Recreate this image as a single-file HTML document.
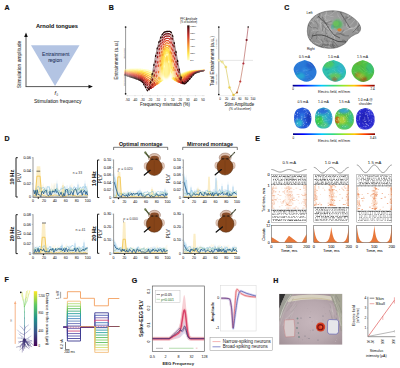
<!DOCTYPE html>
<html><head><meta charset="utf-8"><style>
html,body{margin:0;padding:0;background:#fff;width:400px;height:368px;overflow:hidden}
svg text{font-family:"Liberation Sans",sans-serif}
</style></head><body><svg width="400" height="368" viewBox="0 0 400 368" style="display:block"><defs><linearGradient id="bfade" x1="125" y1="0" x2="205" y2="0" gradientUnits="userSpaceOnUse"><stop offset="0" stop-color="#fff" stop-opacity="0.5"/><stop offset="0.22" stop-color="#fff" stop-opacity="1"/><stop offset="0.8" stop-color="#fff" stop-opacity="1"/><stop offset="1" stop-color="#fff" stop-opacity="0.6"/></linearGradient><mask id="bmask" maskUnits="userSpaceOnUse" x="120" y="20" width="90" height="80"><rect x="120" y="20" width="90" height="80" fill="url(#bfade)"/></mask><linearGradient id="hotg" x1="0" y1="1" x2="0" y2="0"><stop offset="0" stop-color="#ffffc8"/><stop offset="0.2" stop-color="#ffe449"/><stop offset="0.45" stop-color="#f58c2d"/><stop offset="0.7" stop-color="#c93329"/><stop offset="0.88" stop-color="#7d1419"/><stop offset="1" stop-color="#230606"/></linearGradient><filter id="bl1" x="-50%" y="-50%" width="200%" height="200%"><feGaussianBlur stdDeviation="1.2"/></filter><filter id="bl05" x="-50%" y="-50%" width="200%" height="200%"><feGaussianBlur stdDeviation="0.5"/></filter><filter id="bl2" x="-50%" y="-50%" width="200%" height="200%"><feGaussianBlur stdDeviation="2"/></filter><clipPath id="brclip"><path d="M307.3,31 C307.5,29.83 307.63,26.17 308.5,24 C309.37,21.83 310.92,19.67 312.5,18 C314.08,16.33 315.92,15.08 318,14 C320.08,12.92 322.5,12.03 325,11.5 C327.5,10.97 330.33,10.75 333,10.8 C335.67,10.85 338.5,11.18 341,11.8 C343.5,12.42 345.83,13.38 348,14.5 C350.17,15.62 352.25,17.08 354,18.5 C355.75,19.92 357.4,21.42 358.5,23 C359.6,24.58 360.52,26.42 360.6,28 C360.68,29.58 360.1,31.33 359,32.5 C357.9,33.67 355.67,34 354,35 C352.33,36 350.5,37.08 349,38.5 C347.5,39.92 347,42 345,43.5 C343,45 339.83,46.7 337,47.5 C334.17,48.3 331,48.47 328,48.3 C325,48.13 321.67,47.47 319,46.5 C316.33,45.53 313.78,44.08 312,42.5 C310.22,40.92 309.08,38.92 308.3,37 C307.52,35.08 307.47,32 307.3,31 Z"/></clipPath><radialGradient id="brg" cx="0.45" cy="0.4" r="0.7"><stop offset="0" stop-color="#a8a8a8"/><stop offset="0.7" stop-color="#929292"/><stop offset="1" stop-color="#767676"/></radialGradient><clipPath id="cb1"><path d="M304.7,59.9 C305.92,60.45 310.03,61.35 312,63.2 C313.97,65.05 316.17,68.47 316.5,71 C316.83,73.53 315.7,76.62 314,78.4 C312.3,80.18 308.97,81.77 306.3,81.7 C303.63,81.63 300.12,80.03 298,78 C295.88,75.97 293.72,72 293.6,69.5 C293.48,67 295.45,64.6 297.3,63 C299.15,61.4 303.47,60.42 304.7,59.9 Z"/></clipPath><clipPath id="cb2"><path d="M333.5,59.9 C334.83,60.5 339.42,61.65 341.5,63.5 C343.58,65.35 345.67,68.5 346,71 C346.33,73.5 345.33,76.72 343.5,78.5 C341.67,80.28 337.75,81.78 335,81.7 C332.25,81.62 329.12,79.95 327,78 C324.88,76.05 322.47,72.5 322.3,70 C322.13,67.5 324.13,64.68 326,63 C327.87,61.32 332.25,60.42 333.5,59.9 Z"/></clipPath><clipPath id="cb3"><path d="M362.7,59.9 C364,60.5 368.58,61.73 370.5,63.5 C372.42,65.27 374.03,68.08 374.2,70.5 C374.37,72.92 373.28,76.08 371.5,78 C369.72,79.92 366.17,81.92 363.5,82 C360.83,82.08 357.5,80.28 355.5,78.5 C353.5,76.72 351.67,73.72 351.5,71.3 C351.33,68.88 352.63,65.9 354.5,64 C356.37,62.1 361.33,60.58 362.7,59.9 Z"/></clipPath><linearGradient id="jetg" x1="0" y1="0" x2="1" y2="0"><stop offset="0" stop-color="#000082"/><stop offset="0.12" stop-color="#0000ff"/><stop offset="0.35" stop-color="#00c8ff"/><stop offset="0.5" stop-color="#3cdc78"/><stop offset="0.62" stop-color="#96e628"/><stop offset="0.75" stop-color="#ffc800"/><stop offset="0.88" stop-color="#ff3c00"/><stop offset="1" stop-color="#820000"/></linearGradient><clipPath id="cc1"><path d="M302.5,107.5 C303.42,107.83 306.58,108.25 308,109.5 C309.42,110.75 310.5,112.92 311,115 C311.5,117.08 311.5,120 311,122 C310.5,124 309.42,125.92 308,127 C306.58,128.08 304.33,128.5 302.5,128.5 C300.67,128.5 298.37,128.25 297,127 C295.63,125.75 294.72,123.17 294.3,121 C293.88,118.83 294.05,115.92 294.5,114 C294.95,112.08 295.67,110.58 297,109.5 C298.33,108.42 301.58,107.83 302.5,107.5 Z"/></clipPath><clipPath id="cc2"><path d="M323.5,107.5 C324.42,107.83 327.58,108.25 329,109.5 C330.42,110.75 331.5,112.92 332,115 C332.5,117.08 332.5,120 332,122 C331.5,124 330.42,125.92 329,127 C327.58,128.08 325.33,128.5 323.5,128.5 C321.67,128.5 319.37,128.25 318,127 C316.63,125.75 315.72,123.17 315.3,121 C314.88,118.83 315.05,115.92 315.5,114 C315.95,112.08 316.67,110.58 318,109.5 C319.33,108.42 322.58,107.83 323.5,107.5 Z"/></clipPath><clipPath id="cc3"><path d="M344.3,108 C345.25,108.33 348.47,108.67 350,110 C351.53,111.33 352.92,113.83 353.5,116 C354.08,118.17 354.08,121 353.5,123 C352.92,125 351.53,126.92 350,128 C348.47,129.08 346.22,129.5 344.3,129.5 C342.38,129.5 340.02,129.25 338.5,128 C336.98,126.75 335.73,124.17 335.2,122 C334.67,119.83 334.75,117 335.3,115 C335.85,113 337,111.17 338.5,110 C340,108.83 343.33,108.33 344.3,108 Z"/></clipPath><clipPath id="cc4"><path d="M365.3,108 C366.25,108.33 369.5,108.67 371,110 C372.5,111.33 373.75,113.83 374.3,116 C374.85,118.17 374.85,121 374.3,123 C373.75,125 372.5,126.92 371,128 C369.5,129.08 367.22,129.5 365.3,129.5 C363.38,129.5 361,129.25 359.5,128 C358,126.75 356.8,124.17 356.3,122 C355.8,119.83 355.97,117 356.5,115 C357.03,113 358.03,111.17 359.5,110 C360.97,108.83 364.33,108.33 365.3,108 Z"/></clipPath><clipPath id="eclip0"><rect x="271.3" y="185" width="35.3" height="24.5"/></clipPath><clipPath id="eclip1"><rect x="313.8" y="185" width="34.9" height="22"/></clipPath><clipPath id="eclip2"><rect x="356.8" y="186.5" width="35" height="24"/></clipPath><linearGradient id="virg" x1="0" y1="1" x2="0" y2="0"><stop offset="0" stop-color="#440154"/><stop offset="0.25" stop-color="#3b528b"/><stop offset="0.5" stop-color="#21918c"/><stop offset="0.75" stop-color="#5ec962"/><stop offset="1" stop-color="#fde725"/></linearGradient><clipPath id="gclip"><rect x="152.3" y="286" width="52" height="65.5"/></clipPath><clipPath id="hclip"><rect x="279.2" y="293.9" width="63" height="50.7"/></clipPath><radialGradient id="skin" cx="0.5" cy="0.55" r="0.65"><stop offset="0" stop-color="#c6b6bc"/><stop offset="0.6" stop-color="#b8a8ae"/><stop offset="1" stop-color="#a29298"/></radialGradient></defs><rect width="400" height="368" fill="#fff"/><text x="4.6" y="9.6" font-size="7" text-anchor="start" font-weight="bold" fill="#111" stroke="#111" stroke-width="0.2" style="">A</text><text x="57" y="28.4" font-size="5.69" text-anchor="middle" font-weight="bold" fill="#111" textLength="42" lengthAdjust="spacingAndGlyphs" stroke="#111" stroke-width="0.05" style="">Arnold tongues</text><polygon points="31,45.2 79.5,45.2 55,86" fill="#b3c4e3" stroke="none" stroke-width="0.5" /><text x="55.7" y="55.9" font-size="5.08" text-anchor="middle" font-weight="normal" fill="#26345c" textLength="27.4" lengthAdjust="spacingAndGlyphs" stroke="#26345c" stroke-width="0.06" style="">Entrainment</text><text x="55.1" y="61.5" font-size="4.96" text-anchor="middle" font-weight="normal" fill="#26345c" textLength="13.8" lengthAdjust="spacingAndGlyphs" stroke="#26345c" stroke-width="0.06" style="">region</text><line x1="26" y1="86.6" x2="26" y2="36" stroke="#222" stroke-width="0.75" /><polygon points="24.2,37 27.8,37 26,32.6" fill="#111" stroke="none" stroke-width="0.5" /><line x1="25.6" y1="86.6" x2="89" y2="86.6" stroke="#222" stroke-width="0.75" /><polygon points="88.5,84.8 88.5,88.4 92.9,86.6" fill="#111" stroke="none" stroke-width="0.5" /><text x="21" y="64.5" font-size="4.97" text-anchor="middle" font-weight="normal" fill="#2a2a2a" transform="rotate(-90 21 64.5)" textLength="47.5" lengthAdjust="spacingAndGlyphs" stroke="#2a2a2a" stroke-width="0.05" style="">Stimulation amplitude</text><text x="55.3" y="95.4" font-size="5.2" text-anchor="middle" font-weight="normal" fill="#222" stroke="#222" stroke-width="0.05" style="font-style:italic">f</text><text x="56.5" y="96.2" font-size="2.8" text-anchor="start" font-weight="normal" fill="#333" style="">0</text><text x="57.7" y="102.9" font-size="4.94" text-anchor="middle" font-weight="normal" fill="#2a2a2a" textLength="47.5" lengthAdjust="spacingAndGlyphs" stroke="#2a2a2a" stroke-width="0.05" style="">Stimulation frequency</text><text x="108.8" y="9.6" font-size="7" text-anchor="start" font-weight="bold" fill="#111" stroke="#111" stroke-width="0.2" style="">B</text><line x1="125.6" y1="27" x2="125.6" y2="93.8" stroke="#333" stroke-width="0.5" /><circle cx="125.6" cy="27" r="0.85" fill="#111" stroke="none" stroke-width="0.5" /><circle cx="125.6" cy="93.8" r="0.85" fill="#111" stroke="none" stroke-width="0.5" /><text x="117.6" y="60.2" font-size="4.9" text-anchor="middle" font-weight="normal" fill="#2a2a2a" transform="rotate(-90 117.6 60.2)" textLength="39.2" lengthAdjust="spacingAndGlyphs" stroke="#2a2a2a" stroke-width="0.05" style="">Entrainment (a.u.)</text><text x="125.2" y="53.5" font-size="2.5" text-anchor="middle" font-weight="normal" fill="#666" transform="rotate(-90 125.2 53.5)" textLength="11" lengthAdjust="spacingAndGlyphs" style="">Increased</text><text x="125.2" y="80" font-size="2.48" text-anchor="middle" font-weight="normal" fill="#666" transform="rotate(-90 125.2 80)" textLength="12" lengthAdjust="spacingAndGlyphs" style="">Decreased</text><text x="127.45" y="100.5" font-size="3.1" text-anchor="middle" font-weight="normal" fill="#333" stroke="#333" stroke-width="0.03" style="">-50</text><line x1="127.45" y1="95" x2="127.45" y2="96.2" stroke="#999" stroke-width="0.3" /><text x="135" y="100.5" font-size="3.1" text-anchor="middle" font-weight="normal" fill="#333" stroke="#333" stroke-width="0.03" style="">-40</text><line x1="135" y1="95" x2="135" y2="96.2" stroke="#999" stroke-width="0.3" /><text x="142.55" y="100.5" font-size="3.1" text-anchor="middle" font-weight="normal" fill="#333" stroke="#333" stroke-width="0.03" style="">-30</text><line x1="142.55" y1="95" x2="142.55" y2="96.2" stroke="#999" stroke-width="0.3" /><text x="150.1" y="100.5" font-size="3.1" text-anchor="middle" font-weight="normal" fill="#333" stroke="#333" stroke-width="0.03" style="">-20</text><line x1="150.1" y1="95" x2="150.1" y2="96.2" stroke="#999" stroke-width="0.3" /><text x="157.65" y="100.5" font-size="3.1" text-anchor="middle" font-weight="normal" fill="#333" stroke="#333" stroke-width="0.03" style="">-10</text><line x1="157.65" y1="95" x2="157.65" y2="96.2" stroke="#999" stroke-width="0.3" /><text x="165.2" y="100.5" font-size="3.1" text-anchor="middle" font-weight="normal" fill="#333" stroke="#333" stroke-width="0.03" style="">0</text><line x1="165.2" y1="95" x2="165.2" y2="96.2" stroke="#999" stroke-width="0.3" /><text x="172.75" y="100.5" font-size="3.1" text-anchor="middle" font-weight="normal" fill="#333" stroke="#333" stroke-width="0.03" style="">10</text><line x1="172.75" y1="95" x2="172.75" y2="96.2" stroke="#999" stroke-width="0.3" /><text x="180.3" y="100.5" font-size="3.1" text-anchor="middle" font-weight="normal" fill="#333" stroke="#333" stroke-width="0.03" style="">20</text><line x1="180.3" y1="95" x2="180.3" y2="96.2" stroke="#999" stroke-width="0.3" /><text x="187.85" y="100.5" font-size="3.1" text-anchor="middle" font-weight="normal" fill="#333" stroke="#333" stroke-width="0.03" style="">30</text><line x1="187.85" y1="95" x2="187.85" y2="96.2" stroke="#999" stroke-width="0.3" /><text x="195.4" y="100.5" font-size="3.1" text-anchor="middle" font-weight="normal" fill="#333" stroke="#333" stroke-width="0.03" style="">40</text><line x1="195.4" y1="95" x2="195.4" y2="96.2" stroke="#999" stroke-width="0.3" /><text x="202.95" y="100.5" font-size="3.1" text-anchor="middle" font-weight="normal" fill="#333" stroke="#333" stroke-width="0.03" style="">50</text><line x1="202.95" y1="95" x2="202.95" y2="96.2" stroke="#999" stroke-width="0.3" /><line x1="125.6" y1="95.6" x2="205" y2="95.6" stroke="#ccc" stroke-width="0.3" /><text x="165" y="105.8" font-size="4.5" text-anchor="middle" font-weight="normal" fill="#2a2a2a" textLength="50" lengthAdjust="spacingAndGlyphs" stroke="#2a2a2a" stroke-width="0.05" style="">Frequency mismatch (%)</text><ellipse cx="166.2" cy="62" rx="6" ry="15" fill="#ffd83a" stroke="none" stroke-width="0.5" filter="url(#bl1)" opacity="0.9"/><ellipse cx="166.2" cy="70" rx="3.2" ry="9" fill="#fff6a0" stroke="none" stroke-width="0.5" filter="url(#bl1)" opacity="0.9"/><g mask="url(#bmask)"><path d="M125,69.5 C127.5,69.45 135.33,68.78 140,69.2 C144.67,69.62 149.25,70.2 153,72 C156.75,73.8 160.75,80 162.5,80 C164.25,80 163.17,74.83 163.5,72 C163.83,69.17 164.2,65.42 164.5,63 C164.8,60.58 165.05,58.83 165.3,57.5 C165.55,56.17 165.75,55.5 166,55 C166.25,54.5 166.53,54.5 166.8,54.5 C167.07,54.5 167.27,53.92 167.6,55 C167.93,56.08 168.4,58.83 168.8,61 C169.2,63.17 169.47,65.08 170,68 C170.53,70.92 170.67,77.33 172,78.5 C173.33,79.67 175,76.25 178,75 C181,73.75 185.67,71.78 190,71 C194.33,70.22 201.67,70.42 204,70.3" stroke="#ffffc8" fill="none" stroke-width="0.45" stroke-linecap="round" stroke-linejoin="round"/><path d="M125 69.5h0M126.52 69.44L127.62 69.38M128.67 69.32L129.77 69.26M130.29 69.24L131.39 69.19M132 69.16L133.1 69.12M133.75 69.1L134.85 69.07M135.49 69.07L136.59 69.06M137.17 69.07L138.26 69.09M139.45 69.16L140.55 69.24M141.54 69.35L142.64 69.46M143.61 69.58L144.7 69.72M145.64 69.87L146.72 70.05M147.61 70.24L148.69 70.48M149.51 70.71L150.57 71.02M151.34 71.3L152.36 71.69M153.08 72.04L154.05 72.56M154.83 73.18L155.69 73.87M156.53 74.67L157.32 75.44M158.62 76.8L159.38 77.6M160.4 78.63L161.21 79.38M161.96 79.91L163.04 80.09M164.06 66.94L164.17 65.85M165.56 56.24L165.88 55.19M166.92 54.05L167.74 54.78M168.88 61.42L169.07 62.5M170.56 72.72L170.68 73.81M171.9 78.53L172.93 78.91M173.67 78.26L174.51 77.55M175.56 76.59L176.41 75.89M177.5 75.23L178.5 74.77M179.48 74.39L180.49 73.97M181.16 73.71L182.19 73.31M182.98 73.01L184.02 72.64M184.89 72.35L185.94 72.01M186.85 71.74L187.91 71.45M188.81 71.24L189.89 71.01M190.84 70.87L191.93 70.72M193.14 70.62L194.24 70.53M194.76 70.51L195.86 70.45M196.39 70.44L197.49 70.4M198.76 70.38L199.86 70.36M200.89 70.35L201.99 70.34M202.61 70.34L203.71 70.32" stroke="#ffffc8" fill="none" stroke-width="1.3" stroke-linecap="round"/><path d="M125,70.06 C127.5,70.11 135.5,69.79 140,70.36 C144.5,70.93 148.47,71.73 152,73.5 C155.53,75.27 159.45,81.25 161.2,81 C162.95,80.75 162.07,75.23 162.5,72 C162.93,68.77 163.41,64.33 163.8,61.6 C164.19,58.87 164.5,57.07 164.84,55.6 C165.18,54.13 165.53,53.37 165.86,52.8 C166.19,52.23 166.49,52.17 166.84,52.2 C167.19,52.23 167.55,51.73 167.98,53 C168.41,54.27 168.95,57.33 169.44,59.8 C169.93,62.27 170.29,64.58 170.9,67.8 C171.51,71.02 171.72,77.8 173.1,79.1 C174.48,80.4 176.28,76.9 179.2,75.6 C182.12,74.3 186.47,72.18 190.6,71.3 C194.73,70.42 201.77,70.48 204,70.32" stroke="#fff188" fill="none" stroke-width="0.45" stroke-linecap="round" stroke-linejoin="round"/><path d="M125 70.06h0M126.54 70.06L127.64 70.05M128.71 70.04L129.81 70.02M130.35 70.02L131.45 70.01M132.07 70.01L133.17 70.02M133.82 70.03L134.92 70.04M135.56 70.06L136.66 70.1M137.22 70.13L138.32 70.19M139.45 70.3L140.55 70.42M141.45 70.56L142.53 70.72M143.37 70.86L144.45 71.05M145.22 71.22L146.3 71.46M147.02 71.65L148.08 71.94M148.75 72.16L149.79 72.52M150.42 72.78L151.43 73.21M152.05 73.53L153.01 74.06M153.72 74.64L154.57 75.33M155.87 76.59L156.65 77.37M157.84 78.59L158.61 79.37M159.48 80.15L160.34 80.82M161.2 81.1L162.1 80.45M163.23 66.06L163.36 64.96M164.81 55.71L165.08 54.65M166.04 52.29L167.13 52.11M168.12 53.42L168.39 54.49M169.76 61.47L169.95 62.55M171.4 71.55L171.52 72.65M172.74 78.68L173.46 79.52M174.27 79.29L175.2 78.71M176.11 77.84L176.93 77.11M177.9 76.35L178.82 75.75M179.62 75.41L180.62 74.96M181.67 74.49L182.67 74.04M183.35 73.75L184.36 73.32M185.13 73.02L186.15 72.62M186.96 72.34L188.01 71.98M188.83 71.75L189.89 71.45M190.7 71.28L191.78 71.07M192.82 70.94L193.91 70.81M195.13 70.71L196.22 70.63M197.46 70.57L198.56 70.51M199.67 70.48L200.77 70.44M201.6 70.42L202.7 70.38M203.45 70.35L204.55 70.29" stroke="#fff188" fill="none" stroke-width="1.3" stroke-linecap="round"/><path d="M125,70.62 C127.5,70.77 135.67,70.79 140,71.52 C144.33,72.25 147.68,73.25 151,75 C154.32,76.75 158.15,82.5 159.9,82 C161.65,81.5 160.97,75.63 161.5,72 C162.03,68.37 162.62,63.25 163.1,60.2 C163.58,57.15 163.94,55.3 164.38,53.7 C164.82,52.1 165.3,51.23 165.72,50.6 C166.14,49.97 166.44,49.83 166.88,49.9 C167.32,49.97 167.83,49.55 168.36,51 C168.89,52.45 169.51,55.83 170.08,58.6 C170.65,61.37 171.11,64.08 171.8,67.6 C172.49,71.12 172.77,78.27 174.2,79.7 C175.63,81.13 177.57,77.55 180.4,76.2 C183.23,74.85 187.27,72.58 191.2,71.6 C195.13,70.62 201.87,70.55 204,70.34" stroke="#ffe449" fill="none" stroke-width="0.45" stroke-linecap="round" stroke-linejoin="round"/><path d="M125 70.62h0M126.55 70.68L127.65 70.72M128.75 70.75L129.85 70.78M130.4 70.8L131.5 70.84M132.14 70.87L133.24 70.91M133.9 70.95L135 71.01M135.63 71.05L136.73 71.13M137.28 71.18L138.37 71.29M139.46 71.44L140.54 71.6M141.35 71.76L142.43 71.97M143.12 72.14L144.2 72.39M144.81 72.56L145.87 72.87M146.42 73.05L147.46 73.41M148.49 73.82L149.5 74.25M150.51 74.75L151.49 75.25M152.61 76.1L153.45 76.8M154.67 77.98L155.45 78.75M156.57 79.87L157.36 80.64M158.17 81.32L159.07 81.95M159.95 82.06L160.77 81.33M161.92 68.97L162.06 67.88M163.53 57.6L163.73 56.51M165.01 51.86L165.51 50.88M166.33 49.83L167.43 49.97M168.36 50.97L168.69 52.01M170.05 58.48L170.28 59.55M171.7 67.06L171.9 68.14M173.32 77.7L173.61 78.76M174.57 80.05L175.67 79.98M176.36 79.35L177.19 78.64M178.02 77.88L178.86 77.16M179.91 76.45L180.89 75.95M181.74 75.54L182.73 75.05M183.8 74.52L184.79 74.04M185.45 73.73L186.45 73.28M187.16 72.98L188.18 72.56M188.91 72.3L189.95 71.94M190.67 71.74L191.73 71.46M192.59 71.31L193.68 71.13M194.75 71L195.84 70.87M196.99 70.78L198.08 70.69M199.16 70.63L200.25 70.56M201.1 70.52L202.2 70.46M203.1 70.41L204.2 70.33" stroke="#ffe449" fill="none" stroke-width="1.3" stroke-linecap="round"/><path d="M125,71.18 C127.5,71.43 135.83,71.79 140,72.68 C144.17,73.57 146.9,74.78 150,76.5 C153.1,78.22 156.85,83.75 158.6,83 C160.35,82.25 159.87,76.03 160.5,72 C161.13,67.97 161.83,62.17 162.4,58.8 C162.97,55.43 163.39,53.53 163.92,51.8 C164.45,50.07 165.08,49.1 165.58,48.4 C166.08,47.7 166.39,47.5 166.92,47.6 C167.45,47.7 168.11,47.37 168.74,49 C169.37,50.63 170.06,54.33 170.72,57.4 C171.38,60.47 171.94,63.58 172.7,67.4 C173.46,71.22 173.82,78.73 175.3,80.3 C176.78,81.87 178.85,78.2 181.6,76.8 C184.35,75.4 188.07,72.97 191.8,71.9 C195.53,70.83 201.97,70.62 204,70.36" stroke="#fcc337" fill="none" stroke-width="0.45" stroke-linecap="round" stroke-linejoin="round"/><path d="M125 71.18h0M126.57 71.31L127.67 71.39M128.79 71.46L129.89 71.54M130.46 71.58L131.56 71.66M132.21 71.72L133.3 71.81M133.97 71.87L135.07 71.98M135.7 72.05L136.8 72.17M137.33 72.24L138.42 72.39M139.46 72.57L140.54 72.79M141.25 72.97L142.32 73.24M142.89 73.41L143.94 73.73M144.89 74.08L145.91 74.48M146.76 74.85L147.76 75.31M148.59 75.74L149.57 76.25M150.5 76.8L151.4 77.44M152.49 78.43L153.3 79.18M154.41 80.29L155.2 81.06M156.13 81.9L156.98 82.6M157.77 83.03L158.87 83.1M159.92 79.28L160.02 78.18M161.5 64.99L161.65 63.9M163.06 55.23L163.29 54.15M164.59 50.04L165.11 49.07M165.96 47.74L167.02 47.45M167.77 47.62L168.56 48.38M169.7 52.58L169.94 53.66M171.38 60.61L171.59 61.69M173.05 69.51L173.2 70.6M174.67 79.15L175.1 80.17M175.99 80.74L177.06 80.49M177.88 79.75L178.71 79.02M179.61 78.2L180.45 77.5M181.53 76.84L182.51 76.33M183.35 75.86L184.31 75.33M185.33 74.77L186.3 74.24M187.43 73.66L188.42 73.18M189.06 72.9L190.08 72.47M190.72 72.25L191.76 71.89M192.46 71.73L193.53 71.48M194.45 71.33L195.54 71.16M196.58 71.03L197.67 70.9M198.68 70.81L199.78 70.71M200.63 70.65L201.72 70.56M202.26 70.52L203.36 70.43" stroke="#fcc337" fill="none" stroke-width="1.3" stroke-linecap="round"/><path d="M125,71.74 C127.5,72.09 136,72.8 140,73.84 C144,74.88 146.12,76.31 149,78 C151.88,79.69 155.55,85 157.3,84 C159.05,83 158.77,76.43 159.5,72 C160.23,67.57 161.04,61.08 161.7,57.4 C162.36,53.72 162.84,51.77 163.46,49.9 C164.08,48.03 164.86,46.97 165.44,46.2 C166.02,45.43 166.35,45.17 166.96,45.3 C167.57,45.43 168.39,45.18 169.12,47 C169.85,48.82 170.61,52.83 171.36,56.2 C172.11,59.57 172.76,63.08 173.6,67.2 C174.44,71.32 174.87,79.2 176.4,80.9 C177.93,82.6 180.13,78.85 182.8,77.4 C185.47,75.95 188.87,73.37 192.4,72.2 C195.93,71.03 202.07,70.68 204,70.38" stroke="#f79e30" fill="none" stroke-width="0.45" stroke-linecap="round" stroke-linejoin="round"/><path d="M125 71.74h0M126.59 71.93L127.68 72.05M128.83 72.18L129.93 72.3M130.52 72.37L131.61 72.49M132.28 72.57L133.37 72.7M134.05 72.8L135.14 72.94M135.78 73.04L136.86 73.2M137.39 73.3L138.47 73.49M139.47 73.71L140.53 73.97M141.16 74.17L142.21 74.5M143.11 74.86L144.13 75.28M144.84 75.64L145.82 76.14M146.46 76.51L147.42 77.06M148.1 77.47L149.05 78.03M149.91 78.63L150.77 79.32M151.8 80.3L152.6 81.06M153.62 82.05L154.42 82.8M155.21 83.42L156.13 84.03M156.79 84.19L157.81 83.81M158.87 78.4L158.96 77.3M160.44 65.76L160.59 64.67M162.06 55.48L162.27 54.4M163.64 49.38L164.06 48.36M165.19 46.52L165.86 45.65M166.61 45.25L167.69 45.41M168.49 45.85L169.08 46.78M170.34 51.49L170.58 52.57M172.01 59.27L172.23 60.35M173.62 67.3L173.83 68.38M175.31 78.09L175.56 79.16M176.6 81.18L177.67 81.47M178.42 80.92L179.3 80.26M180.12 79.49L180.94 78.75M181.95 77.94L182.86 77.33M183.57 76.96L184.52 76.4M185.38 75.86L186.31 75.28M187.29 74.68L188.24 74.12M189.3 73.55L190.27 73.05M191.36 72.59L192.38 72.19M193 72.02L194.06 71.73M194.89 71.57L195.97 71.36M196.91 71.22L198 71.06M198.91 70.95L200 70.82M200.76 70.74L201.86 70.63M202.75 70.54L203.85 70.41" stroke="#f79e30" fill="none" stroke-width="1.3" stroke-linecap="round"/><path d="M125,72.3 C127.5,72.75 136.17,73.8 140,75 C143.83,76.2 145.33,77.83 148,79.5 C150.67,81.17 154.25,86.25 156,85 C157.75,83.75 157.67,76.83 158.5,72 C159.33,67.17 160.25,60 161,56 C161.75,52 162.28,50 163,48 C163.72,46 164.63,44.83 165.3,44 C165.97,43.17 166.3,42.83 167,43 C167.7,43.17 168.67,43 169.5,45 C170.33,47 171.17,51.33 172,55 C172.83,58.67 173.58,62.58 174.5,67 C175.42,71.42 175.92,79.67 177.5,81.5 C179.08,83.33 181.42,79.5 184,78 C186.58,76.5 189.67,73.77 193,72.5 C196.33,71.23 202.17,70.75 204,70.4" stroke="#ef782d" fill="none" stroke-width="0.45" stroke-linecap="round" stroke-linejoin="round"/><path d="M125 72.3h0M126.61 72.56L127.7 72.72M128.88 72.89L129.96 73.05M130.58 73.15L131.66 73.31M132.35 73.42L133.43 73.6M134.13 73.72L135.21 73.91M135.85 74.03L136.93 74.24M138.18 74.52L139.25 74.77M140.04 75.01L141.08 75.35M141.99 75.74L142.99 76.21M143.97 76.78L144.9 77.37M145.71 77.95L146.61 78.58M147.54 79.2L148.46 79.8M149.28 80.47L150.1 81.2M151.07 82.13L151.86 82.9M152.78 83.73L153.62 84.44M154.57 85.02L155.63 85.32M156.65 84.14L157.06 83.12M158.41 72.54L158.59 71.46M160.08 61.67L160.24 60.58M161.7 52.57L161.95 51.5M163.23 47.4L163.68 46.39M164.75 44.69L165.43 43.83M166.16 42.97L167.26 42.95M167.86 43.11L168.81 43.67M169.84 45.93L170.16 46.98M171.51 52.78L171.74 53.85M173.23 60.78L173.45 61.86M174.93 69.48L175.09 70.57M176.52 79.18L176.82 80.24M177.99 81.95L179.09 82.01M179.95 81.34L180.8 80.66M181.71 79.81L182.53 79.07M183.53 78.29L184.47 77.71M185.15 77.28L186.06 76.67M186.87 76.1L187.77 75.47M188.68 74.85L189.6 74.25M190.55 73.68L191.51 73.15M192.49 72.71L193.51 72.29M194.12 72.13L195.18 71.83M195.96 71.67L197.04 71.44M197.88 71.3L198.97 71.12M199.75 71L200.84 70.85M201.43 70.77L202.52 70.62M203.15 70.54L204.24 70.37" stroke="#ef782d" fill="none" stroke-width="1.3" stroke-linecap="round"/><path d="M125,72.88 C127.5,73.41 136.28,74.78 140,76.08 C143.72,77.38 144.89,79.04 147.3,80.7 C149.71,82.36 152.81,87.39 154.46,86.04 C156.11,84.69 156.28,77.64 157.2,72.6 C158.12,67.56 159.13,60.1 159.96,55.8 C160.79,51.5 161.39,49.12 162.2,46.8 C163.01,44.48 164.02,42.92 164.84,41.9 C165.66,40.88 166.26,40.55 167.12,40.7 C167.98,40.85 169.05,40.52 170,42.8 C170.95,45.08 171.9,50.33 172.8,54.4 C173.7,58.47 174.43,62.63 175.4,67.2 C176.37,71.77 177.03,79.9 178.6,81.8 C180.17,83.7 182.33,80.12 184.8,78.6 C187.27,77.08 190.2,74.06 193.4,72.7 C196.6,71.34 202.23,70.8 204,70.42" stroke="#e2502d" fill="none" stroke-width="0.45" stroke-linecap="round" stroke-linejoin="round"/><path d="M125 72.88h0M126.62 73.19L127.7 73.39M128.91 73.61L129.99 73.81M130.62 73.92L131.7 74.12M132.4 74.26L133.48 74.47M134.18 74.62L135.26 74.84M135.9 74.98L136.98 75.23M138.21 75.54L139.28 75.83M140.02 76.09L141.06 76.47M141.88 76.86L142.86 77.37M143.69 77.93L144.59 78.58M145.54 79.36L146.4 80.05M147.23 80.64L148.11 81.3M149.22 82.44L149.98 83.24M151.16 84.49L151.94 85.26M152.81 85.93L153.81 86.4M154.87 85.57L155.35 84.58M156.65 76.35L156.79 75.26M158.24 66.29L158.41 65.2M159.86 56.34L160.06 55.26M161.47 49.11L161.78 48.05M163 44.86L163.49 43.88M164.61 42.18L165.31 41.33M166.08 40.72L167.18 40.61M167.7 40.72L168.77 40.97M169.61 41.99L170.1 42.97M171.44 48.03L171.68 49.11M173.08 55.7L173.31 56.78M174.74 63.97L174.95 65.04M176.41 73.22L176.58 74.31M177.95 80.54L178.37 81.56M179.34 82.37L180.43 82.26M181.26 81.57L182.1 80.86M182.95 80.06L183.77 79.33M184.71 78.66L185.64 78.07M186.71 77.25L187.57 76.58M188.39 75.93L189.26 75.25M190.15 74.6L191.05 73.97M191.97 73.42L192.93 72.89M193.91 72.5L194.95 72.13M195.63 71.96L196.69 71.68M197.47 71.53L198.54 71.31M199.3 71.18L200.38 71M200.99 70.91L202.08 70.74M202.82 70.63L203.9 70.45" stroke="#e2502d" fill="none" stroke-width="1.3" stroke-linecap="round"/><path d="M125,73.46 C127.5,74.08 136.4,75.75 140,77.16 C143.6,78.57 144.45,80.25 146.6,81.9 C148.75,83.55 151.37,88.53 152.92,87.08 C154.47,85.63 154.9,78.45 155.9,73.2 C156.9,67.95 158,60.2 158.92,55.6 C159.84,51 160.49,48.23 161.4,45.6 C162.31,42.97 163.41,41 164.38,39.8 C165.35,38.6 166.22,38.27 167.24,38.4 C168.26,38.53 169.44,38.03 170.5,40.6 C171.56,43.17 172.63,49.33 173.6,53.8 C174.57,58.27 175.28,62.68 176.3,67.4 C177.32,72.12 178.15,80.13 179.7,82.1 C181.25,84.07 183.25,80.73 185.6,79.2 C187.95,77.67 190.73,74.36 193.8,72.9 C196.87,71.44 202.3,70.85 204,70.44" stroke="#c93329" fill="none" stroke-width="0.45" stroke-linecap="round" stroke-linejoin="round"/><path d="M125 73.46h0M126.64 73.83L127.71 74.06M128.94 74.32L130.01 74.56M130.66 74.7L131.73 74.93M132.45 75.1L133.52 75.34M134.24 75.51L135.31 75.77M135.96 75.94L137.02 76.21M138.25 76.57L139.3 76.89M140.01 77.16L141.03 77.58M141.77 77.98L142.72 78.54M143.7 79.32L144.53 80.04M145.58 81.04L146.4 81.77M147.21 82.44L147.98 83.23M148.96 84.43L149.66 85.28M150.56 86.28L151.37 87.03M152.16 87.42L153.2 87.08M154.24 83.62L154.46 82.54M155.95 72.94L156.15 71.85M157.66 62.81L157.84 61.73M159.33 53.58L159.56 52.51M160.97 46.92L161.3 45.87M162.61 42.65L163.12 41.67M164.17 40.05L164.88 39.2M165.69 38.6L166.74 38.3M167.32 38.42L168.42 38.45M169.11 38.66L169.94 39.38M170.98 42L171.29 43.06M172.75 49.68L172.97 50.75M174.44 57.95L174.65 59.03M176.04 66.16L176.26 67.23M177.7 75.24L177.9 76.32M179.22 81.27L179.72 82.25M180.68 82.75L181.75 82.51M182.54 81.81L183.37 81.09M184.15 80.35L184.98 79.63M185.88 79.02L186.76 78.36M187.81 77.46L188.63 76.73M189.43 76.02L190.26 75.3M191.12 74.62L191.99 73.95M192.86 73.4L193.82 72.86M194.8 72.48L195.84 72.12M196.5 71.94L197.57 71.66M198.28 71.51L199.36 71.28M200.02 71.16L201.1 70.96M202.04 70.81L203.12 70.62" stroke="#c93329" fill="none" stroke-width="1.3" stroke-linecap="round"/><path d="M125,74.04 C127.5,74.74 136.52,76.73 140,78.24 C143.48,79.75 144,81.45 145.9,83.1 C147.8,84.75 149.93,89.67 151.38,88.12 C152.83,86.57 153.52,79.25 154.6,73.8 C155.68,68.35 156.88,60.3 157.88,55.4 C158.88,50.5 159.59,47.35 160.6,44.4 C161.61,41.45 162.79,39.08 163.92,37.7 C165.05,36.32 166.18,35.98 167.36,36.1 C168.54,36.22 169.83,35.55 171,38.4 C172.17,41.25 173.37,48.33 174.4,53.2 C175.43,58.07 176.13,62.73 177.2,67.6 C178.27,72.47 179.27,80.37 180.8,82.4 C182.33,84.43 184.17,81.35 186.4,79.8 C188.63,78.25 191.27,74.66 194.2,73.1 C197.13,71.54 202.37,70.9 204,70.46" stroke="#a32121" fill="none" stroke-width="0.45" stroke-linecap="round" stroke-linejoin="round"/><path d="M125 74.04h0M126.65 74.47L127.72 74.73M128.97 75.04L130.04 75.31M130.7 75.47L131.77 75.74M132.5 75.93L133.57 76.21M134.3 76.41L135.36 76.7M136.01 76.89L137.07 77.2M138.28 77.6L139.32 77.95M140 78.24L141 78.7M141.67 79.1L142.58 79.71M143.4 80.47L144.16 81.26M145.23 82.47L146.02 83.23M147.02 84.36L147.68 85.24M148.75 86.74L149.43 87.6M150.38 88.43L151.47 88.37M152.54 85.24L152.8 84.17M154.19 76.03L154.38 74.94M155.84 66.92L156.03 65.84M157.47 57.5L157.68 56.42M159.11 49.7L159.37 48.63M160.72 44.05L161.09 43.02M162.3 40.29L162.81 39.32M163.89 37.72L164.63 36.91M165.44 36.38L166.49 36.04M167.17 36.1L168.27 36.13M168.85 36.1L169.88 36.5M170.78 37.9L171.22 38.9M172.64 44.51L172.87 45.58M174.29 52.66L174.51 53.74M175.95 61.29L176.15 62.37M177.57 69.42L177.78 70.5M179.23 77.96L179.49 79.03M180.67 82.25L181.39 83.08M182.3 83.05L183.28 82.57M184.09 81.8L184.9 81.06M185.96 80.12L186.84 79.48M187.75 78.69L188.55 77.94M189.65 76.84L190.43 76.07M191.23 75.31L192.05 74.57M192.88 73.94L193.78 73.31M194.64 72.88L195.65 72.44M196.77 72.08L197.83 71.77M198.48 71.62L199.55 71.36M200.15 71.24L201.23 71.02M202.1 70.86L203.18 70.65" stroke="#a32121" fill="none" stroke-width="1.3" stroke-linecap="round"/><path d="M125,74.62 C127.5,75.4 136.63,77.71 140,79.32 C143.37,80.93 143.56,82.66 145.2,84.3 C146.84,85.94 148.49,90.81 149.84,89.16 C151.19,87.51 152.13,80.06 153.3,74.4 C154.47,68.74 155.76,60.4 156.84,55.2 C157.92,50 158.7,46.47 159.8,43.2 C160.9,39.93 162.18,37.17 163.46,35.6 C164.74,34.03 166.14,33.7 167.48,33.8 C168.82,33.9 170.21,33.07 171.5,36.2 C172.79,39.33 174.1,47.33 175.2,52.6 C176.3,57.87 176.98,62.78 178.1,67.8 C179.22,72.82 180.38,80.6 181.9,82.7 C183.42,84.8 185.08,81.97 187.2,80.4 C189.32,78.83 191.8,74.95 194.6,73.3 C197.4,71.65 202.43,70.95 204,70.48" stroke="#6e1116" fill="none" stroke-width="0.45" stroke-linecap="round" stroke-linejoin="round"/><path d="M125 74.62h0M126.67 75.11L127.73 75.4M129 75.76L130.06 76.05M130.75 76.25L131.8 76.55M132.55 76.77L133.61 77.08M134.35 77.31L135.4 77.63M136.06 77.84L137.11 78.19M138.32 78.62L139.34 79.01M139.99 79.32L140.97 79.81M141.88 80.44L142.72 81.15M143.67 82.36L144.31 83.25M145.35 84.45L146.03 85.31M147.11 87.12L147.68 88.06M148.51 89.19L149.48 89.71M150.42 88.05L150.79 87.02M152.2 80.31L152.39 79.23M153.91 71.27L154.11 70.19M155.54 62.11L155.74 61.02M157.19 53.51L157.42 52.43M158.88 46.25L159.17 45.19M160.46 41.37L160.86 40.34M162.05 37.8L162.58 36.83M163.65 35.36L164.44 34.59M165.13 34.19L166.17 33.81M166.73 33.78L167.83 33.8M168.35 33.77L169.45 33.78M170.13 34.13L170.91 34.9M172.12 38.07L172.42 39.13M173.87 45.85L174.08 46.93M175.56 54.41L175.77 55.49M177.23 63.51L177.43 64.59M178.84 71.41L179.06 72.49M180.48 78.97L180.76 80.03M181.95 82.82L182.77 83.56M183.59 83.38L184.54 82.83M185.29 82.09L186.09 81.34M187.09 80.49L187.95 79.81M188.83 78.89L189.58 78.08M190.65 76.88L191.39 76.06M192.55 74.89L193.36 74.15M194.14 73.59L195.06 73.01M195.99 72.62L197.01 72.22M197.59 72.04L198.64 71.72M199.23 71.58L200.3 71.31M201.27 71.1L202.35 70.87M202.9 70.75L203.97 70.51" stroke="#6e1116" fill="none" stroke-width="1.3" stroke-linecap="round"/><path d="M125,75.2 C127.5,76.07 136.75,78.68 140,80.4 C143.25,82.12 143.12,83.87 144.5,85.5 C145.88,87.13 147.05,91.95 148.3,90.2 C149.55,88.45 150.75,80.87 152,75 C153.25,69.13 154.63,60.5 155.8,55 C156.97,49.5 157.8,45.58 159,42 C160.2,38.42 161.57,35.25 163,33.5 C164.43,31.75 166.1,31.42 167.6,31.5 C169.1,31.58 170.6,30.58 172,34 C173.4,37.42 174.83,46.33 176,52 C177.17,57.67 177.83,62.83 179,68 C180.17,73.17 181.5,80.83 183,83 C184.5,85.17 186,82.58 188,81 C190,79.42 192.33,75.25 195,73.5 C197.67,71.75 202.5,71 204,70.5" stroke="#230606" fill="none" stroke-width="0.45" stroke-linecap="round" stroke-linejoin="round"/><path d="M125 75.2h0M126.68 75.74L127.73 76.07M129.03 76.48L130.08 76.8M130.79 77.03L131.84 77.36M132.61 77.61L133.65 77.95M134.41 78.2L135.45 78.56M136.12 78.8L137.15 79.17M138.35 79.65L139.37 80.07M139.98 80.39L140.94 80.93M141.75 81.57L142.54 82.33M143.54 84.03L144.08 84.99M145.25 86.68L145.75 87.66M146.84 89.84L147.54 90.69M148.65 89.55L149.06 88.53M150.41 82.92L150.63 81.84M152.08 74.64L152.3 73.56M153.83 65.4L154.03 64.32M155.51 56.39L155.73 55.31M157.11 48.96L157.36 47.89M158.83 42.52L159.17 41.48M160.49 38.01L160.93 37M162.06 34.84L162.65 33.92M163.68 32.77L164.55 32.1M165.22 31.82L166.27 31.51M166.82 31.49L167.92 31.5M168.62 31.44L169.72 31.41M170.54 31.8L171.33 32.56M172.47 35.35L172.79 36.41M174.18 42.63L174.4 43.71M175.89 51.46L176.11 52.54M177.54 60.44L177.73 61.52M179.24 69.08L179.47 70.15M180.95 76.93L181.2 78M182.53 82.14L183.02 83.13M184.06 83.88L185.14 83.67M185.92 82.92L186.72 82.16M187.58 81.35L188.42 80.65M189.54 79.44L190.24 78.59M191.26 77.3L191.95 76.45M193.06 75.19L193.82 74.41M194.95 73.53L195.88 72.96M196.81 72.57L197.83 72.16M198.89 71.83L199.94 71.52M200.9 71.28L201.97 71.02M202.58 70.88L203.65 70.61" stroke="#230606" fill="none" stroke-width="1.3" stroke-linecap="round"/></g><rect x="187.2" y="25.4" width="2.3" height="34.8" fill="url(#hotg)" stroke="none" stroke-width="0.5" /><text x="188.7" y="19.6" font-size="2.55" text-anchor="middle" font-weight="normal" fill="#333" textLength="17" lengthAdjust="spacingAndGlyphs" stroke="#333" stroke-width="0.03" style="">PFC Amplitude</text><text x="188.7" y="22.6" font-size="2.55" text-anchor="middle" font-weight="normal" fill="#333" textLength="17" lengthAdjust="spacingAndGlyphs" stroke="#333" stroke-width="0.03" style="">(% of baseline)</text><text x="190.3" y="26.8" font-size="2.4" text-anchor="start" font-weight="normal" fill="#444" stroke="#444" stroke-width="0.02" style="">100%</text><text x="190.3" y="33.55" font-size="2.4" text-anchor="start" font-weight="normal" fill="#444" stroke="#444" stroke-width="0.02" style="">80%</text><text x="190.3" y="40.3" font-size="2.4" text-anchor="start" font-weight="normal" fill="#444" stroke="#444" stroke-width="0.02" style="">60%</text><text x="190.3" y="47.05" font-size="2.4" text-anchor="start" font-weight="normal" fill="#444" stroke="#444" stroke-width="0.02" style="">40%</text><text x="190.3" y="53.8" font-size="2.4" text-anchor="start" font-weight="normal" fill="#444" stroke="#444" stroke-width="0.02" style="">20%</text><text x="190.3" y="60.55" font-size="2.4" text-anchor="start" font-weight="normal" fill="#444" stroke="#444" stroke-width="0.02" style="">0%</text><line x1="218.8" y1="27" x2="218.8" y2="94.5" stroke="#333" stroke-width="0.5" /><circle cx="218.8" cy="27" r="0.85" fill="#111" stroke="none" stroke-width="0.5" /><circle cx="218.8" cy="94.5" r="0.85" fill="#111" stroke="none" stroke-width="0.5" /><text x="213.5" y="61" font-size="4.81" text-anchor="middle" font-weight="normal" fill="#2a2a2a" transform="rotate(-90 213.5 61)" textLength="50" lengthAdjust="spacingAndGlyphs" stroke="#2a2a2a" stroke-width="0.05" style="">Total Entrainment (a.u.)</text><text x="217" y="43.5" font-size="2.3" text-anchor="middle" font-weight="normal" fill="#666" transform="rotate(-90 217 43.5)" style="">Increased</text><text x="217" y="79" font-size="2.3" text-anchor="middle" font-weight="normal" fill="#666" transform="rotate(-90 217 79)" style="">Decreased</text><line x1="218.8" y1="60.4" x2="253" y2="60.4" stroke="#c8c8c8" stroke-width="0.45" /><line x1="218.8" y1="95.7" x2="253" y2="95.7" stroke="#ccc" stroke-width="0.35" /><text x="220" y="100.4" font-size="3" text-anchor="middle" font-weight="normal" fill="#333" stroke="#333" stroke-width="0.03" style="">0</text><text x="226.6" y="100.4" font-size="3" text-anchor="middle" font-weight="normal" fill="#333" stroke="#333" stroke-width="0.03" style="">20</text><text x="233.2" y="100.4" font-size="3" text-anchor="middle" font-weight="normal" fill="#333" stroke="#333" stroke-width="0.03" style="">40</text><text x="239.8" y="100.4" font-size="3" text-anchor="middle" font-weight="normal" fill="#333" stroke="#333" stroke-width="0.03" style="">60</text><text x="246.4" y="100.4" font-size="3" text-anchor="middle" font-weight="normal" fill="#333" stroke="#333" stroke-width="0.03" style="">80</text><text x="253" y="100.4" font-size="3" text-anchor="middle" font-weight="normal" fill="#333" stroke="#333" stroke-width="0.03" style="">100</text><text x="239.4" y="106.3" font-size="4.45" text-anchor="middle" font-weight="normal" fill="#2a2a2a" textLength="29.7" lengthAdjust="spacingAndGlyphs" stroke="#2a2a2a" stroke-width="0.05" style="">Stim Amplitude</text><text x="240" y="110" font-size="3.3" text-anchor="middle" font-weight="normal" fill="#333" textLength="22" lengthAdjust="spacingAndGlyphs" stroke="#333" stroke-width="0.03" style="font-style:italic">(% of baseline)</text><line x1="219" y1="60.4" x2="222.3" y2="62" stroke="#c8c85a" stroke-width="0.6" stroke-linecap="round"/><line x1="222.3" y1="62" x2="225.8" y2="67" stroke="#cec552" stroke-width="0.6" stroke-linecap="round"/><line x1="225.8" y1="67" x2="229.5" y2="87.5" stroke="#d3c249" stroke-width="0.6" stroke-linecap="round"/><line x1="229.5" y1="87.5" x2="233.5" y2="95" stroke="#d9c041" stroke-width="0.6" stroke-linecap="round"/><line x1="233.5" y1="95" x2="237" y2="92.5" stroke="#d5a743" stroke-width="0.6" stroke-linecap="round"/><line x1="237" y1="92.5" x2="240.3" y2="81.5" stroke="#c6744f" stroke-width="0.6" stroke-linecap="round"/><line x1="240.3" y1="81.5" x2="243.4" y2="63.5" stroke="#b9624c" stroke-width="0.6" stroke-linecap="round"/><line x1="243.4" y1="63.5" x2="246.6" y2="40" stroke="#ac4f49" stroke-width="0.6" stroke-linecap="round"/><line x1="246.6" y1="40" x2="248.2" y2="27" stroke="#a03c46" stroke-width="0.6" stroke-linecap="round"/><circle cx="219" cy="60.4" r="1.1" fill="#fffbe0" stroke="#d8c860" stroke-width="0.35" /><circle cx="222.3" cy="62" r="1.1" fill="#f8f0a0" stroke="#d8c860" stroke-width="0.35" /><circle cx="225.8" cy="67" r="1.1" fill="#f2e060" stroke="#d8c860" stroke-width="0.35" /><circle cx="229.5" cy="87.5" r="1.1" fill="#f0d040" stroke="#d8c860" stroke-width="0.35" /><circle cx="233.5" cy="95" r="1.1" fill="#e8c030" stroke="#d8c860" stroke-width="0.35" /><circle cx="237" cy="92.5" r="1.1" fill="#a86030" stroke="none" stroke-width="0.35" /><circle cx="240.3" cy="81.5" r="1.1" fill="#c03a3a" stroke="none" stroke-width="0.35" /><circle cx="243.4" cy="63.5" r="1.1" fill="#b02a3a" stroke="none" stroke-width="0.35" /><circle cx="246.6" cy="40" r="1.1" fill="#7a1a28" stroke="none" stroke-width="0.35" /><circle cx="248.2" cy="27" r="0.8" fill="#222" stroke="none" stroke-width="0.35" /><text x="284.2" y="9.8" font-size="7" text-anchor="start" font-weight="bold" fill="#111" stroke="#111" stroke-width="0.2" style="">C</text><path d="M307.3,31 C307.5,29.83 307.63,26.17 308.5,24 C309.37,21.83 310.92,19.67 312.5,18 C314.08,16.33 315.92,15.08 318,14 C320.08,12.92 322.5,12.03 325,11.5 C327.5,10.97 330.33,10.75 333,10.8 C335.67,10.85 338.5,11.18 341,11.8 C343.5,12.42 345.83,13.38 348,14.5 C350.17,15.62 352.25,17.08 354,18.5 C355.75,19.92 357.4,21.42 358.5,23 C359.6,24.58 360.52,26.42 360.6,28 C360.68,29.58 360.1,31.33 359,32.5 C357.9,33.67 355.67,34 354,35 C352.33,36 350.5,37.08 349,38.5 C347.5,39.92 347,42 345,43.5 C343,45 339.83,46.7 337,47.5 C334.17,48.3 331,48.47 328,48.3 C325,48.13 321.67,47.47 319,46.5 C316.33,45.53 313.78,44.08 312,42.5 C310.22,40.92 309.08,38.92 308.3,37 C307.52,35.08 307.47,32 307.3,31 Z" stroke="#4a4a4a" fill="url(#brg)" stroke-width="0.5" /><g clip-path="url(#brclip)"><path d="M318.56,31.22 C318.2,31.39 316.81,31.72 316.37,32.21 C315.94,32.71 315.84,33.49 315.93,34.21 C316.02,34.94 316.85,35.72 316.91,36.55 C316.97,37.39 316.39,38.8 316.29,39.24" stroke="#505050" fill="none" stroke-width="0.37" opacity="0.8"/><path d="M313.64,46.11 C313.59,46.41 313.58,47.27 313.33,47.92 C313.08,48.56 312.68,49.53 312.15,49.97 C311.62,50.41 310.83,50.68 310.16,50.55 C309.49,50.42 308.46,49.42 308.12,49.2" stroke="#d8d8d8" fill="none" stroke-width="0.42" opacity="0.8"/><path d="M350.65,27.34 C350.93,27.4 351.48,27.73 352.31,27.69 C353.14,27.66 354.73,27.22 355.64,27.1 C356.54,26.99 357.03,27.1 357.74,26.98 C358.44,26.86 359.52,26.47 359.88,26.37" stroke="#c8c8c8" fill="none" stroke-width="0.37" opacity="0.8"/><path d="M324.2,45.71 C324.64,45.63 326.07,45.24 326.87,45.22 C327.67,45.2 328.37,45.41 329,45.59 C329.63,45.77 329.86,46.04 330.65,46.32 C331.44,46.59 333.23,47.09 333.74,47.24" stroke="#3e3e3e" fill="none" stroke-width="0.32" opacity="0.8"/><path d="M353.67,48.6 C353.87,48.86 354.27,49.54 354.86,50.15 C355.44,50.76 356.32,51.92 357.16,52.26 C358,52.61 359.1,52.06 359.89,52.23 C360.69,52.4 361.6,53.1 361.94,53.28" stroke="#5a5a5a" fill="none" stroke-width="0.45" opacity="0.8"/><path d="M361.92,22.08 C362.12,22.27 362.56,22.88 363.17,23.21 C363.77,23.55 364.64,24.02 365.56,24.08 C366.48,24.14 367.7,23.48 368.7,23.58 C369.71,23.67 371.12,24.48 371.6,24.66" stroke="#d8d8d8" fill="none" stroke-width="0.56" opacity="0.8"/><path d="M327.01,43.81 C326.51,43.56 324.95,42.62 323.99,42.31 C323.03,41.99 321.97,42.23 321.25,41.91 C320.52,41.6 320.23,40.92 319.65,40.42 C319.07,39.91 318.07,39.15 317.76,38.89" stroke="#c8c8c8" fill="none" stroke-width="0.39" opacity="0.8"/><path d="M326.46,32.98 C326.64,33.3 327.42,34.24 327.54,34.89 C327.65,35.55 327.26,36.03 327.14,36.93 C327.01,37.83 326.62,39.38 326.79,40.31 C326.95,41.24 327.89,42.16 328.11,42.53" stroke="#5a5a5a" fill="none" stroke-width="0.48" opacity="0.8"/><path d="M323.24,24.19 C323.16,24.54 322.82,25.66 322.75,26.26 C322.67,26.86 322.83,27.2 322.78,27.81 C322.74,28.42 322.37,29.26 322.49,29.92 C322.62,30.58 323.37,31.47 323.54,31.78" stroke="#505050" fill="none" stroke-width="0.5" opacity="0.8"/><path d="M342.02,13.78 C341.92,13.47 341.35,12.46 341.4,11.88 C341.46,11.3 341.98,10.9 342.34,10.28 C342.69,9.67 343.18,8.8 343.53,8.21 C343.88,7.61 344.28,6.96 344.43,6.71" stroke="#505050" fill="none" stroke-width="0.39" opacity="0.8"/><path d="M352.66,32.42 C352.9,32.17 353.56,31.48 354.06,30.92 C354.56,30.36 355.08,29.68 355.68,29.05 C356.29,28.43 357.09,27.75 357.69,27.16 C358.3,26.57 359.04,25.79 359.31,25.51" stroke="#3e3e3e" fill="none" stroke-width="0.58" opacity="0.8"/><path d="M313.89,10.18 C314.45,10.28 316.38,10.41 317.26,10.77 C318.13,11.14 318.72,11.65 319.15,12.38 C319.57,13.11 319.63,14.32 319.8,15.14 C319.97,15.96 320.1,16.93 320.16,17.29" stroke="#505050" fill="none" stroke-width="0.56" opacity="0.8"/><path d="M353.9,47.87 C354.15,48.04 354.84,48.55 355.38,48.92 C355.92,49.29 356.6,49.79 357.15,50.08 C357.71,50.38 358.05,50.71 358.7,50.7 C359.35,50.69 360.66,50.13 361.05,50.01" stroke="#3e3e3e" fill="none" stroke-width="0.46" opacity="0.8"/><path d="M328.58,46.62 C328.28,46.39 327.55,45.6 326.78,45.22 C326.01,44.84 324.87,44.44 323.97,44.33 C323.08,44.22 322.26,44.2 321.41,44.55 C320.56,44.9 319.28,46.11 318.86,46.43" stroke="#505050" fill="none" stroke-width="0.55" opacity="0.8"/><path d="M305.43,34.52 C305.42,34.18 305.39,33.23 305.4,32.48 C305.41,31.73 305.35,30.68 305.47,30.03 C305.6,29.39 306.08,29.11 306.16,28.6 C306.24,28.09 305.98,27.25 305.94,26.98" stroke="#3e3e3e" fill="none" stroke-width="0.56" opacity="0.8"/><path d="M309.91,29.58 C309.87,30.05 309.79,31.59 309.65,32.36 C309.51,33.12 309.18,33.44 309.09,34.18 C309,34.92 309.24,36.09 309.12,36.79 C309,37.49 308.51,38.1 308.39,38.36" stroke="#505050" fill="none" stroke-width="0.31" opacity="0.8"/><path d="M331.27,35.36 C331.03,35.11 330.54,33.99 329.86,33.85 C329.18,33.72 328.11,34.25 327.18,34.56 C326.25,34.88 324.82,35.22 324.25,35.75 C323.68,36.28 323.83,37.39 323.74,37.72" stroke="#c8c8c8" fill="none" stroke-width="0.32" opacity="0.8"/><path d="M329.22,26.61 C329.59,26.58 330.78,26.29 331.46,26.42 C332.15,26.55 332.5,27.31 333.32,27.38 C334.14,27.45 335.41,26.73 336.39,26.83 C337.37,26.94 338.73,27.81 339.2,28" stroke="#e0e0e0" fill="none" stroke-width="0.4" opacity="0.8"/><path d="M335.32,41.65 C335.24,41.29 335,40.28 334.83,39.45 C334.66,38.62 334.58,37.48 334.29,36.69 C333.99,35.9 333.21,35.31 333.04,34.69 C332.87,34.07 333.24,33.26 333.28,32.98" stroke="#d8d8d8" fill="none" stroke-width="0.55" opacity="0.8"/><path d="M359.29,32.58 C359.07,32.2 358.25,31.18 358.01,30.3 C357.77,29.42 357.72,28.1 357.85,27.31 C357.98,26.52 358.28,26.09 358.77,25.54 C359.27,25 360.48,24.29 360.82,24.03" stroke="#505050" fill="none" stroke-width="0.49" opacity="0.8"/><path d="M330.89,37.3 C331.21,36.92 332.07,35.61 332.85,34.99 C333.63,34.37 334.84,34.3 335.55,33.6 C336.26,32.9 336.48,31.39 337.11,30.77 C337.73,30.16 338.94,30.04 339.3,29.89" stroke="#c8c8c8" fill="none" stroke-width="0.5" opacity="0.8"/><path d="M334.47,28.87 C334.46,28.58 334.22,27.85 334.41,27.17 C334.59,26.5 335.26,25.5 335.58,24.8 C335.91,24.11 336.27,23.74 336.36,23 C336.46,22.25 336.2,20.78 336.17,20.34" stroke="#5a5a5a" fill="none" stroke-width="0.58" opacity="0.8"/><path d="M353.53,30.98 C353.77,30.58 354.4,29.43 354.96,28.57 C355.52,27.72 356.48,26.81 356.9,25.86 C357.32,24.91 357.47,23.7 357.48,22.88 C357.49,22.06 357.06,21.26 356.97,20.93" stroke="#d8d8d8" fill="none" stroke-width="0.53" opacity="0.8"/><path d="M313.19,48.66 C312.78,48.64 311.53,48.79 310.75,48.56 C309.97,48.33 309.22,47.8 308.51,47.29 C307.81,46.77 307.01,46.17 306.51,45.49 C306.01,44.8 305.67,43.55 305.5,43.16" stroke="#505050" fill="none" stroke-width="0.57" opacity="0.8"/><path d="M341.95,40.32 C342.28,40.31 343.35,40.08 343.96,40.26 C344.56,40.44 345.11,40.84 345.58,41.39 C346.05,41.94 346.31,43.15 346.77,43.57 C347.24,43.99 348.08,43.84 348.34,43.9" stroke="#3e3e3e" fill="none" stroke-width="0.52" opacity="0.8"/><path d="M309.9,13.61 C309.97,13.18 310.14,11.76 310.32,11 C310.51,10.25 310.75,9.69 311.02,9.07 C311.28,8.45 311.49,7.91 311.92,7.28 C312.34,6.65 313.3,5.62 313.58,5.29" stroke="#c8c8c8" fill="none" stroke-width="0.4" opacity="0.8"/><path d="M355.35,12.97 C354.98,13.14 353.94,13.59 353.14,13.97 C352.34,14.36 351.3,14.77 350.56,15.29 C349.82,15.8 349.53,16.57 348.71,17.08 C347.88,17.59 346.12,18.14 345.61,18.35" stroke="#3e3e3e" fill="none" stroke-width="0.53" opacity="0.8"/><path d="M359.8,36.24 C359.41,36.38 358.36,36.92 357.5,37.08 C356.64,37.24 355.51,36.93 354.64,37.19 C353.77,37.45 352.93,37.99 352.26,38.64 C351.6,39.29 350.94,40.69 350.67,41.1" stroke="#3e3e3e" fill="none" stroke-width="0.33" opacity="0.8"/><path d="M336.91,45.91 C336.75,45.59 336.44,44.62 335.95,43.99 C335.47,43.37 334.48,42.71 333.99,42.14 C333.5,41.57 333.41,41.19 333.03,40.6 C332.66,40.01 331.96,38.93 331.74,38.6" stroke="#3e3e3e" fill="none" stroke-width="0.38" opacity="0.8"/><path d="M326.85,44.03 C327.17,44.17 328.09,44.69 328.77,44.85 C329.45,45 330.07,44.88 330.94,44.93 C331.8,44.99 333.23,44.92 333.96,45.17 C334.7,45.41 335.1,46.21 335.33,46.42" stroke="#3e3e3e" fill="none" stroke-width="0.5" opacity="0.8"/><path d="M337.17,45.49 C337.4,45.89 337.93,47.29 338.54,47.91 C339.16,48.53 340.18,48.57 340.84,49.23 C341.5,49.89 342.1,51.15 342.52,51.87 C342.95,52.58 343.23,53.24 343.37,53.51" stroke="#5a5a5a" fill="none" stroke-width="0.41" opacity="0.8"/><path d="M321.7,42.85 C321.24,43.02 319.76,43.76 318.95,43.86 C318.14,43.97 317.68,43.65 316.85,43.48 C316.03,43.3 314.71,43.07 314,42.82 C313.29,42.57 312.84,42.11 312.61,41.97" stroke="#e0e0e0" fill="none" stroke-width="0.3" opacity="0.8"/><path d="M348.92,35.82 C348.51,35.82 347.16,35.85 346.5,35.84 C345.83,35.83 345.57,35.89 344.92,35.76 C344.28,35.63 343.3,35.42 342.62,35.06 C341.94,34.69 341.14,33.82 340.85,33.57" stroke="#3e3e3e" fill="none" stroke-width="0.49" opacity="0.8"/><path d="M307.88,24.04 C308.19,24.43 308.92,25.79 309.7,26.43 C310.47,27.06 311.52,27.63 312.53,27.83 C313.53,28.03 314.8,27.38 315.74,27.62 C316.67,27.87 317.74,29.04 318.14,29.32" stroke="#5a5a5a" fill="none" stroke-width="0.6" opacity="0.8"/><path d="M316.69,12.47 C316.69,12.83 316.86,13.77 316.68,14.6 C316.51,15.43 316.09,16.69 315.65,17.46 C315.2,18.22 314.35,18.57 314.02,19.17 C313.7,19.78 313.75,20.76 313.7,21.08" stroke="#d8d8d8" fill="none" stroke-width="0.39" opacity="0.8"/><path d="M331.47,39.53 C331.24,39.97 330.38,41.33 330.06,42.19 C329.75,43.04 329.76,44.03 329.56,44.68 C329.35,45.33 328.91,45.55 328.83,46.08 C328.75,46.6 329.05,47.56 329.09,47.86" stroke="#d8d8d8" fill="none" stroke-width="0.46" opacity="0.8"/><path d="M314.07,10.87 C313.67,10.72 312.38,10.31 311.69,9.96 C310.99,9.6 310.3,9.28 309.88,8.74 C309.46,8.2 309.71,7.21 309.17,6.71 C308.62,6.21 307.04,5.9 306.61,5.74" stroke="#3e3e3e" fill="none" stroke-width="0.42" opacity="0.8"/><path d="M306.52,47.66 C306.82,47.86 307.82,48.44 308.35,48.87 C308.88,49.31 308.97,49.96 309.68,50.26 C310.38,50.57 311.77,50.27 312.57,50.68 C313.37,51.1 314.16,52.41 314.48,52.76" stroke="#5a5a5a" fill="none" stroke-width="0.45" opacity="0.8"/><path d="M336.98,11.17 C336.64,11.24 335.52,11.34 334.91,11.55 C334.3,11.77 333.86,12.1 333.33,12.46 C332.79,12.83 332.21,13.26 331.71,13.73 C331.21,14.2 330.55,15.02 330.31,15.28" stroke="#c8c8c8" fill="none" stroke-width="0.57" opacity="0.8"/><path d="M316.44,47.98 C315.92,47.79 314.14,46.86 313.3,46.85 C312.45,46.84 311.95,47.85 311.36,47.92 C310.77,47.99 310.21,47.68 309.76,47.28 C309.31,46.89 308.83,45.83 308.65,45.54" stroke="#5a5a5a" fill="none" stroke-width="0.46" opacity="0.8"/><path d="M349.37,25.71 C349.71,25.47 350.83,24.83 351.42,24.28 C352.01,23.72 352.36,23.02 352.89,22.37 C353.43,21.71 354.06,21.05 354.62,20.36 C355.19,19.67 356.02,18.59 356.3,18.23" stroke="#c8c8c8" fill="none" stroke-width="0.57" opacity="0.8"/><path d="M344.73,47.03 C345.21,46.9 346.85,46.73 347.63,46.23 C348.41,45.73 348.94,44.86 349.4,44 C349.86,43.15 350.37,41.85 350.39,41.11 C350.4,40.38 349.64,39.86 349.49,39.61" stroke="#d8d8d8" fill="none" stroke-width="0.57" opacity="0.8"/><path d="M346.77,23.01 C346.75,23.58 346.4,25.61 346.61,26.42 C346.82,27.23 347.34,27.52 348.02,27.87 C348.69,28.23 349.94,28.6 350.66,28.53 C351.38,28.47 352.05,27.66 352.33,27.49" stroke="#c8c8c8" fill="none" stroke-width="0.6" opacity="0.8"/><path d="M311.39,21.21 C311.26,21.61 311.05,22.89 310.64,23.61 C310.22,24.32 309.58,25.11 308.89,25.5 C308.2,25.89 307.22,25.52 306.49,25.95 C305.77,26.38 304.88,27.71 304.56,28.06" stroke="#3e3e3e" fill="none" stroke-width="0.36" opacity="0.8"/><path d="M355.92,13.35 C355.5,13.62 354.3,14.52 353.43,15.02 C352.55,15.53 351.49,15.91 350.68,16.39 C349.88,16.87 349.07,17.21 348.58,17.9 C348.09,18.58 347.89,20.06 347.75,20.49" stroke="#d8d8d8" fill="none" stroke-width="0.36" opacity="0.8"/><path d="M335.73,28.1 C335.47,27.82 334.84,26.73 334.14,26.41 C333.44,26.09 332.44,26.21 331.54,26.2 C330.64,26.19 329.53,26.03 328.75,26.34 C327.96,26.65 327.15,27.76 326.83,28.05" stroke="#5a5a5a" fill="none" stroke-width="0.37" opacity="0.8"/><path d="M330.02,19.79 C329.78,20 329.31,20.8 328.57,21.05 C327.84,21.31 326.63,21.36 325.62,21.32 C324.61,21.28 323.46,20.8 322.5,20.82 C321.54,20.83 320.29,21.33 319.85,21.43" stroke="#d8d8d8" fill="none" stroke-width="0.44" opacity="0.8"/><path d="M338.49,11.36 C338.77,11.14 339.89,10.52 340.16,10.02 C340.43,9.53 340.13,8.99 340.09,8.4 C340.06,7.81 340,7.21 339.96,6.49 C339.92,5.77 339.85,4.47 339.83,4.06" stroke="#505050" fill="none" stroke-width="0.52" opacity="0.8"/><path d="M321.38,14.03 C321.33,14.33 321.41,15.04 321.1,15.81 C320.79,16.59 320.29,18.13 319.49,18.68 C318.69,19.24 317.1,18.81 316.31,19.16 C315.53,19.52 315.03,20.55 314.77,20.83" stroke="#c8c8c8" fill="none" stroke-width="0.6" opacity="0.8"/><path d="M317.69,47.3 C317.87,47.63 318.61,48.36 318.79,49.24 C318.96,50.12 318.76,51.58 318.74,52.6 C318.71,53.62 318.55,54.4 318.66,55.35 C318.77,56.31 319.29,57.82 319.42,58.32" stroke="#3e3e3e" fill="none" stroke-width="0.36" opacity="0.8"/><path d="M348.89,28.16 C349.44,28.25 351.37,28.65 352.17,28.67 C352.96,28.68 353.18,28.5 353.67,28.25 C354.16,28 354.71,27.63 355.12,27.16 C355.53,26.68 355.95,25.69 356.11,25.39" stroke="#d8d8d8" fill="none" stroke-width="0.43" opacity="0.8"/><path d="M319.84,11.72 C319.38,11.85 317.85,12.45 317.07,12.5 C316.29,12.56 315.86,12.39 315.14,12.06 C314.42,11.72 313.28,11.07 312.72,10.49 C312.16,9.92 311.93,8.9 311.78,8.58" stroke="#505050" fill="none" stroke-width="0.31" opacity="0.8"/><path d="M332.69,12.36 C332.84,11.89 332.96,10.26 333.57,9.53 C334.18,8.81 335.57,8.53 336.34,8.02 C337.1,7.5 337.85,7.24 338.17,6.45 C338.48,5.66 338.23,3.82 338.24,3.29" stroke="#3e3e3e" fill="none" stroke-width="0.42" opacity="0.8"/><path d="M325.06,27.74 C325.2,27.45 325.8,26.67 325.93,25.99 C326.05,25.31 325.58,24.54 325.83,23.67 C326.07,22.79 326.97,21.58 327.4,20.75 C327.83,19.93 328.24,19.07 328.41,18.73" stroke="#c8c8c8" fill="none" stroke-width="0.33" opacity="0.8"/><path d="M312.14,40.64 C312,40.38 311.83,39.57 311.33,39.08 C310.83,38.59 309.71,38.23 309.13,37.7 C308.55,37.18 308.39,36.6 307.83,35.92 C307.28,35.24 306.13,33.99 305.78,33.61" stroke="#d8d8d8" fill="none" stroke-width="0.39" opacity="0.8"/><path d="M320.44,47.05 C320.74,46.84 321.85,46.56 322.27,45.81 C322.68,45.05 322.92,43.38 322.93,42.54 C322.93,41.7 322.75,41.31 322.28,40.75 C321.81,40.18 320.48,39.42 320.12,39.16" stroke="#3e3e3e" fill="none" stroke-width="0.49" opacity="0.8"/><path d="M351.62,10.21 C351.39,10.41 350.78,10.95 350.29,11.41 C349.8,11.87 349.01,12.17 348.68,12.99 C348.35,13.82 348.17,15.5 348.31,16.35 C348.46,17.2 349.34,17.79 349.54,18.07" stroke="#d8d8d8" fill="none" stroke-width="0.5" opacity="0.8"/><path d="M341.88,15.55 C342.1,15.76 342.84,16.37 343.22,16.84 C343.6,17.31 344.19,17.77 344.17,18.37 C344.14,18.96 343.18,19.5 343.07,20.41 C342.96,21.32 343.43,23.26 343.5,23.83" stroke="#5a5a5a" fill="none" stroke-width="0.33" opacity="0.8"/><path d="M311.56,21.51 C311.11,21.52 309.56,21.38 308.85,21.61 C308.15,21.84 307.76,22.37 307.32,22.91 C306.89,23.46 306.71,24.42 306.25,24.87 C305.8,25.31 304.86,25.45 304.59,25.57" stroke="#d8d8d8" fill="none" stroke-width="0.31" opacity="0.8"/><path d="M324.69,39.18 C324.81,38.77 325.21,37.65 325.43,36.73 C325.65,35.8 326.01,34.69 325.99,33.64 C325.96,32.58 325.32,31.47 325.29,30.38 C325.27,29.3 325.75,27.65 325.84,27.11" stroke="#505050" fill="none" stroke-width="0.4" opacity="0.8"/><path d="M352.88,15.09 C352.42,15.1 350.91,15.19 350.15,15.19 C349.4,15.19 349.08,15.07 348.34,15.09 C347.6,15.11 346.49,15.36 345.71,15.3 C344.94,15.25 344.05,14.86 343.71,14.77" stroke="#c8c8c8" fill="none" stroke-width="0.43" opacity="0.8"/><path d="M313.34,33.42 C313.17,33.73 312.6,34.44 312.32,35.32 C312.05,36.2 312.22,37.81 311.67,38.68 C311.13,39.55 309.83,39.95 309.07,40.55 C308.31,41.14 307.44,41.95 307.12,42.23" stroke="#3e3e3e" fill="none" stroke-width="0.48" opacity="0.8"/><path d="M317.61,48.82 C317.41,48.53 316.93,47.58 316.41,47.07 C315.88,46.56 315.23,45.94 314.45,45.75 C313.66,45.56 312.37,46.17 311.71,45.94 C311.06,45.72 310.71,44.67 310.5,44.41" stroke="#c8c8c8" fill="none" stroke-width="0.55" opacity="0.8"/><path d="M349.31,12.31 C349.57,11.98 350.62,11.2 350.88,10.32 C351.15,9.45 350.97,8.09 350.92,7.06 C350.88,6.03 350.77,5.03 350.61,4.15 C350.45,3.27 350.06,2.16 349.95,1.76" stroke="#d8d8d8" fill="none" stroke-width="0.43" opacity="0.8"/><path d="M356.75,36.73 C357.03,36.88 357.93,37.51 358.46,37.63 C359,37.76 359.37,37.65 359.96,37.47 C360.55,37.29 361.53,37.03 362.02,36.54 C362.51,36.04 362.75,34.84 362.9,34.5" stroke="#d8d8d8" fill="none" stroke-width="0.52" opacity="0.8"/><path d="M352.22,42.67 C352.6,42.5 353.76,41.82 354.52,41.63 C355.28,41.44 356.11,41.39 356.77,41.55 C357.44,41.71 358.01,42.18 358.49,42.6 C358.98,43.02 359.49,43.85 359.69,44.1" stroke="#3e3e3e" fill="none" stroke-width="0.54" opacity="0.8"/><path d="M326.82,29.12 C327.11,29.08 327.85,28.86 328.58,28.86 C329.32,28.87 330.47,29.21 331.25,29.15 C332.03,29.08 332.39,28.55 333.26,28.49 C334.13,28.42 335.94,28.69 336.48,28.73" stroke="#e0e0e0" fill="none" stroke-width="0.6" opacity="0.8"/><path d="M308.76,10.37 C308.23,10.5 306.45,10.8 305.58,11.15 C304.71,11.5 304.2,12.29 303.55,12.48 C302.89,12.66 302.36,12.16 301.65,12.26 C300.94,12.36 299.69,12.95 299.3,13.09" stroke="#c8c8c8" fill="none" stroke-width="0.46" opacity="0.8"/><path d="M337.71,13.33 C337.8,13.75 337.86,15.03 338.23,15.87 C338.6,16.71 339.49,17.61 339.91,18.34 C340.33,19.06 340.67,19.48 340.76,20.22 C340.84,20.95 340.49,22.32 340.44,22.74" stroke="#c8c8c8" fill="none" stroke-width="0.46" opacity="0.8"/><path d="M322.95,43.54 C322.68,43.23 321.78,42.43 321.34,41.69 C320.9,40.94 320.65,39.8 320.3,39.07 C319.95,38.35 319.74,37.92 319.23,37.31 C318.72,36.71 317.57,35.74 317.24,35.43" stroke="#c8c8c8" fill="none" stroke-width="0.42" opacity="0.8"/><path d="M317.08,17.27 C317.45,17.4 318.73,17.63 319.29,18.02 C319.85,18.41 320,19.16 320.45,19.62 C320.9,20.07 321.26,20.47 321.99,20.73 C322.72,20.99 324.34,21.11 324.81,21.19" stroke="#3e3e3e" fill="none" stroke-width="0.36" opacity="0.8"/><path d="M322.32,16.74 C322.48,17.19 322.91,18.63 323.3,19.42 C323.69,20.21 324.14,20.86 324.65,21.51 C325.17,22.15 325.78,22.87 326.41,23.29 C327.03,23.71 328.05,23.93 328.38,24.05" stroke="#3e3e3e" fill="none" stroke-width="0.54" opacity="0.8"/><path d="M354,29.12 C353.45,29.06 351.77,28.63 350.73,28.76 C349.69,28.88 348.74,29.44 347.75,29.85 C346.76,30.25 345.53,30.63 344.8,31.17 C344.08,31.71 343.65,32.77 343.42,33.09" stroke="#e0e0e0" fill="none" stroke-width="0.34" opacity="0.8"/><path d="M323.32,23.61 C323.7,23.78 325.11,24.21 325.6,24.63 C326.09,25.05 325.91,25.5 326.26,26.14 C326.61,26.79 327.32,27.66 327.69,28.49 C328.05,29.32 328.31,30.68 328.44,31.11" stroke="#c8c8c8" fill="none" stroke-width="0.57" opacity="0.8"/><path d="M355.42,31.12 C355.87,31.27 357.2,32.05 358.1,32.05 C359,32.05 360.01,31.51 360.81,31.12 C361.61,30.74 362.28,30.32 362.9,29.73 C363.53,29.14 364.29,27.94 364.57,27.58" stroke="#d8d8d8" fill="none" stroke-width="0.51" opacity="0.8"/><path d="M323.47,16.32 C323.84,16.11 324.87,15.22 325.66,15.04 C326.46,14.86 327.42,15.01 328.26,15.26 C329.1,15.51 329.82,16.34 330.69,16.53 C331.57,16.72 333.05,16.42 333.52,16.4" stroke="#c8c8c8" fill="none" stroke-width="0.46" opacity="0.8"/><path d="M357.62,43.87 C357.35,43.9 356.79,43.88 355.99,44.01 C355.19,44.14 353.74,44.66 352.83,44.63 C351.92,44.59 351.48,43.94 350.53,43.81 C349.57,43.68 347.68,43.85 347.11,43.86" stroke="#c8c8c8" fill="none" stroke-width="0.53" opacity="0.8"/><path d="M359,36.01 C359.14,36.35 359.25,37.53 359.86,38.02 C360.47,38.51 361.61,38.82 362.65,38.92 C363.68,39.03 365.12,38.89 366.08,38.64 C367.04,38.39 368.02,37.63 368.4,37.43" stroke="#3e3e3e" fill="none" stroke-width="0.5" opacity="0.8"/><path d="M320.36,29.84 C319.87,29.93 318.31,30.32 317.43,30.36 C316.56,30.4 315.89,30 315.09,30.08 C314.28,30.17 313.26,30.6 312.61,30.87 C311.97,31.14 311.43,31.57 311.2,31.71" stroke="#e0e0e0" fill="none" stroke-width="0.3" opacity="0.8"/><path d="M350.08,15.11 C349.81,14.73 349.1,13.44 348.44,12.81 C347.79,12.19 346.61,11.89 346.14,11.37 C345.67,10.85 346.06,10.18 345.6,9.69 C345.15,9.2 343.78,8.63 343.41,8.42" stroke="#d8d8d8" fill="none" stroke-width="0.52" opacity="0.8"/><path d="M313.52,31.22 C313.41,30.94 313.08,30.12 312.9,29.55 C312.72,28.98 312.73,28.39 312.43,27.79 C312.13,27.19 311.67,26.53 311.09,25.97 C310.5,25.4 309.29,24.67 308.93,24.41" stroke="#c8c8c8" fill="none" stroke-width="0.43" opacity="0.8"/><path d="M315.04,42.24 C315.33,42.41 316.04,42.85 316.77,43.26 C317.5,43.66 318.71,44.37 319.4,44.69 C320.1,45.01 320.32,45.37 320.94,45.16 C321.57,44.96 322.79,43.74 323.16,43.45" stroke="#e0e0e0" fill="none" stroke-width="0.4" opacity="0.8"/><path d="M317.8,27.64 C317.82,27.26 318.11,26.08 317.93,25.32 C317.76,24.56 317.18,23.78 316.77,23.1 C316.36,22.43 315.93,21.7 315.46,21.28 C315,20.87 314.23,20.74 313.98,20.63" stroke="#505050" fill="none" stroke-width="0.44" opacity="0.8"/><path d="M334.1,34.96 C334.63,34.88 336.29,34.6 337.27,34.44 C338.26,34.28 339.24,34.34 340.02,34.01 C340.79,33.67 341.3,33.18 341.93,32.44 C342.55,31.71 343.44,30.07 343.75,29.6" stroke="#505050" fill="none" stroke-width="0.43" opacity="0.8"/><path d="M312.19,48.98 C312.58,49.2 313.86,49.82 314.52,50.28 C315.18,50.75 315.86,51.27 316.16,51.77 C316.45,52.27 316.23,52.56 316.27,53.29 C316.31,54.03 316.39,55.71 316.41,56.2" stroke="#d8d8d8" fill="none" stroke-width="0.57" opacity="0.8"/><path d="M307.73,36.33 C307.63,36.67 307.08,37.75 307.11,38.35 C307.14,38.95 307.88,39.18 307.89,39.96 C307.91,40.74 307.3,42.03 307.19,43.04 C307.09,44.05 307.25,45.53 307.26,46.02" stroke="#c8c8c8" fill="none" stroke-width="0.52" opacity="0.8"/><path d="M346.19,15.42 C346.12,15.94 345.93,17.67 345.77,18.56 C345.61,19.45 345.37,19.91 345.22,20.73 C345.07,21.55 344.9,22.64 344.86,23.5 C344.82,24.35 344.98,25.47 345.01,25.86" stroke="#5a5a5a" fill="none" stroke-width="0.48" opacity="0.8"/><path d="M306.65,21.92 C306.46,21.62 306.03,20.8 305.56,20.12 C305.08,19.43 304.05,18.51 303.77,17.81 C303.49,17.11 303.92,16.55 303.87,15.91 C303.83,15.27 303.58,14.3 303.52,13.98" stroke="#c8c8c8" fill="none" stroke-width="0.31" opacity="0.8"/><path d="M327.92,25.03 C327.57,25.34 326.38,26.22 325.82,26.9 C325.26,27.58 324.96,28.41 324.56,29.13 C324.15,29.85 323.89,30.51 323.41,31.21 C322.92,31.9 321.93,32.96 321.64,33.31" stroke="#d8d8d8" fill="none" stroke-width="0.38" opacity="0.8"/><path d="M317.51,18.9 C317.59,19.39 317.53,21.04 317.97,21.82 C318.41,22.59 319.43,23.03 320.15,23.53 C320.86,24.03 321.52,24.56 322.25,24.82 C322.98,25.08 324.15,25.04 324.53,25.09" stroke="#e0e0e0" fill="none" stroke-width="0.35" opacity="0.8"/><path d="M306.25,32.09 C306.34,31.59 306.63,29.9 306.79,29.12 C306.94,28.34 307.26,28.19 307.18,27.41 C307.1,26.63 306.56,25.3 306.3,24.44 C306.04,23.59 305.73,22.64 305.62,22.28" stroke="#505050" fill="none" stroke-width="0.35" opacity="0.8"/><path d="M344.36,34.44 C343.94,34.39 342.72,34.29 341.87,34.15 C341.03,34 340.02,33.77 339.29,33.57 C338.55,33.37 338.1,33.02 337.48,32.97 C336.86,32.92 335.9,33.22 335.58,33.27" stroke="#505050" fill="none" stroke-width="0.56" opacity="0.8"/><path d="M324.03,38.82 C324.43,39.15 325.54,40.42 326.42,40.79 C327.3,41.17 328.36,40.91 329.32,41.1 C330.27,41.29 331.35,41.85 332.16,41.93 C332.97,42.01 333.86,41.63 334.2,41.58" stroke="#5a5a5a" fill="none" stroke-width="0.4" opacity="0.8"/><path d="M321.57,23.44 C321.86,23.83 322.8,25.09 323.33,25.79 C323.85,26.5 324.13,27.02 324.71,27.65 C325.3,28.27 326.18,29.01 326.85,29.52 C327.52,30.04 328.41,30.52 328.72,30.72" stroke="#5a5a5a" fill="none" stroke-width="0.5" opacity="0.8"/><path d="M311.08,45.04 C310.79,45.38 309.68,46.35 309.3,47.12 C308.92,47.89 308.64,48.91 308.81,49.66 C308.97,50.41 309.74,51.13 310.28,51.61 C310.83,52.08 311.8,52.38 312.1,52.54" stroke="#5a5a5a" fill="none" stroke-width="0.48" opacity="0.8"/><path d="M308.88,44.78 C308.52,44.98 307.35,45.86 306.7,45.96 C306.05,46.06 305.53,45.89 305,45.4 C304.46,44.91 304.21,43.57 303.49,43.03 C302.77,42.49 301.13,42.3 300.65,42.15" stroke="#d8d8d8" fill="none" stroke-width="0.41" opacity="0.8"/><path d="M325.61,24.27 C326.02,24.33 327.23,24.53 328.05,24.62 C328.86,24.71 329.56,24.89 330.49,24.8 C331.41,24.71 332.79,24.11 333.62,24.07 C334.45,24.02 335.14,24.44 335.45,24.52" stroke="#5a5a5a" fill="none" stroke-width="0.39" opacity="0.8"/><path d="M325.67,10.17 C325.78,10.58 326.32,11.78 326.34,12.63 C326.35,13.47 325.97,14.43 325.75,15.26 C325.53,16.09 324.98,16.85 325.04,17.6 C325.1,18.34 325.93,19.37 326.11,19.72" stroke="#e0e0e0" fill="none" stroke-width="0.46" opacity="0.8"/><path d="M309.6,44.75 C310.12,44.72 311.97,44.54 312.75,44.57 C313.53,44.59 313.8,44.63 314.28,44.89 C314.77,45.15 315.31,45.47 315.65,46.13 C315.99,46.79 316.21,48.4 316.33,48.86" stroke="#e0e0e0" fill="none" stroke-width="0.59" opacity="0.8"/><path d="M322.31,22.55 C322.78,22.68 324.19,23.4 325.09,23.35 C326,23.3 326.95,22.5 327.76,22.25 C328.56,21.99 329.18,22.04 329.93,21.84 C330.68,21.63 331.87,21.15 332.26,21.01" stroke="#5a5a5a" fill="none" stroke-width="0.56" opacity="0.8"/><path d="M321.04,19.14 C321,19.52 320.9,20.68 320.79,21.41 C320.69,22.14 320.4,22.66 320.4,23.52 C320.39,24.38 320.59,25.54 320.77,26.55 C320.96,27.56 321.37,29.07 321.49,29.57" stroke="#e0e0e0" fill="none" stroke-width="0.39" opacity="0.8"/><path d="M330.97,47.66 C330.5,47.41 329.12,46.32 328.17,46.16 C327.22,45.99 326.03,46.23 325.26,46.65 C324.5,47.08 324.17,48.14 323.58,48.69 C323,49.25 322.05,49.76 321.74,49.98" stroke="#c8c8c8" fill="none" stroke-width="0.46" opacity="0.8"/><path d="M333,42.42 C332.97,42.95 332.61,44.75 332.81,45.61 C333.01,46.47 333.88,46.93 334.19,47.59 C334.5,48.24 334.26,48.93 334.67,49.55 C335.07,50.17 336.29,51.02 336.62,51.32" stroke="#3e3e3e" fill="none" stroke-width="0.6" opacity="0.8"/><path d="M358.39,34.38 C358.34,34.74 357.98,35.93 358.04,36.57 C358.1,37.21 358.46,37.55 358.77,38.2 C359.08,38.85 359.75,39.58 359.9,40.47 C360.05,41.36 359.69,43.02 359.65,43.53" stroke="#505050" fill="none" stroke-width="0.49" opacity="0.8"/><path d="M338.33,29.36 C338.57,29.16 339.26,28.64 339.77,28.13 C340.28,27.63 340.97,26.86 341.37,26.34 C341.77,25.82 342.03,25.76 342.17,25.01 C342.31,24.25 342.18,22.34 342.19,21.8" stroke="#c8c8c8" fill="none" stroke-width="0.55" opacity="0.8"/><path d="M332.16,29.84 C331.79,30.09 330.61,30.75 329.94,31.32 C329.28,31.89 328.71,32.62 328.17,33.26 C327.63,33.91 327.07,34.42 326.7,35.19 C326.34,35.97 326.11,37.45 325.99,37.91" stroke="#d8d8d8" fill="none" stroke-width="0.32" opacity="0.8"/><path d="M357.49,42.81 C357.95,42.75 359.45,42.63 360.21,42.43 C360.98,42.23 361.49,41.99 362.08,41.62 C362.67,41.24 363.17,40.74 363.76,40.2 C364.36,39.65 365.34,38.65 365.65,38.35" stroke="#505050" fill="none" stroke-width="0.51" opacity="0.8"/><path d="M353.17,11.66 C353.21,12.13 353.62,13.52 353.43,14.48 C353.24,15.44 352.52,16.66 352.02,17.44 C351.52,18.22 351.18,18.75 350.42,19.18 C349.67,19.6 347.99,19.85 347.5,19.98" stroke="#5a5a5a" fill="none" stroke-width="0.39" opacity="0.8"/><path d="M314.07,24.17 C313.92,23.88 313.83,22.96 313.21,22.39 C312.59,21.82 311.09,21.43 310.35,20.74 C309.62,20.05 309.42,19.03 308.79,18.25 C308.15,17.47 306.93,16.42 306.55,16.06" stroke="#d8d8d8" fill="none" stroke-width="0.55" opacity="0.8"/><path d="M361.48,39.63 C361.29,39.92 360.85,40.73 360.33,41.38 C359.81,42.02 358.89,42.69 358.36,43.49 C357.84,44.3 357.65,45.48 357.17,46.22 C356.68,46.95 355.74,47.63 355.45,47.92" stroke="#d8d8d8" fill="none" stroke-width="0.35" opacity="0.8"/><path d="M312,36 Q322,33 330,38 Q338,43 346,42" stroke="#3a3a3a" fill="none" stroke-width="0.8" /><path d="M318,16 Q326,22 330,30 Q333,36 340,38" stroke="#3e3e3e" fill="none" stroke-width="0.7" /><path d="M340,12 Q345,20 350,28" stroke="#444" fill="none" stroke-width="0.6" /><ellipse cx="337.5" cy="25" rx="6.2" ry="5.8" fill="#b8a0c8" stroke="none" stroke-width="0.5" filter="url(#bl1)" opacity="0.5"/><ellipse cx="337.5" cy="24.5" rx="5.2" ry="5" fill="#48b850" stroke="none" stroke-width="0.5" filter="url(#bl1)" opacity="0.8"/><ellipse cx="336" cy="23.5" rx="2.8" ry="2.6" fill="#70c858" stroke="none" stroke-width="0.5" filter="url(#bl05)" opacity="0.6"/><ellipse cx="339.5" cy="29.8" rx="2.2" ry="1.6" fill="#e07a28" stroke="none" stroke-width="0.5" filter="url(#bl05)" opacity="0.9"/><ellipse cx="332.5" cy="27" rx="1.6" ry="2.6" fill="#3aa890" stroke="none" stroke-width="0.5" filter="url(#bl05)" opacity="0.5"/></g><text x="309.6" y="13.6" font-size="3.6" text-anchor="middle" font-weight="normal" fill="#222" textLength="6" lengthAdjust="spacingAndGlyphs" stroke="#222" stroke-width="0.03" style="">Left</text><text x="310.8" y="49.6" font-size="3.34" text-anchor="middle" font-weight="normal" fill="#222" textLength="7.8" lengthAdjust="spacingAndGlyphs" stroke="#222" stroke-width="0.03" style="">Right</text><path d="M304.7,59.9 C305.92,60.45 310.03,61.35 312,63.2 C313.97,65.05 316.17,68.47 316.5,71 C316.83,73.53 315.7,76.62 314,78.4 C312.3,80.18 308.97,81.77 306.3,81.7 C303.63,81.63 300.12,80.03 298,78 C295.88,75.97 293.72,72 293.6,69.5 C293.48,67 295.45,64.6 297.3,63 C299.15,61.4 303.47,60.42 304.7,59.9 Z" stroke="none" fill="#2a7ad8" stroke-width="0.5" /><g clip-path="url(#cb1)"><ellipse cx="300" cy="76" rx="5" ry="3.5" fill="#28b8d0" stroke="none" stroke-width="0.5" filter="url(#bl1)" opacity="0.7"/><ellipse cx="311" cy="65" rx="5" ry="4" fill="#2258c8" stroke="none" stroke-width="0.5" filter="url(#bl1)" opacity="0.7"/><ellipse cx="305" cy="70" rx="3" ry="2" fill="#3a98e8" stroke="none" stroke-width="0.5" filter="url(#bl1)" opacity="0.6"/><line x1="314.43" y1="66.31" x2="317.12" y2="69" stroke="#10206a" stroke-width="0.45" opacity="0.3"/><line x1="297.14" y1="74.59" x2="300.22" y2="73.67" stroke="#10206a" stroke-width="0.3" opacity="0.3"/><line x1="308.46" y1="70.9" x2="312.02" y2="69.83" stroke="#10206a" stroke-width="0.42" opacity="0.3"/><line x1="295.74" y1="70.6" x2="297.94" y2="72.79" stroke="#ffffff" stroke-width="0.3" opacity="0.3"/><line x1="310.83" y1="78.09" x2="313.62" y2="80.89" stroke="#ffffff" stroke-width="0.32" opacity="0.3"/><line x1="305.88" y1="72.97" x2="307.51" y2="74.6" stroke="#ffffff" stroke-width="0.33" opacity="0.3"/><line x1="294.54" y1="76.06" x2="298.02" y2="79.54" stroke="#ffffff" stroke-width="0.43" opacity="0.3"/><line x1="315.09" y1="64.19" x2="316.92" y2="66.02" stroke="#ffffff" stroke-width="0.31" opacity="0.3"/><line x1="296.03" y1="70.78" x2="298.64" y2="70" stroke="#ffffff" stroke-width="0.37" opacity="0.3"/><line x1="305.37" y1="75.75" x2="309" y2="74.66" stroke="#ffffff" stroke-width="0.4" opacity="0.3"/><line x1="307.15" y1="61.63" x2="309.85" y2="64.32" stroke="#ffffff" stroke-width="0.38" opacity="0.3"/><line x1="298.58" y1="78.51" x2="300.7" y2="80.63" stroke="#ffffff" stroke-width="0.42" opacity="0.3"/><line x1="309.73" y1="61.3" x2="313.9" y2="60.05" stroke="#ffffff" stroke-width="0.26" opacity="0.3"/><line x1="302.83" y1="71.12" x2="304.63" y2="70.58" stroke="#ffffff" stroke-width="0.38" opacity="0.3"/><line x1="316.05" y1="60.68" x2="318.5" y2="63.12" stroke="#ffffff" stroke-width="0.36" opacity="0.3"/><line x1="293.99" y1="65.08" x2="296.58" y2="67.66" stroke="#10206a" stroke-width="0.26" opacity="0.3"/><line x1="295.39" y1="74.47" x2="299.23" y2="73.32" stroke="#10206a" stroke-width="0.3" opacity="0.3"/><line x1="306.65" y1="77.12" x2="310.77" y2="81.24" stroke="#ffffff" stroke-width="0.29" opacity="0.3"/><line x1="294.98" y1="78.97" x2="298.36" y2="82.35" stroke="#ffffff" stroke-width="0.28" opacity="0.3"/><line x1="305.05" y1="68.78" x2="307.09" y2="68.17" stroke="#10206a" stroke-width="0.28" opacity="0.3"/><line x1="307.2" y1="79.02" x2="310.12" y2="78.14" stroke="#10206a" stroke-width="0.45" opacity="0.3"/><line x1="310.35" y1="74.82" x2="312.98" y2="77.46" stroke="#10206a" stroke-width="0.34" opacity="0.3"/><line x1="305.61" y1="70.86" x2="309.51" y2="69.69" stroke="#ffffff" stroke-width="0.34" opacity="0.3"/><line x1="309.18" y1="62.89" x2="312.68" y2="66.38" stroke="#ffffff" stroke-width="0.38" opacity="0.3"/><line x1="315.52" y1="68.4" x2="317.19" y2="67.9" stroke="#ffffff" stroke-width="0.42" opacity="0.3"/><line x1="313.52" y1="78.25" x2="316.7" y2="81.43" stroke="#ffffff" stroke-width="0.43" opacity="0.3"/><line x1="294.97" y1="60.18" x2="298.65" y2="63.85" stroke="#ffffff" stroke-width="0.38" opacity="0.3"/><line x1="305.25" y1="71.63" x2="308.71" y2="70.6" stroke="#10206a" stroke-width="0.31" opacity="0.3"/></g><path d="M333.5,59.9 C334.83,60.5 339.42,61.65 341.5,63.5 C343.58,65.35 345.67,68.5 346,71 C346.33,73.5 345.33,76.72 343.5,78.5 C341.67,80.28 337.75,81.78 335,81.7 C332.25,81.62 329.12,79.95 327,78 C324.88,76.05 322.47,72.5 322.3,70 C322.13,67.5 324.13,64.68 326,63 C327.87,61.32 332.25,60.42 333.5,59.9 Z" stroke="none" fill="#30c0b0" stroke-width="0.5" /><g clip-path="url(#cb2)"><ellipse cx="328" cy="64" rx="6" ry="4" fill="#50c860" stroke="none" stroke-width="0.5" filter="url(#bl1)" opacity="0.9"/><ellipse cx="341" cy="69" rx="4" ry="5" fill="#30b0d0" stroke="none" stroke-width="0.5" filter="url(#bl1)" opacity="0.8"/><ellipse cx="335" cy="76" rx="6" ry="3" fill="#70c850" stroke="none" stroke-width="0.5" filter="url(#bl1)" opacity="0.8"/><ellipse cx="334.5" cy="79.5" rx="3" ry="2" fill="#a0602a" stroke="none" stroke-width="0.5" filter="url(#bl1)" opacity="0.8"/><line x1="329.97" y1="73.42" x2="331.4" y2="74.84" stroke="#ffffff" stroke-width="0.3" opacity="0.3"/><line x1="327.03" y1="61.09" x2="328.97" y2="63.04" stroke="#ffffff" stroke-width="0.36" opacity="0.3"/><line x1="344.37" y1="69.87" x2="346.13" y2="71.63" stroke="#ffffff" stroke-width="0.32" opacity="0.3"/><line x1="323.02" y1="74.03" x2="324.95" y2="75.96" stroke="#10206a" stroke-width="0.43" opacity="0.3"/><line x1="332.66" y1="80.52" x2="336.8" y2="84.67" stroke="#ffffff" stroke-width="0.37" opacity="0.3"/><line x1="326" y1="77.51" x2="329.84" y2="76.36" stroke="#10206a" stroke-width="0.37" opacity="0.3"/><line x1="328.25" y1="64.44" x2="329.74" y2="65.92" stroke="#ffffff" stroke-width="0.27" opacity="0.3"/><line x1="325.6" y1="70.31" x2="329.16" y2="69.24" stroke="#10206a" stroke-width="0.44" opacity="0.3"/><line x1="327.15" y1="73.45" x2="329" y2="72.89" stroke="#10206a" stroke-width="0.36" opacity="0.3"/><line x1="328.47" y1="74.56" x2="331.97" y2="73.51" stroke="#ffffff" stroke-width="0.4" opacity="0.3"/><line x1="322.88" y1="78.33" x2="324.9" y2="77.73" stroke="#ffffff" stroke-width="0.42" opacity="0.3"/><line x1="341.69" y1="78.8" x2="345.76" y2="77.58" stroke="#ffffff" stroke-width="0.45" opacity="0.3"/><line x1="334.14" y1="70.09" x2="335.9" y2="71.85" stroke="#ffffff" stroke-width="0.45" opacity="0.3"/><line x1="332.74" y1="77.82" x2="335.33" y2="77.04" stroke="#10206a" stroke-width="0.33" opacity="0.3"/><line x1="339.36" y1="73.49" x2="342.3" y2="72.61" stroke="#ffffff" stroke-width="0.44" opacity="0.3"/><line x1="331.97" y1="69.8" x2="335.17" y2="68.84" stroke="#ffffff" stroke-width="0.25" opacity="0.3"/><line x1="332.31" y1="61.3" x2="334.41" y2="63.4" stroke="#10206a" stroke-width="0.39" opacity="0.3"/><line x1="335.46" y1="67.41" x2="338.2" y2="66.59" stroke="#10206a" stroke-width="0.27" opacity="0.3"/><line x1="334.98" y1="73.65" x2="337.24" y2="72.97" stroke="#ffffff" stroke-width="0.42" opacity="0.3"/><line x1="322.82" y1="65.76" x2="325.12" y2="65.07" stroke="#10206a" stroke-width="0.45" opacity="0.3"/><line x1="324.79" y1="69.71" x2="327.51" y2="68.9" stroke="#10206a" stroke-width="0.28" opacity="0.3"/><line x1="339.94" y1="77.06" x2="342.95" y2="76.16" stroke="#10206a" stroke-width="0.29" opacity="0.3"/><line x1="338" y1="69.73" x2="341.12" y2="72.85" stroke="#ffffff" stroke-width="0.36" opacity="0.3"/><line x1="334.97" y1="76.02" x2="337.03" y2="78.09" stroke="#ffffff" stroke-width="0.45" opacity="0.3"/><line x1="340.08" y1="67.78" x2="341.51" y2="69.21" stroke="#ffffff" stroke-width="0.39" opacity="0.3"/><line x1="325.96" y1="76.28" x2="327.39" y2="75.85" stroke="#ffffff" stroke-width="0.25" opacity="0.3"/><line x1="323.63" y1="78.89" x2="325.33" y2="78.38" stroke="#ffffff" stroke-width="0.42" opacity="0.3"/><line x1="345.17" y1="65.62" x2="349.19" y2="69.64" stroke="#ffffff" stroke-width="0.3" opacity="0.3"/></g><path d="M362.7,59.9 C364,60.5 368.58,61.73 370.5,63.5 C372.42,65.27 374.03,68.08 374.2,70.5 C374.37,72.92 373.28,76.08 371.5,78 C369.72,79.92 366.17,81.92 363.5,82 C360.83,82.08 357.5,80.28 355.5,78.5 C353.5,76.72 351.67,73.72 351.5,71.3 C351.33,68.88 352.63,65.9 354.5,64 C356.37,62.1 361.33,60.58 362.7,59.9 Z" stroke="none" fill="#50c044" stroke-width="0.5" /><g clip-path="url(#cb3)"><ellipse cx="370" cy="68" rx="4" ry="6" fill="#38c080" stroke="none" stroke-width="0.5" filter="url(#bl1)" opacity="0.8"/><ellipse cx="358" cy="75" rx="3" ry="2.5" fill="#b06a20" stroke="none" stroke-width="0.5" filter="url(#bl1)" opacity="0.8"/><ellipse cx="363.5" cy="79" rx="3.5" ry="2.5" fill="#a04818" stroke="none" stroke-width="0.5" filter="url(#bl1)" opacity="0.85"/><ellipse cx="361" cy="76" rx="4" ry="3" fill="#a8c830" stroke="none" stroke-width="0.5" filter="url(#bl1)" opacity="0.6"/><ellipse cx="358" cy="63" rx="3" ry="2" fill="#80a830" stroke="none" stroke-width="0.5" filter="url(#bl1)" opacity="0.6"/><line x1="353.17" y1="73.04" x2="357.34" y2="71.78" stroke="#ffffff" stroke-width="0.36" opacity="0.3"/><line x1="360" y1="76.25" x2="363.32" y2="79.56" stroke="#ffffff" stroke-width="0.39" opacity="0.3"/><line x1="356.78" y1="63.07" x2="358.25" y2="64.54" stroke="#10206a" stroke-width="0.41" opacity="0.3"/><line x1="361.65" y1="76.97" x2="363.3" y2="76.47" stroke="#ffffff" stroke-width="0.25" opacity="0.3"/><line x1="360.96" y1="65.51" x2="363.34" y2="67.89" stroke="#10206a" stroke-width="0.42" opacity="0.3"/><line x1="365.92" y1="67.63" x2="368.71" y2="70.42" stroke="#10206a" stroke-width="0.44" opacity="0.3"/><line x1="372.05" y1="72.53" x2="373.88" y2="74.36" stroke="#ffffff" stroke-width="0.26" opacity="0.3"/><line x1="361" y1="68.24" x2="364.78" y2="72.02" stroke="#10206a" stroke-width="0.26" opacity="0.3"/><line x1="361.52" y1="60.81" x2="364.78" y2="59.84" stroke="#ffffff" stroke-width="0.42" opacity="0.3"/><line x1="372.73" y1="65.08" x2="376.34" y2="64" stroke="#ffffff" stroke-width="0.44" opacity="0.3"/><line x1="353.3" y1="69.99" x2="357.45" y2="74.13" stroke="#ffffff" stroke-width="0.31" opacity="0.3"/><line x1="358.53" y1="67.9" x2="362.71" y2="72.08" stroke="#ffffff" stroke-width="0.3" opacity="0.3"/><line x1="371.35" y1="63.14" x2="373.03" y2="64.82" stroke="#ffffff" stroke-width="0.38" opacity="0.3"/><line x1="356.13" y1="72.69" x2="358.41" y2="74.98" stroke="#ffffff" stroke-width="0.31" opacity="0.3"/><line x1="361.47" y1="67.72" x2="364.69" y2="70.95" stroke="#ffffff" stroke-width="0.36" opacity="0.3"/><line x1="362.8" y1="63.31" x2="366.66" y2="62.15" stroke="#ffffff" stroke-width="0.39" opacity="0.3"/><line x1="373.57" y1="72.44" x2="377.39" y2="76.25" stroke="#ffffff" stroke-width="0.35" opacity="0.3"/><line x1="371.89" y1="71.29" x2="374.37" y2="73.76" stroke="#10206a" stroke-width="0.42" opacity="0.3"/><line x1="373.5" y1="71.13" x2="376.09" y2="70.35" stroke="#ffffff" stroke-width="0.36" opacity="0.3"/><line x1="356.43" y1="81.69" x2="359.85" y2="80.66" stroke="#ffffff" stroke-width="0.37" opacity="0.3"/><line x1="352.94" y1="62.27" x2="354.46" y2="63.78" stroke="#10206a" stroke-width="0.37" opacity="0.3"/><line x1="367.7" y1="74.01" x2="369.99" y2="73.32" stroke="#ffffff" stroke-width="0.25" opacity="0.3"/><line x1="369.81" y1="71.58" x2="371.74" y2="73.51" stroke="#ffffff" stroke-width="0.31" opacity="0.3"/><line x1="360.23" y1="75.36" x2="361.83" y2="74.88" stroke="#ffffff" stroke-width="0.41" opacity="0.3"/><line x1="352.09" y1="62.31" x2="354.39" y2="64.61" stroke="#ffffff" stroke-width="0.38" opacity="0.3"/><line x1="359.02" y1="78.73" x2="360.68" y2="80.38" stroke="#10206a" stroke-width="0.38" opacity="0.3"/><line x1="374.07" y1="65.3" x2="377.43" y2="68.66" stroke="#10206a" stroke-width="0.41" opacity="0.3"/><line x1="363.7" y1="72.29" x2="366.74" y2="71.38" stroke="#ffffff" stroke-width="0.34" opacity="0.3"/></g><rect x="292.7" y="84.8" width="82" height="1.7" fill="url(#jetg)" stroke="none" stroke-width="0.5" /><text x="293" y="90" font-size="3" text-anchor="middle" font-weight="normal" fill="#333" stroke="#333" stroke-width="0.03" style="">0</text><text x="372.5" y="90" font-size="3" text-anchor="middle" font-weight="normal" fill="#333" stroke="#333" stroke-width="0.03" style="">2.4</text><text x="334" y="93.2" font-size="3.41" text-anchor="middle" font-weight="normal" fill="#333" textLength="32" lengthAdjust="spacingAndGlyphs" stroke="#333" stroke-width="0.03" style="">Electric field, mV/mm</text><text x="304.5" y="57.6" font-size="3.47" text-anchor="middle" font-weight="normal" fill="#333" textLength="11" lengthAdjust="spacingAndGlyphs" stroke="#333" stroke-width="0.03" style="">0.5 mA</text><text x="333.5" y="57.6" font-size="3.47" text-anchor="middle" font-weight="normal" fill="#333" textLength="11" lengthAdjust="spacingAndGlyphs" stroke="#333" stroke-width="0.03" style="">1.0 mA</text><text x="362.5" y="57.6" font-size="3.47" text-anchor="middle" font-weight="normal" fill="#333" textLength="11" lengthAdjust="spacingAndGlyphs" stroke="#333" stroke-width="0.03" style="">1.5 mA</text><text x="302.8" y="103.2" font-size="3.41" text-anchor="middle" font-weight="normal" fill="#333" textLength="10.8" lengthAdjust="spacingAndGlyphs" stroke="#333" stroke-width="0.03" style="">0.5 mA</text><text x="323.5" y="103.2" font-size="3.41" text-anchor="middle" font-weight="normal" fill="#333" textLength="10.8" lengthAdjust="spacingAndGlyphs" stroke="#333" stroke-width="0.03" style="">1.0 mA</text><text x="344.3" y="103.2" font-size="3.41" text-anchor="middle" font-weight="normal" fill="#333" textLength="10.8" lengthAdjust="spacingAndGlyphs" stroke="#333" stroke-width="0.03" style="">1.5 mA</text><text x="365.3" y="100.6" font-size="3.31" text-anchor="middle" font-weight="normal" fill="#333" textLength="14.6" lengthAdjust="spacingAndGlyphs" stroke="#333" stroke-width="0.03" style="">1.0 mA @</text><text x="365.3" y="105" font-size="3.39" text-anchor="middle" font-weight="normal" fill="#333" textLength="13" lengthAdjust="spacingAndGlyphs" stroke="#333" stroke-width="0.03" style="">shoulder</text><path d="M302.5,107.5 C303.42,107.83 306.58,108.25 308,109.5 C309.42,110.75 310.5,112.92 311,115 C311.5,117.08 311.5,120 311,122 C310.5,124 309.42,125.92 308,127 C306.58,128.08 304.33,128.5 302.5,128.5 C300.67,128.5 298.37,128.25 297,127 C295.63,125.75 294.72,123.17 294.3,121 C293.88,118.83 294.05,115.92 294.5,114 C294.95,112.08 295.67,110.58 297,109.5 C298.33,108.42 301.58,107.83 302.5,107.5 Z" stroke="none" fill="#2558d8" stroke-width="0.5" /><g clip-path="url(#cc1)"><ellipse cx="299" cy="123" rx="4" ry="4" fill="#30c0d0" stroke="none" stroke-width="0.5" filter="url(#bl1)" opacity="0.9"/><ellipse cx="309" cy="118" rx="2.5" ry="6" fill="#1a34b0" stroke="none" stroke-width="0.5" filter="url(#bl1)" opacity="0.8"/><ellipse cx="302" cy="116" rx="2" ry="3" fill="#3090e8" stroke="none" stroke-width="0.5" filter="url(#bl1)" opacity="0.7"/><line x1="309.49" y1="113.68" x2="312.18" y2="116.36" stroke="#10206a" stroke-width="0.45" opacity="0.3"/><line x1="296.88" y1="121.65" x2="299.96" y2="120.73" stroke="#10206a" stroke-width="0.3" opacity="0.3"/><line x1="305.14" y1="118.1" x2="308.7" y2="117.03" stroke="#10206a" stroke-width="0.42" opacity="0.3"/><line x1="295.86" y1="117.81" x2="298.06" y2="120" stroke="#ffffff" stroke-width="0.3" opacity="0.3"/><line x1="306.86" y1="125.02" x2="309.66" y2="127.82" stroke="#ffffff" stroke-width="0.32" opacity="0.3"/><line x1="303.26" y1="120.09" x2="304.88" y2="121.72" stroke="#ffffff" stroke-width="0.33" opacity="0.3"/><line x1="294.99" y1="123.06" x2="298.47" y2="126.55" stroke="#ffffff" stroke-width="0.43" opacity="0.3"/><line x1="309.97" y1="111.63" x2="311.8" y2="113.46" stroke="#ffffff" stroke-width="0.31" opacity="0.3"/><line x1="296.08" y1="117.98" x2="298.68" y2="117.2" stroke="#ffffff" stroke-width="0.37" opacity="0.3"/><line x1="302.88" y1="122.77" x2="306.52" y2="121.68" stroke="#ffffff" stroke-width="0.4" opacity="0.3"/><line x1="304.18" y1="109.16" x2="306.88" y2="111.86" stroke="#ffffff" stroke-width="0.38" opacity="0.3"/><line x1="297.93" y1="125.42" x2="300.06" y2="127.55" stroke="#ffffff" stroke-width="0.42" opacity="0.3"/><line x1="306.06" y1="108.85" x2="310.23" y2="107.6" stroke="#ffffff" stroke-width="0.26" opacity="0.3"/><line x1="301.03" y1="118.31" x2="302.83" y2="117.77" stroke="#ffffff" stroke-width="0.38" opacity="0.3"/><line x1="310.68" y1="108.25" x2="313.12" y2="110.69" stroke="#ffffff" stroke-width="0.36" opacity="0.3"/><line x1="294.59" y1="112.49" x2="297.17" y2="115.07" stroke="#10206a" stroke-width="0.26" opacity="0.3"/><line x1="295.61" y1="121.53" x2="299.44" y2="120.38" stroke="#10206a" stroke-width="0.3" opacity="0.3"/><line x1="303.82" y1="124.08" x2="307.94" y2="128.21" stroke="#ffffff" stroke-width="0.29" opacity="0.3"/><line x1="295.3" y1="125.87" x2="298.69" y2="129.25" stroke="#ffffff" stroke-width="0.28" opacity="0.3"/><line x1="302.65" y1="116.06" x2="304.69" y2="115.45" stroke="#10206a" stroke-width="0.28" opacity="0.3"/><line x1="304.22" y1="125.92" x2="307.14" y2="125.04" stroke="#10206a" stroke-width="0.45" opacity="0.3"/><line x1="306.51" y1="121.87" x2="309.15" y2="124.51" stroke="#10206a" stroke-width="0.34" opacity="0.3"/><line x1="303.06" y1="118.06" x2="306.96" y2="116.89" stroke="#ffffff" stroke-width="0.34" opacity="0.3"/><line x1="305.66" y1="110.38" x2="309.16" y2="113.87" stroke="#ffffff" stroke-width="0.38" opacity="0.3"/><line x1="310.29" y1="115.69" x2="311.96" y2="115.18" stroke="#ffffff" stroke-width="0.42" opacity="0.3"/><line x1="308.83" y1="125.18" x2="312.01" y2="128.36" stroke="#ffffff" stroke-width="0.43" opacity="0.3"/><line x1="295.3" y1="107.77" x2="298.98" y2="111.44" stroke="#ffffff" stroke-width="0.38" opacity="0.3"/><line x1="302.79" y1="118.8" x2="306.25" y2="117.77" stroke="#10206a" stroke-width="0.31" opacity="0.3"/><circle cx="301.69" cy="119.31" r="0.48" fill="#e8f0ff" stroke="none" stroke-width="0.5" opacity="0.8"/><circle cx="301.92" cy="118.17" r="0.4" fill="#e8f0ff" stroke="none" stroke-width="0.5" opacity="0.8"/><circle cx="297.14" cy="118.26" r="0.41" fill="#e8f0ff" stroke="none" stroke-width="0.5" opacity="0.8"/><circle cx="307.48" cy="109.07" r="0.33" fill="#e8f0ff" stroke="none" stroke-width="0.5" opacity="0.8"/><circle cx="295.54" cy="124.81" r="0.42" fill="#e8f0ff" stroke="none" stroke-width="0.5" opacity="0.8"/><circle cx="294.71" cy="128.61" r="0.49" fill="#e8f0ff" stroke="none" stroke-width="0.5" opacity="0.8"/><circle cx="305.12" cy="120.54" r="0.29" fill="#e8f0ff" stroke="none" stroke-width="0.5" opacity="0.8"/><circle cx="294.26" cy="118.62" r="0.26" fill="#e8f0ff" stroke="none" stroke-width="0.5" opacity="0.8"/><circle cx="297.23" cy="112.32" r="0.26" fill="#e8f0ff" stroke="none" stroke-width="0.5" opacity="0.8"/><circle cx="301.89" cy="116.69" r="0.46" fill="#e8f0ff" stroke="none" stroke-width="0.5" opacity="0.8"/><circle cx="302.83" cy="121.09" r="0.37" fill="#e8f0ff" stroke="none" stroke-width="0.5" opacity="0.8"/><circle cx="305.26" cy="117.06" r="0.32" fill="#e8f0ff" stroke="none" stroke-width="0.5" opacity="0.8"/><circle cx="310.96" cy="128.91" r="0.46" fill="#e8f0ff" stroke="none" stroke-width="0.5" opacity="0.8"/><circle cx="306.03" cy="113.94" r="0.31" fill="#e8f0ff" stroke="none" stroke-width="0.5" opacity="0.8"/><circle cx="298.91" cy="108.54" r="0.44" fill="#e8f0ff" stroke="none" stroke-width="0.5" opacity="0.8"/><circle cx="300.81" cy="125.62" r="0.35" fill="#e8f0ff" stroke="none" stroke-width="0.5" opacity="0.8"/><circle cx="310.29" cy="125.64" r="0.25" fill="#e8f0ff" stroke="none" stroke-width="0.5" opacity="0.8"/><circle cx="297.57" cy="127.03" r="0.37" fill="#e8f0ff" stroke="none" stroke-width="0.5" opacity="0.8"/><circle cx="310.67" cy="115.74" r="0.27" fill="#e8f0ff" stroke="none" stroke-width="0.5" opacity="0.8"/><circle cx="304.7" cy="124.13" r="0.32" fill="#e8f0ff" stroke="none" stroke-width="0.5" opacity="0.8"/><circle cx="295.48" cy="114.32" r="0.49" fill="#e8f0ff" stroke="none" stroke-width="0.5" opacity="0.8"/><circle cx="306.89" cy="109.6" r="0.31" fill="#e8f0ff" stroke="none" stroke-width="0.5" opacity="0.8"/><circle cx="295.72" cy="108.32" r="0.45" fill="#e8f0ff" stroke="none" stroke-width="0.5" opacity="0.8"/><circle cx="297.02" cy="119.3" r="0.36" fill="#e8f0ff" stroke="none" stroke-width="0.5" opacity="0.8"/><circle cx="297.24" cy="123.1" r="0.28" fill="#e8f0ff" stroke="none" stroke-width="0.5" opacity="0.8"/><circle cx="304.94" cy="109.56" r="0.36" fill="#e8f0ff" stroke="none" stroke-width="0.5" opacity="0.8"/><circle cx="297.62" cy="112.94" r="0.49" fill="#e8f0ff" stroke="none" stroke-width="0.5" opacity="0.8"/><circle cx="307.66" cy="113.69" r="0.47" fill="#e8f0ff" stroke="none" stroke-width="0.5" opacity="0.8"/><circle cx="297.58" cy="115.67" r="0.46" fill="#e8f0ff" stroke="none" stroke-width="0.5" opacity="0.8"/><circle cx="304.91" cy="109.21" r="0.5" fill="#e8f0ff" stroke="none" stroke-width="0.5" opacity="0.8"/><circle cx="297.63" cy="112.68" r="0.44" fill="#e8f0ff" stroke="none" stroke-width="0.5" opacity="0.8"/><circle cx="299.59" cy="113.52" r="0.27" fill="#e8f0ff" stroke="none" stroke-width="0.5" opacity="0.8"/><circle cx="295.53" cy="119.82" r="0.31" fill="#e8f0ff" stroke="none" stroke-width="0.5" opacity="0.8"/><circle cx="304.22" cy="115.18" r="0.36" fill="#e8f0ff" stroke="none" stroke-width="0.5" opacity="0.8"/><circle cx="310.31" cy="117.64" r="0.39" fill="#e8f0ff" stroke="none" stroke-width="0.5" opacity="0.8"/><circle cx="308.73" cy="111.02" r="0.29" fill="#e8f0ff" stroke="none" stroke-width="0.5" opacity="0.8"/><circle cx="309.44" cy="124.99" r="0.31" fill="#e8f0ff" stroke="none" stroke-width="0.5" opacity="0.8"/><circle cx="297.23" cy="123.27" r="0.49" fill="#e8f0ff" stroke="none" stroke-width="0.5" opacity="0.8"/><circle cx="297.34" cy="127.9" r="0.47" fill="#e8f0ff" stroke="none" stroke-width="0.5" opacity="0.8"/><circle cx="304.26" cy="116.27" r="0.28" fill="#e8f0ff" stroke="none" stroke-width="0.5" opacity="0.8"/><circle cx="294.66" cy="128.18" r="0.31" fill="#e8f0ff" stroke="none" stroke-width="0.5" opacity="0.8"/><circle cx="305.98" cy="112.65" r="0.46" fill="#e8f0ff" stroke="none" stroke-width="0.5" opacity="0.8"/><circle cx="304.14" cy="113.46" r="0.29" fill="#e8f0ff" stroke="none" stroke-width="0.5" opacity="0.8"/><circle cx="306.25" cy="108.51" r="0.31" fill="#e8f0ff" stroke="none" stroke-width="0.5" opacity="0.8"/><circle cx="303.51" cy="125.75" r="0.4" fill="#e8f0ff" stroke="none" stroke-width="0.5" opacity="0.8"/><circle cx="298.76" cy="127.18" r="0.3" fill="#e8f0ff" stroke="none" stroke-width="0.5" opacity="0.8"/><circle cx="294.28" cy="112.92" r="0.36" fill="#e8f0ff" stroke="none" stroke-width="0.5" opacity="0.8"/><circle cx="295.03" cy="110.88" r="0.34" fill="#e8f0ff" stroke="none" stroke-width="0.5" opacity="0.8"/><circle cx="303.73" cy="109.89" r="0.34" fill="#e8f0ff" stroke="none" stroke-width="0.5" opacity="0.8"/><circle cx="309.15" cy="128.57" r="0.41" fill="#e8f0ff" stroke="none" stroke-width="0.5" opacity="0.8"/><circle cx="305.75" cy="119.86" r="0.29" fill="#e8f0ff" stroke="none" stroke-width="0.5" opacity="0.8"/><circle cx="294.6" cy="107.39" r="0.48" fill="#e8f0ff" stroke="none" stroke-width="0.5" opacity="0.8"/><circle cx="305.92" cy="128.18" r="0.26" fill="#e8f0ff" stroke="none" stroke-width="0.5" opacity="0.8"/><circle cx="304.82" cy="117.61" r="0.43" fill="#e8f0ff" stroke="none" stroke-width="0.5" opacity="0.8"/><circle cx="299.42" cy="128.99" r="0.27" fill="#e8f0ff" stroke="none" stroke-width="0.5" opacity="0.8"/><circle cx="303.28" cy="123.21" r="0.48" fill="#e8f0ff" stroke="none" stroke-width="0.5" opacity="0.8"/><circle cx="306.53" cy="122.48" r="0.45" fill="#e8f0ff" stroke="none" stroke-width="0.5" opacity="0.8"/><circle cx="309.56" cy="114.74" r="0.42" fill="#e8f0ff" stroke="none" stroke-width="0.5" opacity="0.8"/><circle cx="309.31" cy="126.16" r="0.35" fill="#e8f0ff" stroke="none" stroke-width="0.5" opacity="0.8"/><circle cx="307.44" cy="126" r="0.39" fill="#e8f0ff" stroke="none" stroke-width="0.5" opacity="0.8"/></g><path d="M323.5,107.5 C324.42,107.83 327.58,108.25 329,109.5 C330.42,110.75 331.5,112.92 332,115 C332.5,117.08 332.5,120 332,122 C331.5,124 330.42,125.92 329,127 C327.58,128.08 325.33,128.5 323.5,128.5 C321.67,128.5 319.37,128.25 318,127 C316.63,125.75 315.72,123.17 315.3,121 C314.88,118.83 315.05,115.92 315.5,114 C315.95,112.08 316.67,110.58 318,109.5 C319.33,108.42 322.58,107.83 323.5,107.5 Z" stroke="none" fill="#30b8c0" stroke-width="0.5" /><g clip-path="url(#cc2)"><ellipse cx="319" cy="121" rx="4.5" ry="5" fill="#40d040" stroke="none" stroke-width="0.5" filter="url(#bl1)" opacity="0.9"/><ellipse cx="323" cy="111" rx="6" ry="3" fill="#2a68d8" stroke="none" stroke-width="0.5" filter="url(#bl1)" opacity="0.9"/><ellipse cx="330" cy="118" rx="3" ry="6" fill="#2a90d0" stroke="none" stroke-width="0.5" filter="url(#bl1)" opacity="0.8"/><ellipse cx="324" cy="125" rx="4" ry="3" fill="#60d070" stroke="none" stroke-width="0.5" filter="url(#bl1)" opacity="0.7"/><line x1="320.71" y1="120.52" x2="322.13" y2="121.94" stroke="#ffffff" stroke-width="0.3" opacity="0.3"/><line x1="318.63" y1="108.65" x2="320.57" y2="110.59" stroke="#ffffff" stroke-width="0.36" opacity="0.3"/><line x1="330.85" y1="117.1" x2="332.61" y2="118.86" stroke="#ffffff" stroke-width="0.32" opacity="0.3"/><line x1="315.81" y1="121.11" x2="317.74" y2="123.05" stroke="#10206a" stroke-width="0.43" opacity="0.3"/><line x1="322.6" y1="127.37" x2="326.74" y2="131.51" stroke="#ffffff" stroke-width="0.37" opacity="0.3"/><line x1="317.9" y1="124.46" x2="321.75" y2="123.31" stroke="#10206a" stroke-width="0.37" opacity="0.3"/><line x1="319.5" y1="111.88" x2="320.98" y2="113.36" stroke="#ffffff" stroke-width="0.27" opacity="0.3"/><line x1="317.62" y1="117.53" x2="321.18" y2="116.46" stroke="#10206a" stroke-width="0.44" opacity="0.3"/><line x1="318.72" y1="120.55" x2="320.57" y2="120" stroke="#10206a" stroke-width="0.36" opacity="0.3"/><line x1="319.65" y1="121.62" x2="323.15" y2="120.57" stroke="#ffffff" stroke-width="0.4" opacity="0.3"/><line x1="315.71" y1="125.26" x2="317.73" y2="124.65" stroke="#ffffff" stroke-width="0.42" opacity="0.3"/><line x1="328.96" y1="125.7" x2="333.03" y2="124.48" stroke="#ffffff" stroke-width="0.45" opacity="0.3"/><line x1="323.65" y1="117.32" x2="325.4" y2="119.08" stroke="#ffffff" stroke-width="0.45" opacity="0.3"/><line x1="322.66" y1="124.76" x2="325.25" y2="123.98" stroke="#10206a" stroke-width="0.33" opacity="0.3"/><line x1="327.32" y1="120.59" x2="330.26" y2="119.71" stroke="#ffffff" stroke-width="0.44" opacity="0.3"/><line x1="322.11" y1="117.04" x2="325.32" y2="116.07" stroke="#ffffff" stroke-width="0.25" opacity="0.3"/><line x1="322.36" y1="108.85" x2="324.45" y2="110.95" stroke="#10206a" stroke-width="0.39" opacity="0.3"/><line x1="324.57" y1="114.73" x2="327.31" y2="113.91" stroke="#10206a" stroke-width="0.27" opacity="0.3"/><line x1="324.23" y1="120.75" x2="326.49" y2="120.07" stroke="#ffffff" stroke-width="0.42" opacity="0.3"/><line x1="315.67" y1="113.14" x2="317.97" y2="112.45" stroke="#10206a" stroke-width="0.45" opacity="0.3"/><line x1="317.06" y1="116.95" x2="319.77" y2="116.14" stroke="#10206a" stroke-width="0.28" opacity="0.3"/><line x1="327.73" y1="124.03" x2="330.74" y2="123.13" stroke="#10206a" stroke-width="0.29" opacity="0.3"/><line x1="326.36" y1="116.97" x2="329.48" y2="120.09" stroke="#ffffff" stroke-width="0.36" opacity="0.3"/><line x1="324.23" y1="123.03" x2="326.29" y2="125.09" stroke="#ffffff" stroke-width="0.45" opacity="0.3"/><line x1="327.83" y1="115.09" x2="329.26" y2="116.53" stroke="#ffffff" stroke-width="0.39" opacity="0.3"/><line x1="317.88" y1="123.27" x2="319.3" y2="122.85" stroke="#ffffff" stroke-width="0.25" opacity="0.3"/><line x1="316.24" y1="125.79" x2="317.94" y2="125.28" stroke="#ffffff" stroke-width="0.42" opacity="0.3"/><line x1="331.42" y1="113.01" x2="335.43" y2="117.03" stroke="#ffffff" stroke-width="0.3" opacity="0.3"/><circle cx="322.69" cy="119.31" r="0.48" fill="#e8f0ff" stroke="none" stroke-width="0.5" opacity="0.8"/><circle cx="322.92" cy="118.17" r="0.4" fill="#e8f0ff" stroke="none" stroke-width="0.5" opacity="0.8"/><circle cx="318.14" cy="118.26" r="0.41" fill="#e8f0ff" stroke="none" stroke-width="0.5" opacity="0.8"/><circle cx="328.48" cy="109.07" r="0.33" fill="#e8f0ff" stroke="none" stroke-width="0.5" opacity="0.8"/><circle cx="316.54" cy="124.81" r="0.42" fill="#e8f0ff" stroke="none" stroke-width="0.5" opacity="0.8"/><circle cx="315.71" cy="128.61" r="0.49" fill="#e8f0ff" stroke="none" stroke-width="0.5" opacity="0.8"/><circle cx="326.12" cy="120.54" r="0.29" fill="#e8f0ff" stroke="none" stroke-width="0.5" opacity="0.8"/><circle cx="315.26" cy="118.62" r="0.26" fill="#e8f0ff" stroke="none" stroke-width="0.5" opacity="0.8"/><circle cx="318.23" cy="112.32" r="0.26" fill="#e8f0ff" stroke="none" stroke-width="0.5" opacity="0.8"/><circle cx="322.89" cy="116.69" r="0.46" fill="#e8f0ff" stroke="none" stroke-width="0.5" opacity="0.8"/><circle cx="323.83" cy="121.09" r="0.37" fill="#e8f0ff" stroke="none" stroke-width="0.5" opacity="0.8"/><circle cx="326.26" cy="117.06" r="0.32" fill="#e8f0ff" stroke="none" stroke-width="0.5" opacity="0.8"/><circle cx="331.96" cy="128.91" r="0.46" fill="#e8f0ff" stroke="none" stroke-width="0.5" opacity="0.8"/><circle cx="327.03" cy="113.94" r="0.31" fill="#e8f0ff" stroke="none" stroke-width="0.5" opacity="0.8"/><circle cx="319.91" cy="108.54" r="0.44" fill="#e8f0ff" stroke="none" stroke-width="0.5" opacity="0.8"/><circle cx="321.81" cy="125.62" r="0.35" fill="#e8f0ff" stroke="none" stroke-width="0.5" opacity="0.8"/><circle cx="331.29" cy="125.64" r="0.25" fill="#e8f0ff" stroke="none" stroke-width="0.5" opacity="0.8"/><circle cx="318.57" cy="127.03" r="0.37" fill="#e8f0ff" stroke="none" stroke-width="0.5" opacity="0.8"/><circle cx="331.67" cy="115.74" r="0.27" fill="#e8f0ff" stroke="none" stroke-width="0.5" opacity="0.8"/><circle cx="325.7" cy="124.13" r="0.32" fill="#e8f0ff" stroke="none" stroke-width="0.5" opacity="0.8"/><circle cx="316.48" cy="114.32" r="0.49" fill="#e8f0ff" stroke="none" stroke-width="0.5" opacity="0.8"/><circle cx="327.89" cy="109.6" r="0.31" fill="#e8f0ff" stroke="none" stroke-width="0.5" opacity="0.8"/><circle cx="316.72" cy="108.32" r="0.45" fill="#e8f0ff" stroke="none" stroke-width="0.5" opacity="0.8"/><circle cx="318.02" cy="119.3" r="0.36" fill="#e8f0ff" stroke="none" stroke-width="0.5" opacity="0.8"/><circle cx="318.24" cy="123.1" r="0.28" fill="#e8f0ff" stroke="none" stroke-width="0.5" opacity="0.8"/><circle cx="325.94" cy="109.56" r="0.36" fill="#e8f0ff" stroke="none" stroke-width="0.5" opacity="0.8"/><circle cx="318.62" cy="112.94" r="0.49" fill="#e8f0ff" stroke="none" stroke-width="0.5" opacity="0.8"/><circle cx="328.66" cy="113.69" r="0.47" fill="#e8f0ff" stroke="none" stroke-width="0.5" opacity="0.8"/><circle cx="318.58" cy="115.67" r="0.46" fill="#e8f0ff" stroke="none" stroke-width="0.5" opacity="0.8"/><circle cx="325.91" cy="109.21" r="0.5" fill="#e8f0ff" stroke="none" stroke-width="0.5" opacity="0.8"/><circle cx="318.63" cy="112.68" r="0.44" fill="#e8f0ff" stroke="none" stroke-width="0.5" opacity="0.8"/><circle cx="320.59" cy="113.52" r="0.27" fill="#e8f0ff" stroke="none" stroke-width="0.5" opacity="0.8"/><circle cx="316.53" cy="119.82" r="0.31" fill="#e8f0ff" stroke="none" stroke-width="0.5" opacity="0.8"/><circle cx="325.22" cy="115.18" r="0.36" fill="#e8f0ff" stroke="none" stroke-width="0.5" opacity="0.8"/><circle cx="331.31" cy="117.64" r="0.39" fill="#e8f0ff" stroke="none" stroke-width="0.5" opacity="0.8"/><circle cx="329.73" cy="111.02" r="0.29" fill="#e8f0ff" stroke="none" stroke-width="0.5" opacity="0.8"/><circle cx="330.44" cy="124.99" r="0.31" fill="#e8f0ff" stroke="none" stroke-width="0.5" opacity="0.8"/><circle cx="318.23" cy="123.27" r="0.49" fill="#e8f0ff" stroke="none" stroke-width="0.5" opacity="0.8"/><circle cx="318.34" cy="127.9" r="0.47" fill="#e8f0ff" stroke="none" stroke-width="0.5" opacity="0.8"/><circle cx="325.26" cy="116.27" r="0.28" fill="#e8f0ff" stroke="none" stroke-width="0.5" opacity="0.8"/><circle cx="315.66" cy="128.18" r="0.31" fill="#e8f0ff" stroke="none" stroke-width="0.5" opacity="0.8"/><circle cx="326.98" cy="112.65" r="0.46" fill="#e8f0ff" stroke="none" stroke-width="0.5" opacity="0.8"/><circle cx="325.14" cy="113.46" r="0.29" fill="#e8f0ff" stroke="none" stroke-width="0.5" opacity="0.8"/><circle cx="327.25" cy="108.51" r="0.31" fill="#e8f0ff" stroke="none" stroke-width="0.5" opacity="0.8"/><circle cx="324.51" cy="125.75" r="0.4" fill="#e8f0ff" stroke="none" stroke-width="0.5" opacity="0.8"/><circle cx="319.76" cy="127.18" r="0.3" fill="#e8f0ff" stroke="none" stroke-width="0.5" opacity="0.8"/><circle cx="315.28" cy="112.92" r="0.36" fill="#e8f0ff" stroke="none" stroke-width="0.5" opacity="0.8"/><circle cx="316.03" cy="110.88" r="0.34" fill="#e8f0ff" stroke="none" stroke-width="0.5" opacity="0.8"/><circle cx="324.73" cy="109.89" r="0.34" fill="#e8f0ff" stroke="none" stroke-width="0.5" opacity="0.8"/><circle cx="330.15" cy="128.57" r="0.41" fill="#e8f0ff" stroke="none" stroke-width="0.5" opacity="0.8"/></g><path d="M344.3,108 C345.25,108.33 348.47,108.67 350,110 C351.53,111.33 352.92,113.83 353.5,116 C354.08,118.17 354.08,121 353.5,123 C352.92,125 351.53,126.92 350,128 C348.47,129.08 346.22,129.5 344.3,129.5 C342.38,129.5 340.02,129.25 338.5,128 C336.98,126.75 335.73,124.17 335.2,122 C334.67,119.83 334.75,117 335.3,115 C335.85,113 337,111.17 338.5,110 C340,108.83 343.33,108.33 344.3,108 Z" stroke="none" fill="#60c848" stroke-width="0.5" /><g clip-path="url(#cc3)"><ellipse cx="344" cy="110.5" rx="6" ry="3" fill="#30a0d8" stroke="none" stroke-width="0.5" filter="url(#bl1)" opacity="0.9"/><ellipse cx="337.5" cy="120" rx="2.5" ry="3.5" fill="#c06018" stroke="none" stroke-width="0.5" filter="url(#bl05)" opacity="0.9"/><ellipse cx="342" cy="120" rx="4" ry="4" fill="#c0d030" stroke="none" stroke-width="0.5" filter="url(#bl1)" opacity="0.8"/><ellipse cx="351" cy="118" rx="2.5" ry="6" fill="#30c0a0" stroke="none" stroke-width="0.5" filter="url(#bl1)" opacity="0.8"/><ellipse cx="345" cy="127" rx="5" ry="2" fill="#40c8a0" stroke="none" stroke-width="0.5" filter="url(#bl1)" opacity="0.7"/><line x1="336.54" y1="120.78" x2="340.71" y2="119.53" stroke="#ffffff" stroke-width="0.36" opacity="0.3"/><line x1="342.05" y1="123.9" x2="345.37" y2="127.22" stroke="#ffffff" stroke-width="0.39" opacity="0.3"/><line x1="339.46" y1="111.08" x2="340.93" y2="112.56" stroke="#10206a" stroke-width="0.41" opacity="0.3"/><line x1="343.38" y1="124.61" x2="345.04" y2="124.11" stroke="#ffffff" stroke-width="0.25" opacity="0.3"/><line x1="342.83" y1="113.46" x2="345.2" y2="115.83" stroke="#10206a" stroke-width="0.42" opacity="0.3"/><line x1="346.82" y1="115.52" x2="349.62" y2="118.31" stroke="#10206a" stroke-width="0.44" opacity="0.3"/><line x1="351.77" y1="120.28" x2="353.6" y2="122.11" stroke="#ffffff" stroke-width="0.26" opacity="0.3"/><line x1="342.86" y1="116.11" x2="346.64" y2="119.89" stroke="#10206a" stroke-width="0.26" opacity="0.3"/><line x1="343.28" y1="108.89" x2="346.54" y2="107.91" stroke="#ffffff" stroke-width="0.42" opacity="0.3"/><line x1="352.32" y1="113.04" x2="355.92" y2="111.96" stroke="#ffffff" stroke-width="0.44" opacity="0.3"/><line x1="336.65" y1="117.81" x2="340.8" y2="121.96" stroke="#ffffff" stroke-width="0.31" opacity="0.3"/><line x1="340.87" y1="115.78" x2="345.05" y2="119.96" stroke="#ffffff" stroke-width="0.3" opacity="0.3"/><line x1="351.2" y1="111.16" x2="352.88" y2="112.84" stroke="#ffffff" stroke-width="0.38" opacity="0.3"/><line x1="338.93" y1="120.44" x2="341.22" y2="122.73" stroke="#ffffff" stroke-width="0.31" opacity="0.3"/><line x1="343.23" y1="115.6" x2="346.46" y2="118.83" stroke="#ffffff" stroke-width="0.36" opacity="0.3"/><line x1="344.31" y1="111.31" x2="348.17" y2="110.16" stroke="#ffffff" stroke-width="0.39" opacity="0.3"/><line x1="352.99" y1="120.19" x2="356.81" y2="124.01" stroke="#ffffff" stroke-width="0.35" opacity="0.3"/><line x1="351.64" y1="119.08" x2="354.12" y2="121.55" stroke="#10206a" stroke-width="0.42" opacity="0.3"/><line x1="352.93" y1="118.93" x2="355.52" y2="118.15" stroke="#ffffff" stroke-width="0.36" opacity="0.3"/><line x1="339.17" y1="129.19" x2="342.59" y2="128.17" stroke="#ffffff" stroke-width="0.37" opacity="0.3"/><line x1="336.36" y1="110.3" x2="337.88" y2="111.82" stroke="#10206a" stroke-width="0.37" opacity="0.3"/><line x1="348.26" y1="121.72" x2="350.55" y2="121.04" stroke="#ffffff" stroke-width="0.25" opacity="0.3"/><line x1="349.96" y1="119.36" x2="351.89" y2="121.29" stroke="#ffffff" stroke-width="0.31" opacity="0.3"/><line x1="342.24" y1="123.04" x2="343.84" y2="122.56" stroke="#ffffff" stroke-width="0.41" opacity="0.3"/><line x1="335.68" y1="110.34" x2="337.98" y2="112.65" stroke="#ffffff" stroke-width="0.38" opacity="0.3"/><line x1="341.26" y1="126.32" x2="342.92" y2="127.97" stroke="#10206a" stroke-width="0.38" opacity="0.3"/><line x1="353.4" y1="113.25" x2="356.76" y2="116.61" stroke="#10206a" stroke-width="0.41" opacity="0.3"/><line x1="345.04" y1="120.06" x2="348.08" y2="119.15" stroke="#ffffff" stroke-width="0.34" opacity="0.3"/><circle cx="343.6" cy="119.87" r="0.48" fill="#f0fff0" stroke="none" stroke-width="0.5" opacity="0.8"/><circle cx="343.85" cy="118.68" r="0.4" fill="#f0fff0" stroke="none" stroke-width="0.5" opacity="0.8"/><circle cx="338.51" cy="118.77" r="0.41" fill="#f0fff0" stroke="none" stroke-width="0.5" opacity="0.8"/><circle cx="350.07" cy="109.16" r="0.33" fill="#f0fff0" stroke="none" stroke-width="0.5" opacity="0.8"/><circle cx="336.72" cy="125.62" r="0.42" fill="#f0fff0" stroke="none" stroke-width="0.5" opacity="0.8"/><circle cx="335.8" cy="129.59" r="0.49" fill="#f0fff0" stroke="none" stroke-width="0.5" opacity="0.8"/><circle cx="347.42" cy="121.16" r="0.29" fill="#f0fff0" stroke="none" stroke-width="0.5" opacity="0.8"/><circle cx="335.29" cy="119.15" r="0.26" fill="#f0fff0" stroke="none" stroke-width="0.5" opacity="0.8"/><circle cx="338.61" cy="112.56" r="0.26" fill="#f0fff0" stroke="none" stroke-width="0.5" opacity="0.8"/><circle cx="343.81" cy="117.13" r="0.46" fill="#f0fff0" stroke="none" stroke-width="0.5" opacity="0.8"/><circle cx="344.86" cy="121.73" r="0.37" fill="#f0fff0" stroke="none" stroke-width="0.5" opacity="0.8"/><circle cx="347.59" cy="117.52" r="0.32" fill="#f0fff0" stroke="none" stroke-width="0.5" opacity="0.8"/><circle cx="353.96" cy="129.9" r="0.46" fill="#f0fff0" stroke="none" stroke-width="0.5" opacity="0.8"/><circle cx="348.45" cy="114.25" r="0.31" fill="#f0fff0" stroke="none" stroke-width="0.5" opacity="0.8"/><circle cx="340.49" cy="108.62" r="0.44" fill="#f0fff0" stroke="none" stroke-width="0.5" opacity="0.8"/><circle cx="342.61" cy="126.47" r="0.35" fill="#f0fff0" stroke="none" stroke-width="0.5" opacity="0.8"/><circle cx="353.2" cy="126.49" r="0.25" fill="#f0fff0" stroke="none" stroke-width="0.5" opacity="0.8"/><circle cx="338.98" cy="127.94" r="0.37" fill="#f0fff0" stroke="none" stroke-width="0.5" opacity="0.8"/><circle cx="353.63" cy="116.14" r="0.27" fill="#f0fff0" stroke="none" stroke-width="0.5" opacity="0.8"/><circle cx="346.96" cy="124.91" r="0.32" fill="#f0fff0" stroke="none" stroke-width="0.5" opacity="0.8"/><circle cx="336.66" cy="114.65" r="0.49" fill="#f0fff0" stroke="none" stroke-width="0.5" opacity="0.8"/><circle cx="349.4" cy="109.71" r="0.31" fill="#f0fff0" stroke="none" stroke-width="0.5" opacity="0.8"/><circle cx="336.92" cy="108.38" r="0.45" fill="#f0fff0" stroke="none" stroke-width="0.5" opacity="0.8"/><circle cx="338.38" cy="119.86" r="0.36" fill="#f0fff0" stroke="none" stroke-width="0.5" opacity="0.8"/><circle cx="338.62" cy="123.83" r="0.28" fill="#f0fff0" stroke="none" stroke-width="0.5" opacity="0.8"/><circle cx="347.23" cy="109.68" r="0.36" fill="#f0fff0" stroke="none" stroke-width="0.5" opacity="0.8"/><circle cx="339.04" cy="113.21" r="0.49" fill="#f0fff0" stroke="none" stroke-width="0.5" opacity="0.8"/><circle cx="350.26" cy="114" r="0.47" fill="#f0fff0" stroke="none" stroke-width="0.5" opacity="0.8"/><circle cx="339" cy="116.07" r="0.46" fill="#f0fff0" stroke="none" stroke-width="0.5" opacity="0.8"/><circle cx="347.19" cy="109.31" r="0.5" fill="#f0fff0" stroke="none" stroke-width="0.5" opacity="0.8"/><circle cx="339.05" cy="112.94" r="0.44" fill="#f0fff0" stroke="none" stroke-width="0.5" opacity="0.8"/><circle cx="341.25" cy="113.82" r="0.27" fill="#f0fff0" stroke="none" stroke-width="0.5" opacity="0.8"/><circle cx="336.71" cy="120.4" r="0.31" fill="#f0fff0" stroke="none" stroke-width="0.5" opacity="0.8"/><circle cx="346.42" cy="115.55" r="0.36" fill="#f0fff0" stroke="none" stroke-width="0.5" opacity="0.8"/><circle cx="353.22" cy="118.13" r="0.39" fill="#f0fff0" stroke="none" stroke-width="0.5" opacity="0.8"/><circle cx="351.46" cy="111.21" r="0.29" fill="#f0fff0" stroke="none" stroke-width="0.5" opacity="0.8"/><circle cx="352.26" cy="125.81" r="0.31" fill="#f0fff0" stroke="none" stroke-width="0.5" opacity="0.8"/><circle cx="338.61" cy="124.01" r="0.49" fill="#f0fff0" stroke="none" stroke-width="0.5" opacity="0.8"/><circle cx="338.74" cy="128.85" r="0.47" fill="#f0fff0" stroke="none" stroke-width="0.5" opacity="0.8"/><circle cx="346.47" cy="116.69" r="0.28" fill="#f0fff0" stroke="none" stroke-width="0.5" opacity="0.8"/><circle cx="335.74" cy="129.14" r="0.31" fill="#f0fff0" stroke="none" stroke-width="0.5" opacity="0.8"/><circle cx="348.39" cy="112.91" r="0.46" fill="#f0fff0" stroke="none" stroke-width="0.5" opacity="0.8"/><circle cx="346.33" cy="113.75" r="0.29" fill="#f0fff0" stroke="none" stroke-width="0.5" opacity="0.8"/><circle cx="348.69" cy="108.58" r="0.31" fill="#f0fff0" stroke="none" stroke-width="0.5" opacity="0.8"/><circle cx="345.63" cy="126.61" r="0.4" fill="#f0fff0" stroke="none" stroke-width="0.5" opacity="0.8"/></g><path d="M365.3,108 C366.25,108.33 369.5,108.67 371,110 C372.5,111.33 373.75,113.83 374.3,116 C374.85,118.17 374.85,121 374.3,123 C373.75,125 372.5,126.92 371,128 C369.5,129.08 367.22,129.5 365.3,129.5 C363.38,129.5 361,129.25 359.5,128 C358,126.75 356.8,124.17 356.3,122 C355.8,119.83 355.97,117 356.5,115 C357.03,113 358.03,111.17 359.5,110 C360.97,108.83 364.33,108.33 365.3,108 Z" stroke="none" fill="#2a2ad0" stroke-width="0.5" /><g clip-path="url(#cc4)"><ellipse cx="365" cy="118" rx="5" ry="7" fill="#2020b8" stroke="none" stroke-width="0.5" filter="url(#bl1)" opacity="0.8"/><ellipse cx="370" cy="113" rx="3" ry="3" fill="#3a40e0" stroke="none" stroke-width="0.5" filter="url(#bl1)" opacity="0.7"/><line x1="361.34" y1="118.8" x2="364.32" y2="117.9" stroke="#10206a" stroke-width="0.37" opacity="0.3"/><line x1="365.07" y1="119.13" x2="367.04" y2="121.1" stroke="#ffffff" stroke-width="0.3" opacity="0.3"/><line x1="370.34" y1="108.55" x2="372.72" y2="107.83" stroke="#10206a" stroke-width="0.36" opacity="0.3"/><line x1="364.1" y1="126.39" x2="368.13" y2="130.42" stroke="#ffffff" stroke-width="0.42" opacity="0.3"/><line x1="364.66" y1="125.16" x2="368.53" y2="129.03" stroke="#ffffff" stroke-width="0.25" opacity="0.3"/><line x1="371.92" y1="125.3" x2="375.92" y2="129.3" stroke="#ffffff" stroke-width="0.35" opacity="0.3"/><line x1="372.62" y1="117.24" x2="374.25" y2="118.87" stroke="#ffffff" stroke-width="0.44" opacity="0.3"/><line x1="358.67" y1="111.07" x2="361.37" y2="110.26" stroke="#ffffff" stroke-width="0.36" opacity="0.3"/><line x1="362.59" y1="114.53" x2="364.15" y2="116.09" stroke="#10206a" stroke-width="0.33" opacity="0.3"/><line x1="357.36" y1="123.46" x2="359.01" y2="122.96" stroke="#ffffff" stroke-width="0.32" opacity="0.3"/><line x1="365.11" y1="110.94" x2="369.1" y2="109.74" stroke="#10206a" stroke-width="0.33" opacity="0.3"/><line x1="369.12" y1="109.74" x2="370.61" y2="111.24" stroke="#ffffff" stroke-width="0.44" opacity="0.3"/><line x1="372.45" y1="119.5" x2="375.39" y2="122.44" stroke="#ffffff" stroke-width="0.29" opacity="0.3"/><line x1="357.11" y1="110.35" x2="360.53" y2="113.78" stroke="#ffffff" stroke-width="0.44" opacity="0.3"/><line x1="358.75" y1="108.58" x2="362.15" y2="107.56" stroke="#ffffff" stroke-width="0.38" opacity="0.3"/><line x1="368.45" y1="108.37" x2="372.32" y2="112.25" stroke="#ffffff" stroke-width="0.3" opacity="0.3"/><line x1="371.02" y1="129.02" x2="375.19" y2="133.19" stroke="#10206a" stroke-width="0.41" opacity="0.3"/><line x1="357.59" y1="121.11" x2="359.71" y2="120.47" stroke="#10206a" stroke-width="0.29" opacity="0.3"/><line x1="370.11" y1="115.45" x2="372.74" y2="114.66" stroke="#10206a" stroke-width="0.33" opacity="0.3"/><line x1="372.41" y1="114.46" x2="375.28" y2="117.33" stroke="#10206a" stroke-width="0.32" opacity="0.3"/><line x1="357.55" y1="120.81" x2="360.33" y2="119.98" stroke="#ffffff" stroke-width="0.27" opacity="0.3"/><line x1="373.82" y1="126.26" x2="377.74" y2="125.08" stroke="#10206a" stroke-width="0.33" opacity="0.3"/><line x1="356.31" y1="112.32" x2="359.33" y2="115.33" stroke="#ffffff" stroke-width="0.32" opacity="0.3"/><line x1="370.88" y1="118.4" x2="374.44" y2="117.33" stroke="#ffffff" stroke-width="0.25" opacity="0.3"/><line x1="364.27" y1="124.29" x2="367.02" y2="123.47" stroke="#ffffff" stroke-width="0.42" opacity="0.3"/><line x1="362.9" y1="128.06" x2="366.33" y2="131.49" stroke="#ffffff" stroke-width="0.38" opacity="0.3"/><line x1="367.98" y1="120.68" x2="371.3" y2="119.69" stroke="#ffffff" stroke-width="0.4" opacity="0.3"/><line x1="367.06" y1="124.84" x2="370.6" y2="128.37" stroke="#ffffff" stroke-width="0.33" opacity="0.3"/><circle cx="364.6" cy="119.87" r="0.48" fill="#dcdcff" stroke="none" stroke-width="0.5" opacity="0.8"/><circle cx="364.85" cy="118.68" r="0.4" fill="#dcdcff" stroke="none" stroke-width="0.5" opacity="0.8"/><circle cx="359.51" cy="118.77" r="0.41" fill="#dcdcff" stroke="none" stroke-width="0.5" opacity="0.8"/><circle cx="371.07" cy="109.16" r="0.33" fill="#dcdcff" stroke="none" stroke-width="0.5" opacity="0.8"/><circle cx="357.72" cy="125.62" r="0.42" fill="#dcdcff" stroke="none" stroke-width="0.5" opacity="0.8"/><circle cx="356.8" cy="129.59" r="0.49" fill="#dcdcff" stroke="none" stroke-width="0.5" opacity="0.8"/><circle cx="368.42" cy="121.16" r="0.29" fill="#dcdcff" stroke="none" stroke-width="0.5" opacity="0.8"/><circle cx="356.29" cy="119.15" r="0.26" fill="#dcdcff" stroke="none" stroke-width="0.5" opacity="0.8"/><circle cx="359.61" cy="112.56" r="0.26" fill="#dcdcff" stroke="none" stroke-width="0.5" opacity="0.8"/><circle cx="364.81" cy="117.13" r="0.46" fill="#dcdcff" stroke="none" stroke-width="0.5" opacity="0.8"/><circle cx="365.86" cy="121.73" r="0.37" fill="#dcdcff" stroke="none" stroke-width="0.5" opacity="0.8"/><circle cx="368.59" cy="117.52" r="0.32" fill="#dcdcff" stroke="none" stroke-width="0.5" opacity="0.8"/><circle cx="374.96" cy="129.9" r="0.46" fill="#dcdcff" stroke="none" stroke-width="0.5" opacity="0.8"/><circle cx="369.45" cy="114.25" r="0.31" fill="#dcdcff" stroke="none" stroke-width="0.5" opacity="0.8"/><circle cx="361.49" cy="108.62" r="0.44" fill="#dcdcff" stroke="none" stroke-width="0.5" opacity="0.8"/><circle cx="363.61" cy="126.47" r="0.35" fill="#dcdcff" stroke="none" stroke-width="0.5" opacity="0.8"/><circle cx="374.2" cy="126.49" r="0.25" fill="#dcdcff" stroke="none" stroke-width="0.5" opacity="0.8"/><circle cx="359.98" cy="127.94" r="0.37" fill="#dcdcff" stroke="none" stroke-width="0.5" opacity="0.8"/><circle cx="374.63" cy="116.14" r="0.27" fill="#dcdcff" stroke="none" stroke-width="0.5" opacity="0.8"/><circle cx="367.96" cy="124.91" r="0.32" fill="#dcdcff" stroke="none" stroke-width="0.5" opacity="0.8"/><circle cx="357.66" cy="114.65" r="0.49" fill="#dcdcff" stroke="none" stroke-width="0.5" opacity="0.8"/><circle cx="370.4" cy="109.71" r="0.31" fill="#dcdcff" stroke="none" stroke-width="0.5" opacity="0.8"/><circle cx="357.92" cy="108.38" r="0.45" fill="#dcdcff" stroke="none" stroke-width="0.5" opacity="0.8"/><circle cx="359.38" cy="119.86" r="0.36" fill="#dcdcff" stroke="none" stroke-width="0.5" opacity="0.8"/><circle cx="359.62" cy="123.83" r="0.28" fill="#dcdcff" stroke="none" stroke-width="0.5" opacity="0.8"/><circle cx="368.23" cy="109.68" r="0.36" fill="#dcdcff" stroke="none" stroke-width="0.5" opacity="0.8"/><circle cx="360.04" cy="113.21" r="0.49" fill="#dcdcff" stroke="none" stroke-width="0.5" opacity="0.8"/><circle cx="371.26" cy="114" r="0.47" fill="#dcdcff" stroke="none" stroke-width="0.5" opacity="0.8"/><circle cx="360" cy="116.07" r="0.46" fill="#dcdcff" stroke="none" stroke-width="0.5" opacity="0.8"/><circle cx="368.19" cy="109.31" r="0.5" fill="#dcdcff" stroke="none" stroke-width="0.5" opacity="0.8"/><circle cx="360.05" cy="112.94" r="0.44" fill="#dcdcff" stroke="none" stroke-width="0.5" opacity="0.8"/><circle cx="362.25" cy="113.82" r="0.27" fill="#dcdcff" stroke="none" stroke-width="0.5" opacity="0.8"/><circle cx="357.71" cy="120.4" r="0.31" fill="#dcdcff" stroke="none" stroke-width="0.5" opacity="0.8"/><circle cx="367.42" cy="115.55" r="0.36" fill="#dcdcff" stroke="none" stroke-width="0.5" opacity="0.8"/><circle cx="374.22" cy="118.13" r="0.39" fill="#dcdcff" stroke="none" stroke-width="0.5" opacity="0.8"/><circle cx="372.46" cy="111.21" r="0.29" fill="#dcdcff" stroke="none" stroke-width="0.5" opacity="0.8"/><circle cx="373.26" cy="125.81" r="0.31" fill="#dcdcff" stroke="none" stroke-width="0.5" opacity="0.8"/><circle cx="359.61" cy="124.01" r="0.49" fill="#dcdcff" stroke="none" stroke-width="0.5" opacity="0.8"/><circle cx="359.74" cy="128.85" r="0.47" fill="#dcdcff" stroke="none" stroke-width="0.5" opacity="0.8"/><circle cx="367.47" cy="116.69" r="0.28" fill="#dcdcff" stroke="none" stroke-width="0.5" opacity="0.8"/><circle cx="356.74" cy="129.14" r="0.31" fill="#dcdcff" stroke="none" stroke-width="0.5" opacity="0.8"/><circle cx="369.39" cy="112.91" r="0.46" fill="#dcdcff" stroke="none" stroke-width="0.5" opacity="0.8"/><circle cx="367.33" cy="113.75" r="0.29" fill="#dcdcff" stroke="none" stroke-width="0.5" opacity="0.8"/><circle cx="369.69" cy="108.58" r="0.31" fill="#dcdcff" stroke="none" stroke-width="0.5" opacity="0.8"/><circle cx="366.63" cy="126.61" r="0.4" fill="#dcdcff" stroke="none" stroke-width="0.5" opacity="0.8"/><circle cx="361.32" cy="128.1" r="0.3" fill="#dcdcff" stroke="none" stroke-width="0.5" opacity="0.8"/><circle cx="356.31" cy="113.19" r="0.36" fill="#dcdcff" stroke="none" stroke-width="0.5" opacity="0.8"/><circle cx="357.15" cy="111.05" r="0.34" fill="#dcdcff" stroke="none" stroke-width="0.5" opacity="0.8"/><circle cx="366.87" cy="110.03" r="0.34" fill="#dcdcff" stroke="none" stroke-width="0.5" opacity="0.8"/><circle cx="372.93" cy="129.55" r="0.41" fill="#dcdcff" stroke="none" stroke-width="0.5" opacity="0.8"/><circle cx="369.13" cy="120.44" r="0.29" fill="#dcdcff" stroke="none" stroke-width="0.5" opacity="0.8"/><circle cx="356.67" cy="107.41" r="0.48" fill="#dcdcff" stroke="none" stroke-width="0.5" opacity="0.8"/><circle cx="369.32" cy="129.14" r="0.26" fill="#dcdcff" stroke="none" stroke-width="0.5" opacity="0.8"/><circle cx="368.09" cy="118.09" r="0.43" fill="#dcdcff" stroke="none" stroke-width="0.5" opacity="0.8"/><circle cx="362.06" cy="129.99" r="0.27" fill="#dcdcff" stroke="none" stroke-width="0.5" opacity="0.8"/><circle cx="366.38" cy="123.95" r="0.48" fill="#dcdcff" stroke="none" stroke-width="0.5" opacity="0.8"/><circle cx="370" cy="123.18" r="0.45" fill="#dcdcff" stroke="none" stroke-width="0.5" opacity="0.8"/><circle cx="373.39" cy="115.09" r="0.42" fill="#dcdcff" stroke="none" stroke-width="0.5" opacity="0.8"/><circle cx="373.12" cy="127.04" r="0.35" fill="#dcdcff" stroke="none" stroke-width="0.5" opacity="0.8"/><circle cx="371.02" cy="126.86" r="0.39" fill="#dcdcff" stroke="none" stroke-width="0.5" opacity="0.8"/><circle cx="367.87" cy="115.79" r="0.4" fill="#dcdcff" stroke="none" stroke-width="0.5" opacity="0.8"/><circle cx="367.57" cy="108.84" r="0.41" fill="#dcdcff" stroke="none" stroke-width="0.5" opacity="0.8"/><circle cx="374.87" cy="127.24" r="0.43" fill="#dcdcff" stroke="none" stroke-width="0.5" opacity="0.8"/><circle cx="363.38" cy="123.91" r="0.4" fill="#dcdcff" stroke="none" stroke-width="0.5" opacity="0.8"/><circle cx="364.37" cy="126.28" r="0.27" fill="#dcdcff" stroke="none" stroke-width="0.5" opacity="0.8"/><circle cx="370.25" cy="107.69" r="0.4" fill="#dcdcff" stroke="none" stroke-width="0.5" opacity="0.8"/><circle cx="365.14" cy="112.3" r="0.42" fill="#dcdcff" stroke="none" stroke-width="0.5" opacity="0.8"/><circle cx="365.45" cy="121.13" r="0.48" fill="#dcdcff" stroke="none" stroke-width="0.5" opacity="0.8"/><circle cx="360.86" cy="107.26" r="0.33" fill="#dcdcff" stroke="none" stroke-width="0.5" opacity="0.8"/><circle cx="368.88" cy="111.66" r="0.29" fill="#dcdcff" stroke="none" stroke-width="0.5" opacity="0.8"/><circle cx="373.21" cy="122.18" r="0.36" fill="#dcdcff" stroke="none" stroke-width="0.5" opacity="0.8"/><circle cx="372.94" cy="114.52" r="0.42" fill="#dcdcff" stroke="none" stroke-width="0.5" opacity="0.8"/><circle cx="359.77" cy="116.91" r="0.45" fill="#dcdcff" stroke="none" stroke-width="0.5" opacity="0.8"/><circle cx="373.37" cy="127.25" r="0.35" fill="#dcdcff" stroke="none" stroke-width="0.5" opacity="0.8"/><circle cx="367.08" cy="114.28" r="0.28" fill="#dcdcff" stroke="none" stroke-width="0.5" opacity="0.8"/><circle cx="365.43" cy="126.25" r="0.46" fill="#dcdcff" stroke="none" stroke-width="0.5" opacity="0.8"/><circle cx="369.51" cy="128.85" r="0.32" fill="#dcdcff" stroke="none" stroke-width="0.5" opacity="0.8"/><circle cx="359.21" cy="117.36" r="0.32" fill="#dcdcff" stroke="none" stroke-width="0.5" opacity="0.8"/><circle cx="360.07" cy="116.52" r="0.41" fill="#dcdcff" stroke="none" stroke-width="0.5" opacity="0.8"/><circle cx="365.38" cy="114.25" r="0.46" fill="#dcdcff" stroke="none" stroke-width="0.5" opacity="0.8"/><circle cx="374.66" cy="117.41" r="0.27" fill="#dcdcff" stroke="none" stroke-width="0.5" opacity="0.8"/><circle cx="356.6" cy="127.08" r="0.26" fill="#dcdcff" stroke="none" stroke-width="0.5" opacity="0.8"/><circle cx="369.46" cy="120.12" r="0.33" fill="#dcdcff" stroke="none" stroke-width="0.5" opacity="0.8"/><circle cx="371.04" cy="107.44" r="0.28" fill="#dcdcff" stroke="none" stroke-width="0.5" opacity="0.8"/><circle cx="364.64" cy="107.57" r="0.46" fill="#dcdcff" stroke="none" stroke-width="0.5" opacity="0.8"/><circle cx="360.51" cy="110.24" r="0.26" fill="#dcdcff" stroke="none" stroke-width="0.5" opacity="0.8"/><circle cx="367.95" cy="117.27" r="0.41" fill="#dcdcff" stroke="none" stroke-width="0.5" opacity="0.8"/><circle cx="368.45" cy="125.57" r="0.49" fill="#dcdcff" stroke="none" stroke-width="0.5" opacity="0.8"/><circle cx="369.01" cy="111.58" r="0.37" fill="#dcdcff" stroke="none" stroke-width="0.5" opacity="0.8"/><circle cx="359.4" cy="107.25" r="0.37" fill="#dcdcff" stroke="none" stroke-width="0.5" opacity="0.8"/><circle cx="369.57" cy="111.12" r="0.32" fill="#dcdcff" stroke="none" stroke-width="0.5" opacity="0.8"/><circle cx="362.57" cy="123.04" r="0.38" fill="#dcdcff" stroke="none" stroke-width="0.5" opacity="0.8"/><circle cx="367.67" cy="124.39" r="0.35" fill="#dcdcff" stroke="none" stroke-width="0.5" opacity="0.8"/><circle cx="371.05" cy="127.84" r="0.27" fill="#dcdcff" stroke="none" stroke-width="0.5" opacity="0.8"/><circle cx="373.72" cy="123.61" r="0.28" fill="#dcdcff" stroke="none" stroke-width="0.5" opacity="0.8"/><circle cx="364.62" cy="121.39" r="0.48" fill="#dcdcff" stroke="none" stroke-width="0.5" opacity="0.8"/><circle cx="363.16" cy="120.08" r="0.47" fill="#dcdcff" stroke="none" stroke-width="0.5" opacity="0.8"/><circle cx="371.14" cy="128.72" r="0.37" fill="#dcdcff" stroke="none" stroke-width="0.5" opacity="0.8"/><circle cx="368.38" cy="111.71" r="0.43" fill="#dcdcff" stroke="none" stroke-width="0.5" opacity="0.8"/><circle cx="371.55" cy="121.76" r="0.43" fill="#dcdcff" stroke="none" stroke-width="0.5" opacity="0.8"/><circle cx="360.05" cy="127.7" r="0.5" fill="#dcdcff" stroke="none" stroke-width="0.5" opacity="0.8"/><circle cx="374.57" cy="119.35" r="0.45" fill="#dcdcff" stroke="none" stroke-width="0.5" opacity="0.8"/><circle cx="362.09" cy="127.93" r="0.46" fill="#dcdcff" stroke="none" stroke-width="0.5" opacity="0.8"/><circle cx="362.62" cy="108.9" r="0.36" fill="#dcdcff" stroke="none" stroke-width="0.5" opacity="0.8"/><circle cx="366.46" cy="124.67" r="0.37" fill="#dcdcff" stroke="none" stroke-width="0.5" opacity="0.8"/><circle cx="356.54" cy="125.61" r="0.27" fill="#dcdcff" stroke="none" stroke-width="0.5" opacity="0.8"/><circle cx="371.2" cy="110.98" r="0.33" fill="#dcdcff" stroke="none" stroke-width="0.5" opacity="0.8"/><circle cx="370.97" cy="110.23" r="0.29" fill="#dcdcff" stroke="none" stroke-width="0.5" opacity="0.8"/><circle cx="365.81" cy="123.64" r="0.46" fill="#dcdcff" stroke="none" stroke-width="0.5" opacity="0.8"/><circle cx="369.1" cy="128.75" r="0.37" fill="#dcdcff" stroke="none" stroke-width="0.5" opacity="0.8"/><circle cx="374.03" cy="108.98" r="0.31" fill="#dcdcff" stroke="none" stroke-width="0.5" opacity="0.8"/><circle cx="366.01" cy="113.67" r="0.43" fill="#dcdcff" stroke="none" stroke-width="0.5" opacity="0.8"/><circle cx="368.14" cy="119.02" r="0.46" fill="#dcdcff" stroke="none" stroke-width="0.5" opacity="0.8"/><circle cx="366.64" cy="114.17" r="0.35" fill="#dcdcff" stroke="none" stroke-width="0.5" opacity="0.8"/><circle cx="372.06" cy="127.71" r="0.3" fill="#dcdcff" stroke="none" stroke-width="0.5" opacity="0.8"/><circle cx="372.16" cy="129.27" r="0.38" fill="#dcdcff" stroke="none" stroke-width="0.5" opacity="0.8"/><circle cx="366.89" cy="111.62" r="0.38" fill="#dcdcff" stroke="none" stroke-width="0.5" opacity="0.8"/><circle cx="365.56" cy="120.92" r="0.26" fill="#dcdcff" stroke="none" stroke-width="0.5" opacity="0.8"/><circle cx="374.42" cy="118.87" r="0.35" fill="#dcdcff" stroke="none" stroke-width="0.5" opacity="0.8"/><circle cx="371.22" cy="119.95" r="0.37" fill="#dcdcff" stroke="none" stroke-width="0.5" opacity="0.8"/></g><rect x="293" y="133.3" width="82" height="1.7" fill="url(#jetg)" stroke="none" stroke-width="0.5" /><text x="293.3" y="138.8" font-size="3" text-anchor="middle" font-weight="normal" fill="#333" stroke="#333" stroke-width="0.03" style="">0</text><text x="373" y="138.8" font-size="3.34" text-anchor="middle" font-weight="normal" fill="#333" textLength="6.5" lengthAdjust="spacingAndGlyphs" stroke="#333" stroke-width="0.03" style="">3.45</text><text x="334" y="142" font-size="3.41" text-anchor="middle" font-weight="normal" fill="#333" textLength="32" lengthAdjust="spacingAndGlyphs" stroke="#333" stroke-width="0.03" style="">Electric field, mV/mm</text><text x="4.4" y="141.2" font-size="7" text-anchor="start" font-weight="bold" fill="#111" stroke="#111" stroke-width="0.2" style="">D</text><text x="140.7" y="145.6" font-size="5.2" text-anchor="middle" font-weight="bold" fill="#111" textLength="43.5" lengthAdjust="spacingAndGlyphs" style="">Optimal montage</text><polyline points="113.6,150 113.6,147.3 167.7,147.3 167.7,150" stroke="#222" fill="none" stroke-width="0.6" stroke-linejoin="round" /><text x="210" y="145.6" font-size="5.2" text-anchor="middle" font-weight="bold" fill="#111" textLength="46" lengthAdjust="spacingAndGlyphs" style="">Mirrored montage</text><polyline points="182.7,150 182.7,147.3 237.3,147.3 237.3,150" stroke="#222" fill="none" stroke-width="0.6" stroke-linejoin="round" /><polyline points="17.8,157.7 16,157.7 16,197 17.8,197" stroke="#222" fill="none" stroke-width="1" stroke-linejoin="round" /><text x="14.4" y="177.15" font-size="5.63" text-anchor="middle" font-weight="bold" fill="#1a1a1a" transform="rotate(-90 14.4 177.15)" textLength="14.7" lengthAdjust="spacingAndGlyphs" stroke="#1a1a1a" stroke-width="0.04" style="">10 Hz</text><text x="20.8" y="177.55" font-size="5.07" text-anchor="middle" font-weight="normal" fill="#333" transform="rotate(-90 20.8 177.55)" textLength="9.2" lengthAdjust="spacingAndGlyphs" stroke="#333" stroke-width="0.05" style="">PLV</text><text x="31" y="198.2" font-size="3.4" text-anchor="end" font-weight="normal" fill="#333" textLength="2" lengthAdjust="spacingAndGlyphs" stroke="#333" stroke-width="0.04" style="">0</text><line x1="31.8" y1="197" x2="33" y2="197" stroke="#777" stroke-width="0.4" /><text x="31" y="185.1" font-size="3.4" text-anchor="end" font-weight="normal" fill="#333" textLength="7.6" lengthAdjust="spacingAndGlyphs" stroke="#333" stroke-width="0.04" style="">0.02</text><line x1="31.8" y1="183.9" x2="33" y2="183.9" stroke="#777" stroke-width="0.4" /><text x="31" y="172" font-size="3.4" text-anchor="end" font-weight="normal" fill="#333" textLength="7.6" lengthAdjust="spacingAndGlyphs" stroke="#333" stroke-width="0.04" style="">0.04</text><line x1="31.8" y1="170.8" x2="33" y2="170.8" stroke="#777" stroke-width="0.4" /><text x="31" y="158.9" font-size="3.4" text-anchor="end" font-weight="normal" fill="#333" textLength="7.6" lengthAdjust="spacingAndGlyphs" stroke="#333" stroke-width="0.04" style="">0.06</text><line x1="31.8" y1="157.7" x2="33" y2="157.7" stroke="#777" stroke-width="0.4" /><text x="33" y="202.2" font-size="3.6" text-anchor="middle" font-weight="normal" fill="#333" stroke="#333" stroke-width="0.04" style="">0</text><text x="43.94" y="202.2" font-size="3.6" text-anchor="middle" font-weight="normal" fill="#333" stroke="#333" stroke-width="0.04" style="">20</text><text x="54.88" y="202.2" font-size="3.6" text-anchor="middle" font-weight="normal" fill="#333" stroke="#333" stroke-width="0.04" style="">40</text><text x="65.82" y="202.2" font-size="3.6" text-anchor="middle" font-weight="normal" fill="#333" stroke="#333" stroke-width="0.04" style="">60</text><text x="76.76" y="202.2" font-size="3.6" text-anchor="middle" font-weight="normal" fill="#333" stroke="#333" stroke-width="0.04" style="">80</text><text x="87.7" y="202.2" font-size="3.6" text-anchor="middle" font-weight="normal" fill="#333" stroke="#333" stroke-width="0.04" style="">100</text><polygon points="33,197 33.5,190.2 34.42,190.8 35.34,186.71 36.26,184.19 37.17,186.3 38.09,186.21 39.01,190.59 39.93,191.14 40.85,190.6 41.77,190.05 42.69,190.71 43.61,186.7 44.52,187.71 45.44,185.79 46.36,191.23 47.28,186.17 48.2,190.64 49.12,186.09 50.04,189.53 50.95,187.86 51.87,187.83 52.79,191.42 53.71,185.9 54.63,184.32 55.55,190.79 56.47,189.71 57.38,185.9 58.3,191.94 59.22,193.72 60.14,187.48 61.06,187.85 61.98,185.61 62.9,186.29 63.82,189.06 64.73,186.27 65.65,189.68 66.57,185.56 67.49,185.11 68.41,190.25 69.33,188.63 70.25,188.22 71.16,189.53 72.08,189.01 73,188.07 73.92,184.83 74.84,189.42 75.76,193 76.68,194.33 77.59,192.23 78.51,188.96 79.43,187.88 80.35,190.18 81.27,190.86 82.19,186.49 83.11,185.96 84.03,186.82 84.94,188.35 85.86,191.34 86.78,189.83 87.7,185.42 87.7,197" fill="#d8eaf6" stroke="none" stroke-width="0.5" opacity="0.7"/><polygon points="33,197 33.5,187.96 34.42,191.7 35.34,188.75 36.26,188.1 37.17,188.62 38.09,185.05 39.01,186.85 39.93,188.58 40.85,190.7 41.77,184.94 42.69,184.87 43.61,182.87 44.52,188.85 45.44,189.87 46.36,184.16 47.28,190.91 48.2,193.11 49.12,190.99 50.04,189.89 50.95,185.25 51.87,182.3 52.79,186.04 53.71,182.99 54.63,183.14 55.55,183.67 56.47,181.88 57.38,185.29 58.3,186.27 59.22,190.35 60.14,188.77 61.06,189.34 61.98,188.24 62.9,189.36 63.82,187.85 64.73,185.66 65.65,191.58 66.57,193.63 67.49,192.9 68.41,191.42 69.33,187.25 70.25,184.99 71.16,184.76 72.08,182.64 73,188.37 73.92,186.97 74.84,190.63 75.76,187.64 76.68,191.9 77.59,192.37 78.51,184.65 79.43,183.9 80.35,190.15 81.27,188.24 82.19,192.32 83.11,188.33 84.03,183.92 84.94,187.54 85.86,190.2 86.78,186.4 87.7,183.37 87.7,197" fill="#fbecc0" stroke="none" stroke-width="0.5" opacity="0.3"/><polygon points="35,197 36.75,166.35 40.25,166.35 42,197" fill="#fbecc0" stroke="none" stroke-width="0.5" filter="url(#bl05)" opacity="0.9"/><polygon points="55.4,197 57,179.31 58.6,197" fill="#d8eaf6" stroke="none" stroke-width="0.5" opacity="0.9"/><polyline points="55.8,193.86 57,183.74 58.2,193.86" stroke="#a8d0ea" fill="none" stroke-width="0.45" stroke-linejoin="round" /><polygon points="61.4,197 63,181.28 64.6,197" fill="#fbecc0" stroke="none" stroke-width="0.5" opacity="0.9"/><polyline points="61.8,193.86 63,185.21 64.2,193.86" stroke="#f4d890" fill="none" stroke-width="0.45" stroke-linejoin="round" /><polygon points="68.4,197 70,183.25 71.6,197" fill="#d8eaf6" stroke="none" stroke-width="0.5" opacity="0.9"/><polyline points="68.8,193.86 70,186.68 71.2,193.86" stroke="#a8d0ea" fill="none" stroke-width="0.45" stroke-linejoin="round" /><polygon points="76.4,197 78,180.49 79.6,197" fill="#d8eaf6" stroke="none" stroke-width="0.5" opacity="0.9"/><polyline points="76.8,193.86 78,184.62 79.2,193.86" stroke="#a8d0ea" fill="none" stroke-width="0.45" stroke-linejoin="round" /><polygon points="83.4,197 85,179.31 86.6,197" fill="#d8eaf6" stroke="none" stroke-width="0.5" opacity="0.9"/><polyline points="83.8,193.86 85,183.74 86.2,193.86" stroke="#a8d0ea" fill="none" stroke-width="0.45" stroke-linejoin="round" /><polyline points="33.5,189.8 34.42,190.58 35.34,191.84 36.26,188.12 37.17,187.28 38.09,186.52 39.01,186.77 39.93,189.98 40.85,187.22 41.77,188.87 42.69,187.41 43.61,187.46 44.52,188.33 45.44,191.09 46.36,190.5 47.28,186.67 48.2,187.13 49.12,186.47 50.04,190.74 50.95,191.64 51.87,191.89 52.79,192.08 53.71,191.64 54.63,192.77 55.55,192.15 56.47,188.65 57.38,191.26 58.3,189.8 59.22,191.02 60.14,190.21 61.06,189.14 61.98,188.41 62.9,188.6 63.82,187.94 64.73,186.53 65.65,190.44 66.57,191.48 67.49,192.94 68.41,191.57 69.33,190.31 70.25,191.13 71.16,187.6 72.08,189.88 73,189.12 73.92,187.25 74.84,186.85 75.76,188.7 76.68,187.6 77.59,188.54 78.51,189.72 79.43,188.78 80.35,186.87 81.27,188.51 82.19,187.43 83.11,187.11 84.03,186.76 84.94,187.71 85.86,186.19 86.78,189.3 87.7,192.09" stroke="#86c2e0" fill="none" stroke-width="0.6" stroke-linejoin="round" /><polyline points="33.5,191.42 34.42,192.16 35.34,194.05 36.26,190.75 37.17,189.67 38.09,192.11 39.01,192.4 39.93,190.44 40.85,192.05 41.77,190.87 42.69,192.72 43.61,189.47 44.52,189.1 45.44,192.9 46.36,190.91 47.28,189.74 48.2,192.54 49.12,192.38 50.04,189.55 50.95,191.02 51.87,192.11 52.79,189.55 53.71,191.6 54.63,189.16 55.55,189.66 56.47,188.35 57.38,188.65 58.3,193.21 59.22,191.26 60.14,194.07 61.06,191.72 61.98,191.99 62.9,193.61 63.82,193.02 64.73,189.52 65.65,191.23 66.57,192 67.49,189.61 68.41,188.4 69.33,192.54 70.25,191.7 71.16,189.6 72.08,190.46 73,189.37 73.92,192.39 74.84,191.58 75.76,189.03 76.68,192.4 77.59,189.21 78.51,189.35 79.43,187.93 80.35,191.62 81.27,189.11 82.19,190.74 83.11,188.73 84.03,190.36 84.94,192.04 85.86,191.67 86.78,191.1 87.7,191.1" stroke="#98c8a0" fill="none" stroke-width="0.55" stroke-linejoin="round" /><polyline points="33.5,195.47 34.42,195.42 35.34,195.46 35.35,195.03 36.92,176.17 40.08,176.17 41.65,195.03 41.77,195.11 42.69,194.78 43.61,195.84 44.52,195.32 45.44,196.09 46.36,196.64 47.28,195.46 48.2,196.33 49.12,196.43 50.04,196.19 50.95,194.88 51.87,195.32 52.79,195.78 53.71,195.28 54.63,194.99 55.55,195.07 56.47,194.99 57.38,195.99 58.3,195.44 59.22,195.42 60.14,195.84 61.06,196.55 61.98,195.5 62.9,194.71 63.82,196.26 64.73,196.46 65.65,196.43 66.57,195.91 67.49,195.2 68.41,194.83 69.33,195.01 70.25,195.36 71.16,194.71 72.08,195.73 73,196.1 73.92,194.83 74.84,196.05 75.76,195.73 76.68,196.46 77.59,195.83 78.51,196.26 79.43,195.73 80.35,195.87 81.27,195.7 82.19,194.73 83.11,194.67 84.03,194.82 84.94,195.2 85.86,195.25 86.78,195.59 87.7,195.92" stroke="#f0c040" fill="none" stroke-width="0.75" stroke-linejoin="round" /><polyline points="33.5,189.98 34.42,193.74 35.34,190.42 36.26,195.59 37.17,189.79 38.09,194.71 39.01,194.3 39.93,195.45 40.85,196.69 41.77,191.58 42.69,191.26 43.61,193.8 44.52,191.29 45.44,190.67 46.36,190.3 47.28,194.66 48.2,195.65 49.12,195.3 50.04,191.19 50.95,195.31 51.87,193.22 52.79,190.83 53.71,191.93 54.63,191.9 55.55,189.49 56.47,192.43 57.38,191.58 58.3,192.88 59.22,195.69 60.14,194.24 61.06,192.26 61.98,195.09 62.9,196.58 63.82,193.33 64.73,195.88 65.65,189.87 66.57,189.52 67.49,189.67 68.41,195.1 69.33,194.44 70.25,194.51 71.16,191.48 72.08,192.34 73,195.27 73.92,190.32 74.84,189.44 75.76,188.78 76.68,191.61 77.59,194.8 78.51,193.43 79.43,192.07 80.35,192.51 81.27,190.32 82.19,195.3 83.11,192.11 84.03,190.64 84.94,190.88 85.86,194.54 86.78,191.71 87.7,195.27" stroke="#1a568a" fill="none" stroke-width="0.8" stroke-linejoin="round" /><line x1="33" y1="197.2" x2="87.7" y2="197.2" stroke="#333" stroke-width="0.8" /><line x1="33" y1="197.6" x2="33" y2="157.2" stroke="#8c8c8c" stroke-width="0.9" /><circle cx="38.3" cy="197.9" r="0.75" fill="#111" stroke="none" stroke-width="0.5" /><line x1="36.5" y1="171.2" x2="40.2" y2="171.2" stroke="#111" stroke-width="0.6" /><text x="72.7" y="174" font-size="3.31" text-anchor="start" font-weight="normal" fill="#333" textLength="9.3" lengthAdjust="spacingAndGlyphs" style="">n = 33</text><polyline points="17.8,214.7 16,214.7 16,253.6 17.8,253.6" stroke="#222" fill="none" stroke-width="1" stroke-linejoin="round" /><text x="14.4" y="233.95" font-size="5.63" text-anchor="middle" font-weight="bold" fill="#1a1a1a" transform="rotate(-90 14.4 233.95)" textLength="14.7" lengthAdjust="spacingAndGlyphs" stroke="#1a1a1a" stroke-width="0.04" style="">20 Hz</text><text x="20.8" y="234.35" font-size="5.07" text-anchor="middle" font-weight="normal" fill="#333" transform="rotate(-90 20.8 234.35)" textLength="9.2" lengthAdjust="spacingAndGlyphs" stroke="#333" stroke-width="0.05" style="">PLV</text><text x="31" y="254.8" font-size="3.4" text-anchor="end" font-weight="normal" fill="#333" textLength="2" lengthAdjust="spacingAndGlyphs" stroke="#333" stroke-width="0.04" style="">0</text><line x1="31.8" y1="253.6" x2="33" y2="253.6" stroke="#777" stroke-width="0.4" /><text x="31" y="245.07" font-size="3.4" text-anchor="end" font-weight="normal" fill="#333" textLength="7.6" lengthAdjust="spacingAndGlyphs" stroke="#333" stroke-width="0.04" style="">0.02</text><line x1="31.8" y1="243.88" x2="33" y2="243.88" stroke="#777" stroke-width="0.4" /><text x="31" y="235.35" font-size="3.4" text-anchor="end" font-weight="normal" fill="#333" textLength="7.6" lengthAdjust="spacingAndGlyphs" stroke="#333" stroke-width="0.04" style="">0.04</text><line x1="31.8" y1="234.15" x2="33" y2="234.15" stroke="#777" stroke-width="0.4" /><text x="31" y="225.62" font-size="3.4" text-anchor="end" font-weight="normal" fill="#333" textLength="7.6" lengthAdjust="spacingAndGlyphs" stroke="#333" stroke-width="0.04" style="">0.06</text><line x1="31.8" y1="224.42" x2="33" y2="224.42" stroke="#777" stroke-width="0.4" /><text x="31" y="215.9" font-size="3.4" text-anchor="end" font-weight="normal" fill="#333" textLength="7.6" lengthAdjust="spacingAndGlyphs" stroke="#333" stroke-width="0.04" style="">0.08</text><line x1="31.8" y1="214.7" x2="33" y2="214.7" stroke="#777" stroke-width="0.4" /><text x="33" y="258.8" font-size="3.6" text-anchor="middle" font-weight="normal" fill="#333" stroke="#333" stroke-width="0.04" style="">0</text><text x="43.94" y="258.8" font-size="3.6" text-anchor="middle" font-weight="normal" fill="#333" stroke="#333" stroke-width="0.04" style="">20</text><text x="54.88" y="258.8" font-size="3.6" text-anchor="middle" font-weight="normal" fill="#333" stroke="#333" stroke-width="0.04" style="">40</text><text x="65.82" y="258.8" font-size="3.6" text-anchor="middle" font-weight="normal" fill="#333" stroke="#333" stroke-width="0.04" style="">60</text><text x="76.76" y="258.8" font-size="3.6" text-anchor="middle" font-weight="normal" fill="#333" stroke="#333" stroke-width="0.04" style="">80</text><text x="87.7" y="258.8" font-size="3.6" text-anchor="middle" font-weight="normal" fill="#333" stroke="#333" stroke-width="0.04" style="">100</text><polygon points="33,253.6 33.5,247.3 34.42,244.96 35.34,249.81 36.26,246.77 37.17,245.34 38.09,247.92 39.01,247.05 39.93,249.91 40.85,247.08 41.77,250.32 42.69,247.74 43.61,248.47 44.52,250.65 45.44,249.98 46.36,251.13 47.28,250.28 48.2,246.15 49.12,249.54 50.04,249.03 50.95,247.23 51.87,245.9 52.79,249.27 53.71,248.9 54.63,250.84 55.55,250.56 56.47,251.55 57.38,249.6 58.3,249.69 59.22,249.22 60.14,246.99 61.06,250.28 61.98,247.68 62.9,249.5 63.82,251.14 64.73,249.95 65.65,246.58 66.57,249.37 67.49,249.43 68.41,246.64 69.33,244.88 70.25,247.07 71.16,244.93 72.08,249.37 73,248.49 73.92,248.25 74.84,247.53 75.76,248.75 76.68,250.66 77.59,247.78 78.51,247.16 79.43,248.16 80.35,246.85 81.27,248.13 82.19,248.27 83.11,247.68 84.03,248.87 84.94,248.44 85.86,245.73 86.78,250.07 87.7,247.86 87.7,253.6" fill="#d8eaf6" stroke="none" stroke-width="0.5" opacity="0.7"/><polygon points="33,253.6 33.5,247.05 34.42,247.9 35.34,247.17 36.26,245.18 37.17,248.28 38.09,249.46 39.01,247.94 39.93,247.35 40.85,245.38 41.77,243.16 42.69,244.8 43.61,246.78 44.52,244.08 45.44,247.9 46.36,245.55 47.28,244.73 48.2,243.19 49.12,248.93 50.04,249.24 50.95,250.24 51.87,248.89 52.79,244.59 53.71,245.02 54.63,246.28 55.55,244.22 56.47,248.99 57.38,246.82 58.3,244.66 59.22,248.26 60.14,244.97 61.06,249.09 61.98,247.42 62.9,247.48 63.82,246.13 64.73,246.59 65.65,244.79 66.57,243.17 67.49,248.06 68.41,245.62 69.33,248.35 70.25,245.55 71.16,249.57 72.08,250.48 73,249.88 73.92,249.73 74.84,248.48 75.76,249.02 76.68,245.22 77.59,246.21 78.51,248.87 79.43,245.68 80.35,249.31 81.27,250.35 82.19,247.57 83.11,246.3 84.03,246.43 84.94,246.04 85.86,249.91 86.78,247.26 87.7,243.97 87.7,253.6" fill="#fbecc0" stroke="none" stroke-width="0.5" opacity="0.3"/><polygon points="40.6,253.6 42.1,223.26 45.1,223.26 46.6,253.6" fill="#fbecc0" stroke="none" stroke-width="0.5" filter="url(#bl05)" opacity="0.9"/><polygon points="60.4,253.6 62,241.93 63.6,253.6" fill="#d8eaf6" stroke="none" stroke-width="0.5" opacity="0.9"/><polyline points="60.8,250.49 62,244.85 63.2,250.49" stroke="#a8d0ea" fill="none" stroke-width="0.45" stroke-linejoin="round" /><polygon points="73.4,253.6 75,239.98 76.6,253.6" fill="#d8eaf6" stroke="none" stroke-width="0.5" opacity="0.9"/><polyline points="73.8,250.49 75,243.39 76.2,250.49" stroke="#a8d0ea" fill="none" stroke-width="0.45" stroke-linejoin="round" /><polygon points="82.4,253.6 84,238.82 85.6,253.6" fill="#d8eaf6" stroke="none" stroke-width="0.5" opacity="0.9"/><polyline points="82.8,250.49 84,242.51 85.2,250.49" stroke="#a8d0ea" fill="none" stroke-width="0.45" stroke-linejoin="round" /><polyline points="33.5,250.9 34.42,250.69 35.34,247.1 36.26,248.24 37.17,247.85 38.09,248.19 39.01,246.56 39.93,246.33 40.85,247.37 41.77,246.7 42.69,247.52 43.61,245.89 44.52,245.67 45.44,248.32 46.36,247.86 47.28,248.12 48.2,249.16 49.12,247.84 50.04,246.13 50.95,248.78 51.87,248.73 52.79,249.01 53.71,248.94 54.63,250.44 55.55,248.24 56.47,249.31 57.38,247.93 58.3,248.4 59.22,248.93 60.14,247.58 61.06,246.18 61.98,247.45 62.9,248.89 63.82,248.77 64.73,248.11 65.65,248.76 66.57,246.95 67.49,246.39 68.41,246.86 69.33,249.14 70.25,247.12 71.16,246.16 72.08,245.81 73,245.44 73.92,246.36 74.84,247.93 75.76,249.49 76.68,247.82 77.59,247.48 78.51,247.03 79.43,246.97 80.35,249.01 81.27,248.62 82.19,247.24 83.11,246.17 84.03,248.79 84.94,249.25 85.86,249.91 86.78,247.54 87.7,248.17" stroke="#86c2e0" fill="none" stroke-width="0.6" stroke-linejoin="round" /><polyline points="33.5,251.28 34.42,248.75 35.34,251.32 36.26,248.81 37.17,250 38.09,247.99 39.01,250.11 39.93,248.27 40.85,249.99 41.77,250.57 42.69,250.92 43.61,249.7 44.52,251.06 45.44,251.97 46.36,248.68 47.28,249.33 48.2,251.33 49.12,251.04 50.04,249.74 50.95,248.79 51.87,251.15 52.79,248.31 53.71,250.22 54.63,251.13 55.55,248.6 56.47,248.53 57.38,248.43 58.3,249.36 59.22,248.93 60.14,250.95 61.06,251.68 61.98,249.41 62.9,251.1 63.82,248.23 64.73,247.48 65.65,249.58 66.57,250.76 67.49,251.19 68.41,252.03 69.33,251.74 70.25,249.23 71.16,250.42 72.08,251.52 73,248.46 73.92,249.18 74.84,248 75.76,247.6 76.68,248.86 77.59,250.01 78.51,251.6 79.43,248.64 80.35,249.27 81.27,251.47 82.19,251.19 83.11,250.15 84.03,248.65 84.94,249.79 85.86,248.62 86.78,249.84 87.7,250.22" stroke="#98c8a0" fill="none" stroke-width="0.55" stroke-linejoin="round" /><polyline points="33.5,252.37 34.42,252.15 35.34,252.62 36.26,252.02 37.17,252.82 38.09,253.05 39.01,252.13 39.93,252.73 40.85,252.66 40.9,251.66 42.25,237.26 44.95,237.26 46.3,251.66 46.36,253.17 47.28,253.43 48.2,252.23 49.12,253.1 50.04,252.39 50.95,252.05 51.87,252.59 52.79,253.08 53.71,253.38 54.63,252.67 55.55,253.09 56.47,252.13 57.38,253.12 58.3,252.49 59.22,252.65 60.14,252.12 61.06,251.85 61.98,251.73 62.9,252.49 63.82,252.67 64.73,253.07 65.65,253.24 66.57,252.71 67.49,253.12 68.41,252.37 69.33,253.07 70.25,252.42 71.16,253.16 72.08,252.63 73,252.53 73.92,252.62 74.84,252.03 75.76,251.87 76.68,252.46 77.59,252.87 78.51,252.08 79.43,252.34 80.35,252.36 81.27,252.93 82.19,253.39 83.11,252.3 84.03,252.59 84.94,252.08 85.86,252.85 86.78,253.3 87.7,253.11" stroke="#f0c040" fill="none" stroke-width="0.75" stroke-linejoin="round" /><polyline points="33.5,252.46 34.42,252.59 35.34,249.49 36.26,252.14 37.17,251.5 38.09,248.41 39.01,252.33 39.93,249.64 40.85,249.35 41.77,249.88 42.69,250.81 43.61,248.68 44.52,251.06 45.44,252.26 46.36,250.9 47.28,252.04 48.2,251.42 49.12,252.29 50.04,249.26 50.95,249.54 51.87,250.15 52.79,248.45 53.71,252.44 54.63,251.55 55.55,248.7 56.47,250.54 57.38,250.07 58.3,248.86 59.22,248.47 60.14,249.89 61.06,248.23 61.98,250.35 62.9,250.53 63.82,248.64 64.73,251.99 65.65,248.5 66.57,248.46 67.49,251.66 68.41,249.33 69.33,249.88 70.25,250.66 71.16,250.2 72.08,250.4 73,250.49 73.92,250.4 74.84,248.27 75.76,251.62 76.68,249.63 77.59,248.07 78.51,249.55 79.43,251.87 80.35,251.4 81.27,250.46 82.19,250.37 83.11,249.07 84.03,250.79 84.94,249.8 85.86,248.18 86.78,248.18 87.7,248" stroke="#1a568a" fill="none" stroke-width="0.8" stroke-linejoin="round" /><line x1="33" y1="253.8" x2="87.7" y2="253.8" stroke="#333" stroke-width="0.8" /><line x1="33" y1="254.2" x2="33" y2="214.2" stroke="#8c8c8c" stroke-width="0.9" /><circle cx="43.5" cy="254.5" r="0.75" fill="#111" stroke="none" stroke-width="0.5" /><line x1="42" y1="223" x2="46" y2="223" stroke="#111" stroke-width="0.6" /><text x="75.5" y="231" font-size="3.56" text-anchor="start" font-weight="normal" fill="#333" textLength="10" lengthAdjust="spacingAndGlyphs" style="">n = 41</text><polyline points="99.3,160 97.5,160 97.5,197.5 99.3,197.5" stroke="#222" fill="none" stroke-width="1" stroke-linejoin="round" /><text x="95.9" y="178.55" font-size="5.63" text-anchor="middle" font-weight="bold" fill="#1a1a1a" transform="rotate(-90 95.9 178.55)" textLength="14.7" lengthAdjust="spacingAndGlyphs" stroke="#1a1a1a" stroke-width="0.04" style="">10 Hz</text><text x="102" y="178.95" font-size="5.07" text-anchor="middle" font-weight="normal" fill="#333" transform="rotate(-90 102 178.95)" textLength="9.2" lengthAdjust="spacingAndGlyphs" stroke="#333" stroke-width="0.05" style="">PLV</text><text x="111.3" y="198.7" font-size="3.4" text-anchor="end" font-weight="normal" fill="#333" textLength="2" lengthAdjust="spacingAndGlyphs" stroke="#333" stroke-width="0.04" style="">0</text><line x1="112.4" y1="197.5" x2="113.6" y2="197.5" stroke="#777" stroke-width="0.4" /><text x="111.3" y="191.2" font-size="3.4" text-anchor="end" font-weight="normal" fill="#333" textLength="7.6" lengthAdjust="spacingAndGlyphs" stroke="#333" stroke-width="0.04" style="">0.02</text><line x1="112.4" y1="190" x2="113.6" y2="190" stroke="#777" stroke-width="0.4" /><text x="111.3" y="183.7" font-size="3.4" text-anchor="end" font-weight="normal" fill="#333" textLength="7.6" lengthAdjust="spacingAndGlyphs" stroke="#333" stroke-width="0.04" style="">0.04</text><line x1="112.4" y1="182.5" x2="113.6" y2="182.5" stroke="#777" stroke-width="0.4" /><text x="111.3" y="176.2" font-size="3.4" text-anchor="end" font-weight="normal" fill="#333" textLength="7.6" lengthAdjust="spacingAndGlyphs" stroke="#333" stroke-width="0.04" style="">0.06</text><line x1="112.4" y1="175" x2="113.6" y2="175" stroke="#777" stroke-width="0.4" /><text x="111.3" y="168.7" font-size="3.4" text-anchor="end" font-weight="normal" fill="#333" textLength="7.6" lengthAdjust="spacingAndGlyphs" stroke="#333" stroke-width="0.04" style="">0.08</text><line x1="112.4" y1="167.5" x2="113.6" y2="167.5" stroke="#777" stroke-width="0.4" /><text x="111.3" y="161.2" font-size="3.4" text-anchor="end" font-weight="normal" fill="#333" textLength="7.6" lengthAdjust="spacingAndGlyphs" stroke="#333" stroke-width="0.04" style="">0.10</text><line x1="112.4" y1="160" x2="113.6" y2="160" stroke="#777" stroke-width="0.4" /><text x="113.6" y="202.7" font-size="3.6" text-anchor="middle" font-weight="normal" fill="#333" stroke="#333" stroke-width="0.04" style="">0</text><text x="124.38" y="202.7" font-size="3.6" text-anchor="middle" font-weight="normal" fill="#333" stroke="#333" stroke-width="0.04" style="">20</text><text x="135.16" y="202.7" font-size="3.6" text-anchor="middle" font-weight="normal" fill="#333" stroke="#333" stroke-width="0.04" style="">40</text><text x="145.94" y="202.7" font-size="3.6" text-anchor="middle" font-weight="normal" fill="#333" stroke="#333" stroke-width="0.04" style="">60</text><text x="156.72" y="202.7" font-size="3.6" text-anchor="middle" font-weight="normal" fill="#333" stroke="#333" stroke-width="0.04" style="">80</text><text x="167.5" y="202.7" font-size="3.6" text-anchor="middle" font-weight="normal" fill="#333" stroke="#333" stroke-width="0.04" style="">100</text><polygon points="113.6,197.5 114.1,190.85 115.01,191.46 115.91,194.35 116.82,193.55 117.72,194.28 118.63,191.75 119.53,192.7 120.44,194.53 121.34,193.74 122.25,195.35 123.15,195.63 124.06,193.44 124.96,191.01 125.87,193.55 126.77,191.61 127.68,190.41 128.58,193.23 129.49,194.71 130.39,195.21 131.3,195.9 132.2,192.78 133.11,191.14 134.01,190.75 134.92,194.45 135.82,191.86 136.73,191.17 137.63,190.31 138.54,190.13 139.44,190.02 140.35,191.4 141.25,191.03 142.16,191.55 143.06,194.51 143.97,192.14 144.87,194.21 145.78,194.59 146.68,193.96 147.59,193.77 148.49,194.58 149.4,194.04 150.3,192.25 151.21,192.07 152.11,191.62 153.02,192.17 153.92,194.99 154.83,193.47 155.73,191.33 156.64,192.41 157.54,194.29 158.45,193.31 159.35,194.11 160.26,191.65 161.16,190.66 162.07,193 162.97,191.07 163.88,191.54 164.78,192.07 165.69,191.4 166.59,190.46 167.5,190 167.5,197.5" fill="#d8eaf6" stroke="none" stroke-width="0.5" opacity="0.7"/><polygon points="113.6,197.5 114.1,189.1 115.01,190.7 115.91,192.74 116.82,190.69 117.72,189.84 118.63,190.14 119.53,192.92 120.44,190.79 121.34,193.06 122.25,193.45 123.15,190.93 124.06,192.06 124.96,192.02 125.87,191.82 126.77,194.71 127.68,191.15 128.58,189.53 129.49,193.63 130.39,192.34 131.3,190.85 132.2,191 133.11,191.22 134.01,194.3 134.92,191.59 135.82,190.68 136.73,192.23 137.63,192.58 138.54,194.76 139.44,194.94 140.35,192.56 141.25,190.95 142.16,193.6 143.06,195.3 143.97,191.03 144.87,193.11 145.78,194.52 146.68,193.91 147.59,191.5 148.49,193.59 149.4,193.98 150.3,191.4 151.21,192.76 152.11,191.1 153.02,189.62 153.92,190.6 154.83,190.93 155.73,191.36 156.64,192.78 157.54,194.24 158.45,195.38 159.35,195.86 160.26,196.11 161.16,195.17 162.07,192.39 162.97,190.75 163.88,192.45 164.78,192.65 165.69,193.37 166.59,190.68 167.5,190.24 167.5,197.5" fill="#fbecc0" stroke="none" stroke-width="0.5" opacity="0.3"/><polygon points="116.4,197.5 117.7,172 120.3,172 121.6,197.5" fill="#fbecc0" stroke="none" stroke-width="0.5" filter="url(#bl05)" opacity="0.9"/><polygon points="138.4,197.5 140,188.12 141.6,197.5" fill="#d8eaf6" stroke="none" stroke-width="0.5" opacity="0.9"/><polyline points="138.8,194.5 140,190.47 141.2,194.5" stroke="#a8d0ea" fill="none" stroke-width="0.45" stroke-linejoin="round" /><polygon points="150.4,197.5 152,186.25 153.6,197.5" fill="#fbecc0" stroke="none" stroke-width="0.5" opacity="0.9"/><polyline points="150.8,194.5 152,189.06 153.2,194.5" stroke="#f4d890" fill="none" stroke-width="0.45" stroke-linejoin="round" /><polygon points="163.4,197.5 165,187 166.6,197.5" fill="#d8eaf6" stroke="none" stroke-width="0.5" opacity="0.9"/><polyline points="163.8,194.5 165,189.62 166.2,194.5" stroke="#a8d0ea" fill="none" stroke-width="0.45" stroke-linejoin="round" /><polygon points="113.6,197.5 113.6,170.76 116.1,178.9 118.6,193 121.6,197.5" fill="#d8eaf6" stroke="none" stroke-width="0.5" opacity="0.9"/><polyline points="114.1,176.57 115.01,180.78 115.91,184.99 116.82,189.2 117.72,193.41 118.63,195.1 119.53,192.79 120.44,193.66 121.34,193.8 122.25,193.46 123.15,194.91 124.06,193.88 124.96,193.29 125.87,194.79 126.77,194.2 127.68,192.9 128.58,192.54 129.49,193.06 130.39,191.72 131.3,193.19 132.2,194.06 133.11,193.28 134.01,194.46 134.92,195.09 135.82,194.02 136.73,194.13 137.63,192.26 138.54,191.5 139.44,194.37 140.35,192.9 141.25,192.22 142.16,194.31 143.06,194.44 143.97,192.38 144.87,192.42 145.78,192.17 146.68,192.2 147.59,191.31 148.49,192.79 149.4,192.49 150.3,192.7 151.21,192.06 152.11,191.62 153.02,191.23 153.92,193.93 154.83,194.32 155.73,193.81 156.64,192.19 157.54,191.79 158.45,191.57 159.35,192.16 160.26,191.47 161.16,192 162.07,191.91 162.97,191.85 163.88,193.38 164.78,193.18 165.69,193.18 166.59,192.79 167.5,193.28" stroke="#86c2e0" fill="none" stroke-width="0.6" stroke-linejoin="round" /><polyline points="114.1,194.66 115.01,195.52 115.91,195.96 116.82,196.04 117.72,194.43 118.63,195.79 119.53,194.54 120.44,193.8 121.34,192.91 122.25,193.95 123.15,193.14 124.06,193.28 124.96,194.38 125.87,195.23 126.77,195.41 127.68,193.37 128.58,192.67 129.49,193.08 130.39,194.13 131.3,195.35 132.2,195.6 133.11,196.09 134.01,195.15 134.92,195.02 135.82,193.9 136.73,193.63 137.63,193.21 138.54,194.12 139.44,194.62 140.35,194.66 141.25,194.1 142.16,194.04 143.06,193.46 143.97,195.08 144.87,194.82 145.78,195.28 146.68,195.61 147.59,194.04 148.49,193.05 149.4,193.28 150.3,195.31 151.21,195.56 152.11,194.41 153.02,195.24 153.92,194.12 154.83,195.43 155.73,193.38 156.64,194.82 157.54,196 158.45,194.59 159.35,194.3 160.26,193.17 161.16,193.29 162.07,193.19 162.97,193.36 163.88,192.69 164.78,193.22 165.69,192.77 166.59,193.95 167.5,193.94" stroke="#98c8a0" fill="none" stroke-width="0.55" stroke-linejoin="round" /><polyline points="114.1,197.18 115.01,197.36 115.91,197.37 116.66,195.62 117.83,176.88 120.17,176.88 121.34,195.62 121.34,196.91 122.25,196.73 123.15,196.81 124.06,196.81 124.96,196.85 125.87,197.12 126.77,197.37 127.68,196.77 128.58,197.08 129.49,197.26 130.39,196.79 131.3,196.37 132.2,196.63 133.11,196.99 134.01,196.85 134.92,196.45 135.82,196.88 136.73,196.6 137.63,197.11 138.54,196.51 139.44,196.78 140.35,196.64 141.25,197.23 142.16,196.51 143.06,197.08 143.97,196.76 144.87,196.62 145.78,196.4 146.68,196.64 147.59,197.17 148.49,197.4 149.4,197.41 150.3,197.06 151.21,196.57 152.11,196.7 153.02,196.89 153.92,196.58 154.83,197.21 155.73,196.45 156.64,196.38 157.54,196.33 158.45,196.27 159.35,196.15 160.26,196.3 161.16,196.48 162.07,197.13 162.97,196.91 163.88,196.93 164.78,196.64 165.69,196.37 166.59,196.7 167.5,196.98" stroke="#f0c040" fill="none" stroke-width="0.75" stroke-linejoin="round" /><polyline points="114.1,181.81 115.01,184.96 115.91,188.12 116.82,191.28 117.72,194.43 118.63,195.69 119.53,196.17 120.44,196.29 121.34,196.99 122.25,194.61 123.15,194.49 124.06,195.81 124.96,195.57 125.87,196.16 126.77,194.79 127.68,196.79 128.58,193.56 129.49,195.64 130.39,194.73 131.3,193.2 132.2,195.39 133.11,193.44 134.01,193.75 134.92,194.16 135.82,193.59 136.73,193.51 137.63,193.14 138.54,196.04 139.44,193.69 140.35,193.51 141.25,193.16 142.16,196.28 143.06,195.51 143.97,196.42 144.87,197.18 145.78,195.5 146.68,194.78 147.59,194.61 148.49,194.1 149.4,195.26 150.3,196.92 151.21,195.48 152.11,196.16 153.02,196.81 153.92,196.71 154.83,196.08 155.73,195.48 156.64,193.63 157.54,194.34 158.45,196.3 159.35,195.12 160.26,195.8 161.16,194.32 162.07,195.26 162.97,194.05 163.88,195.99 164.78,196.48 165.69,193.53 166.59,195.42 167.5,193.61" stroke="#1a568a" fill="none" stroke-width="0.8" stroke-linejoin="round" /><line x1="113.6" y1="197.7" x2="167.5" y2="197.7" stroke="#333" stroke-width="0.8" /><line x1="113.6" y1="198.1" x2="113.6" y2="159.5" stroke="#8c8c8c" stroke-width="0.9" /><circle cx="118.5" cy="198.4" r="0.75" fill="#111" stroke="none" stroke-width="0.5" /><text x="118" y="169.6" font-size="3.6" text-anchor="start" font-weight="normal" fill="#333" style="font-style:italic">p</text><text x="121.3" y="169.6" font-size="3.33" text-anchor="start" font-weight="normal" fill="#333" textLength="11.2" lengthAdjust="spacingAndGlyphs" style="">= 0.020</text><line x1="117.7" y1="171.4" x2="118.5" y2="171.4" stroke="#222" stroke-width="0.6" /><polyline points="99.3,214.2 97.5,214.2 97.5,253.3 99.3,253.3" stroke="#222" fill="none" stroke-width="1" stroke-linejoin="round" /><text x="95.9" y="233.55" font-size="5.63" text-anchor="middle" font-weight="bold" fill="#1a1a1a" transform="rotate(-90 95.9 233.55)" textLength="14.7" lengthAdjust="spacingAndGlyphs" stroke="#1a1a1a" stroke-width="0.04" style="">20 Hz</text><text x="102" y="233.95" font-size="5.07" text-anchor="middle" font-weight="normal" fill="#333" transform="rotate(-90 102 233.95)" textLength="9.2" lengthAdjust="spacingAndGlyphs" stroke="#333" stroke-width="0.05" style="">PLV</text><text x="111.3" y="254.5" font-size="3.4" text-anchor="end" font-weight="normal" fill="#333" textLength="2" lengthAdjust="spacingAndGlyphs" stroke="#333" stroke-width="0.04" style="">0</text><line x1="112.4" y1="253.3" x2="113.6" y2="253.3" stroke="#777" stroke-width="0.4" /><text x="111.3" y="241.47" font-size="3.4" text-anchor="end" font-weight="normal" fill="#333" textLength="7.6" lengthAdjust="spacingAndGlyphs" stroke="#333" stroke-width="0.04" style="">0.10</text><line x1="112.4" y1="240.27" x2="113.6" y2="240.27" stroke="#777" stroke-width="0.4" /><text x="111.3" y="228.43" font-size="3.4" text-anchor="end" font-weight="normal" fill="#333" textLength="7.6" lengthAdjust="spacingAndGlyphs" stroke="#333" stroke-width="0.04" style="">0.20</text><line x1="112.4" y1="227.23" x2="113.6" y2="227.23" stroke="#777" stroke-width="0.4" /><text x="111.3" y="215.4" font-size="3.4" text-anchor="end" font-weight="normal" fill="#333" textLength="7.6" lengthAdjust="spacingAndGlyphs" stroke="#333" stroke-width="0.04" style="">0.30</text><line x1="112.4" y1="214.2" x2="113.6" y2="214.2" stroke="#777" stroke-width="0.4" /><text x="113.6" y="258.5" font-size="3.6" text-anchor="middle" font-weight="normal" fill="#333" stroke="#333" stroke-width="0.04" style="">0</text><text x="124.38" y="258.5" font-size="3.6" text-anchor="middle" font-weight="normal" fill="#333" stroke="#333" stroke-width="0.04" style="">20</text><text x="135.16" y="258.5" font-size="3.6" text-anchor="middle" font-weight="normal" fill="#333" stroke="#333" stroke-width="0.04" style="">40</text><text x="145.94" y="258.5" font-size="3.6" text-anchor="middle" font-weight="normal" fill="#333" stroke="#333" stroke-width="0.04" style="">60</text><text x="156.72" y="258.5" font-size="3.6" text-anchor="middle" font-weight="normal" fill="#333" stroke="#333" stroke-width="0.04" style="">80</text><text x="167.5" y="258.5" font-size="3.6" text-anchor="middle" font-weight="normal" fill="#333" stroke="#333" stroke-width="0.04" style="">100</text><polygon points="113.6,253.3 114.1,246.89 115.01,247.06 115.91,246.87 116.82,249.21 117.72,249.75 118.63,250.94 119.53,247.59 120.44,247.99 121.34,246.29 122.25,246.58 123.15,248.03 124.06,246.29 124.96,246.49 125.87,248.67 126.77,248.94 127.68,247.52 128.58,248.75 129.49,250.2 130.39,246.96 131.3,249.56 132.2,249.97 133.11,248.44 134.01,247.04 134.92,250.3 135.82,248.54 136.73,246.78 137.63,246.18 138.54,249.49 139.44,249.5 140.35,250.46 141.25,250.43 142.16,249.52 143.06,251.24 143.97,249.06 144.87,249.11 145.78,250.43 146.68,249.9 147.59,250.85 148.49,249.86 149.4,250.1 150.3,247.11 151.21,246.91 152.11,247.13 153.02,246.23 153.92,246.63 154.83,246.15 155.73,246.81 156.64,248.72 157.54,248.12 158.45,247.93 159.35,247.11 160.26,247.1 161.16,250.22 162.07,249.97 162.97,249.7 163.88,247.55 164.78,249.41 165.69,247.42 166.59,247.73 167.5,250.69 167.5,253.3" fill="#d8eaf6" stroke="none" stroke-width="0.5" opacity="0.7"/><polygon points="113.6,253.3 114.1,246.22 115.01,245.6 115.91,249.34 116.82,248.87 117.72,249.3 118.63,248.72 119.53,247.63 120.44,249.08 121.34,248.77 122.25,249.75 123.15,249.45 124.06,250.29 124.96,248.47 125.87,246.33 126.77,245.55 127.68,248.31 128.58,246.34 129.49,248.23 130.39,248.71 131.3,245.91 132.2,248.76 133.11,245.79 134.01,249.15 134.92,250.19 135.82,247.25 136.73,248.92 137.63,249.54 138.54,246.55 139.44,248.38 140.35,246.13 141.25,249.52 142.16,249.52 143.06,251.06 143.97,246.7 144.87,246.57 145.78,248.12 146.68,248.6 147.59,246.52 148.49,249.52 149.4,250.35 150.3,247.76 151.21,246.03 152.11,248.19 153.02,247.56 153.92,248.7 154.83,248.2 155.73,247.5 156.64,245.29 157.54,245.11 158.45,246.76 159.35,248.76 160.26,247.86 161.16,249.23 162.07,248.63 162.97,250.22 163.88,249.59 164.78,247.6 165.69,245.94 166.59,244.97 167.5,244.49 167.5,253.3" fill="#fbecc0" stroke="none" stroke-width="0.5" opacity="0.3"/><polygon points="121.8,253.3 123,222.02 125.4,222.02 126.6,253.3" fill="#fbecc0" stroke="none" stroke-width="0.5" filter="url(#bl05)" opacity="0.9"/><polygon points="148.4,253.3 150,247.44 151.6,253.3" fill="#d8eaf6" stroke="none" stroke-width="0.5" opacity="0.9"/><polyline points="148.8,250.17 150,248.9 151.2,250.17" stroke="#a8d0ea" fill="none" stroke-width="0.45" stroke-linejoin="round" /><polygon points="160.4,253.3 162,246.26 163.6,253.3" fill="#d8eaf6" stroke="none" stroke-width="0.5" opacity="0.9"/><polyline points="160.8,250.17 162,248.02 163.2,250.17" stroke="#a8d0ea" fill="none" stroke-width="0.45" stroke-linejoin="round" /><polygon points="113.6,253.3 113.6,238.46 116.1,242.98 118.6,248.61 121.6,253.3" fill="#d8eaf6" stroke="none" stroke-width="0.5" opacity="0.9"/><polyline points="114.1,241.69 115.01,244.02 115.91,246.36 116.82,248.69 117.72,250.08 118.63,249.11 119.53,248.97 120.44,247.25 121.34,248.18 122.25,248.25 123.15,249.95 124.06,249.4 124.96,249.96 125.87,249 126.77,247.81 127.68,249.82 128.58,250.31 129.49,248.9 130.39,247.5 131.3,248.54 132.2,248.79 133.11,249.84 134.01,249.54 134.92,249.13 135.82,249.25 136.73,248.59 137.63,247.24 138.54,246.88 139.44,249.86 140.35,250.39 141.25,248.65 142.16,250.2 143.06,249.38 143.97,247.67 144.87,249.79 145.78,249.48 146.68,250.6 147.59,250.05 148.49,247.84 149.4,249.03 150.3,249.96 151.21,250.63 152.11,248.84 153.02,249 153.92,249.65 154.83,247.97 155.73,249.86 156.64,250.19 157.54,247.72 158.45,248.88 159.35,248.45 160.26,247.68 161.16,248.91 162.07,250.56 162.97,249.6 163.88,247.77 164.78,248.56 165.69,249.79 166.59,250.78 167.5,250.23" stroke="#86c2e0" fill="none" stroke-width="0.6" stroke-linejoin="round" /><polyline points="114.1,250.02 115.01,251.21 115.91,249.31 116.82,248.9 117.72,248.13 118.63,248.19 119.53,247.86 120.44,248.24 121.34,249.53 122.25,251.48 123.15,251.09 124.06,249.94 124.96,249.68 125.87,250.54 126.77,249.6 127.68,248.49 128.58,250.68 129.49,250.6 130.39,248.92 131.3,248.27 132.2,248.16 133.11,250.97 134.01,249.01 134.92,250.13 135.82,251.59 136.73,248.96 137.63,249.32 138.54,249.73 139.44,251.3 140.35,249.38 141.25,249.03 142.16,248.89 143.06,248.2 143.97,250.04 144.87,251.06 145.78,250.12 146.68,248.53 147.59,250.27 148.49,250.87 149.4,250.78 150.3,249.68 151.21,251 152.11,250.74 153.02,250.53 153.92,250.3 154.83,249.23 155.73,249.63 156.64,250.87 157.54,250.87 158.45,249.77 159.35,250.99 160.26,251.42 161.16,248.94 162.07,248.57 162.97,248.67 163.88,248.02 164.78,250.25 165.69,250.57 166.59,250.32 167.5,251.73" stroke="#98c8a0" fill="none" stroke-width="0.55" stroke-linejoin="round" /><polyline points="114.1,252.59 115.01,252.64 115.91,252.95 116.82,252.35 117.72,252.48 118.63,252.6 119.53,253.03 120.44,252.16 121.34,251.94 122.04,251.34 123.12,239.22 125.28,239.22 126.36,251.34 126.77,252.66 127.68,253.07 128.58,253.16 129.49,252.27 130.39,252.96 131.3,252.63 132.2,252.17 133.11,252.38 134.01,252.01 134.92,252.64 135.82,252.6 136.73,252.12 137.63,252.1 138.54,252.4 139.44,252.79 140.35,252.35 141.25,252.04 142.16,252.21 143.06,251.96 143.97,252.17 144.87,252.82 145.78,252.26 146.68,252.22 147.59,252.73 148.49,252.26 149.4,252.02 150.3,252.09 151.21,252.51 152.11,252.75 153.02,252.78 153.92,252.12 154.83,252.16 155.73,251.99 156.64,252.43 157.54,252.34 158.45,252.74 159.35,252.66 160.26,252.65 161.16,252.2 162.07,252.47 162.97,252.03 163.88,251.93 164.78,252.73 165.69,252.23 166.59,251.88 167.5,252.56" stroke="#f0c040" fill="none" stroke-width="0.75" stroke-linejoin="round" /><polyline points="114.1,244.59 115.01,246.34 115.91,248.09 116.82,248.89 117.72,248.46 118.63,249.46 119.53,249 120.44,249.68 121.34,251.55 122.25,249.09 123.15,250.96 124.06,249.37 124.96,251.69 125.87,251.93 126.77,249.87 127.68,252 128.58,251.91 129.49,249.32 130.39,250.13 131.3,251.47 132.2,252.63 133.11,249.85 134.01,249.61 134.92,251.66 135.82,252.82 136.73,249.58 137.63,248.91 138.54,251.43 139.44,250.19 140.35,250.22 141.25,252.19 142.16,252.06 143.06,251.69 143.97,252.45 144.87,252.06 145.78,252.29 146.68,251.67 147.59,251.35 148.49,249.14 149.4,252.11 150.3,252.71 151.21,250.58 152.11,251.26 153.02,248.96 153.92,250.43 154.83,251.22 155.73,250.06 156.64,250.31 157.54,252.04 158.45,249.62 159.35,250.38 160.26,249.06 161.16,249.99 162.07,252.17 162.97,251.52 163.88,249.06 164.78,251.89 165.69,251.65 166.59,251.05 167.5,250" stroke="#1a568a" fill="none" stroke-width="0.8" stroke-linejoin="round" /><line x1="113.6" y1="253.5" x2="167.5" y2="253.5" stroke="#333" stroke-width="0.8" /><line x1="113.6" y1="253.9" x2="113.6" y2="213.7" stroke="#8c8c8c" stroke-width="0.9" /><circle cx="124.5" cy="254.2" r="0.75" fill="#111" stroke="none" stroke-width="0.5" /><text x="123.3" y="220" font-size="3.6" text-anchor="start" font-weight="normal" fill="#333" style="font-style:italic">p</text><text x="126.6" y="220" font-size="3.33" text-anchor="start" font-weight="normal" fill="#333" textLength="11.2" lengthAdjust="spacingAndGlyphs" style="">= 0.000</text><line x1="123" y1="221.8" x2="123.8" y2="221.8" stroke="#222" stroke-width="0.6" /><text x="170" y="178.85" font-size="5.07" text-anchor="middle" font-weight="normal" fill="#333" transform="rotate(-90 170 178.85)" textLength="9.2" lengthAdjust="spacingAndGlyphs" stroke="#333" stroke-width="0.05" style="">PLV</text><text x="181" y="198.5" font-size="3.4" text-anchor="end" font-weight="normal" fill="#333" textLength="2" lengthAdjust="spacingAndGlyphs" stroke="#333" stroke-width="0.04" style="">0</text><line x1="182.1" y1="197.3" x2="183.3" y2="197.3" stroke="#777" stroke-width="0.4" /><text x="181" y="191.04" font-size="3.4" text-anchor="end" font-weight="normal" fill="#333" textLength="7.6" lengthAdjust="spacingAndGlyphs" stroke="#333" stroke-width="0.04" style="">0.02</text><line x1="182.1" y1="189.84" x2="183.3" y2="189.84" stroke="#777" stroke-width="0.4" /><text x="181" y="183.58" font-size="3.4" text-anchor="end" font-weight="normal" fill="#333" textLength="7.6" lengthAdjust="spacingAndGlyphs" stroke="#333" stroke-width="0.04" style="">0.04</text><line x1="182.1" y1="182.38" x2="183.3" y2="182.38" stroke="#777" stroke-width="0.4" /><text x="181" y="176.12" font-size="3.4" text-anchor="end" font-weight="normal" fill="#333" textLength="7.6" lengthAdjust="spacingAndGlyphs" stroke="#333" stroke-width="0.04" style="">0.06</text><line x1="182.1" y1="174.92" x2="183.3" y2="174.92" stroke="#777" stroke-width="0.4" /><text x="181" y="168.66" font-size="3.4" text-anchor="end" font-weight="normal" fill="#333" textLength="7.6" lengthAdjust="spacingAndGlyphs" stroke="#333" stroke-width="0.04" style="">0.08</text><line x1="182.1" y1="167.46" x2="183.3" y2="167.46" stroke="#777" stroke-width="0.4" /><text x="181" y="161.2" font-size="3.4" text-anchor="end" font-weight="normal" fill="#333" textLength="7.6" lengthAdjust="spacingAndGlyphs" stroke="#333" stroke-width="0.04" style="">0.10</text><line x1="182.1" y1="160" x2="183.3" y2="160" stroke="#777" stroke-width="0.4" /><text x="183.3" y="202.5" font-size="3.6" text-anchor="middle" font-weight="normal" fill="#333" stroke="#333" stroke-width="0.04" style="">0</text><text x="194.04" y="202.5" font-size="3.6" text-anchor="middle" font-weight="normal" fill="#333" stroke="#333" stroke-width="0.04" style="">20</text><text x="204.78" y="202.5" font-size="3.6" text-anchor="middle" font-weight="normal" fill="#333" stroke="#333" stroke-width="0.04" style="">40</text><text x="215.52" y="202.5" font-size="3.6" text-anchor="middle" font-weight="normal" fill="#333" stroke="#333" stroke-width="0.04" style="">60</text><text x="226.26" y="202.5" font-size="3.6" text-anchor="middle" font-weight="normal" fill="#333" stroke="#333" stroke-width="0.04" style="">80</text><text x="237" y="202.5" font-size="3.6" text-anchor="middle" font-weight="normal" fill="#333" stroke="#333" stroke-width="0.04" style="">100</text><polygon points="183.3,197.3 183.8,190.84 184.7,192.78 185.6,192.11 186.51,194.43 187.41,192.26 188.31,194.36 189.21,190.85 190.11,194.29 191.01,192.24 191.92,190.25 192.82,190.46 193.72,192.12 194.62,189.37 195.52,190.38 196.42,188.64 197.33,188.35 198.23,188.81 199.13,189.31 200.03,189.73 200.93,192.69 201.83,191.7 202.74,193.82 203.64,194.79 204.54,195.11 205.44,195.51 206.34,193.58 207.24,193.44 208.15,194.56 209.05,193.07 209.95,190.31 210.85,191.45 211.75,191.91 212.65,190.11 213.56,189 214.46,189.12 215.36,192.02 216.26,193.68 217.16,193.39 218.06,192.01 218.97,189.3 219.87,188.22 220.77,191.47 221.67,191.91 222.57,191.66 223.47,189.98 224.38,189.12 225.28,189.14 226.18,188.86 227.08,191.38 227.98,190.64 228.88,191.76 229.79,191.45 230.69,192 231.59,193.29 232.49,193.95 233.39,190.66 234.29,194.02 235.2,194.61 236.1,194.63 237,192.59 237,197.3" fill="#d8eaf6" stroke="none" stroke-width="0.5" opacity="0.7"/><polygon points="183.3,197.3 183.8,190.1 184.7,188.53 185.6,192.13 186.51,189.68 187.41,190.84 188.31,193.61 189.21,191.24 190.11,194.01 191.01,193.48 191.92,192.15 192.82,192.19 193.72,191.93 194.62,190.42 195.52,193.9 196.42,191.38 197.33,194.16 198.23,194.3 199.13,189.16 200.03,188.8 200.93,190.06 201.83,192.63 202.74,189.51 203.64,191.18 204.54,190.2 205.44,192.49 206.34,194.18 207.24,193.74 208.15,190 209.05,192.26 209.95,191.03 210.85,193.11 211.75,191.52 212.65,193.72 213.56,194.99 214.46,194.41 215.36,194.22 216.26,194.11 217.16,192.64 218.06,189.5 218.97,193.51 219.87,191.63 220.77,188.14 221.67,189.56 222.57,189.93 223.47,188.71 224.38,193.08 225.28,189.25 226.18,192.91 227.08,191.96 227.98,189.28 228.88,189.48 229.79,190.13 230.69,188.26 231.59,191.67 232.49,192.16 233.39,194.42 234.29,194.25 235.2,193.91 236.1,195.13 237,195.14 237,197.3" fill="#fbecc0" stroke="none" stroke-width="0.5" opacity="0.3"/><polygon points="207.4,197.3 208.2,176.78 209.8,176.78 210.6,197.3" fill="#fbecc0" stroke="none" stroke-width="0.5" filter="url(#bl05)" opacity="0.9"/><polygon points="215.1,197.3 215.8,180.52 217.2,180.52 217.9,197.3" fill="#fbecc0" stroke="none" stroke-width="0.5" filter="url(#bl05)" opacity="0.9"/><polygon points="184.9,197.3 186.5,174.17 188.1,197.3" fill="#d8eaf6" stroke="none" stroke-width="0.5" opacity="0.9"/><polyline points="185.3,194.32 186.5,179.96 187.7,194.32" stroke="#a8d0ea" fill="none" stroke-width="0.45" stroke-linejoin="round" /><polygon points="189.4,197.3 191,184.25 192.6,197.3" fill="#d8eaf6" stroke="none" stroke-width="0.5" opacity="0.9"/><polyline points="189.8,194.32 191,187.51 192.2,194.32" stroke="#a8d0ea" fill="none" stroke-width="0.45" stroke-linejoin="round" /><polygon points="196.4,197.3 198,186.11 199.6,197.3" fill="#fbecc0" stroke="none" stroke-width="0.5" opacity="0.9"/><polyline points="196.8,194.32 198,188.91 199.2,194.32" stroke="#f4d890" fill="none" stroke-width="0.45" stroke-linejoin="round" /><polygon points="214.4,197.3 216,171.94 217.6,197.3" fill="#d8eaf6" stroke="none" stroke-width="0.5" opacity="0.9"/><polyline points="214.8,194.32 216,178.28 217.2,194.32" stroke="#a8d0ea" fill="none" stroke-width="0.45" stroke-linejoin="round" /><polygon points="220.4,197.3 222,182.38 223.6,197.3" fill="#d8eaf6" stroke="none" stroke-width="0.5" opacity="0.9"/><polyline points="220.8,194.32 222,186.11 223.2,194.32" stroke="#a8d0ea" fill="none" stroke-width="0.45" stroke-linejoin="round" /><polygon points="226.4,197.3 228,180.52 229.6,197.3" fill="#d8eaf6" stroke="none" stroke-width="0.5" opacity="0.9"/><polyline points="226.8,194.32 228,184.71 229.2,194.32" stroke="#a8d0ea" fill="none" stroke-width="0.45" stroke-linejoin="round" /><polygon points="231.4,197.3 233,183.13 234.6,197.3" fill="#d8eaf6" stroke="none" stroke-width="0.5" opacity="0.9"/><polyline points="231.8,194.32 233,186.67 234.2,194.32" stroke="#a8d0ea" fill="none" stroke-width="0.45" stroke-linejoin="round" /><polygon points="183.3,197.3 183.3,170.71 185.8,178.8 188.3,192.82 191.3,197.3" fill="#d8eaf6" stroke="none" stroke-width="0.5" opacity="0.9"/><polyline points="183.8,176.49 184.7,180.66 185.6,184.83 186.51,189 187.41,192.8 188.31,193.27 189.21,193.39 190.11,193.97 191.01,190.71 191.92,190.29 192.82,193.62 193.72,193.57 194.62,191.53 195.52,192.93 196.42,190.95 197.33,191.16 198.23,191.55 199.13,190.79 200.03,190.18 200.93,191.54 201.83,192.53 202.74,191.45 203.64,192.56 204.54,194.24 205.44,190.87 206.34,190.79 207.24,189.98 208.15,192.19 209.05,191.75 209.95,191.73 210.85,190.92 211.75,192.89 212.65,193.4 213.56,192.26 214.46,193.49 215.36,191.38 216.26,191.22 217.16,193.73 218.06,191.44 218.97,190.4 219.87,189.62 220.77,192.06 221.67,193.41 222.57,190.61 223.47,191.55 224.38,191.49 225.28,191.18 226.18,190.7 227.08,191.18 227.98,190.31 228.88,193.31 229.79,191.19 230.69,191.96 231.59,192.63 232.49,192.9 233.39,192.22 234.29,192.22 235.2,193.94 236.1,191.27 237,190.59" stroke="#86c2e0" fill="none" stroke-width="0.6" stroke-linejoin="round" /><polyline points="183.8,192.66 184.7,193.39 185.6,193.32 186.51,195.16 187.41,193.45 188.31,193.19 189.21,193.63 190.11,193 191.01,194.88 191.92,195.32 192.82,194.84 193.72,192.08 194.62,194.91 195.52,194.03 196.42,193.96 197.33,193.72 198.23,193.55 199.13,195.12 200.03,193.02 200.93,191.87 201.83,194.89 202.74,192.9 203.64,192.37 204.54,192.84 205.44,194.78 206.34,193.32 207.24,191.45 208.15,191.89 209.05,191.87 209.95,191.05 210.85,194.22 211.75,194.55 212.65,192.31 213.56,192.05 214.46,194.87 215.36,194.61 216.26,193.54 217.16,193.74 218.06,195.38 218.97,192.96 219.87,193.77 220.77,191.6 221.67,192.79 222.57,192.17 223.47,192.39 224.38,192.67 225.28,192.88 226.18,194.78 227.08,193.27 227.98,191.47 228.88,194.13 229.79,195.26 230.69,195.29 231.59,193.15 232.49,192.75 233.39,194.23 234.29,192 235.2,191.24 236.1,192.76 237,192.14" stroke="#98c8a0" fill="none" stroke-width="0.55" stroke-linejoin="round" /><polyline points="183.8,196.71 184.7,196.43 185.6,196.42 186.51,196.73 187.41,197.11 188.31,196.49 189.21,196.05 190.11,196.11 191.01,195.73 191.92,196.36 192.82,197.01 193.72,196.18 194.62,196.65 195.52,196.07 196.42,196.84 197.33,196.58 198.23,196.28 199.13,195.73 200.03,195.73 200.93,196.7 201.83,196.06 202.74,196.42 203.64,196.46 204.54,196.32 205.44,196.63 206.34,195.96 207.24,196.47 207.56,195.44 208.28,193.57 209.72,193.57 210.44,195.44 210.85,195.98 211.75,195.78 212.65,196.19 213.56,196.5 214.46,195.76 215.24,195.44 215.87,195.06 217.13,195.06 217.76,195.44 218.06,196.27 218.97,195.69 219.87,196.23 220.77,196.47 221.67,196.25 222.57,196.15 223.47,196.68 224.38,196.06 225.28,196.23 226.18,196.33 227.08,195.76 227.98,196.71 228.88,196.05 229.79,196.65 230.69,196.41 231.59,195.74 232.49,195.92 233.39,196.34 234.29,196.31 235.2,196.89 236.1,195.91 237,196.66" stroke="#f0c040" fill="none" stroke-width="0.75" stroke-linejoin="round" /><polyline points="183.8,181.69 184.7,184.82 185.6,187.95 186.51,191.07 187.41,194.2 188.31,193.68 189.21,193.48 190.11,195.21 191.01,196.72 191.92,195.57 192.82,194.76 193.72,193.87 194.62,193.78 195.52,195.25 196.42,194.16 197.33,194.45 198.23,194.97 199.13,195.08 200.03,192.28 200.93,192.62 201.83,194.96 202.74,194.78 203.64,196.02 204.54,192.52 205.44,192.68 206.34,194 207.24,195.43 208.15,193.08 209.05,195.33 209.95,194.09 210.85,193.34 211.75,195.69 212.65,192.72 213.56,196.07 214.46,193.76 215.36,193.55 216.26,192.74 217.16,193.85 218.06,195.86 218.97,193.29 219.87,194.37 220.77,194.04 221.67,193.31 222.57,192.35 223.47,194.87 224.38,194.02 225.28,194.11 226.18,194.77 227.08,192.53 227.98,195.48 228.88,196.41 229.79,193.56 230.69,195.67 231.59,195.54 232.49,193.6 233.39,193.07 234.29,192.08 235.2,193.46 236.1,193.91 237,194.17" stroke="#1a568a" fill="none" stroke-width="0.8" stroke-linejoin="round" /><line x1="183.3" y1="197.5" x2="237" y2="197.5" stroke="#333" stroke-width="0.8" /><line x1="183.3" y1="197.9" x2="183.3" y2="159.5" stroke="#8c8c8c" stroke-width="0.9" /><circle cx="188.5" cy="198.2" r="0.75" fill="#111" stroke="none" stroke-width="0.5" /><text x="170" y="233.95" font-size="5.07" text-anchor="middle" font-weight="normal" fill="#333" transform="rotate(-90 170 233.95)" textLength="9.2" lengthAdjust="spacingAndGlyphs" stroke="#333" stroke-width="0.05" style="">PLV</text><text x="181" y="254.5" font-size="3.4" text-anchor="end" font-weight="normal" fill="#333" textLength="2" lengthAdjust="spacingAndGlyphs" stroke="#333" stroke-width="0.04" style="">0</text><line x1="182.1" y1="253.3" x2="183.3" y2="253.3" stroke="#777" stroke-width="0.4" /><text x="181" y="241.47" font-size="3.4" text-anchor="end" font-weight="normal" fill="#333" textLength="7.6" lengthAdjust="spacingAndGlyphs" stroke="#333" stroke-width="0.04" style="">0.10</text><line x1="182.1" y1="240.27" x2="183.3" y2="240.27" stroke="#777" stroke-width="0.4" /><text x="181" y="228.43" font-size="3.4" text-anchor="end" font-weight="normal" fill="#333" textLength="7.6" lengthAdjust="spacingAndGlyphs" stroke="#333" stroke-width="0.04" style="">0.20</text><line x1="182.1" y1="227.23" x2="183.3" y2="227.23" stroke="#777" stroke-width="0.4" /><text x="181" y="215.4" font-size="3.4" text-anchor="end" font-weight="normal" fill="#333" textLength="7.6" lengthAdjust="spacingAndGlyphs" stroke="#333" stroke-width="0.04" style="">0.30</text><line x1="182.1" y1="214.2" x2="183.3" y2="214.2" stroke="#777" stroke-width="0.4" /><text x="183.3" y="258.5" font-size="3.6" text-anchor="middle" font-weight="normal" fill="#333" stroke="#333" stroke-width="0.04" style="">0</text><text x="194.04" y="258.5" font-size="3.6" text-anchor="middle" font-weight="normal" fill="#333" stroke="#333" stroke-width="0.04" style="">20</text><text x="204.78" y="258.5" font-size="3.6" text-anchor="middle" font-weight="normal" fill="#333" stroke="#333" stroke-width="0.04" style="">40</text><text x="215.52" y="258.5" font-size="3.6" text-anchor="middle" font-weight="normal" fill="#333" stroke="#333" stroke-width="0.04" style="">60</text><text x="226.26" y="258.5" font-size="3.6" text-anchor="middle" font-weight="normal" fill="#333" stroke="#333" stroke-width="0.04" style="">80</text><text x="237" y="258.5" font-size="3.6" text-anchor="middle" font-weight="normal" fill="#333" stroke="#333" stroke-width="0.04" style="">100</text><polygon points="183.3,253.3 183.8,247.69 184.7,250.5 185.6,247.62 186.51,247.81 187.41,250.15 188.31,248.12 189.21,248.21 190.11,246.42 191.01,250 191.92,251.38 192.82,247.58 193.72,246 194.62,247.28 195.52,247.98 196.42,249.57 197.33,247.85 198.23,248.55 199.13,246.53 200.03,246.1 200.93,245.25 201.83,247.41 202.74,248.25 203.64,248.83 204.54,250.71 205.44,248.06 206.34,247.32 207.24,247.7 208.15,250.37 209.05,247.94 209.95,247.01 210.85,247.4 211.75,248.91 212.65,247.29 213.56,246.16 214.46,248.7 215.36,248.77 216.26,248.81 217.16,245.85 218.06,246.06 218.97,245.35 219.87,246.49 220.77,249.73 221.67,251.31 222.57,251.11 223.47,248.53 224.38,248.66 225.28,250.45 226.18,248.16 227.08,247.65 227.98,249.13 228.88,247.7 229.79,247.89 230.69,247.36 231.59,249.61 232.49,248.79 233.39,246.29 234.29,244.98 235.2,247.82 236.1,246.05 237,248.34 237,253.3" fill="#d8eaf6" stroke="none" stroke-width="0.5" opacity="0.7"/><polygon points="183.3,253.3 183.8,247.64 184.7,249.27 185.6,246.93 186.51,246.12 187.41,248.05 188.31,247.49 189.21,246.54 190.11,246.48 191.01,246.01 191.92,244.88 192.82,247.25 193.72,249.64 194.62,249.25 195.52,248.8 196.42,246.87 197.33,246.77 198.23,245.01 199.13,247.87 200.03,246.3 200.93,245.72 201.83,249.62 202.74,247.17 203.64,250.11 204.54,249 205.44,249.46 206.34,248.83 207.24,245.94 208.15,248.1 209.05,246.16 209.95,246.36 210.85,244.79 211.75,243.81 212.65,245.3 213.56,243.72 214.46,245.38 215.36,248.72 216.26,250.77 217.16,248.07 218.06,245.25 218.97,245.68 219.87,244.15 220.77,244.53 221.67,247.06 222.57,247.92 223.47,244.74 224.38,246.34 225.28,246.52 226.18,246.43 227.08,244.84 227.98,245.81 228.88,244.43 229.79,247.41 230.69,248.24 231.59,248.41 232.49,247.15 233.39,249.98 234.29,247.47 235.2,245.61 236.1,245.97 237,249.3 237,253.3" fill="#fbecc0" stroke="none" stroke-width="0.5" opacity="0.3"/><polygon points="192.5,253.3 193.5,233.75 195.5,233.75 196.5,253.3" fill="#fbecc0" stroke="none" stroke-width="0.5" filter="url(#bl05)" opacity="0.9"/><polygon points="184.4,253.3 186,241.57 187.6,253.3" fill="#d8eaf6" stroke="none" stroke-width="0.5" opacity="0.9"/><polyline points="184.8,250.17 186,244.5 187.2,250.17" stroke="#a8d0ea" fill="none" stroke-width="0.45" stroke-linejoin="round" /><polygon points="201.4,253.3 203,245.48 204.6,253.3" fill="#d8eaf6" stroke="none" stroke-width="0.5" opacity="0.9"/><polyline points="201.8,250.17 203,247.44 204.2,250.17" stroke="#a8d0ea" fill="none" stroke-width="0.45" stroke-linejoin="round" /><polygon points="213.4,253.3 215,243.53 216.6,253.3" fill="#d8eaf6" stroke="none" stroke-width="0.5" opacity="0.9"/><polyline points="213.8,250.17 215,245.97 216.2,250.17" stroke="#a8d0ea" fill="none" stroke-width="0.45" stroke-linejoin="round" /><polygon points="223.4,253.3 225,244.7 226.6,253.3" fill="#d8eaf6" stroke="none" stroke-width="0.5" opacity="0.9"/><polyline points="223.8,250.17 225,246.85 226.2,250.17" stroke="#a8d0ea" fill="none" stroke-width="0.45" stroke-linejoin="round" /><polygon points="183.3,253.3 183.3,238.46 185.8,242.98 188.3,248.61 191.3,253.3" fill="#d8eaf6" stroke="none" stroke-width="0.5" opacity="0.9"/><polyline points="183.8,241.69 184.7,244.01 185.6,246.34 186.51,246.85 187.41,248.9 188.31,246.86 189.21,246.75 190.11,246.21 191.01,248.23 191.92,249.68 192.82,249.2 193.72,247.53 194.62,249.48 195.52,250.17 196.42,248.23 197.33,247.44 198.23,248.78 199.13,250.36 200.03,250.6 200.93,250.52 201.83,249.87 202.74,247.75 203.64,248.63 204.54,248.17 205.44,248.86 206.34,248.47 207.24,247.24 208.15,249.6 209.05,246.91 209.95,247.31 210.85,247.38 211.75,249.91 212.65,247.33 213.56,248.37 214.46,250.12 215.36,249.34 216.26,250.35 217.16,248.55 218.06,248.18 218.97,247.8 219.87,247.69 220.77,247.57 221.67,246.45 222.57,249.71 223.47,249.7 224.38,249.47 225.28,248.83 226.18,247.33 227.08,246.98 227.98,249.8 228.88,250.08 229.79,248.71 230.69,249.43 231.59,250.5 232.49,247.21 233.39,247.49 234.29,247.72 235.2,247.55 236.1,248.28 237,247.54" stroke="#86c2e0" fill="none" stroke-width="0.6" stroke-linejoin="round" /><polyline points="183.8,250.05 184.7,249.38 185.6,251.09 186.51,248.27 187.41,251 188.31,250.78 189.21,251.08 190.11,251.17 191.01,248.97 191.92,250.59 192.82,250.47 193.72,248.56 194.62,250.63 195.52,249.69 196.42,250.45 197.33,248.32 198.23,249.88 199.13,247.86 200.03,247.47 200.93,247.51 201.83,247.3 202.74,249.24 203.64,248.46 204.54,248.14 205.44,250.33 206.34,250.82 207.24,249.59 208.15,248.54 209.05,250.18 209.95,249.96 210.85,249.19 211.75,248.77 212.65,248.85 213.56,249.33 214.46,248.34 215.36,247.38 216.26,248.81 217.16,248.31 218.06,247.58 218.97,248.19 219.87,249.82 220.77,250.89 221.67,248.25 222.57,250.33 223.47,249.1 224.38,250.77 225.28,251.38 226.18,249.39 227.08,250.07 227.98,250 228.88,248.75 229.79,251.06 230.69,250.62 231.59,251.57 232.49,248.89 233.39,248.5 234.29,250.83 235.2,249.24 236.1,249.02 237,248.59" stroke="#98c8a0" fill="none" stroke-width="0.55" stroke-linejoin="round" /><polyline points="183.8,252.11 184.7,252.02 185.6,252.23 186.51,252.06 187.41,252.76 188.31,252.6 189.21,252.77 190.11,253.05 191.01,252.6 191.92,252.44 192.7,251.34 193.6,249.39 195.4,249.39 196.3,251.34 196.42,251.92 197.33,252.55 198.23,252.41 199.13,252.42 200.03,252.46 200.93,252.85 201.83,253.14 202.74,252.48 203.64,252.91 204.54,252.82 205.44,252.78 206.34,253.12 207.24,252.27 208.15,252.15 209.05,252.32 209.95,252.15 210.85,252.08 211.75,251.95 212.65,252.8 213.56,253.11 214.46,253.09 215.36,252.98 216.26,252.47 217.16,252.2 218.06,252.24 218.97,251.77 219.87,251.75 220.77,252.19 221.67,252.25 222.57,252.56 223.47,252.54 224.38,251.96 225.28,252.71 226.18,252.42 227.08,252.39 227.98,252.25 228.88,252.21 229.79,252.87 230.69,253.13 231.59,252.24 232.49,252.88 233.39,252.94 234.29,252.98 235.2,252.32 236.1,252.88 237,252.66" stroke="#f0c040" fill="none" stroke-width="0.75" stroke-linejoin="round" /><polyline points="183.8,244.59 184.7,246.34 185.6,248.08 186.51,249.83 187.41,250.74 188.31,249.81 189.21,250.98 190.11,252.39 191.01,248.94 191.92,250.45 192.82,249.41 193.72,250.97 194.62,251.14 195.52,248.57 196.42,248.36 197.33,250.19 198.23,252.04 199.13,252.14 200.03,252.27 200.93,249.21 201.83,249.56 202.74,250.65 203.64,249.92 204.54,249.16 205.44,252.12 206.34,251.42 207.24,250.21 208.15,250.32 209.05,251.35 209.95,251.83 210.85,252.01 211.75,250.04 212.65,252.5 213.56,252.07 214.46,249.77 215.36,248.86 216.26,249.85 217.16,249.28 218.06,251.94 218.97,248.57 219.87,251.53 220.77,249.17 221.67,251.63 222.57,250.41 223.47,248.81 224.38,252.34 225.28,250.49 226.18,252.64 227.08,250.12 227.98,249.23 228.88,250.48 229.79,249.11 230.69,250.56 231.59,251.43 232.49,251.31 233.39,248.42 234.29,250.83 235.2,249.51 236.1,250.08 237,252.02" stroke="#1a568a" fill="none" stroke-width="0.8" stroke-linejoin="round" /><line x1="183.3" y1="253.5" x2="237" y2="253.5" stroke="#333" stroke-width="0.8" /><line x1="183.3" y1="253.9" x2="183.3" y2="213.7" stroke="#8c8c8c" stroke-width="0.9" /><circle cx="194.8" cy="254.2" r="0.75" fill="#111" stroke="none" stroke-width="0.5" /><ellipse cx="146.3" cy="166" rx="2.2" ry="3.4" fill="#e6cbbb" stroke="#9a6a50" stroke-width="0.3" /><ellipse cx="162.3" cy="166" rx="2.2" ry="3.4" fill="#e6cbbb" stroke="#9a6a50" stroke-width="0.3" /><ellipse cx="154.5" cy="158.1" rx="6" ry="4.6" fill="#dcc0b0" stroke="#7a5040" stroke-width="0.4" /><ellipse cx="154.5" cy="159.1" rx="4.5" ry="3.3" fill="#8a4e2a" stroke="none" stroke-width="0.5" /><ellipse cx="154.3" cy="167.3" rx="8" ry="8.2" fill="#864418" stroke="#4a2810" stroke-width="0.5" /><ellipse cx="152.2" cy="159.2" rx="1.3" ry="0.7" fill="#3a2416" stroke="none" stroke-width="0.5" /><ellipse cx="156.6" cy="159.2" rx="1.3" ry="0.7" fill="#3a2416" stroke="none" stroke-width="0.5" /><path d="M154.3,161 L154.3,173.5" stroke="#6a3818" fill="none" stroke-width="0.35" /><line x1="145.1" y1="152.3" x2="149.1" y2="157.3" stroke="#4a5432" stroke-width="1.5" stroke-linecap="round"/><ellipse cx="145.5" cy="152.9" rx="0.9" ry="1.3" fill="#6a7a48" stroke="none" stroke-width="0.5" /><line x1="144.3" y1="175.1" x2="150.1" y2="170.3" stroke="#111" stroke-width="1.25" stroke-linecap="round"/><ellipse cx="217" cy="165.5" rx="2.2" ry="3.4" fill="#e6cbbb" stroke="#9a6a50" stroke-width="0.3" /><ellipse cx="233" cy="165.5" rx="2.2" ry="3.4" fill="#e6cbbb" stroke="#9a6a50" stroke-width="0.3" /><ellipse cx="225.2" cy="157.6" rx="6" ry="4.6" fill="#dcc0b0" stroke="#7a5040" stroke-width="0.4" /><ellipse cx="225.2" cy="158.6" rx="4.5" ry="3.3" fill="#8a4e2a" stroke="none" stroke-width="0.5" /><ellipse cx="225" cy="166.8" rx="8" ry="8.2" fill="#864418" stroke="#4a2810" stroke-width="0.5" /><ellipse cx="222.9" cy="158.7" rx="1.3" ry="0.7" fill="#3a2416" stroke="none" stroke-width="0.5" /><ellipse cx="227.3" cy="158.7" rx="1.3" ry="0.7" fill="#3a2416" stroke="none" stroke-width="0.5" /><path d="M225,160.5 L225,173" stroke="#6a3818" fill="none" stroke-width="0.35" /><line x1="234.6" y1="152.4" x2="229.8" y2="157.4" stroke="#3e4430" stroke-width="1.1" stroke-linecap="round"/><line x1="233.6" y1="153.4" x2="232.4" y2="154.6" stroke="#d8d0c0" stroke-width="0.6" /><line x1="215.2" y1="174.8" x2="221.4" y2="169.6" stroke="#111" stroke-width="1.25" stroke-linecap="round"/><ellipse cx="146.3" cy="222.8" rx="2.2" ry="3.4" fill="#e6cbbb" stroke="#9a6a50" stroke-width="0.3" /><ellipse cx="162.3" cy="222.8" rx="2.2" ry="3.4" fill="#e6cbbb" stroke="#9a6a50" stroke-width="0.3" /><ellipse cx="154.5" cy="214.9" rx="6" ry="4.6" fill="#dcc0b0" stroke="#7a5040" stroke-width="0.4" /><ellipse cx="154.5" cy="215.9" rx="4.5" ry="3.3" fill="#8a4e2a" stroke="none" stroke-width="0.5" /><ellipse cx="154.3" cy="224.1" rx="8" ry="8.2" fill="#864418" stroke="#4a2810" stroke-width="0.5" /><ellipse cx="152.2" cy="216" rx="1.3" ry="0.7" fill="#3a2416" stroke="none" stroke-width="0.5" /><ellipse cx="156.6" cy="216" rx="1.3" ry="0.7" fill="#3a2416" stroke="none" stroke-width="0.5" /><path d="M154.3,217.8 L154.3,230.3" stroke="#6a3818" fill="none" stroke-width="0.35" /><line x1="145.1" y1="209.1" x2="149.1" y2="214.1" stroke="#4a5432" stroke-width="1.5" stroke-linecap="round"/><ellipse cx="145.5" cy="209.7" rx="0.9" ry="1.3" fill="#6a7a48" stroke="none" stroke-width="0.5" /><line x1="144.3" y1="231.9" x2="150.1" y2="227.1" stroke="#111" stroke-width="1.25" stroke-linecap="round"/><ellipse cx="218" cy="222.8" rx="2.2" ry="3.4" fill="#e6cbbb" stroke="#9a6a50" stroke-width="0.3" /><ellipse cx="234" cy="222.8" rx="2.2" ry="3.4" fill="#e6cbbb" stroke="#9a6a50" stroke-width="0.3" /><ellipse cx="226.2" cy="214.9" rx="6" ry="4.6" fill="#dcc0b0" stroke="#7a5040" stroke-width="0.4" /><ellipse cx="226.2" cy="215.9" rx="4.5" ry="3.3" fill="#8a4e2a" stroke="none" stroke-width="0.5" /><ellipse cx="226" cy="224.1" rx="8" ry="8.2" fill="#864418" stroke="#4a2810" stroke-width="0.5" /><ellipse cx="223.9" cy="216" rx="1.3" ry="0.7" fill="#3a2416" stroke="none" stroke-width="0.5" /><ellipse cx="228.3" cy="216" rx="1.3" ry="0.7" fill="#3a2416" stroke="none" stroke-width="0.5" /><path d="M226,217.8 L226,230.3" stroke="#6a3818" fill="none" stroke-width="0.35" /><line x1="235.6" y1="209.7" x2="230.8" y2="214.7" stroke="#3e4430" stroke-width="1.1" stroke-linecap="round"/><line x1="234.6" y1="210.7" x2="233.4" y2="211.9" stroke="#d8d0c0" stroke-width="0.6" /><line x1="216.2" y1="232.1" x2="222.4" y2="226.9" stroke="#111" stroke-width="1.25" stroke-linecap="round"/><text x="255.2" y="141.2" font-size="7" text-anchor="start" font-weight="bold" fill="#111" stroke="#111" stroke-width="0.2" style="">E</text><text x="289.25" y="164.2" font-size="4" text-anchor="middle" font-weight="normal" fill="#333" textLength="13.5" lengthAdjust="spacingAndGlyphs" stroke="#333" stroke-width="0.02" style="">0.5 mA</text><polyline points="271.3,169.5 271.74,169.52 272.18,169.56 272.62,169.64 273.06,169.75 273.51,169.88 273.95,170.04 274.39,170.21 274.83,170.4 275.27,170.6 275.71,170.8 276.15,171 276.6,171.2 277.04,171.39 277.48,171.56 277.92,171.72 278.36,171.85 278.8,171.96 279.24,172.04 279.68,172.08 280.12,172.1 280.57,172.08 281.01,172.04 281.45,171.96 281.89,171.85 282.33,171.72 282.77,171.56 283.21,171.39 283.66,171.2 284.1,171 284.54,170.8 284.98,170.6 285.42,170.4 285.86,170.21 286.3,170.04 286.74,169.88 287.19,169.75 287.63,169.64 288.07,169.56 288.51,169.52 288.95,169.5 289.39,169.52 289.83,169.56 290.27,169.64 290.72,169.75 291.16,169.88 291.6,170.04 292.04,170.21 292.48,170.4 292.92,170.6 293.36,170.8 293.8,171 294.25,171.2 294.69,171.39 295.13,171.56 295.57,171.72 296.01,171.85 296.45,171.96 296.89,172.04 297.33,172.08 297.78,172.1 298.22,172.08 298.66,172.04 299.1,171.96 299.54,171.85 299.98,171.72 300.42,171.56 300.86,171.39 301.31,171.2 301.75,171 302.19,170.8 302.63,170.6 303.07,170.4 303.51,170.21 303.95,170.04 304.39,169.88 304.84,169.75 305.28,169.64 305.72,169.56 306.16,169.52 306.6,169.5" stroke="#555" fill="none" stroke-width="0.6" stroke-linejoin="round" /><rect x="271.3" y="174.4" width="35.3" height="47.8" fill="#fff" stroke="#777" stroke-width="0.4" /><g clip-path="url(#eclip0)"><ellipse cx="271.3" cy="197.25" rx="3.16" ry="12.25" fill="#f4a070" stroke="none" stroke-width="0.5" filter="url(#bl1)" opacity="0.14"/><ellipse cx="288.95" cy="197.25" rx="3.16" ry="12.25" fill="#f4a070" stroke="none" stroke-width="0.5" filter="url(#bl1)" opacity="0.14"/><ellipse cx="306.6" cy="197.25" rx="3.16" ry="12.25" fill="#f4a070" stroke="none" stroke-width="0.5" filter="url(#bl1)" opacity="0.14"/><path d="M274.39 185.3h0.79v0.6h-0.79zM273.34 186.55h0.68v0.6h-0.68zM303.33 186.55h0.96v0.6h-0.96zM272.65 187.8h1.51v0.6h-1.51zM276.24 187.8h0.89v0.6h-0.89zM285.34 187.8h1.53v0.6h-1.53zM295.71 187.8h0.91v0.6h-0.91zM303.32 187.8h0.9v0.6h-0.9zM289 189.05h0.7v0.6h-0.7zM293.66 189.05h0.51v0.6h-0.51zM299.56 189.05h1.48v0.6h-1.48zM305.54 189.05h0.92v0.6h-0.92zM284.53 190.3h0.64v0.6h-0.64zM272.71 191.55h1.3v0.6h-1.3zM275.45 191.55h0.67v0.6h-0.67zM278.84 191.55h1.21v0.6h-1.21zM282.47 191.55h1.13v0.6h-1.13zM286.43 191.55h1.3v0.6h-1.3zM271.32 192.8h1.51v0.6h-1.51zM277.6 194.05h1.07v0.6h-1.07zM287.31 194.05h0.57v0.6h-0.57zM288.59 194.05h1.03v0.6h-1.03zM297.85 194.05h0.69v0.6h-0.69zM305.54 194.05h1.02v0.6h-1.02zM272.8 195.3h1.47v0.6h-1.47zM291.42 195.3h1.03v0.6h-1.03zM298.14 196.55h0.79v0.6h-0.79zM274.46 199.05h0.65v0.6h-0.65zM275.21 199.05h1.41v0.6h-1.41zM292.09 199.05h0.95v0.6h-0.95zM305.54 199.05h1.39v0.6h-1.39zM271.67 200.3h1.24v0.6h-1.24zM275.69 200.3h0.62v0.6h-0.62zM305.54 200.3h0.92v0.6h-0.92zM271.42 201.55h0.6v0.6h-0.6zM282.31 201.55h1.25v0.6h-1.25zM304.23 201.55h1v0.6h-1zM272.41 202.8h0.79v0.6h-0.79zM273.71 202.8h1.31v0.6h-1.31zM285.73 202.8h1.45v0.6h-1.45zM301.32 202.8h0.56v0.6h-0.56zM304.8 202.8h1.12v0.6h-1.12zM272.59 204.05h0.93v0.6h-0.93zM286.3 204.05h1.56v0.6h-1.56zM305.16 204.05h1.19v0.6h-1.19zM271.87 205.3h0.68v0.6h-0.68zM289.1 205.3h1.11v0.6h-1.11zM305.54 205.3h1.11v0.6h-1.11zM295.53 206.55h1v0.6h-1zM305.54 206.55h1.33v0.6h-1.33zM272.52 207.8h0.78v0.6h-0.78zM286.07 207.8h0.52v0.6h-0.52zM297.49 207.8h0.87v0.6h-0.87zM302.42 207.8h0.76v0.6h-0.76z" stroke="none" fill="#e06a30" stroke-width="0.5" opacity="0.55"/><path d="M285.24 185.3h0.71v0.6h-0.71zM303.7 185.3h1.47v0.6h-1.47zM305.08 185.3h1.4v0.6h-1.4zM275.69 186.55h0.73v0.6h-0.73zM305.54 186.55h0.69v0.6h-0.69zM281.67 187.8h0.54v0.6h-0.54zM284.07 187.8h0.9v0.6h-0.9zM287.01 187.8h1.28v0.6h-1.28zM287.52 187.8h0.85v0.6h-0.85zM290.73 187.8h0.98v0.6h-0.98zM303.9 187.8h0.87v0.6h-0.87zM305.08 187.8h1.34v0.6h-1.34zM305.54 187.8h0.58v0.6h-0.58zM288.08 189.05h1.59v0.6h-1.59zM274.91 191.55h1.46v0.6h-1.46zM291.11 192.8h0.55v0.6h-0.55zM301.23 194.05h1.11v0.6h-1.11zM305.54 194.05h1.21v0.6h-1.21zM271.7 195.3h1.48v0.6h-1.48zM274.06 195.3h1.15v0.6h-1.15zM279.35 195.3h0.72v0.6h-0.72zM286.7 195.3h0.56v0.6h-0.56zM287.65 195.3h1.49v0.6h-1.49zM288.96 195.3h1.52v0.6h-1.52zM290.18 195.3h0.63v0.6h-0.63zM271.99 196.55h0.53v0.6h-0.53zM284.93 196.55h0.62v0.6h-0.62zM287.62 196.55h1.13v0.6h-1.13zM305.54 196.55h1.43v0.6h-1.43zM276.64 197.8h1.06v0.6h-1.06zM287.99 197.8h0.54v0.6h-0.54zM293.86 197.8h0.82v0.6h-0.82zM305.54 197.8h1.52v0.6h-1.52zM279.86 199.05h0.83v0.6h-0.83zM296.37 199.05h0.8v0.6h-0.8zM272.72 200.3h1.47v0.6h-1.47zM284.27 200.3h0.97v0.6h-0.97zM289.53 200.3h1.6v0.6h-1.6zM292.01 200.3h0.92v0.6h-0.92zM292.92 200.3h1.5v0.6h-1.5zM273 201.55h0.68v0.6h-0.68zM277.54 201.55h0.64v0.6h-0.64zM282.91 201.55h1.19v0.6h-1.19zM284.61 201.55h1.08v0.6h-1.08zM290.51 201.55h1.41v0.6h-1.41zM305.17 201.55h1.09v0.6h-1.09zM305.54 201.55h1.46v0.6h-1.46zM283.39 202.8h0.54v0.6h-0.54zM288.12 202.8h1.07v0.6h-1.07zM291.89 202.8h1.56v0.6h-1.56zM274.45 204.05h0.55v0.6h-0.55zM287.96 205.3h1.14v0.6h-1.14zM290.14 205.3h1.46v0.6h-1.46zM303.55 205.3h1.43v0.6h-1.43zM305.54 206.55h0.53v0.6h-0.53zM273.27 207.8h1.22v0.6h-1.22zM287.08 207.8h0.82v0.6h-0.82zM294.35 207.8h1.6v0.6h-1.6zM303.15 207.8h1.3v0.6h-1.3z" stroke="none" fill="#f0a070" stroke-width="0.5" opacity="0.55"/><path d="M303.16 185.3h1.28v0.6h-1.28zM304.64 185.3h0.87v0.6h-0.87zM286.41 186.55h0.76v0.6h-0.76zM286.85 186.55h1.21v0.6h-1.21zM285.95 187.8h1.16v0.6h-1.16zM291.36 187.8h0.94v0.6h-0.94zM297.72 187.8h0.54v0.6h-0.54zM305.54 187.8h1.42v0.6h-1.42zM285.55 189.05h0.7v0.6h-0.7zM273.62 190.3h1.07v0.6h-1.07zM304.52 190.3h0.81v0.6h-0.81zM305.54 190.3h1.14v0.6h-1.14zM271.57 191.55h1.07v0.6h-1.07zM274.11 191.55h0.88v0.6h-0.88zM287.7 191.55h0.52v0.6h-0.52zM289.7 191.55h1.34v0.6h-1.34zM305.51 191.55h1.34v0.6h-1.34zM305.54 191.55h0.74v0.6h-0.74zM272.11 192.8h1.23v0.6h-1.23zM287.97 192.8h0.91v0.6h-0.91zM305.54 192.8h1.33v0.6h-1.33zM305.54 192.8h0.93v0.6h-0.93zM305.54 192.8h0.82v0.6h-0.82zM271.91 194.05h0.65v0.6h-0.65zM285.5 194.05h0.96v0.6h-0.96zM298.91 194.05h0.56v0.6h-0.56zM305.54 194.05h0.64v0.6h-0.64zM280.08 195.3h1.35v0.6h-1.35zM289.56 195.3h0.8v0.6h-0.8zM305.54 195.3h0.6v0.6h-0.6zM305.54 195.3h1.32v0.6h-1.32zM273.35 196.55h1.59v0.6h-1.59zM289.56 196.55h0.92v0.6h-0.92zM299.06 196.55h0.77v0.6h-0.77zM305.43 196.55h1.25v0.6h-1.25zM303.76 197.8h0.51v0.6h-0.51zM273.2 199.05h1.57v0.6h-1.57zM278.51 199.05h0.83v0.6h-0.83zM284.6 199.05h1.06v0.6h-1.06zM288.21 199.05h1.51v0.6h-1.51zM289.55 199.05h1.26v0.6h-1.26zM291.29 199.05h1.31v0.6h-1.31zM294.23 200.3h1.34v0.6h-1.34zM304 200.3h1.34v0.6h-1.34zM305.54 200.3h0.82v0.6h-0.82zM273.88 201.55h1v0.6h-1zM305.54 201.55h1.06v0.6h-1.06zM287.59 202.8h0.97v0.6h-0.97zM289.33 202.8h0.99v0.6h-0.99zM298.79 202.8h0.88v0.6h-0.88zM303.65 202.8h1.23v0.6h-1.23zM287.58 204.05h0.89v0.6h-0.89zM292.47 204.05h0.73v0.6h-0.73zM281.51 205.3h1.02v0.6h-1.02zM286.33 205.3h1.54v0.6h-1.54zM291.3 205.3h0.69v0.6h-0.69zM278.85 206.55h1.52v0.6h-1.52zM290.4 207.8h0.78v0.6h-0.78zM292.33 207.8h1.29v0.6h-1.29zM305.54 207.8h0.61v0.6h-0.61zM305.54 207.8h1.12v0.6h-1.12z" stroke="none" fill="#f4b890" stroke-width="0.5" opacity="0.55"/><path d="M287.99 186.55h1.4v0.6h-1.4zM305.42 186.55h1.11v0.6h-1.11zM271.75 187.8h1.21v0.6h-1.21zM274.54 187.8h1.51v0.6h-1.51zM275.19 187.8h0.64v0.6h-0.64zM288.09 187.8h0.73v0.6h-0.73zM289.03 187.8h1.42v0.6h-1.42zM289.89 187.8h1.05v0.6h-1.05zM271.95 189.05h1.16v0.6h-1.16zM272.13 190.3h0.52v0.6h-0.52zM272.98 190.3h0.62v0.6h-0.62zM286.81 190.3h1.28v0.6h-1.28zM283.63 191.55h1.25v0.6h-1.25zM288.86 191.55h1.28v0.6h-1.28zM290.86 191.55h1.48v0.6h-1.48zM284.12 192.8h1.04v0.6h-1.04zM304.51 192.8h1.14v0.6h-1.14zM289.96 194.05h1.09v0.6h-1.09zM292.39 194.05h0.64v0.6h-0.64zM296.76 194.05h0.76v0.6h-0.76zM304.47 194.05h0.51v0.6h-0.51zM305.54 194.05h0.73v0.6h-0.73zM302.2 195.3h1.16v0.6h-1.16zM303.56 195.3h0.97v0.6h-0.97zM304.17 195.3h1.55v0.6h-1.55zM304.85 195.3h0.85v0.6h-0.85zM290.03 196.55h1.35v0.6h-1.35zM292.51 196.55h0.77v0.6h-0.77zM273.66 197.8h0.55v0.6h-0.55zM289.3 197.8h0.62v0.6h-0.62zM291.52 197.8h1.32v0.6h-1.32zM292.71 197.8h1.58v0.6h-1.58zM271.48 199.05h1.16v0.6h-1.16zM290.62 199.05h0.74v0.6h-0.74zM303.38 199.05h0.83v0.6h-0.83zM304.51 199.05h1.11v0.6h-1.11zM283.21 200.3h0.89v0.6h-0.89zM297.81 200.3h0.71v0.6h-0.71zM280.45 201.55h0.68v0.6h-0.68zM283.45 201.55h0.59v0.6h-0.59zM289.21 201.55h1.01v0.6h-1.01zM302.46 201.55h1.18v0.6h-1.18zM271.3 202.8h1.27v0.6h-1.27zM281.34 202.8h1.35v0.6h-1.35zM305.54 202.8h0.9v0.6h-0.9zM286.92 204.05h1.5v0.6h-1.5zM285.34 205.3h0.67v0.6h-0.67zM271.3 206.55h1.34v0.6h-1.34zM272.49 206.55h0.56v0.6h-0.56zM271.85 207.8h0.51v0.6h-0.51zM288.25 207.8h0.97v0.6h-0.97zM293.62 207.8h1.09v0.6h-1.09z" stroke="none" fill="#e8804a" stroke-width="0.5" opacity="0.55"/></g><path d="M272.98 175h0.89v0.6h-0.89zM274.81 175h0.86v0.6h-0.86zM275.52 175h0.77v0.6h-0.77zM276.98 175h0.63v0.6h-0.63zM279.42 175h0.66v0.6h-0.66zM281.08 175h0.83v0.6h-0.83zM282.72 175h0.66v0.6h-0.66zM284.55 175h0.75v0.6h-0.75zM285.78 175h0.52v0.6h-0.52zM287.23 175h0.88v0.6h-0.88zM289.52 175h0.62v0.6h-0.62zM290.27 175h1.13v0.6h-1.13zM292.46 175h0.82v0.6h-0.82zM294.12 175h1.04v0.6h-1.04zM295.63 175h0.95v0.6h-0.95zM297.7 175h0.74v0.6h-0.74zM298.96 175h0.75v0.6h-0.75zM301.24 175h1.12v0.6h-1.12zM303.51 175h1v0.6h-1zM304.9 175h0.73v0.6h-0.73zM272.09 176.37h0.89v0.6h-0.89zM273.38 176.37h0.7v0.6h-0.7zM274.23 176.37h0.91v0.6h-0.91zM275.61 176.37h1.11v0.6h-1.11zM276.59 176.37h0.63v0.6h-0.63zM278.82 176.37h1.17v0.6h-1.17zM279.77 176.37h0.87v0.6h-0.87zM281.5 176.37h0.76v0.6h-0.76zM282.92 176.37h1.2v0.6h-1.2zM284.08 176.37h1.17v0.6h-1.17zM285.61 176.37h0.54v0.6h-0.54zM286.76 176.37h0.59v0.6h-0.59zM287.58 176.37h1v0.6h-1zM288.34 176.37h1.19v0.6h-1.19zM290.8 176.37h0.52v0.6h-0.52zM292.31 176.37h1.05v0.6h-1.05zM293.77 176.37h1.03v0.6h-1.03zM294.97 176.37h0.82v0.6h-0.82zM297.12 176.37h0.83v0.6h-0.83zM297.89 176.37h0.86v0.6h-0.86zM299.15 176.37h0.87v0.6h-0.87zM300.06 176.37h1.01v0.6h-1.01zM301.02 176.37h0.77v0.6h-0.77zM303.04 176.37h0.54v0.6h-0.54zM303.98 176.37h0.64v0.6h-0.64zM304.95 176.37h0.61v0.6h-0.61zM273.64 177.74h0.69v0.6h-0.69zM275.64 177.74h0.66v0.6h-0.66zM276.81 177.74h0.91v0.6h-0.91zM278.01 177.74h0.75v0.6h-0.75zM280.4 177.74h0.53v0.6h-0.53zM282.34 177.74h0.56v0.6h-0.56zM284.27 177.74h0.59v0.6h-0.59zM285.16 177.74h0.96v0.6h-0.96zM286.15 177.74h0.54v0.6h-0.54zM287.3 177.74h1.03v0.6h-1.03zM288.56 177.74h0.94v0.6h-0.94zM289.72 177.74h0.85v0.6h-0.85zM291.07 177.74h0.96v0.6h-0.96zM292.01 177.74h1.09v0.6h-1.09zM293.36 177.74h0.84v0.6h-0.84zM295.65 177.74h0.85v0.6h-0.85zM297.68 177.74h0.66v0.6h-0.66zM300.1 177.74h0.83v0.6h-0.83zM300.87 177.74h0.84v0.6h-0.84zM302.15 177.74h1.18v0.6h-1.18zM304.31 177.74h1.09v0.6h-1.09zM273.17 179.11h0.88v0.6h-0.88zM274.93 179.11h1.01v0.6h-1.01zM276.99 179.11h0.78v0.6h-0.78zM278.59 179.11h0.52v0.6h-0.52zM280.82 179.11h1.14v0.6h-1.14zM282.61 179.11h0.58v0.6h-0.58zM283.86 179.11h0.67v0.6h-0.67zM285.84 179.11h1.02v0.6h-1.02zM286.73 179.11h0.88v0.6h-0.88zM288.61 179.11h1.12v0.6h-1.12zM290.02 179.11h0.85v0.6h-0.85zM291.35 179.11h0.71v0.6h-0.71zM292.35 179.11h1.18v0.6h-1.18zM293.6 179.11h0.77v0.6h-0.77zM294.66 179.11h1.06v0.6h-1.06zM296.11 179.11h0.52v0.6h-0.52zM297.94 179.11h0.59v0.6h-0.59zM298.72 179.11h0.81v0.6h-0.81zM299.82 179.11h0.81v0.6h-0.81zM301.87 179.11h0.81v0.6h-0.81zM303.6 179.11h0.99v0.6h-0.99zM304.92 179.11h0.69v0.6h-0.69zM272.98 180.49h0.65v0.6h-0.65zM275.27 180.49h0.51v0.6h-0.51zM276.23 180.49h0.83v0.6h-0.83zM278.18 180.49h0.57v0.6h-0.57zM279.42 180.49h1.1v0.6h-1.1zM280.2 180.49h0.64v0.6h-0.64zM281.14 180.49h0.66v0.6h-0.66zM281.97 180.49h0.71v0.6h-0.71zM284.27 180.49h0.8v0.6h-0.8zM286.22 180.49h0.97v0.6h-0.97zM287.88 180.49h0.98v0.6h-0.98zM289.11 180.49h0.56v0.6h-0.56zM291.07 180.49h0.61v0.6h-0.61zM292.17 180.49h1.17v0.6h-1.17zM294.06 180.49h0.8v0.6h-0.8zM296.18 180.49h0.76v0.6h-0.76zM298.03 180.49h1v0.6h-1zM300.13 180.49h0.65v0.6h-0.65zM301.73 180.49h0.55v0.6h-0.55zM303.29 180.49h1.14v0.6h-1.14zM305.13 180.49h0.95v0.6h-0.95zM273.66 181.86h1.01v0.6h-1.01zM275.74 181.86h0.58v0.6h-0.58zM276.51 181.86h0.52v0.6h-0.52zM278.33 181.86h0.71v0.6h-0.71zM279.21 181.86h1.14v0.6h-1.14zM281.65 181.86h0.53v0.6h-0.53zM284.07 181.86h1.18v0.6h-1.18zM286.39 181.86h0.75v0.6h-0.75zM287.25 181.86h0.83v0.6h-0.83zM288.74 181.86h0.83v0.6h-0.83zM290.25 181.86h0.85v0.6h-0.85zM291.65 181.86h0.73v0.6h-0.73zM293.16 181.86h0.88v0.6h-0.88zM294.99 181.86h0.96v0.6h-0.96zM296.03 181.86h0.55v0.6h-0.55zM297.69 181.86h0.85v0.6h-0.85zM299.24 181.86h0.83v0.6h-0.83zM300.91 181.86h0.61v0.6h-0.61zM302.24 181.86h1.01v0.6h-1.01zM303.84 181.86h1.07v0.6h-1.07zM305.39 181.86h0.61v0.6h-0.61zM272.93 183.23h0.98v0.6h-0.98zM274.23 183.23h0.59v0.6h-0.59zM276.43 183.23h0.77v0.6h-0.77zM278.66 183.23h0.69v0.6h-0.69zM279.61 183.23h0.78v0.6h-0.78zM281.07 183.23h1.01v0.6h-1.01zM283.49 183.23h0.63v0.6h-0.63zM284.68 183.23h0.52v0.6h-0.52zM286.37 183.23h0.82v0.6h-0.82zM287.23 183.23h1.05v0.6h-1.05zM288.96 183.23h0.95v0.6h-0.95zM291.2 183.23h0.79v0.6h-0.79zM293.55 183.23h1.04v0.6h-1.04zM294.54 183.23h0.89v0.6h-0.89zM296.73 183.23h0.67v0.6h-0.67zM298.29 183.23h1.12v0.6h-1.12zM300.53 183.23h0.54v0.6h-0.54zM301.97 183.23h0.68v0.6h-0.68zM303.83 183.23h0.72v0.6h-0.72zM305.44 183.23h0.61v0.6h-0.61zM272.86 210.1h1.11v0.6h-1.11zM275.09 210.1h0.81v0.6h-0.81zM276.94 210.1h0.64v0.6h-0.64zM278.98 210.1h0.62v0.6h-0.62zM279.77 210.1h1.18v0.6h-1.18zM281.79 210.1h1.04v0.6h-1.04zM283.6 210.1h1.12v0.6h-1.12zM285.84 210.1h0.78v0.6h-0.78zM287.02 210.1h0.72v0.6h-0.72zM288.35 210.1h0.55v0.6h-0.55zM289.14 210.1h1.02v0.6h-1.02zM291.22 210.1h1.18v0.6h-1.18zM293.34 210.1h1.03v0.6h-1.03zM294.69 210.1h1.01v0.6h-1.01zM296.33 210.1h0.54v0.6h-0.54zM298.24 210.1h1.16v0.6h-1.16zM300.3 210.1h0.67v0.6h-0.67zM302.05 210.1h0.92v0.6h-0.92zM304.23 210.1h1.09v0.6h-1.09zM273.53 211.56h1.11v0.6h-1.11zM274.5 211.56h0.7v0.6h-0.7zM275.99 211.56h0.55v0.6h-0.55zM277.69 211.56h0.91v0.6h-0.91zM279.59 211.56h0.71v0.6h-0.71zM280.65 211.56h1v0.6h-1zM282.91 211.56h0.95v0.6h-0.95zM283.79 211.56h0.97v0.6h-0.97zM284.73 211.56h0.72v0.6h-0.72zM286.56 211.56h0.57v0.6h-0.57zM288.64 211.56h1.19v0.6h-1.19zM289.45 211.56h0.93v0.6h-0.93zM291.26 211.56h0.78v0.6h-0.78zM292.47 211.56h0.75v0.6h-0.75zM293.58 211.56h0.67v0.6h-0.67zM295.82 211.56h0.78v0.6h-0.78zM296.67 211.56h0.55v0.6h-0.55zM298.73 211.56h0.53v0.6h-0.53zM300.05 211.56h1.15v0.6h-1.15zM302.52 211.56h0.84v0.6h-0.84zM303.66 211.56h0.64v0.6h-0.64zM304.97 211.56h0.94v0.6h-0.94zM272.47 213.02h0.85v0.6h-0.85zM274.76 213.02h0.63v0.6h-0.63zM277.23 213.02h0.57v0.6h-0.57zM278.48 213.02h0.81v0.6h-0.81zM279.19 213.02h0.88v0.6h-0.88zM280.79 213.02h0.54v0.6h-0.54zM281.7 213.02h0.76v0.6h-0.76zM283.04 213.02h0.63v0.6h-0.63zM284.47 213.02h1.03v0.6h-1.03zM285.52 213.02h0.7v0.6h-0.7zM287.79 213.02h0.54v0.6h-0.54zM289.1 213.02h0.87v0.6h-0.87zM290.85 213.02h0.64v0.6h-0.64zM292.78 213.02h1.01v0.6h-1.01zM294.2 213.02h1.14v0.6h-1.14zM296.09 213.02h0.8v0.6h-0.8zM297.21 213.02h0.61v0.6h-0.61zM299.35 213.02h0.56v0.6h-0.56zM300.37 213.02h0.92v0.6h-0.92zM301.44 213.02h0.77v0.6h-0.77zM302.31 213.02h1v0.6h-1zM303.25 213.02h0.6v0.6h-0.6zM304.22 213.02h0.65v0.6h-0.65zM305.5 213.02h1.05v0.6h-1.05zM272.13 214.49h1.02v0.6h-1.02zM273.19 214.49h0.88v0.6h-0.88zM274.45 214.49h0.7v0.6h-0.7zM275.67 214.49h0.7v0.6h-0.7zM277.32 214.49h0.88v0.6h-0.88zM278.58 214.49h0.62v0.6h-0.62zM280.93 214.49h0.69v0.6h-0.69zM283.33 214.49h0.51v0.6h-0.51zM285.78 214.49h1.05v0.6h-1.05zM286.99 214.49h0.59v0.6h-0.59zM288.97 214.49h0.56v0.6h-0.56zM290.38 214.49h1v0.6h-1zM292.25 214.49h0.88v0.6h-0.88zM293.56 214.49h0.59v0.6h-0.59zM295.76 214.49h0.76v0.6h-0.76zM298.14 214.49h0.76v0.6h-0.76zM300.21 214.49h0.9v0.6h-0.9zM301.34 214.49h0.97v0.6h-0.97zM303.1 214.49h0.54v0.6h-0.54zM304.22 214.49h0.79v0.6h-0.79zM272.45 215.95h0.65v0.6h-0.65zM273.89 215.95h1.14v0.6h-1.14zM275.05 215.95h0.69v0.6h-0.69zM276.02 215.95h0.65v0.6h-0.65zM277.38 215.95h0.81v0.6h-0.81zM279.14 215.95h0.59v0.6h-0.59zM280.53 215.95h0.92v0.6h-0.92zM282.46 215.95h1.05v0.6h-1.05zM283.86 215.95h1.13v0.6h-1.13zM284.91 215.95h0.53v0.6h-0.53zM285.98 215.95h0.83v0.6h-0.83zM288.02 215.95h0.65v0.6h-0.65zM288.91 215.95h0.59v0.6h-0.59zM291.03 215.95h0.57v0.6h-0.57zM292.79 215.95h1.09v0.6h-1.09zM293.78 215.95h0.92v0.6h-0.92zM296.02 215.95h0.82v0.6h-0.82zM297.84 215.95h0.64v0.6h-0.64zM300.02 215.95h0.78v0.6h-0.78zM301.29 215.95h0.89v0.6h-0.89zM302.57 215.95h1.14v0.6h-1.14zM303.51 215.95h0.62v0.6h-0.62zM272.14 217.41h0.63v0.6h-0.63zM273.37 217.41h0.95v0.6h-0.95zM274.86 217.41h1.06v0.6h-1.06zM277.06 217.41h1.12v0.6h-1.12zM278.01 217.41h0.84v0.6h-0.84zM279.61 217.41h0.75v0.6h-0.75zM281.19 217.41h0.74v0.6h-0.74zM282.23 217.41h1.13v0.6h-1.13zM283.33 217.41h1v0.6h-1zM284.27 217.41h0.8v0.6h-0.8zM286.65 217.41h0.74v0.6h-0.74zM288.06 217.41h0.53v0.6h-0.53zM289.25 217.41h1.19v0.6h-1.19zM291.09 217.41h0.77v0.6h-0.77zM292.25 217.41h0.7v0.6h-0.7zM294.16 217.41h0.98v0.6h-0.98zM294.96 217.41h0.6v0.6h-0.6zM296.99 217.41h0.56v0.6h-0.56zM299.26 217.41h1.13v0.6h-1.13zM300.4 217.41h1.05v0.6h-1.05zM302.38 217.41h1.02v0.6h-1.02zM304.54 217.41h0.96v0.6h-0.96zM272.64 218.88h1.16v0.6h-1.16zM273.78 218.88h0.51v0.6h-0.51zM274.67 218.88h1.04v0.6h-1.04zM275.88 218.88h1.2v0.6h-1.2zM276.8 218.88h1.14v0.6h-1.14zM278.85 218.88h0.76v0.6h-0.76zM279.72 218.88h0.61v0.6h-0.61zM281.08 218.88h1.18v0.6h-1.18zM283.32 218.88h1.04v0.6h-1.04zM284.78 218.88h0.69v0.6h-0.69zM286.68 218.88h0.66v0.6h-0.66zM288.16 218.88h0.82v0.6h-0.82zM289.5 218.88h1.06v0.6h-1.06zM291.12 218.88h0.65v0.6h-0.65zM292.44 218.88h0.94v0.6h-0.94zM294.71 218.88h0.83v0.6h-0.83zM295.99 218.88h0.73v0.6h-0.73zM297.9 218.88h1.09v0.6h-1.09zM300.16 218.88h0.53v0.6h-0.53zM302.41 218.88h1.08v0.6h-1.08zM304.53 218.88h1.02v0.6h-1.02zM273.18 220.34h0.73v0.6h-0.73zM275.42 220.34h1.14v0.6h-1.14zM277.77 220.34h1.18v0.6h-1.18zM278.57 220.34h1.15v0.6h-1.15zM280.47 220.34h0.93v0.6h-0.93zM282.91 220.34h0.52v0.6h-0.52zM284.76 220.34h1.03v0.6h-1.03zM287.16 220.34h0.59v0.6h-0.59zM288.56 220.34h0.68v0.6h-0.68zM289.28 220.34h0.94v0.6h-0.94zM290.18 220.34h1v0.6h-1zM290.89 220.34h0.77v0.6h-0.77zM292.03 220.34h0.94v0.6h-0.94zM293.89 220.34h1.19v0.6h-1.19zM294.88 220.34h0.86v0.6h-0.86zM296.03 220.34h1.17v0.6h-1.17zM297.62 220.34h0.76v0.6h-0.76zM298.8 220.34h0.88v0.6h-0.88zM300.11 220.34h0.85v0.6h-0.85zM301.65 220.34h1.05v0.6h-1.05zM303.6 220.34h0.97v0.6h-0.97zM305.36 220.34h0.64v0.6h-0.64z" stroke="none" fill="#1a1a1a" stroke-width="0.5" opacity="0.88"/><line x1="271.3" y1="184.4" x2="306.6" y2="184.4" stroke="#333" stroke-width="0.8" stroke-dasharray="0.9 0.5"/><line x1="271.3" y1="210.2" x2="306.6" y2="210.2" stroke="#333" stroke-width="0.8" stroke-dasharray="0.9 0.5"/><rect x="271.3" y="225.2" width="35.3" height="17.5" fill="#fff" stroke="#777" stroke-width="0.4" /><polygon points="271.3,242.7 271.3,236.92 271.55,237.08 271.8,237.24 272.06,237.4 272.31,237.56 272.56,237.72 272.81,237.88 273.06,238.04 273.32,238.19 273.57,238.35 273.82,238.51 274.07,238.67 274.33,238.83 274.58,238.99 274.83,239.15 275.08,239.3 275.33,239.46 275.59,239.62 275.84,239.78 276.09,239.94 276.34,240.1 276.6,240.26 276.85,240.42 277.1,240.57 277.35,240.73 277.6,240.89 277.86,241.05 278.11,241.21 278.36,241.37 278.61,241.53 278.86,241.68 279.12,241.84 279.37,242 279.62,242.16 279.87,242.32 280.12,242.43 280.38,242.44 280.63,242.44 280.88,242.44 281.13,242.44 281.39,242.44 281.64,242.44 281.89,242.44 282.14,242.44 282.39,242.44 282.65,242.44 282.9,242.44 283.15,242.44 283.4,242.44 283.66,242.44 283.91,242.44 284.16,242.44 284.41,242.13 284.66,241.77 284.92,241.41 285.17,241.06 285.42,240.7 285.67,240.34 285.92,239.99 286.18,239.63 286.43,239.27 286.68,238.91 286.93,238.56 287.19,238.2 287.44,237.84 287.69,237.49 287.94,237.13 288.19,236.77 288.45,236.41 288.7,236.06 288.95,235.7 289.2,235.89 289.45,236.08 289.71,236.28 289.96,236.47 290.21,236.66 290.46,236.85 290.72,237.05 290.97,237.24 291.22,237.43 291.47,237.62 291.72,237.82 291.98,238.01 292.23,238.2 292.48,238.39 292.73,238.58 292.98,238.78 293.24,238.97 293.49,239.16 293.74,239.35 293.99,239.55 294.25,239.74 294.5,239.93 294.75,240.12 295,240.32 295.25,240.51 295.51,240.7 295.76,240.89 296.01,241.08 296.26,241.28 296.51,241.47 296.77,241.66 297.02,241.85 297.27,242.05 297.52,242.24 297.78,242.36 298.03,242.44 298.28,242.44 298.53,242.44 298.78,242.44 299.04,242.44 299.29,242.44 299.54,242.44 299.79,242.44 300.04,242.44 300.3,242.44 300.55,242.44 300.8,242.44 301.05,242.44 301.31,242.44 301.56,242.44 301.81,242.43 302.06,241.99 302.31,241.54 302.57,241.09 302.82,240.65 303.07,240.2 303.32,239.75 303.57,239.31 303.83,238.86 304.08,238.41 304.33,237.97 304.58,237.52 304.84,237.07 305.09,236.63 305.34,236.18 305.59,235.74 305.84,235.29 306.1,234.84 306.35,234.4 306.6,233.95 306.6,242.7" fill="#e8783a" stroke="none" stroke-width="0.5" /><rect x="271.3" y="225.2" width="35.3" height="17.5" fill="none" stroke="#666" stroke-width="0.4" /><text x="271.3" y="247.6" font-size="3.9" text-anchor="middle" font-weight="normal" fill="#222" stroke="#222" stroke-width="0.05" style="">0</text><text x="288.95" y="247.6" font-size="3.9" text-anchor="middle" font-weight="normal" fill="#222" stroke="#222" stroke-width="0.05" style="">100</text><text x="306.6" y="247.6" font-size="3.9" text-anchor="middle" font-weight="normal" fill="#222" stroke="#222" stroke-width="0.05" style="">200</text><text x="288.95" y="252.4" font-size="4.08" text-anchor="middle" font-weight="normal" fill="#222" textLength="16.6" lengthAdjust="spacingAndGlyphs" stroke="#222" stroke-width="0.06" style="">Time, ms</text><text x="331.55" y="164.2" font-size="4" text-anchor="middle" font-weight="normal" fill="#333" textLength="13.5" lengthAdjust="spacingAndGlyphs" stroke="#333" stroke-width="0.02" style="">1.0 mA</text><polyline points="313.8,167.4 314.24,167.43 314.67,167.54 315.11,167.71 315.55,167.93 315.98,168.22 316.42,168.55 316.85,168.93 317.29,169.33 317.73,169.76 318.16,170.2 318.6,170.64 319.04,171.07 319.47,171.47 319.91,171.85 320.34,172.18 320.78,172.47 321.22,172.69 321.65,172.86 322.09,172.97 322.52,173 322.96,172.97 323.4,172.86 323.83,172.69 324.27,172.47 324.71,172.18 325.14,171.85 325.58,171.47 326.01,171.07 326.45,170.64 326.89,170.2 327.32,169.76 327.76,169.33 328.2,168.93 328.63,168.55 329.07,168.22 329.5,167.93 329.94,167.71 330.38,167.54 330.81,167.43 331.25,167.4 331.69,167.43 332.12,167.54 332.56,167.71 333,167.93 333.43,168.22 333.87,168.55 334.3,168.93 334.74,169.33 335.18,169.76 335.61,170.2 336.05,170.64 336.49,171.07 336.92,171.47 337.36,171.85 337.79,172.18 338.23,172.47 338.67,172.69 339.1,172.86 339.54,172.97 339.98,173 340.41,172.97 340.85,172.86 341.28,172.69 341.72,172.47 342.16,172.18 342.59,171.85 343.03,171.47 343.46,171.07 343.9,170.64 344.34,170.2 344.77,169.76 345.21,169.33 345.65,168.93 346.08,168.55 346.52,168.22 346.95,167.93 347.39,167.71 347.83,167.54 348.26,167.43 348.7,167.4" stroke="#555" fill="none" stroke-width="0.6" stroke-linejoin="round" /><rect x="313.8" y="174.4" width="34.9" height="47.8" fill="#fff" stroke="#777" stroke-width="0.4" /><g clip-path="url(#eclip1)"><ellipse cx="313.8" cy="196" rx="2.2" ry="11" fill="#f4a070" stroke="none" stroke-width="0.5" filter="url(#bl1)" opacity="0.19"/><ellipse cx="331.25" cy="196" rx="2.2" ry="11" fill="#f4a070" stroke="none" stroke-width="0.5" filter="url(#bl1)" opacity="0.19"/><ellipse cx="348.7" cy="196" rx="2.2" ry="11" fill="#f4a070" stroke="none" stroke-width="0.5" filter="url(#bl1)" opacity="0.19"/><path d="M315.03 185.3h1.16v0.6h-1.16zM329.58 185.3h1.58v0.6h-1.58zM330.42 185.3h0.95v0.6h-0.95zM333.05 185.3h1.26v0.6h-1.26zM314.08 186.55h1.37v0.6h-1.37zM318.18 186.55h1.07v0.6h-1.07zM331.94 186.55h1.04v0.6h-1.04zM343.54 186.55h1.49v0.6h-1.49zM331.05 187.8h0.5v0.6h-0.5zM315.08 189.05h1.12v0.6h-1.12zM328.49 189.05h1.35v0.6h-1.35zM331.29 189.05h1.29v0.6h-1.29zM332.9 189.05h0.99v0.6h-0.99zM339.19 189.05h0.73v0.6h-0.73zM316.27 190.3h1.5v0.6h-1.5zM328.71 190.3h0.77v0.6h-0.77zM332.5 190.3h0.62v0.6h-0.62zM335.47 190.3h1.45v0.6h-1.45zM343.39 190.3h0.96v0.6h-0.96zM346.47 190.3h0.92v0.6h-0.92zM330.9 191.55h1.22v0.6h-1.22zM331.96 191.55h1.29v0.6h-1.29zM336.79 191.55h0.72v0.6h-0.72zM313.97 192.8h1.23v0.6h-1.23zM331.96 192.8h1.36v0.6h-1.36zM333.5 192.8h1.18v0.6h-1.18zM347.65 192.8h1.14v0.6h-1.14zM331.67 194.05h1.03v0.6h-1.03zM347.55 194.05h1.22v0.6h-1.22zM314.09 195.3h0.95v0.6h-0.95zM316.83 196.55h0.92v0.6h-0.92zM332.53 196.55h1.41v0.6h-1.41zM347.65 196.55h1.13v0.6h-1.13zM332.14 197.8h0.67v0.6h-0.67zM347.65 197.8h1.04v0.6h-1.04zM314.46 199.05h0.72v0.6h-0.72zM316.02 199.05h1.52v0.6h-1.52zM331.98 199.05h1.51v0.6h-1.51zM347.5 199.05h1.51v0.6h-1.51zM330.42 200.3h0.61v0.6h-0.61zM331.51 200.3h1.49v0.6h-1.49zM319.39 202.8h0.96v0.6h-0.96zM333.7 202.8h0.75v0.6h-0.75zM346.09 202.8h1.48v0.6h-1.48zM347.65 202.8h1.45v0.6h-1.45zM321.34 204.05h0.73v0.6h-0.73zM332.18 204.05h1.29v0.6h-1.29zM344.17 204.05h1.47v0.6h-1.47zM313.8 205.3h1.28v0.6h-1.28zM315.6 205.3h0.76v0.6h-0.76zM330.8 205.3h0.75v0.6h-0.75zM347.65 205.3h1.24v0.6h-1.24z" stroke="none" fill="#f0a070" stroke-width="0.5" opacity="0.75"/><path d="M328.81 185.3h0.91v0.6h-0.91zM334.14 185.3h0.57v0.6h-0.57zM331.08 186.55h0.95v0.6h-0.95zM334.61 186.55h1.57v0.6h-1.57zM347.65 186.55h1.59v0.6h-1.59zM330.26 187.8h1.44v0.6h-1.44zM344.69 187.8h1.18v0.6h-1.18zM314.41 189.05h0.51v0.6h-0.51zM334.22 189.05h0.59v0.6h-0.59zM313.88 190.3h0.56v0.6h-0.56zM331.26 190.3h1.13v0.6h-1.13zM331.93 190.3h0.96v0.6h-0.96zM347.65 190.3h1.34v0.6h-1.34zM314.83 191.55h0.64v0.6h-0.64zM315.45 191.55h0.64v0.6h-0.64zM329.73 191.55h1.19v0.6h-1.19zM330.11 192.8h0.53v0.6h-0.53zM315.23 194.05h0.75v0.6h-0.75zM330.65 194.05h0.95v0.6h-0.95zM346.65 194.05h1.49v0.6h-1.49zM347.65 194.05h0.61v0.6h-0.61zM315.05 195.3h1.44v0.6h-1.44zM328.94 195.3h1.32v0.6h-1.32zM331.33 195.3h0.75v0.6h-0.75zM333.46 195.3h0.62v0.6h-0.62zM329.3 196.55h0.52v0.6h-0.52zM330.08 196.55h0.7v0.6h-0.7zM331.86 196.55h1.26v0.6h-1.26zM331.32 197.8h0.89v0.6h-0.89zM315.28 199.05h1.07v0.6h-1.07zM332.8 199.05h0.5v0.6h-0.5zM347.65 199.05h0.59v0.6h-0.59zM339.52 200.3h0.62v0.6h-0.62zM347.46 200.3h0.56v0.6h-0.56zM333.42 201.55h0.72v0.6h-0.72zM347.65 201.55h0.99v0.6h-0.99zM327.7 202.8h0.87v0.6h-0.87zM331.35 202.8h0.87v0.6h-0.87zM313.8 204.05h0.85v0.6h-0.85zM320.6 204.05h0.98v0.6h-0.98zM329.18 204.05h1.57v0.6h-1.57zM330.46 204.05h0.81v0.6h-0.81zM327.8 205.3h1.4v0.6h-1.4zM331.56 205.3h1.27v0.6h-1.27zM347.28 205.3h1.1v0.6h-1.1zM347.65 205.3h0.98v0.6h-0.98z" stroke="none" fill="#e8804a" stroke-width="0.5" opacity="0.75"/><path d="M331.81 185.3h0.68v0.6h-0.68zM347.65 185.3h1.44v0.6h-1.44zM330.06 186.55h1.57v0.6h-1.57zM347.65 186.55h1.5v0.6h-1.5zM315.26 187.8h0.67v0.6h-0.67zM341.6 187.8h0.81v0.6h-0.81zM346.74 187.8h0.68v0.6h-0.68zM347.65 187.8h1.31v0.6h-1.31zM329.48 189.05h0.85v0.6h-0.85zM331.72 189.05h1.41v0.6h-1.41zM347.65 189.05h0.89v0.6h-0.89zM329.16 190.3h0.59v0.6h-0.59zM329.91 190.3h0.93v0.6h-0.93zM347.65 190.3h1.23v0.6h-1.23zM314.21 191.55h0.7v0.6h-0.7zM347.65 192.8h1.25v0.6h-1.25zM347.65 192.8h1.06v0.6h-1.06zM314.12 194.05h0.59v0.6h-0.59zM347.04 195.3h0.52v0.6h-0.52zM314.83 196.55h1.35v0.6h-1.35zM331.01 196.55h1.15v0.6h-1.15zM345.94 196.55h1.07v0.6h-1.07zM347.65 196.55h1.03v0.6h-1.03zM313.8 197.8h1.34v0.6h-1.34zM314.54 197.8h0.68v0.6h-0.68zM315.51 197.8h1.26v0.6h-1.26zM341.84 197.8h0.91v0.6h-0.91zM347.31 197.8h1.56v0.6h-1.56zM347.65 197.8h0.64v0.6h-0.64zM330.59 199.05h1.35v0.6h-1.35zM347.65 199.05h1.07v0.6h-1.07zM313.94 200.3h0.71v0.6h-0.71zM332.3 200.3h0.73v0.6h-0.73zM334.06 200.3h1.15v0.6h-1.15zM347.65 200.3h1.21v0.6h-1.21zM330.55 201.55h1.03v0.6h-1.03zM347.65 201.55h0.66v0.6h-0.66zM315.62 202.8h1.19v0.6h-1.19zM347.65 202.8h0.93v0.6h-0.93zM315.24 204.05h1.33v0.6h-1.33zM317.6 204.05h1.56v0.6h-1.56zM329.78 204.05h1.52v0.6h-1.52zM331.26 204.05h1.52v0.6h-1.52zM342.8 204.05h1.43v0.6h-1.43zM347.46 204.05h0.83v0.6h-0.83zM314.46 205.3h0.8v0.6h-0.8zM330.06 205.3h1.24v0.6h-1.24zM332.69 205.3h1.12v0.6h-1.12zM334.15 205.3h1.4v0.6h-1.4zM347.65 205.3h1.4v0.6h-1.4z" stroke="none" fill="#e06a30" stroke-width="0.5" opacity="0.75"/><path d="M344.7 185.3h1.01v0.6h-1.01zM347.45 185.3h0.77v0.6h-0.77zM314.96 186.55h0.87v0.6h-0.87zM313.8 187.8h1.25v0.6h-1.25zM314.13 187.8h0.76v0.6h-0.76zM318.41 187.8h0.93v0.6h-0.93zM322.58 187.8h1.08v0.6h-1.08zM329.19 187.8h0.6v0.6h-0.6zM324.47 189.05h0.54v0.6h-0.54zM330.46 189.05h1.07v0.6h-1.07zM342.3 189.05h1.6v0.6h-1.6zM347.55 189.05h1.47v0.6h-1.47zM347.65 189.05h1.04v0.6h-1.04zM315.07 190.3h0.75v0.6h-0.75zM324.31 190.3h0.91v0.6h-0.91zM333.43 190.3h0.71v0.6h-0.71zM347.65 190.3h1.08v0.6h-1.08zM331.43 191.55h1.34v0.6h-1.34zM347.27 191.55h0.78v0.6h-0.78zM347.65 191.55h1.52v0.6h-1.52zM347.65 191.55h1.58v0.6h-1.58zM314.92 192.8h1.54v0.6h-1.54zM315.4 192.8h1.29v0.6h-1.29zM329.19 192.8h1.45v0.6h-1.45zM330.95 192.8h1.27v0.6h-1.27zM320.21 194.05h0.54v0.6h-0.54zM332.94 194.05h1.1v0.6h-1.1zM339.25 194.05h1.4v0.6h-1.4zM347.65 194.05h1.6v0.6h-1.6zM347.65 195.3h0.75v0.6h-0.75zM347.65 195.3h1v0.6h-1zM313.91 196.55h0.88v0.6h-0.88zM315.88 196.55h0.82v0.6h-0.82zM333.76 196.55h1.4v0.6h-1.4zM335.54 196.55h1.5v0.6h-1.5zM347.08 196.55h1.05v0.6h-1.05zM316.81 197.8h0.67v0.6h-0.67zM331.12 199.05h1.48v0.6h-1.48zM333.53 199.05h0.95v0.6h-0.95zM315.03 200.3h0.63v0.6h-0.63zM333.2 200.3h1.48v0.6h-1.48zM345.42 200.3h0.77v0.6h-0.77zM347.65 200.3h1.09v0.6h-1.09zM315.17 201.55h0.81v0.6h-0.81zM328.68 202.8h0.82v0.6h-0.82zM330.04 202.8h0.52v0.6h-0.52zM330.56 202.8h1.36v0.6h-1.36zM332.47 202.8h1.56v0.6h-1.56zM314.34 204.05h1.23v0.6h-1.23zM344.95 204.05h0.57v0.6h-0.57zM347.65 204.05h1.48v0.6h-1.48zM320.68 205.3h0.87v0.6h-0.87zM346.73 205.3h1.5v0.6h-1.5z" stroke="none" fill="#f4b890" stroke-width="0.5" opacity="0.75"/></g><path d="M315.1 175h1.12v0.6h-1.12zM317.15 175h1.16v0.6h-1.16zM318.32 175h1.08v0.6h-1.08zM319.56 175h0.69v0.6h-0.69zM321.31 175h1.16v0.6h-1.16zM322.8 175h0.98v0.6h-0.98zM323.83 175h0.89v0.6h-0.89zM325.98 175h0.91v0.6h-0.91zM327.69 175h0.65v0.6h-0.65zM329.24 175h1.19v0.6h-1.19zM331.57 175h0.74v0.6h-0.74zM332.8 175h1.19v0.6h-1.19zM334.65 175h0.91v0.6h-0.91zM335.75 175h0.67v0.6h-0.67zM337.86 175h0.58v0.6h-0.58zM339.68 175h0.9v0.6h-0.9zM341.49 175h0.9v0.6h-0.9zM343.59 175h0.54v0.6h-0.54zM344.34 175h0.92v0.6h-0.92zM345.28 175h1.18v0.6h-1.18zM346.91 175h0.74v0.6h-0.74zM315.17 176.37h1.01v0.6h-1.01zM316.44 176.37h0.53v0.6h-0.53zM318.4 176.37h1v0.6h-1zM320.2 176.37h1.01v0.6h-1.01zM322.59 176.37h0.86v0.6h-0.86zM324.96 176.37h0.82v0.6h-0.82zM326.37 176.37h0.54v0.6h-0.54zM327.91 176.37h0.67v0.6h-0.67zM328.74 176.37h0.76v0.6h-0.76zM330.2 176.37h0.95v0.6h-0.95zM332.41 176.37h1.01v0.6h-1.01zM334 176.37h0.71v0.6h-0.71zM334.9 176.37h0.63v0.6h-0.63zM336.91 176.37h0.93v0.6h-0.93zM339.23 176.37h0.64v0.6h-0.64zM340.79 176.37h0.85v0.6h-0.85zM342.47 176.37h1.09v0.6h-1.09zM343.38 176.37h1.19v0.6h-1.19zM345.42 176.37h0.54v0.6h-0.54zM347.6 176.37h0.56v0.6h-0.56zM315.79 177.74h1.16v0.6h-1.16zM317.75 177.74h0.7v0.6h-0.7zM320.17 177.74h0.86v0.6h-0.86zM321.99 177.74h0.94v0.6h-0.94zM322.86 177.74h0.96v0.6h-0.96zM324.22 177.74h1.06v0.6h-1.06zM326.39 177.74h0.55v0.6h-0.55zM327.5 177.74h0.52v0.6h-0.52zM329.53 177.74h1.02v0.6h-1.02zM331.24 177.74h0.92v0.6h-0.92zM333.19 177.74h0.7v0.6h-0.7zM334.38 177.74h0.71v0.6h-0.71zM336.7 177.74h0.73v0.6h-0.73zM338.31 177.74h0.81v0.6h-0.81zM339.46 177.74h0.69v0.6h-0.69zM340.21 177.74h0.52v0.6h-0.52zM342.65 177.74h0.67v0.6h-0.67zM344.46 177.74h1.09v0.6h-1.09zM346.06 177.74h1.15v0.6h-1.15zM347.35 177.74h1.06v0.6h-1.06zM314.53 179.11h1.07v0.6h-1.07zM315.45 179.11h1.08v0.6h-1.08zM317.05 179.11h0.62v0.6h-0.62zM318.81 179.11h0.56v0.6h-0.56zM320.09 179.11h1.08v0.6h-1.08zM321.84 179.11h0.94v0.6h-0.94zM323.32 179.11h0.96v0.6h-0.96zM324.06 179.11h1.1v0.6h-1.1zM324.94 179.11h0.89v0.6h-0.89zM326.85 179.11h1.03v0.6h-1.03zM329.11 179.11h0.92v0.6h-0.92zM329.85 179.11h0.53v0.6h-0.53zM331.53 179.11h0.79v0.6h-0.79zM333.31 179.11h0.92v0.6h-0.92zM334.12 179.11h0.6v0.6h-0.6zM336 179.11h1.18v0.6h-1.18zM338.01 179.11h0.71v0.6h-0.71zM339.87 179.11h0.87v0.6h-0.87zM341.15 179.11h1.03v0.6h-1.03zM342.35 179.11h1.02v0.6h-1.02zM344.6 179.11h0.63v0.6h-0.63zM346.52 179.11h1.03v0.6h-1.03zM316.1 180.49h0.81v0.6h-0.81zM317.62 180.49h1.16v0.6h-1.16zM318.73 180.49h0.5v0.6h-0.5zM320.3 180.49h1.2v0.6h-1.2zM321.29 180.49h1.17v0.6h-1.17zM323.72 180.49h0.98v0.6h-0.98zM324.59 180.49h1.04v0.6h-1.04zM326.81 180.49h0.94v0.6h-0.94zM328.26 180.49h0.74v0.6h-0.74zM330.36 180.49h1.03v0.6h-1.03zM331.57 180.49h1.18v0.6h-1.18zM332.49 180.49h0.54v0.6h-0.54zM334.88 180.49h0.94v0.6h-0.94zM336.77 180.49h1.03v0.6h-1.03zM338.21 180.49h0.68v0.6h-0.68zM339.89 180.49h0.59v0.6h-0.59zM341.19 180.49h0.79v0.6h-0.79zM342.52 180.49h0.95v0.6h-0.95zM344.9 180.49h0.89v0.6h-0.89zM346 180.49h0.69v0.6h-0.69zM315.32 181.86h0.53v0.6h-0.53zM316.67 181.86h0.85v0.6h-0.85zM317.44 181.86h0.6v0.6h-0.6zM318.61 181.86h0.56v0.6h-0.56zM320.83 181.86h0.78v0.6h-0.78zM321.78 181.86h1.05v0.6h-1.05zM322.83 181.86h0.74v0.6h-0.74zM325.03 181.86h0.91v0.6h-0.91zM326.04 181.86h0.52v0.6h-0.52zM327.76 181.86h1.15v0.6h-1.15zM329.11 181.86h0.59v0.6h-0.59zM330.71 181.86h1.17v0.6h-1.17zM332.2 181.86h0.63v0.6h-0.63zM334.21 181.86h1.02v0.6h-1.02zM335.77 181.86h0.82v0.6h-0.82zM336.52 181.86h1.09v0.6h-1.09zM337.8 181.86h0.65v0.6h-0.65zM340.11 181.86h0.91v0.6h-0.91zM341.02 181.86h0.96v0.6h-0.96zM342.63 181.86h0.9v0.6h-0.9zM344.34 181.86h1.03v0.6h-1.03zM346.69 181.86h1.06v0.6h-1.06zM315.17 183.23h0.71v0.6h-0.71zM315.96 183.23h0.85v0.6h-0.85zM316.88 183.23h0.51v0.6h-0.51zM317.74 183.23h0.89v0.6h-0.89zM319.22 183.23h1.14v0.6h-1.14zM320.72 183.23h1.07v0.6h-1.07zM321.47 183.23h0.73v0.6h-0.73zM323.43 183.23h0.66v0.6h-0.66zM324.98 183.23h1.04v0.6h-1.04zM325.79 183.23h1.02v0.6h-1.02zM326.72 183.23h0.91v0.6h-0.91zM327.42 183.23h0.75v0.6h-0.75zM329.46 183.23h1.06v0.6h-1.06zM331.14 183.23h0.59v0.6h-0.59zM332.91 183.23h1.16v0.6h-1.16zM334.04 183.23h0.73v0.6h-0.73zM335.33 183.23h0.81v0.6h-0.81zM336.18 183.23h0.53v0.6h-0.53zM338.45 183.23h0.7v0.6h-0.7zM339.56 183.23h0.7v0.6h-0.7zM341.1 183.23h0.84v0.6h-0.84zM342.79 183.23h0.79v0.6h-0.79zM344.69 183.23h0.75v0.6h-0.75zM345.8 183.23h0.7v0.6h-0.7zM315.12 207.6h0.63v0.6h-0.63zM316.84 207.6h0.93v0.6h-0.93zM317.79 207.6h0.69v0.6h-0.69zM320.01 207.6h0.6v0.6h-0.6zM320.78 207.6h1.09v0.6h-1.09zM322.95 207.6h1.03v0.6h-1.03zM324.85 207.6h1.01v0.6h-1.01zM326.6 207.6h0.54v0.6h-0.54zM328.45 207.6h0.71v0.6h-0.71zM329.9 207.6h0.58v0.6h-0.58zM331.44 207.6h0.65v0.6h-0.65zM332.83 207.6h0.78v0.6h-0.78zM333.81 207.6h1.12v0.6h-1.12zM334.77 207.6h1v0.6h-1zM336.16 207.6h0.75v0.6h-0.75zM337.79 207.6h0.56v0.6h-0.56zM338.91 207.6h0.93v0.6h-0.93zM339.82 207.6h0.94v0.6h-0.94zM340.57 207.6h0.74v0.6h-0.74zM342.65 207.6h0.85v0.6h-0.85zM343.93 207.6h1.03v0.6h-1.03zM345.85 207.6h0.56v0.6h-0.56zM347.52 207.6h1.06v0.6h-1.06zM315.95 209.02h0.95v0.6h-0.95zM316.94 209.02h1.01v0.6h-1.01zM318.99 209.02h1.08v0.6h-1.08zM320.96 209.02h1.09v0.6h-1.09zM321.96 209.02h1.09v0.6h-1.09zM323.81 209.02h1.08v0.6h-1.08zM325.74 209.02h0.68v0.6h-0.68zM327.45 209.02h0.9v0.6h-0.9zM329.63 209.02h0.84v0.6h-0.84zM331.93 209.02h1.01v0.6h-1.01zM334.19 209.02h0.51v0.6h-0.51zM335.42 209.02h0.98v0.6h-0.98zM337.57 209.02h0.98v0.6h-0.98zM338.98 209.02h0.95v0.6h-0.95zM340.53 209.02h0.87v0.6h-0.87zM341.57 209.02h0.81v0.6h-0.81zM342.55 209.02h1.15v0.6h-1.15zM344.21 209.02h0.6v0.6h-0.6zM346.35 209.02h0.67v0.6h-0.67zM315.04 210.44h0.68v0.6h-0.68zM316.93 210.44h0.52v0.6h-0.52zM318.53 210.44h0.51v0.6h-0.51zM319.48 210.44h0.99v0.6h-0.99zM321.45 210.44h1.16v0.6h-1.16zM322.69 210.44h0.57v0.6h-0.57zM324.3 210.44h0.81v0.6h-0.81zM325.17 210.44h0.58v0.6h-0.58zM326.41 210.44h0.83v0.6h-0.83zM327.32 210.44h0.83v0.6h-0.83zM329.13 210.44h0.63v0.6h-0.63zM331.38 210.44h1.14v0.6h-1.14zM333.79 210.44h0.9v0.6h-0.9zM335.61 210.44h0.72v0.6h-0.72zM336.99 210.44h0.54v0.6h-0.54zM338.56 210.44h0.79v0.6h-0.79zM339.76 210.44h0.72v0.6h-0.72zM341.58 210.44h1.07v0.6h-1.07zM343.58 210.44h0.88v0.6h-0.88zM344.35 210.44h0.61v0.6h-0.61zM345.73 210.44h0.9v0.6h-0.9zM316 211.86h0.95v0.6h-0.95zM317.61 211.86h1.12v0.6h-1.12zM318.57 211.86h1v0.6h-1zM320.38 211.86h0.56v0.6h-0.56zM321.47 211.86h0.82v0.6h-0.82zM323.57 211.86h0.95v0.6h-0.95zM324.5 211.86h0.67v0.6h-0.67zM326.42 211.86h0.81v0.6h-0.81zM327.18 211.86h1.01v0.6h-1.01zM328.75 211.86h0.78v0.6h-0.78zM329.99 211.86h0.53v0.6h-0.53zM332.1 211.86h0.84v0.6h-0.84zM333.28 211.86h0.51v0.6h-0.51zM334.84 211.86h0.85v0.6h-0.85zM336.48 211.86h0.65v0.6h-0.65zM337.68 211.86h0.81v0.6h-0.81zM339.33 211.86h0.9v0.6h-0.9zM340.63 211.86h0.73v0.6h-0.73zM341.97 211.86h0.65v0.6h-0.65zM342.7 211.86h0.93v0.6h-0.93zM343.91 211.86h0.98v0.6h-0.98zM346.32 211.86h1.16v0.6h-1.16zM314.69 213.28h1.14v0.6h-1.14zM316.38 213.28h1.15v0.6h-1.15zM317.79 213.28h1.14v0.6h-1.14zM319.98 213.28h0.62v0.6h-0.62zM321.47 213.28h0.77v0.6h-0.77zM322.6 213.28h0.63v0.6h-0.63zM323.93 213.28h1.04v0.6h-1.04zM325.28 213.28h1.1v0.6h-1.1zM326.89 213.28h0.92v0.6h-0.92zM329.12 213.28h0.96v0.6h-0.96zM331.22 213.28h0.53v0.6h-0.53zM332.72 213.28h0.57v0.6h-0.57zM334.58 213.28h0.72v0.6h-0.72zM336.4 213.28h0.76v0.6h-0.76zM338.15 213.28h0.63v0.6h-0.63zM340.53 213.28h0.55v0.6h-0.55zM342.48 213.28h0.85v0.6h-0.85zM344.78 213.28h0.98v0.6h-0.98zM346.76 213.28h0.61v0.6h-0.61zM315.45 214.7h1.05v0.6h-1.05zM317.12 214.7h0.9v0.6h-0.9zM319.51 214.7h1.16v0.6h-1.16zM320.62 214.7h1.09v0.6h-1.09zM322.85 214.7h0.77v0.6h-0.77zM323.91 214.7h0.58v0.6h-0.58zM325.03 214.7h0.81v0.6h-0.81zM327.24 214.7h0.88v0.6h-0.88zM329.09 214.7h1.16v0.6h-1.16zM330.66 214.7h0.65v0.6h-0.65zM332.45 214.7h0.78v0.6h-0.78zM334.79 214.7h0.6v0.6h-0.6zM336.57 214.7h1.15v0.6h-1.15zM338.09 214.7h0.55v0.6h-0.55zM339.98 214.7h0.74v0.6h-0.74zM341.86 214.7h0.73v0.6h-0.73zM342.87 214.7h0.92v0.6h-0.92zM344.61 214.7h0.82v0.6h-0.82zM346.02 214.7h0.76v0.6h-0.76zM347.13 214.7h0.69v0.6h-0.69zM316.03 216.12h0.56v0.6h-0.56zM316.94 216.12h0.8v0.6h-0.8zM317.98 216.12h0.74v0.6h-0.74zM318.92 216.12h1.11v0.6h-1.11zM321.23 216.12h0.82v0.6h-0.82zM322.59 216.12h1.08v0.6h-1.08zM324.91 216.12h0.96v0.6h-0.96zM325.74 216.12h0.67v0.6h-0.67zM327.27 216.12h1.01v0.6h-1.01zM328.37 216.12h0.63v0.6h-0.63zM330.69 216.12h0.72v0.6h-0.72zM331.47 216.12h1.06v0.6h-1.06zM333.12 216.12h0.91v0.6h-0.91zM335.45 216.12h1.14v0.6h-1.14zM337.31 216.12h0.68v0.6h-0.68zM339.31 216.12h1.19v0.6h-1.19zM341.6 216.12h1.04v0.6h-1.04zM343.53 216.12h1.08v0.6h-1.08zM344.72 216.12h1.08v0.6h-1.08zM345.71 216.12h1.14v0.6h-1.14zM347.28 216.12h0.74v0.6h-0.74zM315.11 217.54h0.89v0.6h-0.89zM317.06 217.54h0.62v0.6h-0.62zM318.89 217.54h0.63v0.6h-0.63zM320.98 217.54h0.66v0.6h-0.66zM322.57 217.54h0.92v0.6h-0.92zM324.45 217.54h0.97v0.6h-0.97zM325.62 217.54h1.18v0.6h-1.18zM327.71 217.54h0.59v0.6h-0.59zM328.86 217.54h0.73v0.6h-0.73zM330.2 217.54h0.93v0.6h-0.93zM332.09 217.54h1.09v0.6h-1.09zM333.32 217.54h0.98v0.6h-0.98zM334.55 217.54h0.52v0.6h-0.52zM336.8 217.54h0.68v0.6h-0.68zM337.83 217.54h1.18v0.6h-1.18zM339.07 217.54h0.75v0.6h-0.75zM340.28 217.54h1.06v0.6h-1.06zM341.51 217.54h0.7v0.6h-0.7zM343.87 217.54h1.03v0.6h-1.03zM345.3 217.54h0.53v0.6h-0.53zM347.35 217.54h0.72v0.6h-0.72zM315.47 218.96h1.04v0.6h-1.04zM316.6 218.96h1.06v0.6h-1.06zM318.58 218.96h0.73v0.6h-0.73zM320.04 218.96h1.03v0.6h-1.03zM321.38 218.96h0.81v0.6h-0.81zM323.18 218.96h1.08v0.6h-1.08zM323.92 218.96h0.86v0.6h-0.86zM325.79 218.96h1.16v0.6h-1.16zM326.87 218.96h0.6v0.6h-0.6zM329.27 218.96h0.74v0.6h-0.74zM330.03 218.96h0.71v0.6h-0.71zM331.75 218.96h0.67v0.6h-0.67zM332.89 218.96h0.66v0.6h-0.66zM335.09 218.96h0.69v0.6h-0.69zM335.93 218.96h1.02v0.6h-1.02zM338.29 218.96h0.81v0.6h-0.81zM339.44 218.96h1.11v0.6h-1.11zM341.4 218.96h0.86v0.6h-0.86zM343.34 218.96h0.64v0.6h-0.64zM345.57 218.96h0.65v0.6h-0.65zM346.48 218.96h1.09v0.6h-1.09zM314.8 220.38h0.7v0.6h-0.7zM315.88 220.38h1.1v0.6h-1.1zM316.9 220.38h0.93v0.6h-0.93zM318.38 220.38h0.84v0.6h-0.84zM320.5 220.38h0.72v0.6h-0.72zM321.44 220.38h1.16v0.6h-1.16zM323.33 220.38h1.15v0.6h-1.15zM325.5 220.38h0.85v0.6h-0.85zM326.58 220.38h0.54v0.6h-0.54zM328.6 220.38h0.85v0.6h-0.85zM330.98 220.38h1.04v0.6h-1.04zM332.39 220.38h0.94v0.6h-0.94zM334.6 220.38h0.6v0.6h-0.6zM335.5 220.38h1.14v0.6h-1.14zM336.9 220.38h0.84v0.6h-0.84zM338.32 220.38h0.9v0.6h-0.9zM340.09 220.38h0.84v0.6h-0.84zM341.47 220.38h1.08v0.6h-1.08zM342.4 220.38h0.84v0.6h-0.84zM343.17 220.38h0.58v0.6h-0.58zM344.27 220.38h1.2v0.6h-1.2zM346.08 220.38h0.97v0.6h-0.97z" stroke="none" fill="#1a1a1a" stroke-width="0.5" opacity="0.88"/><line x1="313.8" y1="184.4" x2="348.7" y2="184.4" stroke="#333" stroke-width="0.8" stroke-dasharray="0.9 0.5"/><line x1="313.8" y1="207.7" x2="348.7" y2="207.7" stroke="#333" stroke-width="0.8" stroke-dasharray="0.9 0.5"/><rect x="313.8" y="225.2" width="34.9" height="17.5" fill="#fff" stroke="#777" stroke-width="0.4" /><polygon points="313.8,242.7 313.8,226.95 314.05,228.77 314.3,230.39 314.55,231.82 314.8,233.08 315.05,234.19 315.3,235.18 315.55,236.05 315.79,236.82 316.04,237.5 316.29,238.1 316.54,238.64 316.79,239.11 317.04,239.52 317.29,239.89 317.54,240.22 317.79,240.5 318.04,240.76 318.29,240.98 318.54,241.18 318.79,241.36 319.04,241.51 319.28,241.65 319.53,241.77 319.78,241.88 320.03,241.98 320.28,242.06 320.53,242.13 320.78,242.2 321.03,242.26 321.28,242.31 321.53,242.35 321.78,242.39 322.03,242.43 322.28,242.46 322.52,242.49 322.77,242.52 323.02,242.52 323.27,242.52 323.52,242.52 323.77,242.5 324.02,242.46 324.27,242.43 324.52,242.38 324.77,242.34 325.02,242.28 325.27,242.21 325.52,242.14 325.77,242.05 326.01,241.95 326.26,241.83 326.51,241.7 326.76,241.54 327.01,241.36 327.26,241.15 327.51,240.91 327.76,240.63 328.01,240.31 328.26,239.93 328.51,239.5 328.76,239 329.01,238.42 329.26,237.76 329.5,236.99 329.75,236.1 330,235.07 330.25,233.88 330.5,232.5 330.75,230.91 331,229.07 331.25,226.95 331.5,228.77 331.75,230.39 332,231.82 332.25,233.08 332.5,234.19 332.75,235.18 333,236.05 333.24,236.82 333.49,237.5 333.74,238.1 333.99,238.64 334.24,239.11 334.49,239.52 334.74,239.89 334.99,240.22 335.24,240.5 335.49,240.76 335.74,240.98 335.99,241.18 336.24,241.36 336.49,241.51 336.73,241.65 336.98,241.77 337.23,241.88 337.48,241.98 337.73,242.06 337.98,242.13 338.23,242.2 338.48,242.26 338.73,242.31 338.98,242.35 339.23,242.39 339.48,242.43 339.73,242.46 339.98,242.49 340.22,242.52 340.47,242.52 340.72,242.52 340.97,242.52 341.22,242.5 341.47,242.46 341.72,242.43 341.97,242.38 342.22,242.34 342.47,242.28 342.72,242.21 342.97,242.14 343.22,242.05 343.46,241.95 343.71,241.83 343.96,241.7 344.21,241.54 344.46,241.36 344.71,241.15 344.96,240.91 345.21,240.63 345.46,240.31 345.71,239.93 345.96,239.5 346.21,239 346.46,238.42 346.71,237.76 346.95,236.99 347.2,236.1 347.45,235.07 347.7,233.88 347.95,232.5 348.2,230.91 348.45,229.07 348.7,226.95 348.7,242.7" fill="#e8783a" stroke="none" stroke-width="0.5" /><rect x="313.8" y="225.2" width="34.9" height="17.5" fill="none" stroke="#666" stroke-width="0.4" /><text x="313.8" y="247.6" font-size="3.9" text-anchor="middle" font-weight="normal" fill="#222" stroke="#222" stroke-width="0.05" style="">0</text><text x="331.25" y="247.6" font-size="3.9" text-anchor="middle" font-weight="normal" fill="#222" stroke="#222" stroke-width="0.05" style="">100</text><text x="348.7" y="247.6" font-size="3.9" text-anchor="middle" font-weight="normal" fill="#222" stroke="#222" stroke-width="0.05" style="">200</text><text x="331.25" y="252.4" font-size="4.08" text-anchor="middle" font-weight="normal" fill="#222" textLength="16.6" lengthAdjust="spacingAndGlyphs" stroke="#222" stroke-width="0.06" style="">Time, ms</text><text x="374.6" y="164.2" font-size="4" text-anchor="middle" font-weight="normal" fill="#333" textLength="13.5" lengthAdjust="spacingAndGlyphs" stroke="#333" stroke-width="0.02" style="">1.5 mA</text><polyline points="356.8,165 357.24,165.05 357.68,165.19 358.11,165.41 358.55,165.73 358.99,166.11 359.43,166.57 359.86,167.07 360.3,167.63 360.74,168.21 361.18,168.8 361.61,169.39 362.05,169.97 362.49,170.53 362.93,171.03 363.36,171.49 363.8,171.87 364.24,172.19 364.68,172.41 365.11,172.55 365.55,172.6 365.99,172.55 366.43,172.41 366.86,172.19 367.3,171.87 367.74,171.49 368.18,171.03 368.61,170.53 369.05,169.97 369.49,169.39 369.93,168.8 370.36,168.21 370.8,167.63 371.24,167.07 371.68,166.57 372.11,166.11 372.55,165.73 372.99,165.41 373.43,165.19 373.86,165.05 374.3,165 374.74,165.05 375.18,165.19 375.61,165.41 376.05,165.73 376.49,166.11 376.93,166.57 377.36,167.07 377.8,167.63 378.24,168.21 378.68,168.8 379.11,169.39 379.55,169.97 379.99,170.53 380.43,171.03 380.86,171.49 381.3,171.87 381.74,172.19 382.18,172.41 382.61,172.55 383.05,172.6 383.49,172.55 383.93,172.41 384.36,172.19 384.8,171.87 385.24,171.49 385.68,171.03 386.11,170.53 386.55,169.97 386.99,169.39 387.43,168.8 387.86,168.21 388.3,167.63 388.74,167.07 389.18,166.57 389.61,166.11 390.05,165.73 390.49,165.41 390.93,165.19 391.36,165.05 391.8,165" stroke="#555" fill="none" stroke-width="0.6" stroke-linejoin="round" /><rect x="356.8" y="174.4" width="35" height="47.8" fill="#fff" stroke="#777" stroke-width="0.4" /><g clip-path="url(#eclip2)"><ellipse cx="356.8" cy="198.5" rx="1.6" ry="12" fill="#f4a070" stroke="none" stroke-width="0.5" filter="url(#bl1)" opacity="0.22"/><ellipse cx="374.3" cy="198.5" rx="1.6" ry="12" fill="#f4a070" stroke="none" stroke-width="0.5" filter="url(#bl1)" opacity="0.22"/><ellipse cx="391.8" cy="198.5" rx="1.6" ry="12" fill="#f4a070" stroke="none" stroke-width="0.5" filter="url(#bl1)" opacity="0.22"/><path d="M357.12 186.8h0.92v0.6h-0.92zM387.65 186.8h0.93v0.6h-0.93zM390.34 186.8h1.25v0.6h-1.25zM357.35 188.05h0.78v0.6h-0.78zM375.73 188.05h1.55v0.6h-1.55zM371.69 190.55h1.38v0.6h-1.38zM373.94 190.55h1.14v0.6h-1.14zM375.13 190.55h0.73v0.6h-0.73zM373.98 191.8h0.83v0.6h-0.83zM390.75 191.8h0.53v0.6h-0.53zM356.91 193.05h1.4v0.6h-1.4zM390.75 193.05h1.43v0.6h-1.43zM357.78 194.3h1.38v0.6h-1.38zM357.2 195.55h0.53v0.6h-0.53zM369.97 195.55h1.03v0.6h-1.03zM374.54 195.55h1.47v0.6h-1.47zM375.52 195.55h1.53v0.6h-1.53zM390.75 195.55h1.35v0.6h-1.35zM372.18 196.8h1.15v0.6h-1.15zM374.17 196.8h0.68v0.6h-0.68zM357.28 198.05h0.71v0.6h-0.71zM363.21 198.05h1.4v0.6h-1.4zM373.8 199.3h0.9v0.6h-0.9zM356.93 200.55h1.12v0.6h-1.12zM361.92 200.55h1.59v0.6h-1.59zM375.55 200.55h0.58v0.6h-0.58zM390.75 200.55h1.01v0.6h-1.01zM356.82 201.8h1.22v0.6h-1.22zM372.6 201.8h1.11v0.6h-1.11zM373.88 201.8h0.99v0.6h-0.99zM376.44 201.8h1.01v0.6h-1.01zM389.57 201.8h1.13v0.6h-1.13zM357.43 203.05h0.87v0.6h-0.87zM374.61 203.05h0.89v0.6h-0.89zM390.62 203.05h0.97v0.6h-0.97zM356.8 204.3h0.59v0.6h-0.59zM357.41 204.3h0.89v0.6h-0.89zM371.76 205.55h0.86v0.6h-0.86zM373.69 206.8h0.56v0.6h-0.56zM374.29 206.8h1.58v0.6h-1.58zM375.94 206.8h1.54v0.6h-1.54zM382.7 206.8h0.8v0.6h-0.8zM357.46 208.05h0.66v0.6h-0.66zM357.96 208.05h1.26v0.6h-1.26zM372.36 208.05h0.77v0.6h-0.77zM390.41 208.05h0.98v0.6h-0.98zM374 209.3h1.23v0.6h-1.23z" stroke="none" fill="#f0a070" stroke-width="0.5" opacity="0.8"/><path d="M373.55 186.8h1.41v0.6h-1.41zM374.42 188.05h1.14v0.6h-1.14zM390.23 188.05h0.88v0.6h-0.88zM390.26 189.3h1.4v0.6h-1.4zM357.39 190.55h1.34v0.6h-1.34zM390.17 190.55h1.18v0.6h-1.18zM390.75 190.55h1.44v0.6h-1.44zM372.42 193.05h1.32v0.6h-1.32zM375.08 193.05h0.52v0.6h-0.52zM375.87 193.05h1.33v0.6h-1.33zM390.65 193.05h1.46v0.6h-1.46zM390.75 193.05h0.83v0.6h-0.83zM358.96 194.3h1.21v0.6h-1.21zM361.68 194.3h1.14v0.6h-1.14zM370.88 194.3h1.14v0.6h-1.14zM390.75 194.3h1.12v0.6h-1.12zM370.81 195.55h1.02v0.6h-1.02zM390.5 195.55h1.53v0.6h-1.53zM390.75 195.55h0.52v0.6h-0.52zM357.42 196.8h0.97v0.6h-0.97zM358.58 196.8h1.44v0.6h-1.44zM363 196.8h1.25v0.6h-1.25zM374.61 196.8h0.93v0.6h-0.93zM375.27 196.8h0.52v0.6h-0.52zM390.75 196.8h1.17v0.6h-1.17zM390.75 198.05h1.56v0.6h-1.56zM373.07 199.3h1.24v0.6h-1.24zM374.44 199.3h1.05v0.6h-1.05zM372.05 200.55h1.53v0.6h-1.53zM357.46 201.8h1.24v0.6h-1.24zM374.64 201.8h1.43v0.6h-1.43zM390.75 201.8h0.81v0.6h-0.81zM371.31 203.05h1.07v0.6h-1.07zM373.38 203.05h0.76v0.6h-0.76zM375.27 203.05h1.06v0.6h-1.06zM376.24 203.05h1.36v0.6h-1.36zM375.51 204.3h1.49v0.6h-1.49zM374.22 205.55h1.54v0.6h-1.54zM375.39 206.8h0.54v0.6h-0.54zM390.75 206.8h1.52v0.6h-1.52zM372.93 208.05h0.82v0.6h-0.82zM356.98 209.3h1.01v0.6h-1.01zM357.87 209.3h0.63v0.6h-0.63zM379.55 209.3h1.48v0.6h-1.48z" stroke="none" fill="#f4b890" stroke-width="0.5" opacity="0.8"/><path d="M374.6 186.8h1.46v0.6h-1.46zM375.12 188.05h1.58v0.6h-1.58zM390.75 188.05h0.53v0.6h-0.53zM375.19 189.3h1.29v0.6h-1.29zM390.75 189.3h1.5v0.6h-1.5zM373.01 190.55h1.42v0.6h-1.42zM390.75 190.55h1.27v0.6h-1.27zM374.89 191.8h0.7v0.6h-0.7zM367.39 193.05h1v0.6h-1zM373.27 193.05h0.73v0.6h-0.73zM357.23 194.3h1.55v0.6h-1.55zM372.13 194.3h0.65v0.6h-0.65zM374.35 194.3h1.45v0.6h-1.45zM388.52 194.3h0.56v0.6h-0.56zM390.75 194.3h1.27v0.6h-1.27zM374.06 195.55h1.52v0.6h-1.52zM376.02 195.55h1.17v0.6h-1.17zM384.37 196.8h1.48v0.6h-1.48zM361.21 198.05h1.54v0.6h-1.54zM374.15 198.05h0.96v0.6h-0.96zM390.75 198.05h0.6v0.6h-0.6zM390.06 199.3h1.29v0.6h-1.29zM390.75 200.55h1.35v0.6h-1.35zM390.75 201.8h1.38v0.6h-1.38zM390.75 203.05h1.21v0.6h-1.21zM373.6 204.3h1.49v0.6h-1.49zM359.81 205.55h0.93v0.6h-0.93zM390.75 205.55h0.82v0.6h-0.82zM390.75 206.8h1.47v0.6h-1.47zM371.65 208.05h1.32v0.6h-1.32zM374.98 208.05h1.54v0.6h-1.54zM361.57 209.3h1.33v0.6h-1.33zM374.61 209.3h1.34v0.6h-1.34zM390.75 209.3h1.23v0.6h-1.23zM390.75 209.3h1.01v0.6h-1.01z" stroke="none" fill="#e06a30" stroke-width="0.5" opacity="0.8"/><path d="M390.75 186.8h1.01v0.6h-1.01zM390.75 188.05h1.35v0.6h-1.35zM357.46 189.3h0.56v0.6h-0.56zM377.66 189.3h0.98v0.6h-0.98zM357.45 191.8h0.63v0.6h-0.63zM376.23 191.8h1.33v0.6h-1.33zM390.75 191.8h1.6v0.6h-1.6zM358.17 193.05h0.77v0.6h-0.77zM374.13 193.05h0.87v0.6h-0.87zM381.74 193.05h1.13v0.6h-1.13zM373.38 194.3h0.61v0.6h-0.61zM375.43 194.3h0.89v0.6h-0.89zM376.42 194.3h1.41v0.6h-1.41zM357.7 195.55h1.46v0.6h-1.46zM373.57 196.8h1.4v0.6h-1.4zM373.06 198.05h1.44v0.6h-1.44zM373.49 198.05h1.06v0.6h-1.06zM375.42 198.05h0.81v0.6h-0.81zM380.75 198.05h1.57v0.6h-1.57zM358.66 200.55h1.13v0.6h-1.13zM374.5 200.55h1.47v0.6h-1.47zM358.51 201.8h1.54v0.6h-1.54zM358.64 203.05h1.23v0.6h-1.23zM386.94 203.05h1.27v0.6h-1.27zM358.92 204.3h1.2v0.6h-1.2zM358.14 205.55h1.49v0.6h-1.49zM373.04 205.55h1.1v0.6h-1.1zM357.44 206.8h0.63v0.6h-0.63zM369.12 206.8h1.57v0.6h-1.57zM358.5 208.05h1.58v0.6h-1.58zM373.77 208.05h1.44v0.6h-1.44zM375.56 208.05h1.51v0.6h-1.51zM390.75 208.05h0.92v0.6h-0.92zM390.75 208.05h1.31v0.6h-1.31zM390.25 209.3h1.46v0.6h-1.46z" stroke="none" fill="#e8804a" stroke-width="0.5" opacity="0.8"/></g><path d="M358.59 175h0.8v0.6h-0.8zM359.79 175h0.78v0.6h-0.78zM362.05 175h0.74v0.6h-0.74zM364.41 175h0.98v0.6h-0.98zM365.59 175h1.1v0.6h-1.1zM367.16 175h1.11v0.6h-1.11zM369.01 175h0.57v0.6h-0.57zM370.52 175h0.97v0.6h-0.97zM372.54 175h0.95v0.6h-0.95zM373.37 175h0.53v0.6h-0.53zM374.33 175h1.02v0.6h-1.02zM376.6 175h1.05v0.6h-1.05zM378.33 175h0.74v0.6h-0.74zM380.46 175h1.1v0.6h-1.1zM382.09 175h1.15v0.6h-1.15zM383.82 175h0.89v0.6h-0.89zM385.43 175h0.95v0.6h-0.95zM386.8 175h0.5v0.6h-0.5zM388.64 175h0.69v0.6h-0.69zM358.42 176.39h0.64v0.6h-0.64zM359.91 176.39h0.7v0.6h-0.7zM360.74 176.39h0.55v0.6h-0.55zM362.87 176.39h0.72v0.6h-0.72zM365.25 176.39h0.56v0.6h-0.56zM367.28 176.39h0.93v0.6h-0.93zM368.47 176.39h0.83v0.6h-0.83zM369.23 176.39h0.88v0.6h-0.88zM370.34 176.39h0.52v0.6h-0.52zM371.1 176.39h0.82v0.6h-0.82zM372.19 176.39h0.94v0.6h-0.94zM373.75 176.39h0.61v0.6h-0.61zM375.19 176.39h0.91v0.6h-0.91zM376.12 176.39h0.81v0.6h-0.81zM377.17 176.39h0.95v0.6h-0.95zM378.05 176.39h0.59v0.6h-0.59zM380.12 176.39h0.99v0.6h-0.99zM381.29 176.39h0.65v0.6h-0.65zM383.17 176.39h0.59v0.6h-0.59zM384.67 176.39h1v0.6h-1zM385.83 176.39h1.2v0.6h-1.2zM387.31 176.39h0.71v0.6h-0.71zM389.37 176.39h0.76v0.6h-0.76zM390.12 176.39h0.7v0.6h-0.7zM357.68 177.78h0.61v0.6h-0.61zM358.92 177.78h0.52v0.6h-0.52zM361.04 177.78h0.7v0.6h-0.7zM362.38 177.78h0.98v0.6h-0.98zM363.2 177.78h0.74v0.6h-0.74zM365.36 177.78h0.78v0.6h-0.78zM366.98 177.78h1.02v0.6h-1.02zM368.41 177.78h0.81v0.6h-0.81zM369.24 177.78h1.03v0.6h-1.03zM371.55 177.78h0.67v0.6h-0.67zM373.37 177.78h1.03v0.6h-1.03zM375.57 177.78h0.74v0.6h-0.74zM377.94 177.78h0.92v0.6h-0.92zM379.12 177.78h0.73v0.6h-0.73zM380.95 177.78h1.12v0.6h-1.12zM383.02 177.78h0.93v0.6h-0.93zM384 177.78h1.14v0.6h-1.14zM386.1 177.78h0.9v0.6h-0.9zM388.36 177.78h0.81v0.6h-0.81zM389.21 177.78h1.03v0.6h-1.03zM357.5 179.16h0.6v0.6h-0.6zM359.79 179.16h0.74v0.6h-0.74zM361.04 179.16h0.91v0.6h-0.91zM363.04 179.16h0.78v0.6h-0.78zM363.98 179.16h1.17v0.6h-1.17zM365.3 179.16h0.87v0.6h-0.87zM367.47 179.16h0.89v0.6h-0.89zM368.58 179.16h1.11v0.6h-1.11zM370.91 179.16h0.73v0.6h-0.73zM371.75 179.16h0.95v0.6h-0.95zM373.91 179.16h0.55v0.6h-0.55zM376.28 179.16h1.13v0.6h-1.13zM378.3 179.16h0.83v0.6h-0.83zM379.37 179.16h0.72v0.6h-0.72zM381.56 179.16h1.02v0.6h-1.02zM383.97 179.16h0.83v0.6h-0.83zM384.9 179.16h0.84v0.6h-0.84zM386.02 179.16h0.65v0.6h-0.65zM386.96 179.16h0.62v0.6h-0.62zM389.41 179.16h0.66v0.6h-0.66zM390.69 179.16h0.78v0.6h-0.78zM358.59 180.55h0.67v0.6h-0.67zM360.98 180.55h0.65v0.6h-0.65zM363.09 180.55h0.51v0.6h-0.51zM365.53 180.55h0.85v0.6h-0.85zM366.7 180.55h0.91v0.6h-0.91zM367.87 180.55h1.08v0.6h-1.08zM370.12 180.55h0.55v0.6h-0.55zM372.16 180.55h0.96v0.6h-0.96zM373.1 180.55h0.64v0.6h-0.64zM374.36 180.55h0.61v0.6h-0.61zM375.8 180.55h0.74v0.6h-0.74zM377.43 180.55h0.84v0.6h-0.84zM379.56 180.55h1.16v0.6h-1.16zM381.1 180.55h0.55v0.6h-0.55zM383.23 180.55h0.96v0.6h-0.96zM384.76 180.55h1.01v0.6h-1.01zM386.98 180.55h1.13v0.6h-1.13zM388.62 180.55h0.89v0.6h-0.89zM390.74 180.55h0.98v0.6h-0.98zM358.85 181.94h0.69v0.6h-0.69zM359.86 181.94h1.17v0.6h-1.17zM360.84 181.94h0.85v0.6h-0.85zM362.49 181.94h0.72v0.6h-0.72zM364.35 181.94h0.7v0.6h-0.7zM365.21 181.94h1.2v0.6h-1.2zM366.78 181.94h0.74v0.6h-0.74zM368.19 181.94h0.8v0.6h-0.8zM370.63 181.94h1v0.6h-1zM371.87 181.94h0.85v0.6h-0.85zM372.97 181.94h1.03v0.6h-1.03zM374.21 181.94h1.05v0.6h-1.05zM376.48 181.94h1.2v0.6h-1.2zM377.34 181.94h0.66v0.6h-0.66zM378.82 181.94h1.03v0.6h-1.03zM380.78 181.94h0.93v0.6h-0.93zM382.64 181.94h0.57v0.6h-0.57zM384.13 181.94h0.72v0.6h-0.72zM386.46 181.94h1.19v0.6h-1.19zM387.39 181.94h0.7v0.6h-0.7zM389.01 181.94h0.81v0.6h-0.81zM357.75 183.32h0.55v0.6h-0.55zM359.71 183.32h1.01v0.6h-1.01zM362.04 183.32h0.79v0.6h-0.79zM363.42 183.32h0.83v0.6h-0.83zM365.49 183.32h1.09v0.6h-1.09zM366.56 183.32h0.92v0.6h-0.92zM367.72 183.32h0.65v0.6h-0.65zM369.08 183.32h0.85v0.6h-0.85zM371.36 183.32h0.68v0.6h-0.68zM372.21 183.32h1v0.6h-1zM373.76 183.32h0.71v0.6h-0.71zM375.3 183.32h0.59v0.6h-0.59zM376.12 183.32h1.11v0.6h-1.11zM378.27 183.32h0.51v0.6h-0.51zM379.33 183.32h0.82v0.6h-0.82zM380.94 183.32h0.53v0.6h-0.53zM382.57 183.32h1.19v0.6h-1.19zM384.41 183.32h0.68v0.6h-0.68zM385.55 183.32h1.09v0.6h-1.09zM386.72 183.32h0.81v0.6h-0.81zM388.8 183.32h0.58v0.6h-0.58zM390.46 183.32h0.94v0.6h-0.94zM359 184.71h1.15v0.6h-1.15zM360.19 184.71h1.07v0.6h-1.07zM362.57 184.71h0.85v0.6h-0.85zM363.5 184.71h0.79v0.6h-0.79zM365.19 184.71h1.08v0.6h-1.08zM366.72 184.71h0.97v0.6h-0.97zM368.86 184.71h0.59v0.6h-0.59zM370.18 184.71h0.54v0.6h-0.54zM371.8 184.71h0.76v0.6h-0.76zM373.1 184.71h0.92v0.6h-0.92zM373.81 184.71h1.15v0.6h-1.15zM375.41 184.71h0.65v0.6h-0.65zM376.32 184.71h0.62v0.6h-0.62zM378.27 184.71h1.13v0.6h-1.13zM379.93 184.71h0.91v0.6h-0.91zM381.95 184.71h1.13v0.6h-1.13zM384.22 184.71h0.98v0.6h-0.98zM386.07 184.71h0.61v0.6h-0.61zM387.11 184.71h0.94v0.6h-0.94zM388.25 184.71h0.75v0.6h-0.75zM389.85 184.71h1.19v0.6h-1.19zM358.25 211.1h1.01v0.6h-1.01zM359.08 211.1h0.8v0.6h-0.8zM360.21 211.1h0.7v0.6h-0.7zM362.11 211.1h0.65v0.6h-0.65zM363.29 211.1h0.97v0.6h-0.97zM365.44 211.1h0.52v0.6h-0.52zM366.88 211.1h0.5v0.6h-0.5zM368.88 211.1h0.71v0.6h-0.71zM370.16 211.1h1.12v0.6h-1.12zM372.31 211.1h1.13v0.6h-1.13zM374.21 211.1h0.66v0.6h-0.66zM376.3 211.1h1v0.6h-1zM377.04 211.1h0.68v0.6h-0.68zM378.85 211.1h0.98v0.6h-0.98zM381.06 211.1h0.81v0.6h-0.81zM382.97 211.1h0.93v0.6h-0.93zM384.32 211.1h0.69v0.6h-0.69zM386.52 211.1h1.06v0.6h-1.06zM387.42 211.1h0.97v0.6h-0.97zM388.28 211.1h0.71v0.6h-0.71zM389.68 211.1h0.93v0.6h-0.93zM358.83 212.63h1.18v0.6h-1.18zM361.05 212.63h1.13v0.6h-1.13zM362.91 212.63h0.56v0.6h-0.56zM363.87 212.63h0.58v0.6h-0.58zM365.11 212.63h0.85v0.6h-0.85zM366.28 212.63h1.11v0.6h-1.11zM367.9 212.63h0.58v0.6h-0.58zM369.88 212.63h1.1v0.6h-1.1zM372.11 212.63h0.9v0.6h-0.9zM373.96 212.63h0.81v0.6h-0.81zM375.01 212.63h0.75v0.6h-0.75zM377.41 212.63h0.54v0.6h-0.54zM378.26 212.63h0.96v0.6h-0.96zM379.11 212.63h0.72v0.6h-0.72zM380.94 212.63h1.17v0.6h-1.17zM382.44 212.63h1v0.6h-1zM383.7 212.63h1.16v0.6h-1.16zM385.27 212.63h1.12v0.6h-1.12zM387.16 212.63h0.61v0.6h-0.61zM389.15 212.63h0.63v0.6h-0.63zM390.31 212.63h1.18v0.6h-1.18zM359.08 214.16h1.02v0.6h-1.02zM360.47 214.16h0.67v0.6h-0.67zM362.46 214.16h0.93v0.6h-0.93zM364.54 214.16h0.82v0.6h-0.82zM365.36 214.16h1.13v0.6h-1.13zM367.54 214.16h1.1v0.6h-1.1zM369.36 214.16h0.78v0.6h-0.78zM370.19 214.16h1.12v0.6h-1.12zM372.08 214.16h0.63v0.6h-0.63zM374.4 214.16h1.13v0.6h-1.13zM376.15 214.16h1.03v0.6h-1.03zM377.95 214.16h1.11v0.6h-1.11zM380.06 214.16h1.13v0.6h-1.13zM380.8 214.16h1.2v0.6h-1.2zM382.78 214.16h0.79v0.6h-0.79zM383.81 214.16h0.6v0.6h-0.6zM385.87 214.16h0.63v0.6h-0.63zM387.28 214.16h0.64v0.6h-0.64zM388.75 214.16h0.81v0.6h-0.81zM389.65 214.16h0.69v0.6h-0.69zM390.72 214.16h0.87v0.6h-0.87zM359.22 215.69h1.01v0.6h-1.01zM360.96 215.69h1.05v0.6h-1.05zM361.72 215.69h0.81v0.6h-0.81zM363.95 215.69h0.64v0.6h-0.64zM364.79 215.69h0.92v0.6h-0.92zM366.57 215.69h0.66v0.6h-0.66zM368.99 215.69h1.16v0.6h-1.16zM370.32 215.69h0.89v0.6h-0.89zM372.3 215.69h1.14v0.6h-1.14zM373.27 215.69h1v0.6h-1zM374.66 215.69h0.98v0.6h-0.98zM376.24 215.69h0.74v0.6h-0.74zM378.53 215.69h0.52v0.6h-0.52zM379.57 215.69h1.19v0.6h-1.19zM380.52 215.69h0.83v0.6h-0.83zM382.72 215.69h0.8v0.6h-0.8zM383.68 215.69h0.99v0.6h-0.99zM384.99 215.69h0.9v0.6h-0.9zM387.23 215.69h0.96v0.6h-0.96zM389.46 215.69h1.1v0.6h-1.1zM390.61 215.69h0.98v0.6h-0.98zM359.18 217.21h0.79v0.6h-0.79zM360.52 217.21h1.11v0.6h-1.11zM361.43 217.21h0.62v0.6h-0.62zM363.55 217.21h1.05v0.6h-1.05zM365.69 217.21h0.93v0.6h-0.93zM367.57 217.21h0.62v0.6h-0.62zM369.08 217.21h0.68v0.6h-0.68zM370.52 217.21h0.53v0.6h-0.53zM372.52 217.21h0.6v0.6h-0.6zM374.12 217.21h0.88v0.6h-0.88zM375.03 217.21h0.71v0.6h-0.71zM376.94 217.21h0.76v0.6h-0.76zM378 217.21h0.61v0.6h-0.61zM379.76 217.21h1.11v0.6h-1.11zM381.26 217.21h1.09v0.6h-1.09zM383.43 217.21h1.19v0.6h-1.19zM385.31 217.21h0.57v0.6h-0.57zM386.39 217.21h0.72v0.6h-0.72zM387.5 217.21h1.05v0.6h-1.05zM389.48 217.21h0.79v0.6h-0.79zM390.54 217.21h1.03v0.6h-1.03zM359.2 218.74h1.02v0.6h-1.02zM361.26 218.74h0.98v0.6h-0.98zM362.32 218.74h0.62v0.6h-0.62zM363.17 218.74h0.98v0.6h-0.98zM364.6 218.74h1.05v0.6h-1.05zM365.88 218.74h0.61v0.6h-0.61zM366.95 218.74h0.69v0.6h-0.69zM367.85 218.74h0.72v0.6h-0.72zM370.24 218.74h0.95v0.6h-0.95zM371.75 218.74h1.18v0.6h-1.18zM372.53 218.74h1.16v0.6h-1.16zM374.18 218.74h0.51v0.6h-0.51zM375.96 218.74h0.64v0.6h-0.64zM377.18 218.74h0.81v0.6h-0.81zM377.96 218.74h0.81v0.6h-0.81zM379.55 218.74h0.97v0.6h-0.97zM381.77 218.74h0.77v0.6h-0.77zM383.23 218.74h1.02v0.6h-1.02zM384.94 218.74h0.97v0.6h-0.97zM387.15 218.74h0.88v0.6h-0.88zM388.31 218.74h0.78v0.6h-0.78zM390.54 218.74h0.76v0.6h-0.76zM358.07 220.27h1.13v0.6h-1.13zM359.77 220.27h0.71v0.6h-0.71zM360.82 220.27h1.14v0.6h-1.14zM362.2 220.27h0.64v0.6h-0.64zM363.98 220.27h0.83v0.6h-0.83zM364.89 220.27h0.93v0.6h-0.93zM366.46 220.27h0.55v0.6h-0.55zM367.18 220.27h0.63v0.6h-0.63zM368.59 220.27h0.68v0.6h-0.68zM370.82 220.27h0.81v0.6h-0.81zM372.37 220.27h0.81v0.6h-0.81zM374.34 220.27h0.83v0.6h-0.83zM376.76 220.27h0.99v0.6h-0.99zM378.72 220.27h0.61v0.6h-0.61zM380.53 220.27h1.19v0.6h-1.19zM382.36 220.27h0.68v0.6h-0.68zM384.65 220.27h1.06v0.6h-1.06zM386.94 220.27h1.01v0.6h-1.01zM388.52 220.27h1.16v0.6h-1.16zM389.74 220.27h1.08v0.6h-1.08zM390.66 220.27h0.81v0.6h-0.81z" stroke="none" fill="#1a1a1a" stroke-width="0.5" opacity="0.88"/><line x1="356.8" y1="185.9" x2="391.8" y2="185.9" stroke="#333" stroke-width="0.8" stroke-dasharray="0.9 0.5"/><line x1="356.8" y1="211.2" x2="391.8" y2="211.2" stroke="#333" stroke-width="0.8" stroke-dasharray="0.9 0.5"/><rect x="356.8" y="225.2" width="35" height="17.5" fill="#fff" stroke="#777" stroke-width="0.4" /><polygon points="356.8,242.7 356.8,225.55 357.05,227.83 357.3,229.81 357.55,231.53 357.8,233.02 358.05,234.3 358.3,235.42 358.55,236.39 358.8,237.23 359.05,237.96 359.3,238.59 359.55,239.14 359.8,239.61 360.05,240.02 360.3,240.38 360.55,240.69 360.8,240.96 361.05,241.19 361.3,241.39 361.55,241.56 361.8,241.72 362.05,241.85 362.3,241.96 362.55,242.06 362.8,242.14 363.05,242.22 363.3,242.28 363.55,242.34 363.8,242.39 364.05,242.43 364.3,242.46 364.55,242.5 364.8,242.52 365.05,242.52 365.3,242.52 365.55,242.52 365.8,242.52 366.05,242.52 366.3,242.52 366.55,242.52 366.8,242.52 367.05,242.52 367.3,242.52 367.55,242.52 367.8,242.48 368.05,242.44 368.3,242.4 368.55,242.34 368.8,242.27 369.05,242.2 369.3,242.11 369.55,242 369.8,241.87 370.05,241.72 370.3,241.53 370.55,241.32 370.8,241.07 371.05,240.77 371.3,240.42 371.55,240 371.8,239.51 372.05,238.92 372.3,238.23 372.55,237.41 372.8,236.44 373.05,235.3 373.3,233.94 373.55,232.34 373.8,230.45 374.05,228.2 374.3,225.55 374.55,227.83 374.8,229.81 375.05,231.53 375.3,233.02 375.55,234.3 375.8,235.42 376.05,236.39 376.3,237.23 376.55,237.96 376.8,238.59 377.05,239.14 377.3,239.61 377.55,240.02 377.8,240.38 378.05,240.69 378.3,240.96 378.55,241.19 378.8,241.39 379.05,241.56 379.3,241.72 379.55,241.85 379.8,241.96 380.05,242.06 380.3,242.14 380.55,242.22 380.8,242.28 381.05,242.34 381.3,242.39 381.55,242.43 381.8,242.46 382.05,242.5 382.3,242.52 382.55,242.52 382.8,242.52 383.05,242.52 383.3,242.52 383.55,242.52 383.8,242.52 384.05,242.52 384.3,242.52 384.55,242.52 384.8,242.52 385.05,242.52 385.3,242.48 385.55,242.44 385.8,242.4 386.05,242.34 386.3,242.27 386.55,242.2 386.8,242.11 387.05,242 387.3,241.87 387.55,241.72 387.8,241.53 388.05,241.32 388.3,241.07 388.55,240.77 388.8,240.42 389.05,240 389.3,239.51 389.55,238.92 389.8,238.23 390.05,237.41 390.3,236.44 390.55,235.3 390.8,233.94 391.05,232.34 391.3,230.45 391.55,228.2 391.8,225.55 391.8,242.7" fill="#e8783a" stroke="none" stroke-width="0.5" /><rect x="356.8" y="225.2" width="35" height="17.5" fill="none" stroke="#666" stroke-width="0.4" /><text x="356.8" y="247.6" font-size="3.9" text-anchor="middle" font-weight="normal" fill="#222" stroke="#222" stroke-width="0.05" style="">0</text><text x="374.3" y="247.6" font-size="3.9" text-anchor="middle" font-weight="normal" fill="#222" stroke="#222" stroke-width="0.05" style="">100</text><text x="391.8" y="247.6" font-size="3.9" text-anchor="middle" font-weight="normal" fill="#222" stroke="#222" stroke-width="0.05" style="">200</text><text x="374.3" y="252.4" font-size="4.08" text-anchor="middle" font-weight="normal" fill="#222" textLength="16.6" lengthAdjust="spacingAndGlyphs" stroke="#222" stroke-width="0.06" style="">Time, ms</text><text x="268.5" y="176.3" font-size="3.9" text-anchor="middle" font-weight="normal" fill="#222" stroke="#222" stroke-width="0.06" style="">0</text><text x="268.5" y="186.5" font-size="3.9" text-anchor="middle" font-weight="normal" fill="#222" stroke="#222" stroke-width="0.06" style="">1</text><text x="268.5" y="212.3" font-size="3.9" text-anchor="middle" font-weight="normal" fill="#222" stroke="#222" stroke-width="0.06" style="">3</text><text x="268.5" y="223.3" font-size="3.9" text-anchor="middle" font-weight="normal" fill="#222" stroke="#222" stroke-width="0.06" style="">4</text><text x="264.8" y="200" font-size="3.85" text-anchor="middle" font-weight="normal" fill="#222" transform="rotate(-90 264.8 200)" textLength="24" lengthAdjust="spacingAndGlyphs" stroke="#222" stroke-width="0.06" style="">Trial time, min</text><text x="268.2" y="227" font-size="3.6" text-anchor="middle" font-weight="normal" fill="#222" stroke="#222" stroke-width="0.05" style="">12</text><text x="268.8" y="244.2" font-size="3.6" text-anchor="middle" font-weight="normal" fill="#222" stroke="#222" stroke-width="0.05" style="">0</text><text x="264.8" y="234.5" font-size="3.95" text-anchor="middle" font-weight="normal" fill="#222" transform="rotate(-90 264.8 234.5)" textLength="12.5" lengthAdjust="spacingAndGlyphs" stroke="#222" stroke-width="0.06" style="">Counts</text><text x="4.6" y="282.4" font-size="7" text-anchor="start" font-weight="bold" fill="#111" stroke="#111" stroke-width="0.2" style="">F</text><line x1="15.2" y1="343.9" x2="15.2" y2="303.5" stroke="#f6ac7c" stroke-width="0.9" /><polygon points="14,304 16.4,304 15.2,300.8" fill="#f6ac7c" stroke="none" stroke-width="0.5" /><text x="11.3" y="322" font-size="2.8" text-anchor="middle" font-weight="normal" fill="#888" style="">E</text><line x1="24.4" y1="340" x2="24.5" y2="333" stroke="#3e397a" stroke-width="0.55" stroke-linecap="round"/><line x1="24.5" y1="333" x2="24.5" y2="326" stroke="#365f8b" stroke-width="0.55" stroke-linecap="round"/><line x1="24.5" y1="326" x2="24.5" y2="318" stroke="#28818c" stroke-width="0.55" stroke-linecap="round"/><line x1="24.5" y1="318" x2="24.5" y2="312" stroke="#319f81" stroke-width="0.55" stroke-linecap="round"/><line x1="24.5" y1="312" x2="24.4" y2="306.7" stroke="#4ab670" stroke-width="0.55" stroke-linecap="round"/><line x1="24.4" y1="306.7" x2="23.2" y2="300" stroke="#6ecc5c" stroke-width="0.45" stroke-linecap="round"/><line x1="23.2" y1="300" x2="22.3" y2="292.3" stroke="#c1dc3c" stroke-width="0.45" stroke-linecap="round"/><line x1="24.4" y1="306.7" x2="25.4" y2="299" stroke="#74cd5a" stroke-width="0.45" stroke-linecap="round"/><line x1="25.4" y1="299" x2="26.5" y2="291.5" stroke="#ccde38" stroke-width="0.45" stroke-linecap="round"/><line x1="24.4" y1="306.7" x2="27" y2="301" stroke="#68cb5e" stroke-width="0.45" stroke-linecap="round"/><line x1="27" y1="301" x2="28.8" y2="294" stroke="#b2d942" stroke-width="0.45" stroke-linecap="round"/><line x1="28.8" y1="294" x2="29.8" y2="290.8" stroke="#ede42b" stroke-width="0.45" stroke-linecap="round"/><line x1="24.6" y1="305" x2="26.5" y2="297.5" stroke="#86d152" stroke-width="0.35" stroke-linecap="round"/><line x1="26.5" y1="297.5" x2="27.8" y2="290.5" stroke="#dae032" stroke-width="0.35" stroke-linecap="round"/><line x1="23.2" y1="300" x2="21.8" y2="296" stroke="#acd844" stroke-width="0.3" stroke-linecap="round"/><line x1="21.8" y1="296" x2="21.2" y2="293" stroke="#d5df35" stroke-width="0.3" stroke-linecap="round"/><line x1="24.5" y1="335" x2="20.33" y2="332.88" stroke="#4a4a90" stroke-width="0.38" stroke-linecap="round"/><line x1="20.33" y1="332.88" x2="17.5" y2="330" stroke="#505aa0" stroke-width="0.33" stroke-linecap="round"/><line x1="24.5" y1="339" x2="22.02" y2="336.46" stroke="#4a4a90" stroke-width="0.38" stroke-linecap="round"/><line x1="22.02" y1="336.46" x2="19" y2="334" stroke="#505aa0" stroke-width="0.33" stroke-linecap="round"/><line x1="24.5" y1="334" x2="26.93" y2="332.09" stroke="#4a4a90" stroke-width="0.38" stroke-linecap="round"/><line x1="26.93" y1="332.09" x2="30.5" y2="329" stroke="#505aa0" stroke-width="0.33" stroke-linecap="round"/><line x1="24.5" y1="340" x2="28.37" y2="338.02" stroke="#4a4a90" stroke-width="0.38" stroke-linecap="round"/><line x1="28.37" y1="338.02" x2="31" y2="336" stroke="#505aa0" stroke-width="0.33" stroke-linecap="round"/><line x1="24.5" y1="331" x2="22.26" y2="327.97" stroke="#4a4a90" stroke-width="0.38" stroke-linecap="round"/><line x1="22.26" y1="327.97" x2="20" y2="326" stroke="#505aa0" stroke-width="0.33" stroke-linecap="round"/><line x1="24.5" y1="330" x2="25.51" y2="327.24" stroke="#4a4a90" stroke-width="0.38" stroke-linecap="round"/><line x1="25.51" y1="327.24" x2="28.5" y2="325" stroke="#505aa0" stroke-width="0.33" stroke-linecap="round"/><line x1="24.5" y1="340" x2="21.42" y2="338.14" stroke="#4a4a90" stroke-width="0.38" stroke-linecap="round"/><line x1="21.42" y1="338.14" x2="18" y2="338" stroke="#505aa0" stroke-width="0.33" stroke-linecap="round"/><line x1="24.5" y1="340" x2="28.84" y2="339.96" stroke="#4a4a90" stroke-width="0.38" stroke-linecap="round"/><line x1="28.84" y1="339.96" x2="32" y2="341" stroke="#505aa0" stroke-width="0.33" stroke-linecap="round"/><line x1="25.59" y1="340.85" x2="26.91" y2="342.34" stroke="#3c3a80" stroke-width="0.36" stroke-linecap="round"/><line x1="26.91" y1="342.34" x2="27.6" y2="344.13" stroke="#2e2a60" stroke-width="0.36" stroke-linecap="round"/><line x1="27.6" y1="344.13" x2="28.08" y2="345.98" stroke="#4a3c84" stroke-width="0.36" stroke-linecap="round"/><line x1="25.45" y1="339.06" x2="23.7" y2="342.02" stroke="#3a2c6e" stroke-width="0.36" stroke-linecap="round"/><line x1="23.7" y1="342.02" x2="21.29" y2="344.58" stroke="#4a3c84" stroke-width="0.36" stroke-linecap="round"/><line x1="21.29" y1="344.58" x2="20.07" y2="347.75" stroke="#46357a" stroke-width="0.36" stroke-linecap="round"/><line x1="24.36" y1="339.47" x2="23.98" y2="342.07" stroke="#46357a" stroke-width="0.36" stroke-linecap="round"/><line x1="23.98" y1="342.07" x2="24.81" y2="344.58" stroke="#46357a" stroke-width="0.36" stroke-linecap="round"/><line x1="24.81" y1="344.58" x2="24.68" y2="347.21" stroke="#2e2a60" stroke-width="0.36" stroke-linecap="round"/><line x1="24.54" y1="340.4" x2="22.48" y2="341.06" stroke="#2e2a60" stroke-width="0.36" stroke-linecap="round"/><line x1="22.48" y1="341.06" x2="20.5" y2="341.9" stroke="#4a3c84" stroke-width="0.36" stroke-linecap="round"/><line x1="20.5" y1="341.9" x2="18.68" y2="342.99" stroke="#3c3a80" stroke-width="0.36" stroke-linecap="round"/><line x1="24.13" y1="341.49" x2="25.19" y2="344.21" stroke="#4a3c84" stroke-width="0.36" stroke-linecap="round"/><line x1="25.19" y1="344.21" x2="26.56" y2="346.81" stroke="#3a2c6e" stroke-width="0.36" stroke-linecap="round"/><line x1="26.56" y1="346.81" x2="29" y2="348.68" stroke="#4a3c84" stroke-width="0.36" stroke-linecap="round"/><line x1="24.45" y1="340.43" x2="27.63" y2="341.95" stroke="#46357a" stroke-width="0.36" stroke-linecap="round"/><line x1="27.63" y1="341.95" x2="31.03" y2="342.99" stroke="#3c3a80" stroke-width="0.36" stroke-linecap="round"/><line x1="31.03" y1="342.99" x2="33.5" y2="345.22" stroke="#3c3a80" stroke-width="0.36" stroke-linecap="round"/><line x1="23.94" y1="339.26" x2="25.29" y2="342.25" stroke="#3c3a80" stroke-width="0.36" stroke-linecap="round"/><line x1="25.29" y1="342.25" x2="27.8" y2="344.56" stroke="#46357a" stroke-width="0.36" stroke-linecap="round"/><line x1="27.8" y1="344.56" x2="29.51" y2="347.41" stroke="#3a2c6e" stroke-width="0.36" stroke-linecap="round"/><line x1="25.5" y1="340.02" x2="23.62" y2="343.59" stroke="#3c3a80" stroke-width="0.36" stroke-linecap="round"/><line x1="23.62" y1="343.59" x2="20.22" y2="346.11" stroke="#4a3c84" stroke-width="0.36" stroke-linecap="round"/><line x1="20.22" y1="346.11" x2="16.5" y2="347.18" stroke="#2e2a60" stroke-width="0.36" stroke-linecap="round"/><line x1="25.3" y1="339.41" x2="26.12" y2="341.68" stroke="#4a3c84" stroke-width="0.36" stroke-linecap="round"/><line x1="26.12" y1="341.68" x2="27.83" y2="343.51" stroke="#3a2c6e" stroke-width="0.36" stroke-linecap="round"/><line x1="27.83" y1="343.51" x2="28.93" y2="345.69" stroke="#3c3a80" stroke-width="0.36" stroke-linecap="round"/><line x1="23.9" y1="340.05" x2="26.32" y2="341.09" stroke="#46357a" stroke-width="0.36" stroke-linecap="round"/><line x1="26.32" y1="341.09" x2="28.98" y2="341.45" stroke="#46357a" stroke-width="0.36" stroke-linecap="round"/><line x1="28.98" y1="341.45" x2="31.59" y2="340.88" stroke="#4a3c84" stroke-width="0.36" stroke-linecap="round"/><line x1="24.76" y1="341.28" x2="26.91" y2="342.18" stroke="#3c3a80" stroke-width="0.36" stroke-linecap="round"/><line x1="26.91" y1="342.18" x2="29.08" y2="343.05" stroke="#46357a" stroke-width="0.36" stroke-linecap="round"/><line x1="29.08" y1="343.05" x2="30.68" y2="344.63" stroke="#3c3a80" stroke-width="0.36" stroke-linecap="round"/><line x1="24.59" y1="341.12" x2="23.8" y2="343.85" stroke="#3a2c6e" stroke-width="0.36" stroke-linecap="round"/><line x1="23.8" y1="343.85" x2="23.55" y2="346.67" stroke="#4a3c84" stroke-width="0.36" stroke-linecap="round"/><line x1="23.55" y1="346.67" x2="23.19" y2="349.47" stroke="#46357a" stroke-width="0.36" stroke-linecap="round"/><line x1="24.62" y1="340.61" x2="22.75" y2="341.38" stroke="#4a3c84" stroke-width="0.36" stroke-linecap="round"/><line x1="22.75" y1="341.38" x2="20.7" y2="341.59" stroke="#46357a" stroke-width="0.36" stroke-linecap="round"/><line x1="20.7" y1="341.59" x2="18.64" y2="341.66" stroke="#46357a" stroke-width="0.36" stroke-linecap="round"/><line x1="23.65" y1="340.6" x2="26.04" y2="342.32" stroke="#3c3a80" stroke-width="0.36" stroke-linecap="round"/><line x1="26.04" y1="342.32" x2="27.88" y2="344.52" stroke="#46357a" stroke-width="0.36" stroke-linecap="round"/><line x1="27.88" y1="344.52" x2="30.49" y2="345.94" stroke="#3c3a80" stroke-width="0.36" stroke-linecap="round"/><line x1="24.39" y1="339.55" x2="24.11" y2="342.12" stroke="#2e2a60" stroke-width="0.36" stroke-linecap="round"/><line x1="24.11" y1="342.12" x2="24.69" y2="344.64" stroke="#3a2c6e" stroke-width="0.36" stroke-linecap="round"/><line x1="24.69" y1="344.64" x2="26.03" y2="346.92" stroke="#2e2a60" stroke-width="0.36" stroke-linecap="round"/><line x1="25.06" y1="340.98" x2="22.87" y2="344.34" stroke="#2e2a60" stroke-width="0.36" stroke-linecap="round"/><line x1="22.87" y1="344.34" x2="22.49" y2="348.22" stroke="#46357a" stroke-width="0.36" stroke-linecap="round"/><line x1="22.49" y1="348.22" x2="22.26" y2="352.11" stroke="#46357a" stroke-width="0.36" stroke-linecap="round"/><line x1="23.95" y1="339.1" x2="26.2" y2="341.93" stroke="#3c3a80" stroke-width="0.36" stroke-linecap="round"/><line x1="26.2" y1="341.93" x2="28.74" y2="344.54" stroke="#2e2a60" stroke-width="0.36" stroke-linecap="round"/><line x1="28.74" y1="344.54" x2="31.75" y2="346.72" stroke="#2e2a60" stroke-width="0.36" stroke-linecap="round"/><line x1="24.51" y1="339.15" x2="24.6" y2="342.32" stroke="#3c3a80" stroke-width="0.36" stroke-linecap="round"/><line x1="24.6" y1="342.32" x2="24.38" y2="345.49" stroke="#2e2a60" stroke-width="0.36" stroke-linecap="round"/><line x1="24.38" y1="345.49" x2="24.73" y2="348.65" stroke="#2e2a60" stroke-width="0.36" stroke-linecap="round"/><line x1="24.68" y1="339.81" x2="23.17" y2="341.61" stroke="#4a3c84" stroke-width="0.36" stroke-linecap="round"/><line x1="23.17" y1="341.61" x2="22.24" y2="343.71" stroke="#3a2c6e" stroke-width="0.36" stroke-linecap="round"/><line x1="22.24" y1="343.71" x2="22.27" y2="345.96" stroke="#3a2c6e" stroke-width="0.36" stroke-linecap="round"/><line x1="25.14" y1="341.44" x2="23.77" y2="344.51" stroke="#4a3c84" stroke-width="0.36" stroke-linecap="round"/><line x1="23.77" y1="344.51" x2="22.39" y2="347.57" stroke="#4a3c84" stroke-width="0.36" stroke-linecap="round"/><line x1="22.39" y1="347.57" x2="19.79" y2="349.9" stroke="#2e2a60" stroke-width="0.36" stroke-linecap="round"/><line x1="23.37" y1="339.06" x2="23.23" y2="342.96" stroke="#2e2a60" stroke-width="0.36" stroke-linecap="round"/><line x1="23.23" y1="342.96" x2="22.46" y2="346.8" stroke="#4a3c84" stroke-width="0.36" stroke-linecap="round"/><line x1="22.46" y1="346.8" x2="23.47" y2="350.6" stroke="#4a3c84" stroke-width="0.36" stroke-linecap="round"/><line x1="24.12" y1="340.22" x2="24.42" y2="342.57" stroke="#4a3c84" stroke-width="0.36" stroke-linecap="round"/><line x1="24.42" y1="342.57" x2="24.39" y2="344.94" stroke="#46357a" stroke-width="0.36" stroke-linecap="round"/><line x1="24.39" y1="344.94" x2="23.31" y2="347.09" stroke="#4a3c84" stroke-width="0.36" stroke-linecap="round"/><ellipse cx="24.4" cy="340" rx="1.3" ry="1.7" fill="#3a2c6c" stroke="none" stroke-width="0.5" /><circle cx="20.8" cy="292.3" r="0.85" fill="#111" stroke="none" stroke-width="0.5" /><rect x="33.8" y="291.2" width="3.4" height="54.8" fill="url(#virg)" stroke="none" stroke-width="0.5" /><text x="38.6" y="296.6" font-size="2.79" text-anchor="start" font-weight="normal" fill="#333" textLength="6.2" lengthAdjust="spacingAndGlyphs" stroke="#333" stroke-width="0.03" style="">1200</text><text x="38.6" y="314.1" font-size="2.76" text-anchor="start" font-weight="normal" fill="#333" textLength="4.6" lengthAdjust="spacingAndGlyphs" stroke="#333" stroke-width="0.03" style="">800</text><text x="38.6" y="331.7" font-size="2.76" text-anchor="start" font-weight="normal" fill="#333" textLength="4.6" lengthAdjust="spacingAndGlyphs" stroke="#333" stroke-width="0.03" style="">400</text><text x="38.6" y="347.2" font-size="2.88" text-anchor="start" font-weight="normal" fill="#333" textLength="1.6" lengthAdjust="spacingAndGlyphs" stroke="#333" stroke-width="0.03" style="">0</text><text x="46.4" y="319.2" font-size="4.4" text-anchor="middle" font-weight="normal" fill="#222" transform="rotate(90 46.4 319.2)" textLength="51.7" lengthAdjust="spacingAndGlyphs" stroke="#222" stroke-width="0.04" style="">Distance to the soma (µm)</text><text x="59.4" y="295" font-size="3.68" text-anchor="middle" font-weight="normal" fill="#333" transform="rotate(-90 59.4 295)" textLength="8.6" lengthAdjust="spacingAndGlyphs" stroke="#333" stroke-width="0.03" style="">1 mV</text><line x1="60.6" y1="291.8" x2="60.6" y2="298.3" stroke="#333" stroke-width="0.45" /><polyline points="63.5,298.3 67.4,298.3 67.4,291.7 80.5,291.7 80.5,298.3 94.4,298.3 94.4,305.8 108.4,305.8 108.4,298.5 119.3,298.5" stroke="#f29a55" fill="none" stroke-width="0.85" stroke-linejoin="round" /><polyline points="63.5,327.2 67.4,327.2 67.4,301.2 80.5,301.2 80.5,327.2 94.4,327.2" stroke="#f4c080" fill="none" stroke-width="0.9" stroke-linejoin="round" /><polyline points="63.5,327.2 67.4,327.2 67.4,303.69 80.5,303.69 80.5,327.2 94.4,327.2" stroke="#b8e080" fill="none" stroke-width="0.9" stroke-linejoin="round" /><polyline points="63.5,327.2 67.4,327.2 67.4,306.18 80.5,306.18 80.5,327.2 94.4,327.2" stroke="#88d060" fill="none" stroke-width="0.9" stroke-linejoin="round" /><polyline points="63.5,327.2 67.4,327.2 67.4,308.66 80.5,308.66 80.5,327.2 94.4,327.2" stroke="#5cc060" fill="none" stroke-width="0.9" stroke-linejoin="round" /><polyline points="63.5,327.2 67.4,327.2 67.4,311.15 80.5,311.15 80.5,327.2 94.4,327.2" stroke="#44b080" fill="none" stroke-width="0.9" stroke-linejoin="round" /><polyline points="63.5,327.2 67.4,327.2 67.4,313.64 80.5,313.64 80.5,327.2 94.4,327.2" stroke="#2ea0a0" fill="none" stroke-width="0.9" stroke-linejoin="round" /><polyline points="63.5,327.2 67.4,327.2 67.4,316.12 80.5,316.12 80.5,327.2 94.4,327.2" stroke="#3a98b8" fill="none" stroke-width="0.9" stroke-linejoin="round" /><polyline points="63.5,327.2 67.4,327.2 67.4,318.61 80.5,318.61 80.5,327.2 94.4,327.2" stroke="#4a88c0" fill="none" stroke-width="0.9" stroke-linejoin="round" /><polyline points="63.5,327.2 67.4,327.2 67.4,321.1 80.5,321.1 80.5,327.2 94.4,327.2" stroke="#6080b8" fill="none" stroke-width="0.9" stroke-linejoin="round" /><polyline points="63.5,327.2 67.4,327.2 67.4,323.59 80.5,323.59 80.5,327.2 94.4,327.2" stroke="#6a70b8" fill="none" stroke-width="0.9" stroke-linejoin="round" /><polyline points="63.5,327.2 67.4,327.2 67.4,326.07 80.5,326.07 80.5,327.2 94.4,327.2" stroke="#4a4aa0" fill="none" stroke-width="0.9" stroke-linejoin="round" /><polyline points="63.5,327.2 67.4,327.2 67.4,328.56 80.5,328.56 80.5,327.2 94.4,327.2" stroke="#7a64b0" fill="none" stroke-width="0.9" stroke-linejoin="round" /><polyline points="63.5,327.2 67.4,327.2 67.4,331.05 80.5,331.05 80.5,327.2 94.4,327.2" stroke="#d04878" fill="none" stroke-width="0.9" stroke-linejoin="round" /><polyline points="63.5,327.2 67.4,327.2 67.4,333.54 80.5,333.54 80.5,327.2 94.4,327.2" stroke="#6a60b0" fill="none" stroke-width="0.9" stroke-linejoin="round" /><polyline points="63.5,327.2 67.4,327.2 67.4,336.02 80.5,336.02 80.5,327.2 94.4,327.2" stroke="#5a58b0" fill="none" stroke-width="0.9" stroke-linejoin="round" /><polyline points="63.5,327.2 67.4,327.2 67.4,338.51 80.5,338.51 80.5,327.2 94.4,327.2" stroke="#4a48a0" fill="none" stroke-width="0.9" stroke-linejoin="round" /><polyline points="63.5,327.2 67.4,327.2 67.4,341 80.5,341 80.5,327.2 94.4,327.2" stroke="#3c3a90" fill="none" stroke-width="0.9" stroke-linejoin="round" /><polyline points="80.5,326.5 94.8,326.5 94.8,312.8 108.4,312.8 108.4,326.5 119.3,326.5" stroke="#3e3c94" fill="none" stroke-width="0.9" stroke-linejoin="round" /><polyline points="80.5,326.5 94.8,326.5 94.8,315.28 108.4,315.28 108.4,326.5 119.3,326.5" stroke="#4a5ab0" fill="none" stroke-width="0.9" stroke-linejoin="round" /><polyline points="80.5,326.5 94.8,326.5 94.8,317.75 108.4,317.75 108.4,326.5 119.3,326.5" stroke="#7a64b0" fill="none" stroke-width="0.9" stroke-linejoin="round" /><polyline points="80.5,326.5 94.8,326.5 94.8,320.23 108.4,320.23 108.4,326.5 119.3,326.5" stroke="#d04878" fill="none" stroke-width="0.9" stroke-linejoin="round" /><polyline points="80.5,326.5 94.8,326.5 94.8,322.7 108.4,322.7 108.4,326.5 119.3,326.5" stroke="#4a80c0" fill="none" stroke-width="0.9" stroke-linejoin="round" /><polyline points="80.5,326.5 94.8,326.5 94.8,325.18 108.4,325.18 108.4,326.5 119.3,326.5" stroke="#6a6ab8" fill="none" stroke-width="0.9" stroke-linejoin="round" /><polyline points="80.5,326.5 94.8,326.5 94.8,327.65 108.4,327.65 108.4,326.5 119.3,326.5" stroke="#2e3e90" fill="none" stroke-width="0.9" stroke-linejoin="round" /><polyline points="80.5,326.5 94.8,326.5 94.8,330.12 108.4,330.12 108.4,326.5 119.3,326.5" stroke="#3a98b0" fill="none" stroke-width="0.9" stroke-linejoin="round" /><polyline points="80.5,326.5 94.8,326.5 94.8,332.6 108.4,332.6 108.4,326.5 119.3,326.5" stroke="#30a8a0" fill="none" stroke-width="0.9" stroke-linejoin="round" /><polyline points="80.5,326.5 94.8,326.5 94.8,335.07 108.4,335.07 108.4,326.5 119.3,326.5" stroke="#40b080" fill="none" stroke-width="0.9" stroke-linejoin="round" /><polyline points="80.5,326.5 94.8,326.5 94.8,337.55 108.4,337.55 108.4,326.5 119.3,326.5" stroke="#5cc060" fill="none" stroke-width="0.9" stroke-linejoin="round" /><polyline points="80.5,326.5 94.8,326.5 94.8,340.02 108.4,340.02 108.4,326.5 119.3,326.5" stroke="#80d068" fill="none" stroke-width="0.9" stroke-linejoin="round" /><polyline points="80.5,326.5 94.8,326.5 94.8,342.5 108.4,342.5 108.4,326.5 119.3,326.5" stroke="#60c060" fill="none" stroke-width="0.9" stroke-linejoin="round" /><polyline points="80.5,326.5 94.8,326.5 94.8,344.97 108.4,344.97 108.4,326.5 119.3,326.5" stroke="#a8d870" fill="none" stroke-width="0.9" stroke-linejoin="round" /><polyline points="80.5,326.5 94.8,326.5 94.8,347.45 108.4,347.45 108.4,326.5 119.3,326.5" stroke="#d0e070" fill="none" stroke-width="0.9" stroke-linejoin="round" /><polyline points="80.5,326.5 94.8,326.5 94.8,349.92 108.4,349.92 108.4,326.5 119.3,326.5" stroke="#f0d080" fill="none" stroke-width="0.9" stroke-linejoin="round" /><polyline points="80.5,326.5 94.8,326.5 94.8,352.4 108.4,352.4 108.4,326.5 119.3,326.5" stroke="#f4c080" fill="none" stroke-width="0.9" stroke-linejoin="round" /><line x1="63.5" y1="327.2" x2="94.4" y2="327.2" stroke="#b03a6a" stroke-width="0.75" stroke-dasharray="1 0.6"/><line x1="94.8" y1="326.5" x2="108.4" y2="326.5" stroke="#c03a6a" stroke-width="0.6" stroke-dasharray="1 0.6"/><line x1="108.4" y1="326.5" x2="119.3" y2="326.5" stroke="#6a2a50" stroke-width="0.75" /><line x1="80.5" y1="327" x2="94.4" y2="327" stroke="#7a2a50" stroke-width="0.6" /><polyline points="65.5,342 65.5,349.6 69.5,349.6" stroke="#222" fill="none" stroke-width="0.6" stroke-linejoin="round" /><text x="62.6" y="344" font-size="3.36" text-anchor="middle" font-weight="normal" fill="#333" transform="rotate(-90 62.6 344)" textLength="9.7" lengthAdjust="spacingAndGlyphs" stroke="#333" stroke-width="0.03" style="">0.2 nA</text><text x="69.6" y="353.3" font-size="3.32" text-anchor="middle" font-weight="normal" fill="#333" textLength="10.9" lengthAdjust="spacingAndGlyphs" stroke="#333" stroke-width="0.03" style="">200 ms</text><text x="131.8" y="282.6" font-size="7" text-anchor="start" font-weight="bold" fill="#111" stroke="#111" stroke-width="0.2" style="">G</text><g clip-path="url(#gclip)"><polygon points="152.4,336.81 152.84,336.81 153.27,336.81 153.71,336.81 154.14,336.81 154.58,336.81 155.01,336.81 155.44,336.81 155.88,336.81 156.31,336.81 156.75,336.81 157.19,336.81 157.62,336.81 158.06,336.81 158.49,336.81 158.93,336.81 159.36,336.81 159.8,336.81 160.23,336.81 160.66,336.81 161.1,336.81 161.53,336.81 161.97,336.81 162.41,336.81 162.84,336.81 163.28,336.81 163.71,336.81 164.15,336.81 164.58,336.81 165.02,336.81 165.45,336.81 165.88,336.81 166.32,336.81 166.75,336.81 167.19,336.81 167.62,336.81 168.06,336.81 168.5,336.81 168.93,336.81 169.37,336.68 169.8,336.28 170.24,335.87 170.67,335.46 171.1,335.05 171.54,334.65 171.97,334.24 172.41,333.83 172.84,333.42 173.28,333.02 173.72,332.61 174.15,332.2 174.59,331.79 175.02,331.38 175.45,330.97 175.89,330.56 176.32,330.14 176.76,329.7 177.19,329.25 177.63,328.74 178.06,328.16 178.5,327.45 178.94,326.54 179.37,325.35 179.81,323.78 180.24,321.71 180.68,319.06 181.11,315.75 181.55,311.82 181.98,308.05 182.41,304.67 182.85,301.3 183.28,298.31 183.72,296.11 184.16,295.06 184.59,295.38 185.03,297.16 185.46,300.3 185.9,304.54 186.33,309.54 186.76,314.89 187.2,319.72 187.63,323.73 188.07,327.2 188.5,330.03 188.94,332.22 189.38,333.82 189.81,334.94 190.25,335.69 190.68,336.16 191.12,336.45 191.55,336.62 191.98,336.71 192.42,336.76 192.85,336.78 193.29,336.8 193.72,336.8 194.16,336.8 194.59,336.8 195.03,336.81 195.47,336.81 195.9,336.81 196.33,336.81 196.77,336.81 197.2,336.81 197.64,336.81 198.07,336.81 198.51,336.81 198.94,336.81 199.38,336.81 199.81,336.81 200.25,336.81 200.69,336.81 201.12,336.81 201.56,336.81 201.99,336.81 202.43,336.81 202.86,336.81 203.29,336.81 203.73,336.81 204.16,336.81 204.6,336.81 204.6,340.66 204.16,340.66 203.73,340.66 203.29,340.66 202.86,340.66 202.43,340.66 201.99,340.66 201.56,340.66 201.12,340.66 200.69,340.66 200.25,340.66 199.81,340.66 199.38,340.66 198.94,340.66 198.51,340.66 198.07,340.66 197.64,340.66 197.2,340.66 196.77,340.66 196.33,340.66 195.9,340.66 195.47,340.66 195.03,340.66 194.59,340.66 194.16,340.66 193.72,340.66 193.29,340.66 192.85,340.66 192.42,340.66 191.98,340.66 191.55,340.66 191.12,340.66 190.68,340.65 190.25,340.62 189.81,340.58 189.38,340.48 188.94,340.3 188.5,339.98 188.07,339.47 187.63,338.7 187.2,337.64 186.76,336.17 186.33,334.38 185.9,332.55 185.46,330.92 185.03,329.7 184.59,329.07 184.16,329.08 183.72,329.69 183.28,330.73 182.85,331.98 182.41,333.23 181.98,334.31 181.55,335.31 181.11,336.22 180.68,336.88 180.24,337.33 179.81,337.64 179.37,337.86 178.94,338.02 178.5,338.16 178.06,338.29 177.63,338.41 177.19,338.53 176.76,338.65 176.32,338.76 175.89,338.88 175.45,339 175.02,339.11 174.59,339.23 174.15,339.35 173.72,339.46 173.28,339.58 172.84,339.7 172.41,339.81 171.97,339.93 171.54,340.04 171.1,340.16 170.67,340.28 170.24,340.39 169.8,340.51 169.37,340.63 168.93,340.66 168.5,340.66 168.06,340.66 167.62,340.66 167.19,340.66 166.75,340.66 166.32,340.66 165.88,340.66 165.45,340.66 165.02,340.66 164.58,340.66 164.15,340.66 163.71,340.66 163.28,340.66 162.84,340.66 162.41,340.66 161.97,340.66 161.53,340.66 161.1,340.66 160.66,340.66 160.23,340.66 159.8,340.66 159.36,340.66 158.93,340.66 158.49,340.66 158.06,340.66 157.62,340.66 157.19,340.66 156.75,340.66 156.31,340.66 155.88,340.66 155.44,340.66 155.01,340.66 154.58,340.66 154.14,340.66 153.71,340.66 153.27,340.66 152.84,340.66 152.4,340.66" fill="#f7cdd3" stroke="none" stroke-width="0.5" opacity="0.95"/><polygon points="152.4,337.48 152.84,337.48 153.27,337.48 153.71,337.48 154.14,337.48 154.58,337.48 155.01,337.48 155.44,337.48 155.88,337.48 156.31,337.48 156.75,337.48 157.19,337.48 157.62,337.48 158.06,337.48 158.49,337.48 158.93,337.48 159.36,337.48 159.8,337.48 160.23,337.48 160.66,337.48 161.1,337.48 161.53,337.48 161.97,337.48 162.41,337.48 162.84,337.48 163.28,337.48 163.71,337.48 164.15,337.48 164.58,337.48 165.02,337.48 165.45,337.48 165.88,337.48 166.32,337.48 166.75,337.48 167.19,337.48 167.62,337.48 168.06,337.48 168.5,337.48 168.93,337.48 169.37,337.34 169.8,336.88 170.24,336.43 170.67,335.97 171.1,335.52 171.54,335.06 171.97,334.61 172.41,334.16 172.84,333.7 173.28,333.25 173.72,332.79 174.15,332.34 174.59,331.88 175.02,331.43 175.45,330.97 175.89,330.52 176.32,330.06 176.76,329.6 177.19,329.14 177.63,328.67 178.06,328.19 178.5,327.68 178.94,327.11 179.37,326.46 179.81,325.69 180.24,324.71 180.68,324.36 181.11,324.57 181.55,324.42 181.98,323.91 182.41,323.12 182.85,322.18 183.28,321.3 183.72,320.72 184.16,320.69 184.59,320.74 185.03,320.94 185.46,321.93 185.9,323.57 186.33,325.63 186.76,327.87 187.2,330.06 187.63,332.03 188.07,333.67 188.5,334.94 188.94,335.87 189.38,336.51 189.81,336.92 190.25,337.17 190.68,337.32 191.12,337.4 191.55,337.44 191.98,337.46 192.42,337.47 192.85,337.47 193.29,337.47 193.72,337.48 194.16,337.48 194.59,337.48 195.03,337.48 195.47,337.48 195.9,337.48 196.33,337.48 196.77,337.48 197.2,337.48 197.64,337.48 198.07,337.48 198.51,337.48 198.94,337.48 199.38,337.48 199.81,337.48 200.25,337.48 200.69,337.48 201.12,337.48 201.56,337.48 201.99,337.48 202.43,337.48 202.86,337.48 203.29,337.48 203.73,337.48 204.16,337.48 204.6,337.48 204.6,339.99 204.16,339.99 203.73,339.99 203.29,339.99 202.86,339.99 202.43,339.99 201.99,339.99 201.56,339.99 201.12,339.99 200.69,339.99 200.25,339.99 199.81,339.99 199.38,339.99 198.94,339.99 198.51,339.99 198.07,339.99 197.64,339.99 197.2,339.99 196.77,339.99 196.33,339.99 195.9,339.99 195.47,339.99 195.03,339.99 194.59,339.99 194.16,339.99 193.72,339.99 193.29,339.99 192.85,339.99 192.42,339.99 191.98,339.99 191.55,339.99 191.12,339.99 190.68,339.98 190.25,339.98 189.81,339.95 189.38,339.91 188.94,339.82 188.5,339.66 188.07,339.4 187.63,339 187.2,338.44 186.76,337.6 186.33,336.52 185.9,335.45 185.46,334.5 185.03,333.8 184.59,333.44 184.16,333.42 183.72,333.69 183.28,334.16 182.85,334.69 182.41,335.17 181.98,335.52 181.55,335.92 181.11,336.37 180.68,336.69 180.24,336.93 179.81,337.11 179.37,337.25 178.94,337.38 178.5,337.51 178.06,337.63 177.63,337.74 177.19,337.86 176.76,337.98 176.32,338.09 175.89,338.21 175.45,338.33 175.02,338.44 174.59,338.56 174.15,338.68 173.72,338.79 173.28,338.91 172.84,339.02 172.41,339.14 171.97,339.26 171.54,339.37 171.1,339.49 170.67,339.61 170.24,339.72 169.8,339.84 169.37,339.96 168.93,339.99 168.5,339.99 168.06,339.99 167.62,339.99 167.19,339.99 166.75,339.99 166.32,339.99 165.88,339.99 165.45,339.99 165.02,339.99 164.58,339.99 164.15,339.99 163.71,339.99 163.28,339.99 162.84,339.99 162.41,339.99 161.97,339.99 161.53,339.99 161.1,339.99 160.66,339.99 160.23,339.99 159.8,339.99 159.36,339.99 158.93,339.99 158.49,339.99 158.06,339.99 157.62,339.99 157.19,339.99 156.75,339.99 156.31,339.99 155.88,339.99 155.44,339.99 155.01,339.99 154.58,339.99 154.14,339.99 153.71,339.99 153.27,339.99 152.84,339.99 152.4,339.99" fill="#d6d0ea" stroke="none" stroke-width="0.5" opacity="0.75"/><path d="M152.4,338.82 C152.47,338.82 152.69,338.82 152.84,338.82 C152.98,338.82 153.12,338.82 153.27,338.82 C153.42,338.82 153.56,338.82 153.71,338.82 C153.85,338.82 154,338.82 154.14,338.82 C154.29,338.82 154.43,338.82 154.58,338.82 C154.72,338.82 154.87,338.82 155.01,338.82 C155.15,338.82 155.3,338.82 155.44,338.82 C155.59,338.82 155.73,338.82 155.88,338.82 C156.03,338.82 156.17,338.82 156.31,338.82 C156.46,338.82 156.6,338.82 156.75,338.82 C156.9,338.82 157.04,338.82 157.19,338.82 C157.33,338.82 157.47,338.82 157.62,338.82 C157.77,338.82 157.91,338.82 158.06,338.82 C158.2,338.82 158.34,338.82 158.49,338.82 C158.64,338.82 158.78,338.82 158.93,338.82 C159.07,338.82 159.22,338.82 159.36,338.82 C159.51,338.82 159.65,338.82 159.8,338.82 C159.94,338.82 160.08,338.82 160.23,338.82 C160.38,338.82 160.52,338.82 160.66,338.82 C160.81,338.82 160.95,338.82 161.1,338.82 C161.25,338.82 161.39,338.82 161.53,338.82 C161.68,338.82 161.82,338.82 161.97,338.82 C162.12,338.82 162.26,338.82 162.41,338.82 C162.55,338.82 162.69,338.82 162.84,338.82 C162.99,338.82 163.13,338.82 163.28,338.82 C163.42,338.82 163.56,338.82 163.71,338.82 C163.86,338.82 164,338.82 164.15,338.82 C164.29,338.82 164.44,338.82 164.58,338.82 C164.73,338.82 164.87,338.82 165.02,338.82 C165.16,338.82 165.31,338.82 165.45,338.82 C165.59,338.82 165.74,338.82 165.88,338.82 C166.03,338.82 166.17,338.82 166.32,338.82 C166.47,338.82 166.61,338.82 166.75,338.82 C166.9,338.82 167.04,338.82 167.19,338.82 C167.34,338.82 167.48,338.82 167.62,338.82 C167.77,338.82 167.91,338.82 168.06,338.82 C168.21,338.82 168.35,338.82 168.5,338.82 C168.64,338.82 168.78,338.83 168.93,338.82 C169.08,338.8 169.22,338.8 169.37,338.74 C169.51,338.68 169.66,338.56 169.8,338.48 C169.95,338.39 170.09,338.3 170.24,338.21 C170.38,338.13 170.53,338.04 170.67,337.95 C170.81,337.87 170.96,337.78 171.1,337.69 C171.25,337.6 171.39,337.52 171.54,337.43 C171.69,337.34 171.83,337.25 171.97,337.17 C172.12,337.08 172.26,336.99 172.41,336.9 C172.56,336.82 172.7,336.73 172.84,336.64 C172.99,336.56 173.13,336.47 173.28,336.38 C173.43,336.29 173.57,336.21 173.72,336.12 C173.86,336.03 174,335.94 174.15,335.86 C174.3,335.77 174.44,335.68 174.59,335.59 C174.73,335.51 174.88,335.42 175.02,335.33 C175.17,335.25 175.31,335.16 175.45,335.07 C175.6,334.98 175.74,334.9 175.89,334.81 C176.03,334.72 176.18,334.63 176.32,334.55 C176.47,334.46 176.61,334.37 176.76,334.28 C176.91,334.19 177.05,334.1 177.19,334.01 C177.34,333.92 177.48,333.83 177.63,333.73 C177.78,333.63 177.92,333.54 178.06,333.43 C178.21,333.32 178.35,333.22 178.5,333.09 C178.65,332.96 178.79,332.84 178.94,332.68 C179.08,332.52 179.22,332.35 179.37,332.14 C179.52,331.92 179.66,331.69 179.81,331.39 C179.95,331.1 180.09,330.77 180.24,330.35 C180.39,329.94 180.53,329.47 180.68,328.9 C180.82,328.33 180.97,327.68 181.11,326.93 C181.26,326.18 181.4,325.25 181.55,324.38 C181.69,323.52 181.83,322.61 181.98,321.72 C182.12,320.83 182.27,319.97 182.41,319.05 C182.56,318.13 182.7,317.12 182.85,316.19 C183,315.26 183.14,314.3 183.28,313.49 C183.43,312.68 183.57,311.91 183.72,311.36 C183.87,310.8 184.01,310.36 184.16,310.17 C184.3,309.98 184.44,309.98 184.59,310.21 C184.74,310.44 184.88,310.91 185.03,311.56 C185.17,312.21 185.31,313.11 185.46,314.11 C185.6,315.11 185.75,316.33 185.9,317.58 C186.04,318.82 186.19,320.22 186.33,321.57 C186.47,322.92 186.62,324.4 186.76,325.68 C186.91,326.96 187.05,328.19 187.2,329.26 C187.34,330.32 187.49,331.22 187.63,332.05 C187.78,332.89 187.92,333.63 188.07,334.28 C188.22,334.92 188.36,335.46 188.5,335.93 C188.65,336.39 188.79,336.76 188.94,337.07 C189.09,337.39 189.23,337.62 189.38,337.82 C189.52,338.02 189.66,338.16 189.81,338.28 C189.96,338.39 190.1,338.47 190.25,338.54 C190.39,338.61 190.53,338.64 190.68,338.68 C190.83,338.72 190.97,338.74 191.12,338.75 C191.26,338.77 191.41,338.78 191.55,338.79 C191.69,338.8 191.84,338.8 191.98,338.81 C192.13,338.81 192.28,338.81 192.42,338.81 C192.57,338.81 192.71,338.81 192.85,338.82 C193,338.82 193.14,338.82 193.29,338.82 C193.44,338.82 193.58,338.82 193.72,338.82 C193.87,338.82 194.01,338.82 194.16,338.82 C194.31,338.82 194.45,338.82 194.59,338.82 C194.74,338.82 194.88,338.82 195.03,338.82 C195.18,338.82 195.32,338.82 195.47,338.82 C195.61,338.82 195.75,338.82 195.9,338.82 C196.05,338.82 196.19,338.82 196.33,338.82 C196.48,338.82 196.62,338.82 196.77,338.82 C196.91,338.82 197.06,338.82 197.2,338.82 C197.35,338.82 197.49,338.82 197.64,338.82 C197.78,338.82 197.93,338.82 198.07,338.82 C198.22,338.82 198.36,338.82 198.51,338.82 C198.66,338.82 198.8,338.82 198.94,338.82 C199.09,338.82 199.23,338.82 199.38,338.82 C199.53,338.82 199.67,338.82 199.81,338.82 C199.96,338.82 200.1,338.82 200.25,338.82 C200.4,338.82 200.54,338.82 200.69,338.82 C200.83,338.82 200.97,338.82 201.12,338.82 C201.27,338.82 201.41,338.82 201.56,338.82 C201.7,338.82 201.84,338.82 201.99,338.82 C202.14,338.82 202.28,338.82 202.43,338.82 C202.57,338.82 202.71,338.82 202.86,338.82 C203,338.82 203.15,338.82 203.29,338.82 C203.44,338.82 203.58,338.82 203.73,338.82 C203.88,338.82 204.02,338.82 204.16,338.82 C204.31,338.82 204.53,338.82 204.6,338.82" stroke="#f4b8c0" fill="none" stroke-width="3.4" opacity="0.85"/><path d="M152.4,338.15 C152.47,338.15 152.69,338.15 152.84,338.15 C152.98,338.15 153.12,338.15 153.27,338.15 C153.42,338.15 153.56,338.15 153.71,338.15 C153.85,338.15 154,338.15 154.14,338.15 C154.29,338.15 154.43,338.15 154.58,338.15 C154.72,338.15 154.87,338.15 155.01,338.15 C155.15,338.15 155.3,338.15 155.44,338.15 C155.59,338.15 155.73,338.15 155.88,338.15 C156.03,338.15 156.17,338.15 156.31,338.15 C156.46,338.15 156.6,338.15 156.75,338.15 C156.9,338.15 157.04,338.15 157.19,338.15 C157.33,338.15 157.47,338.15 157.62,338.15 C157.77,338.15 157.91,338.15 158.06,338.15 C158.2,338.15 158.34,338.15 158.49,338.15 C158.64,338.15 158.78,338.15 158.93,338.15 C159.07,338.15 159.22,338.15 159.36,338.15 C159.51,338.15 159.65,338.15 159.8,338.15 C159.94,338.15 160.08,338.15 160.23,338.15 C160.38,338.15 160.52,338.15 160.66,338.15 C160.81,338.15 160.95,338.15 161.1,338.15 C161.25,338.15 161.39,338.15 161.53,338.15 C161.68,338.15 161.82,338.15 161.97,338.15 C162.12,338.15 162.26,338.15 162.41,338.15 C162.55,338.15 162.69,338.15 162.84,338.15 C162.99,338.15 163.13,338.15 163.28,338.15 C163.42,338.15 163.56,338.15 163.71,338.15 C163.86,338.15 164,338.15 164.15,338.15 C164.29,338.15 164.44,338.15 164.58,338.15 C164.73,338.15 164.87,338.15 165.02,338.15 C165.16,338.15 165.31,338.15 165.45,338.15 C165.59,338.15 165.74,338.15 165.88,338.15 C166.03,338.15 166.17,338.15 166.32,338.15 C166.47,338.15 166.61,338.15 166.75,338.15 C166.9,338.15 167.04,338.15 167.19,338.15 C167.34,338.15 167.48,338.15 167.62,338.15 C167.77,338.15 167.91,338.15 168.06,338.15 C168.21,338.15 168.35,338.15 168.5,338.15 C168.64,338.15 168.78,338.17 168.93,338.15 C169.08,338.13 169.22,338.11 169.37,338.03 C169.51,337.94 169.66,337.76 169.8,337.63 C169.95,337.49 170.09,337.36 170.24,337.23 C170.38,337.1 170.53,336.96 170.67,336.83 C170.81,336.7 170.96,336.56 171.1,336.43 C171.25,336.3 171.39,336.16 171.54,336.03 C171.69,335.9 171.83,335.76 171.97,335.63 C172.12,335.5 172.26,335.37 172.41,335.23 C172.56,335.1 172.7,334.97 172.84,334.83 C172.99,334.7 173.13,334.57 173.28,334.43 C173.43,334.3 173.57,334.17 173.72,334.03 C173.86,333.9 174,333.77 174.15,333.64 C174.3,333.5 174.44,333.37 174.59,333.24 C174.73,333.1 174.88,332.97 175.02,332.84 C175.17,332.7 175.31,332.57 175.45,332.44 C175.6,332.3 175.74,332.17 175.89,332.04 C176.03,331.9 176.18,331.77 176.32,331.64 C176.47,331.5 176.61,331.37 176.76,331.24 C176.91,331.1 177.05,330.97 177.19,330.83 C177.34,330.7 177.48,330.56 177.63,330.42 C177.78,330.28 177.92,330.14 178.06,330 C178.21,329.85 178.35,329.71 178.5,329.55 C178.65,329.4 178.79,329.24 178.94,329.07 C179.08,328.9 179.22,328.72 179.37,328.53 C179.52,328.33 179.66,328.13 179.81,327.89 C179.95,327.66 180.09,327.42 180.24,327.14 C180.39,326.87 180.53,326.57 180.68,326.24 C180.82,325.91 180.97,325.28 181.11,325.16 C181.26,325.04 181.4,325.42 181.55,325.51 C181.69,325.6 181.83,325.65 181.98,325.7 C182.12,325.75 182.27,325.76 182.41,325.8 C182.56,325.83 182.7,325.84 182.85,325.9 C183,325.95 183.14,326 183.28,326.12 C183.43,326.23 183.57,326.37 183.72,326.58 C183.87,326.8 184.01,327.06 184.16,327.39 C184.3,327.73 184.44,328.13 184.59,328.6 C184.74,329.07 184.88,329.82 185.03,330.22 C185.17,330.61 185.31,330.67 185.46,330.96 C185.6,331.25 185.75,331.6 185.9,331.95 C186.04,332.3 186.19,332.69 186.33,333.06 C186.47,333.43 186.62,333.82 186.76,334.17 C186.91,334.53 187.05,334.88 187.2,335.19 C187.34,335.51 187.49,335.8 187.63,336.06 C187.78,336.31 187.92,336.54 188.07,336.74 C188.22,336.94 188.36,337.1 188.5,337.24 C188.65,337.39 188.79,337.5 188.94,337.6 C189.09,337.69 189.23,337.76 189.38,337.83 C189.52,337.89 189.66,337.93 189.81,337.97 C189.96,338.01 190.1,338.03 190.25,338.05 C190.39,338.08 190.53,338.09 190.68,338.1 C190.83,338.11 190.97,338.12 191.12,338.12 C191.26,338.13 191.41,338.13 191.55,338.14 C191.69,338.14 191.84,338.14 191.98,338.14 C192.13,338.14 192.28,338.14 192.42,338.14 C192.57,338.15 192.71,338.15 192.85,338.15 C193,338.15 193.14,338.15 193.29,338.15 C193.44,338.15 193.58,338.15 193.72,338.15 C193.87,338.15 194.01,338.15 194.16,338.15 C194.31,338.15 194.45,338.15 194.59,338.15 C194.74,338.15 194.88,338.15 195.03,338.15 C195.18,338.15 195.32,338.15 195.47,338.15 C195.61,338.15 195.75,338.15 195.9,338.15 C196.05,338.15 196.19,338.15 196.33,338.15 C196.48,338.15 196.62,338.15 196.77,338.15 C196.91,338.15 197.06,338.15 197.2,338.15 C197.35,338.15 197.49,338.15 197.64,338.15 C197.78,338.15 197.93,338.15 198.07,338.15 C198.22,338.15 198.36,338.15 198.51,338.15 C198.66,338.15 198.8,338.15 198.94,338.15 C199.09,338.15 199.23,338.15 199.38,338.15 C199.53,338.15 199.67,338.15 199.81,338.15 C199.96,338.15 200.1,338.15 200.25,338.15 C200.4,338.15 200.54,338.15 200.69,338.15 C200.83,338.15 200.97,338.15 201.12,338.15 C201.27,338.15 201.41,338.15 201.56,338.15 C201.7,338.15 201.84,338.15 201.99,338.15 C202.14,338.15 202.28,338.15 202.43,338.15 C202.57,338.15 202.71,338.15 202.86,338.15 C203,338.15 203.15,338.15 203.29,338.15 C203.44,338.15 203.58,338.15 203.73,338.15 C203.88,338.15 204.02,338.15 204.16,338.15 C204.31,338.15 204.53,338.15 204.6,338.15" stroke="#f0a080" fill="none" stroke-width="0.4" /><path d="M152.4,338.82 C152.47,338.82 152.69,338.82 152.84,338.82 C152.98,338.82 153.12,338.82 153.27,338.82 C153.42,338.82 153.56,338.82 153.71,338.82 C153.85,338.82 154,338.82 154.14,338.82 C154.29,338.82 154.43,338.82 154.58,338.82 C154.72,338.82 154.87,338.82 155.01,338.82 C155.15,338.82 155.3,338.82 155.44,338.82 C155.59,338.82 155.73,338.82 155.88,338.82 C156.03,338.82 156.17,338.82 156.31,338.82 C156.46,338.82 156.6,338.82 156.75,338.82 C156.9,338.82 157.04,338.82 157.19,338.82 C157.33,338.82 157.47,338.82 157.62,338.82 C157.77,338.82 157.91,338.82 158.06,338.82 C158.2,338.82 158.34,338.82 158.49,338.82 C158.64,338.82 158.78,338.82 158.93,338.82 C159.07,338.82 159.22,338.82 159.36,338.82 C159.51,338.82 159.65,338.82 159.8,338.82 C159.94,338.82 160.08,338.82 160.23,338.82 C160.38,338.82 160.52,338.82 160.66,338.82 C160.81,338.82 160.95,338.82 161.1,338.82 C161.25,338.82 161.39,338.82 161.53,338.82 C161.68,338.82 161.82,338.82 161.97,338.82 C162.12,338.82 162.26,338.82 162.41,338.82 C162.55,338.82 162.69,338.82 162.84,338.82 C162.99,338.82 163.13,338.82 163.28,338.82 C163.42,338.82 163.56,338.82 163.71,338.82 C163.86,338.82 164,338.82 164.15,338.82 C164.29,338.82 164.44,338.82 164.58,338.82 C164.73,338.82 164.87,338.82 165.02,338.82 C165.16,338.82 165.31,338.82 165.45,338.82 C165.59,338.82 165.74,338.82 165.88,338.82 C166.03,338.82 166.17,338.82 166.32,338.82 C166.47,338.82 166.61,338.82 166.75,338.82 C166.9,338.82 167.04,338.82 167.19,338.82 C167.34,338.82 167.48,338.82 167.62,338.82 C167.77,338.82 167.91,338.82 168.06,338.82 C168.21,338.82 168.35,338.82 168.5,338.82 C168.64,338.82 168.78,338.83 168.93,338.82 C169.08,338.8 169.22,338.8 169.37,338.74 C169.51,338.68 169.66,338.56 169.8,338.48 C169.95,338.39 170.09,338.3 170.24,338.21 C170.38,338.13 170.53,338.04 170.67,337.95 C170.81,337.87 170.96,337.78 171.1,337.69 C171.25,337.6 171.39,337.52 171.54,337.43 C171.69,337.34 171.83,337.25 171.97,337.17 C172.12,337.08 172.26,336.99 172.41,336.9 C172.56,336.82 172.7,336.73 172.84,336.64 C172.99,336.56 173.13,336.47 173.28,336.38 C173.43,336.29 173.57,336.21 173.72,336.12 C173.86,336.03 174,335.94 174.15,335.86 C174.3,335.77 174.44,335.68 174.59,335.59 C174.73,335.51 174.88,335.42 175.02,335.33 C175.17,335.25 175.31,335.16 175.45,335.07 C175.6,334.98 175.74,334.9 175.89,334.81 C176.03,334.72 176.18,334.63 176.32,334.55 C176.47,334.46 176.61,334.37 176.76,334.28 C176.91,334.19 177.05,334.1 177.19,334.01 C177.34,333.92 177.48,333.83 177.63,333.73 C177.78,333.63 177.92,333.54 178.06,333.43 C178.21,333.32 178.35,333.22 178.5,333.09 C178.65,332.96 178.79,332.84 178.94,332.68 C179.08,332.52 179.22,332.35 179.37,332.14 C179.52,331.92 179.66,331.69 179.81,331.39 C179.95,331.1 180.09,330.77 180.24,330.35 C180.39,329.94 180.53,329.47 180.68,328.9 C180.82,328.33 180.97,327.68 181.11,326.93 C181.26,326.18 181.4,325.25 181.55,324.38 C181.69,323.52 181.83,322.61 181.98,321.72 C182.12,320.83 182.27,319.97 182.41,319.05 C182.56,318.13 182.7,317.12 182.85,316.19 C183,315.26 183.14,314.3 183.28,313.49 C183.43,312.68 183.57,311.91 183.72,311.36 C183.87,310.8 184.01,310.36 184.16,310.17 C184.3,309.98 184.44,309.98 184.59,310.21 C184.74,310.44 184.88,310.91 185.03,311.56 C185.17,312.21 185.31,313.11 185.46,314.11 C185.6,315.11 185.75,316.33 185.9,317.58 C186.04,318.82 186.19,320.22 186.33,321.57 C186.47,322.92 186.62,324.4 186.76,325.68 C186.91,326.96 187.05,328.19 187.2,329.26 C187.34,330.32 187.49,331.22 187.63,332.05 C187.78,332.89 187.92,333.63 188.07,334.28 C188.22,334.92 188.36,335.46 188.5,335.93 C188.65,336.39 188.79,336.76 188.94,337.07 C189.09,337.39 189.23,337.62 189.38,337.82 C189.52,338.02 189.66,338.16 189.81,338.28 C189.96,338.39 190.1,338.47 190.25,338.54 C190.39,338.61 190.53,338.64 190.68,338.68 C190.83,338.72 190.97,338.74 191.12,338.75 C191.26,338.77 191.41,338.78 191.55,338.79 C191.69,338.8 191.84,338.8 191.98,338.81 C192.13,338.81 192.28,338.81 192.42,338.81 C192.57,338.81 192.71,338.81 192.85,338.82 C193,338.82 193.14,338.82 193.29,338.82 C193.44,338.82 193.58,338.82 193.72,338.82 C193.87,338.82 194.01,338.82 194.16,338.82 C194.31,338.82 194.45,338.82 194.59,338.82 C194.74,338.82 194.88,338.82 195.03,338.82 C195.18,338.82 195.32,338.82 195.47,338.82 C195.61,338.82 195.75,338.82 195.9,338.82 C196.05,338.82 196.19,338.82 196.33,338.82 C196.48,338.82 196.62,338.82 196.77,338.82 C196.91,338.82 197.06,338.82 197.2,338.82 C197.35,338.82 197.49,338.82 197.64,338.82 C197.78,338.82 197.93,338.82 198.07,338.82 C198.22,338.82 198.36,338.82 198.51,338.82 C198.66,338.82 198.8,338.82 198.94,338.82 C199.09,338.82 199.23,338.82 199.38,338.82 C199.53,338.82 199.67,338.82 199.81,338.82 C199.96,338.82 200.1,338.82 200.25,338.82 C200.4,338.82 200.54,338.82 200.69,338.82 C200.83,338.82 200.97,338.82 201.12,338.82 C201.27,338.82 201.41,338.82 201.56,338.82 C201.7,338.82 201.84,338.82 201.99,338.82 C202.14,338.82 202.28,338.82 202.43,338.82 C202.57,338.82 202.71,338.82 202.86,338.82 C203,338.82 203.15,338.82 203.29,338.82 C203.44,338.82 203.58,338.82 203.73,338.82 C203.88,338.82 204.02,338.82 204.16,338.82 C204.31,338.82 204.53,338.82 204.6,338.82" stroke="#d8436a" fill="none" stroke-width="1.45" /><path d="M152.4,338.31 C152.47,338.31 152.69,338.31 152.84,338.31 C152.98,338.31 153.12,338.31 153.27,338.31 C153.42,338.31 153.56,338.31 153.71,338.31 C153.85,338.31 154,338.31 154.14,338.31 C154.29,338.31 154.43,338.31 154.58,338.31 C154.72,338.31 154.87,338.31 155.01,338.31 C155.15,338.31 155.3,338.31 155.44,338.31 C155.59,338.31 155.73,338.31 155.88,338.31 C156.03,338.31 156.17,338.31 156.31,338.31 C156.46,338.31 156.6,338.31 156.75,338.31 C156.9,338.31 157.04,338.31 157.19,338.31 C157.33,338.31 157.47,338.31 157.62,338.31 C157.77,338.31 157.91,338.31 158.06,338.31 C158.2,338.31 158.34,338.31 158.49,338.31 C158.64,338.31 158.78,338.31 158.93,338.31 C159.07,338.31 159.22,338.31 159.36,338.31 C159.51,338.31 159.65,338.31 159.8,338.31 C159.94,338.31 160.08,338.31 160.23,338.31 C160.38,338.31 160.52,338.31 160.66,338.31 C160.81,338.31 160.95,338.31 161.1,338.31 C161.25,338.31 161.39,338.31 161.53,338.31 C161.68,338.31 161.82,338.31 161.97,338.31 C162.12,338.31 162.26,338.31 162.41,338.31 C162.55,338.31 162.69,338.31 162.84,338.31 C162.99,338.31 163.13,338.31 163.28,338.31 C163.42,338.31 163.56,338.31 163.71,338.31 C163.86,338.31 164,338.31 164.15,338.31 C164.29,338.31 164.44,338.31 164.58,338.31 C164.73,338.31 164.87,338.31 165.02,338.31 C165.16,338.31 165.31,338.31 165.45,338.31 C165.59,338.31 165.74,338.31 165.88,338.31 C166.03,338.31 166.17,338.31 166.32,338.31 C166.47,338.31 166.61,338.31 166.75,338.31 C166.9,338.31 167.04,338.31 167.19,338.31 C167.34,338.31 167.48,338.31 167.62,338.31 C167.77,338.31 167.91,338.31 168.06,338.31 C168.21,338.31 168.35,338.31 168.5,338.31 C168.64,338.31 168.78,338.34 168.93,338.31 C169.08,338.29 169.22,338.28 169.37,338.19 C169.51,338.1 169.66,337.91 169.8,337.78 C169.95,337.64 170.09,337.5 170.24,337.36 C170.38,337.22 170.53,337.09 170.67,336.95 C170.81,336.81 170.96,336.67 171.1,336.53 C171.25,336.4 171.39,336.26 171.54,336.12 C171.69,335.98 171.83,335.84 171.97,335.71 C172.12,335.57 172.26,335.43 172.41,335.29 C172.56,335.15 172.7,335.02 172.84,334.88 C172.99,334.74 173.13,334.6 173.28,334.46 C173.43,334.33 173.57,334.19 173.72,334.05 C173.86,333.91 174,333.77 174.15,333.64 C174.3,333.5 174.44,333.36 174.59,333.22 C174.73,333.08 174.88,332.95 175.02,332.81 C175.17,332.67 175.31,332.53 175.45,332.39 C175.6,332.26 175.74,332.12 175.89,331.98 C176.03,331.84 176.18,331.7 176.32,331.57 C176.47,331.43 176.61,331.29 176.76,331.15 C176.91,331.01 177.05,330.87 177.19,330.74 C177.34,330.6 177.48,330.46 177.63,330.32 C177.78,330.18 177.92,330.04 178.06,329.9 C178.21,329.75 178.35,329.61 178.5,329.46 C178.65,329.32 178.79,329.17 178.94,329.01 C179.08,328.86 179.22,328.7 179.37,328.53 C179.52,328.35 179.66,327.88 179.81,327.98 C179.95,328.07 180.09,328.74 180.24,329.08 C180.39,329.43 180.53,329.76 180.68,330.05 C180.82,330.34 180.97,330.6 181.11,330.82 C181.26,331.03 181.4,331.22 181.55,331.35 C181.69,331.49 181.83,331.58 181.98,331.64 C182.12,331.69 182.27,331.7 182.41,331.7 C182.56,331.69 182.7,331.75 182.85,331.61 C183,331.47 183.14,331.19 183.28,330.86 C183.43,330.52 183.57,329.96 183.72,329.6 C183.87,329.24 184.01,328.91 184.16,328.69 C184.3,328.47 184.44,328.32 184.59,328.27 C184.74,328.23 184.88,328.28 185.03,328.41 C185.17,328.55 185.31,328.79 185.46,329.09 C185.6,329.39 185.75,329.78 185.9,330.2 C186.04,330.61 186.19,331.09 186.33,331.56 C186.47,332.03 186.62,332.54 186.76,333.01 C186.91,333.48 187.05,333.95 187.2,334.37 C187.34,334.8 187.49,335.2 187.63,335.55 C187.78,335.9 187.92,336.21 188.07,336.48 C188.22,336.75 188.36,336.97 188.5,337.17 C188.65,337.36 188.79,337.51 188.94,337.63 C189.09,337.76 189.23,337.85 189.38,337.93 C189.52,338.01 189.66,338.07 189.81,338.11 C189.96,338.16 190.1,338.19 190.25,338.21 C190.39,338.24 190.53,338.25 190.68,338.27 C190.83,338.28 190.97,338.29 191.12,338.29 C191.26,338.3 191.41,338.3 191.55,338.31 C191.69,338.31 191.84,338.31 191.98,338.31 C192.13,338.31 192.28,338.31 192.42,338.31 C192.57,338.31 192.71,338.31 192.85,338.31 C193,338.31 193.14,338.31 193.29,338.31 C193.44,338.31 193.58,338.31 193.72,338.31 C193.87,338.31 194.01,338.31 194.16,338.31 C194.31,338.31 194.45,338.31 194.59,338.31 C194.74,338.31 194.88,338.31 195.03,338.31 C195.18,338.31 195.32,338.31 195.47,338.31 C195.61,338.31 195.75,338.31 195.9,338.31 C196.05,338.31 196.19,338.31 196.33,338.31 C196.48,338.31 196.62,338.31 196.77,338.31 C196.91,338.31 197.06,338.31 197.2,338.31 C197.35,338.31 197.49,338.31 197.64,338.31 C197.78,338.31 197.93,338.31 198.07,338.31 C198.22,338.31 198.36,338.31 198.51,338.31 C198.66,338.31 198.8,338.31 198.94,338.31 C199.09,338.31 199.23,338.31 199.38,338.31 C199.53,338.31 199.67,338.31 199.81,338.31 C199.96,338.31 200.1,338.31 200.25,338.31 C200.4,338.31 200.54,338.31 200.69,338.31 C200.83,338.31 200.97,338.31 201.12,338.31 C201.27,338.31 201.41,338.31 201.56,338.31 C201.7,338.31 201.84,338.31 201.99,338.31 C202.14,338.31 202.28,338.31 202.43,338.31 C202.57,338.31 202.71,338.31 202.86,338.31 C203,338.31 203.15,338.31 203.29,338.31 C203.44,338.31 203.58,338.31 203.73,338.31 C203.88,338.31 204.02,338.31 204.16,338.31 C204.31,338.31 204.53,338.31 204.6,338.31" stroke="#5a4a8a" fill="none" stroke-width="0.5" /><path d="M152.4,338.65 C152.47,338.65 152.69,338.65 152.84,338.65 C152.98,338.65 153.12,338.65 153.27,338.65 C153.42,338.65 153.56,338.65 153.71,338.65 C153.85,338.65 154,338.65 154.14,338.65 C154.29,338.65 154.43,338.65 154.58,338.65 C154.72,338.65 154.87,338.65 155.01,338.65 C155.15,338.65 155.3,338.65 155.44,338.65 C155.59,338.65 155.73,338.65 155.88,338.65 C156.03,338.65 156.17,338.65 156.31,338.65 C156.46,338.65 156.6,338.65 156.75,338.65 C156.9,338.65 157.04,338.65 157.19,338.65 C157.33,338.65 157.47,338.65 157.62,338.65 C157.77,338.65 157.91,338.65 158.06,338.65 C158.2,338.65 158.34,338.65 158.49,338.65 C158.64,338.65 158.78,338.65 158.93,338.65 C159.07,338.65 159.22,338.65 159.36,338.65 C159.51,338.65 159.65,338.65 159.8,338.65 C159.94,338.65 160.08,338.65 160.23,338.65 C160.38,338.65 160.52,338.65 160.66,338.65 C160.81,338.65 160.95,338.65 161.1,338.65 C161.25,338.65 161.39,338.65 161.53,338.65 C161.68,338.65 161.82,338.65 161.97,338.65 C162.12,338.65 162.26,338.65 162.41,338.65 C162.55,338.65 162.69,338.65 162.84,338.65 C162.99,338.65 163.13,338.65 163.28,338.65 C163.42,338.65 163.56,338.65 163.71,338.65 C163.86,338.65 164,338.65 164.15,338.65 C164.29,338.65 164.44,338.65 164.58,338.65 C164.73,338.65 164.87,338.65 165.02,338.65 C165.16,338.65 165.31,338.65 165.45,338.65 C165.59,338.65 165.74,338.65 165.88,338.65 C166.03,338.65 166.17,338.65 166.32,338.65 C166.47,338.65 166.61,338.65 166.75,338.65 C166.9,338.65 167.04,338.65 167.19,338.65 C167.34,338.65 167.48,338.65 167.62,338.65 C167.77,338.65 167.91,338.65 168.06,338.65 C168.21,338.65 168.35,338.65 168.5,338.65 C168.64,338.65 168.78,338.67 168.93,338.65 C169.08,338.63 169.22,338.62 169.37,338.55 C169.51,338.48 169.66,338.34 169.8,338.23 C169.95,338.12 170.09,338.01 170.24,337.9 C170.38,337.79 170.53,337.69 170.67,337.58 C170.81,337.47 170.96,337.36 171.1,337.25 C171.25,337.14 171.39,337.04 171.54,336.93 C171.69,336.82 171.83,336.71 171.97,336.6 C172.12,336.49 172.26,336.39 172.41,336.28 C172.56,336.17 172.7,336.06 172.84,335.95 C172.99,335.84 173.13,335.74 173.28,335.63 C173.43,335.52 173.57,335.41 173.72,335.3 C173.86,335.19 174,335.09 174.15,334.98 C174.3,334.87 174.44,334.76 174.59,334.65 C174.73,334.54 174.88,334.44 175.02,334.33 C175.17,334.22 175.31,334.11 175.45,334 C175.6,333.89 175.74,333.79 175.89,333.68 C176.03,333.57 176.18,333.46 176.32,333.35 C176.47,333.24 176.61,333.14 176.76,333.03 C176.91,332.92 177.05,332.81 177.19,332.7 C177.34,332.59 177.48,332.49 177.63,332.38 C177.78,332.27 177.92,332.16 178.06,332.05 C178.21,331.94 178.35,331.83 178.5,331.71 C178.65,331.6 178.79,331.49 178.94,331.36 C179.08,331.24 179.22,331.12 179.37,330.99 C179.52,330.85 179.66,330.72 179.81,330.56 C179.95,330.4 180.09,330.11 180.24,330.03 C180.39,329.95 180.53,329.98 180.68,330.07 C180.82,330.17 180.97,330.47 181.11,330.6 C181.26,330.73 181.4,330.81 181.55,330.83 C181.69,330.84 181.83,330.8 181.98,330.7 C182.12,330.59 182.27,330.42 182.41,330.21 C182.56,330.01 182.7,329.73 182.85,329.47 C183,329.21 183.14,328.89 183.28,328.65 C183.43,328.4 183.57,328.33 183.72,328 C183.87,327.68 184.01,327.02 184.16,326.7 C184.3,326.39 184.44,326.17 184.59,326.1 C184.74,326.03 184.88,326.11 185.03,326.31 C185.17,326.5 185.31,326.86 185.46,327.28 C185.6,327.7 185.75,328.27 185.9,328.84 C186.04,329.42 186.19,330.09 186.33,330.73 C186.47,331.37 186.62,332.05 186.76,332.66 C186.91,333.27 187.05,333.88 187.2,334.41 C187.34,334.94 187.49,335.42 187.63,335.84 C187.78,336.25 187.92,336.6 188.07,336.9 C188.22,337.2 188.36,337.44 188.5,337.63 C188.65,337.83 188.79,337.97 188.94,338.1 C189.09,338.22 189.23,338.3 189.38,338.37 C189.52,338.44 189.66,338.48 189.81,338.52 C189.96,338.55 190.1,338.57 190.25,338.59 C190.39,338.61 190.53,338.62 190.68,338.62 C190.83,338.63 190.97,338.64 191.12,338.64 C191.26,338.64 191.41,338.64 191.55,338.65 C191.69,338.65 191.84,338.65 191.98,338.65 C192.13,338.65 192.28,338.65 192.42,338.65 C192.57,338.65 192.71,338.65 192.85,338.65 C193,338.65 193.14,338.65 193.29,338.65 C193.44,338.65 193.58,338.65 193.72,338.65 C193.87,338.65 194.01,338.65 194.16,338.65 C194.31,338.65 194.45,338.65 194.59,338.65 C194.74,338.65 194.88,338.65 195.03,338.65 C195.18,338.65 195.32,338.65 195.47,338.65 C195.61,338.65 195.75,338.65 195.9,338.65 C196.05,338.65 196.19,338.65 196.33,338.65 C196.48,338.65 196.62,338.65 196.77,338.65 C196.91,338.65 197.06,338.65 197.2,338.65 C197.35,338.65 197.49,338.65 197.64,338.65 C197.78,338.65 197.93,338.65 198.07,338.65 C198.22,338.65 198.36,338.65 198.51,338.65 C198.66,338.65 198.8,338.65 198.94,338.65 C199.09,338.65 199.23,338.65 199.38,338.65 C199.53,338.65 199.67,338.65 199.81,338.65 C199.96,338.65 200.1,338.65 200.25,338.65 C200.4,338.65 200.54,338.65 200.69,338.65 C200.83,338.65 200.97,338.65 201.12,338.65 C201.27,338.65 201.41,338.65 201.56,338.65 C201.7,338.65 201.84,338.65 201.99,338.65 C202.14,338.65 202.28,338.65 202.43,338.65 C202.57,338.65 202.71,338.65 202.86,338.65 C203,338.65 203.15,338.65 203.29,338.65 C203.44,338.65 203.58,338.65 203.73,338.65 C203.88,338.65 204.02,338.65 204.16,338.65 C204.31,338.65 204.53,338.65 204.6,338.65" stroke="#3e3472" fill="none" stroke-width="0.8" /><line x1="156" y1="348.3" x2="163" y2="348.3" stroke="#b8b8b8" stroke-width="1" /><line x1="169" y1="348.3" x2="193.5" y2="348.3" stroke="#b4dcae" stroke-width="1.1" /><line x1="195.75" y1="348.2" x2="197.47" y2="348.2" stroke="#e8b0b0" stroke-width="0.8" /></g><rect x="152.3" y="286" width="52" height="65.5" fill="none" stroke="#555" stroke-width="0.65" /><text x="150.2" y="291.2" font-size="3.5" text-anchor="middle" font-weight="normal" fill="#333" transform="rotate(-90 150.2 291.2)" stroke="#333" stroke-width="0.04" style="">0.3</text><text x="150.2" y="307.97" font-size="3.5" text-anchor="middle" font-weight="normal" fill="#333" transform="rotate(-90 150.2 307.97)" stroke="#333" stroke-width="0.04" style="">0.2</text><text x="150.2" y="324.73" font-size="3.5" text-anchor="middle" font-weight="normal" fill="#333" transform="rotate(-90 150.2 324.73)" stroke="#333" stroke-width="0.04" style="">0.1</text><text x="150.2" y="341.5" font-size="3.5" text-anchor="middle" font-weight="normal" fill="#333" transform="rotate(-90 150.2 341.5)" stroke="#333" stroke-width="0.04" style="">0</text><text x="142.8" y="318.5" font-size="4.69" text-anchor="middle" font-weight="bold" fill="#222" transform="rotate(-90 142.8 318.5)" textLength="37" lengthAdjust="spacingAndGlyphs" style="">Spike-EEG PLV</text><text x="152.4" y="358.3" font-size="3.7" text-anchor="middle" font-weight="normal" fill="#333" stroke="#333" stroke-width="0.04" style="">0.5</text><text x="165.45" y="358.3" font-size="3.7" text-anchor="middle" font-weight="normal" fill="#333" stroke="#333" stroke-width="0.04" style="">2</text><text x="178.5" y="358.3" font-size="3.7" text-anchor="middle" font-weight="normal" fill="#333" stroke="#333" stroke-width="0.04" style="">8</text><text x="191.55" y="358.3" font-size="3.7" text-anchor="middle" font-weight="normal" fill="#333" stroke="#333" stroke-width="0.04" style="">32</text><text x="204.6" y="358.3" font-size="3.7" text-anchor="middle" font-weight="normal" fill="#333" stroke="#333" stroke-width="0.04" style="">128</text><text x="178.2" y="365.1" font-size="4.24" text-anchor="middle" font-weight="bold" fill="#222" textLength="31.6" lengthAdjust="spacingAndGlyphs" style="">EEG Frequency</text><rect x="155.5" y="290.5" width="24.5" height="11.8" fill="#fff" stroke="#aaa" stroke-width="0.4" opacity="0.9"/><line x1="156.5" y1="294.5" x2="160" y2="294.5" stroke="#555" stroke-width="0.6" /><text x="161" y="296" font-size="3.56" text-anchor="start" font-weight="normal" fill="#333" textLength="11" lengthAdjust="spacingAndGlyphs" stroke="#333" stroke-width="0.03" style="">p&lt;0.05</text><line x1="156.5" y1="299.3" x2="160" y2="299.3" stroke="#90c890" stroke-width="0.6" /><text x="161" y="300.8" font-size="3.57" text-anchor="start" font-weight="normal" fill="#4a8a4a" textLength="13" lengthAdjust="spacingAndGlyphs" stroke="#4a8a4a" stroke-width="0.03" style="">p&lt;0.001</text><rect x="220.5" y="285.7" width="35.6" height="45.3" fill="#fff" stroke="#d6d6d6" stroke-width="0.5" /><text x="218.3" y="299.4" font-size="3.6" text-anchor="middle" font-weight="normal" fill="#333" stroke="#333" stroke-width="0.04" style="">0</text><text x="217.6" y="329.4" font-size="3.6" text-anchor="middle" font-weight="normal" fill="#333" stroke="#333" stroke-width="0.04" style="">-1</text><text x="213.8" y="311.8" font-size="4.01" text-anchor="middle" font-weight="bold" fill="#222" transform="rotate(-90 213.8 311.8)" textLength="19.6" lengthAdjust="spacingAndGlyphs" style="">Amplitude</text><path d="M221.3,298.2L226,298.3L229.8,299.2L231.5,308L233,328L234.6,310L236,292L237,289.3L238.5,290.5L241,293.5L245,295.5L250,296.5L256,297" stroke="#f6c8c8" fill="none" stroke-width="2.4" stroke-linejoin="round" opacity="0.9"/><path d="M221.3,298.2L226,298.3L230,299.5L231.8,310L233.2,328.5L235,316L237.3,300L239.2,292.5L240.8,291L243,291.8L247,293.5L252,295L256,296" stroke="#cfd0f0" fill="none" stroke-width="2.4" stroke-linejoin="round" opacity="0.9"/><path d="M221.3,298.2 C221.77,298.21 225.15,298.2 226,298.3 C226.85,298.4 229.25,298.23 229.8,299.2 C230.35,300.17 231.18,305.12 231.5,308 C231.82,310.88 232.69,327.8 233,328 C233.31,328.2 234.3,313.6 234.6,310 C234.9,306.4 235.76,294.07 236,292 C236.24,289.93 236.75,289.45 237,289.3 C237.25,289.15 238.1,290.08 238.5,290.5 C238.9,290.92 240.35,293 241,293.5 C241.65,294 244.1,295.2 245,295.5 C245.9,295.8 248.9,296.35 250,296.5 C251.1,296.65 255.4,296.95 256,297" stroke="#e05060" fill="none" stroke-width="0.7" /><path d="M221.3,298.2 C221.77,298.21 225.13,298.17 226,298.3 C226.87,298.43 229.42,298.33 230,299.5 C230.58,300.67 231.48,307.1 231.8,310 C232.12,312.9 232.88,327.9 233.2,328.5 C233.52,329.1 234.59,318.85 235,316 C235.41,313.15 236.88,302.35 237.3,300 C237.72,297.65 238.85,293.4 239.2,292.5 C239.55,291.6 240.42,291.07 240.8,291 C241.18,290.93 242.38,291.55 243,291.8 C243.62,292.05 246.1,293.18 247,293.5 C247.9,293.82 251.1,294.75 252,295 C252.9,295.25 255.6,295.9 256,296" stroke="#4a4aa0" fill="none" stroke-width="0.7" /><rect x="210" y="337.6" width="62.2" height="12.9" fill="#fff" stroke="#888" stroke-width="0.45" /><line x1="212.5" y1="341.6" x2="220.5" y2="341.6" stroke="#f0a0a0" stroke-width="0.8" /><text x="222.8" y="343.2" font-size="4.55" text-anchor="start" font-weight="normal" fill="#222" textLength="48" lengthAdjust="spacingAndGlyphs" style="">Narrow-spiking neurons</text><line x1="212.5" y1="346.8" x2="220.5" y2="346.8" stroke="#6a70c0" stroke-width="0.8" /><text x="222.8" y="348.4" font-size="4.5" text-anchor="start" font-weight="normal" fill="#222" textLength="45" lengthAdjust="spacingAndGlyphs" style="">Broad-spiking neurons</text><text x="273.2" y="282.6" font-size="7" text-anchor="start" font-weight="bold" fill="#111" stroke="#111" stroke-width="0.2" style="">H</text><rect x="279.2" y="293.9" width="63" height="50.7" fill="url(#skin)" stroke="none" stroke-width="0.5" /><g clip-path="url(#hclip)"><path d="M286,297 Q312,292 336,297 L336,301 Q312,297 288,302 Z" stroke="none" fill="#d6d0c0" stroke-width="0.5" filter="url(#bl05)"/><path d="M292,300 Q312,296 330,300" stroke="#c8bc98" fill="none" stroke-width="1" filter="url(#bl05)" opacity="0.8"/><polygon points="330,293.9 342.2,293.9 342.2,334 339,318 334,304" fill="#a4a494" stroke="none" stroke-width="0.5" filter="url(#bl05)"/><path d="M333,296 Q338,308 341,326" stroke="#d0d0c4" fill="none" stroke-width="0.8" opacity="0.7"/><polygon points="279.2,293.9 285.5,293.9 282,302 279.2,309" fill="#2e2e2e" stroke="none" stroke-width="0.5" filter="url(#bl05)"/><polygon points="279.2,309 282,302 285.5,293.9 293,293.9 287,302 282,314 279.2,322" fill="#9c9c94" stroke="none" stroke-width="0.5" filter="url(#bl05)"/><path d="M280,318 Q284,304 291,295" stroke="#e0e0d8" fill="none" stroke-width="0.7" opacity="0.8"/><path d="M279.5,326 Q283,312 289,302" stroke="#c4c4bc" fill="none" stroke-width="0.6" opacity="0.7"/><line x1="335.26" y1="304.66" x2="331.79" y2="299.08" stroke="#6a6a68" stroke-width="0.49" opacity="0.55"/><line x1="334.38" y1="316.01" x2="331.39" y2="311" stroke="#d0ccc8" stroke-width="0.31" opacity="0.55"/><line x1="333.73" y1="325.28" x2="331.2" y2="316.1" stroke="#8a8a86" stroke-width="0.37" opacity="0.55"/><line x1="286.39" y1="306.77" x2="291.27" y2="299.42" stroke="#e4e0dc" stroke-width="0.32" opacity="0.55"/><line x1="286.5" y1="311.38" x2="292.32" y2="304.92" stroke="#8a8a86" stroke-width="0.45" opacity="0.55"/><line x1="332.95" y1="312.6" x2="331.71" y2="303.7" stroke="#e4e0dc" stroke-width="0.35" opacity="0.55"/><line x1="341.2" y1="331.11" x2="339.14" y2="323.46" stroke="#6a6a68" stroke-width="0.45" opacity="0.55"/><line x1="337.31" y1="303.89" x2="334.89" y2="295.2" stroke="#6a6a68" stroke-width="0.3" opacity="0.55"/><line x1="332.52" y1="318.77" x2="329.28" y2="309.97" stroke="#6a6a68" stroke-width="0.32" opacity="0.55"/><line x1="341.05" y1="320.78" x2="339.88" y2="313.42" stroke="#e4e0dc" stroke-width="0.33" opacity="0.55"/><line x1="332.17" y1="313.48" x2="330.11" y2="304.4" stroke="#6a6a68" stroke-width="0.42" opacity="0.55"/><line x1="285.52" y1="319.78" x2="291.54" y2="313.62" stroke="#e4e0dc" stroke-width="0.35" opacity="0.55"/><line x1="336.66" y1="327.11" x2="332.74" y2="321.59" stroke="#8a8a86" stroke-width="0.35" opacity="0.55"/><line x1="289.97" y1="304.2" x2="293.57" y2="297.9" stroke="#8a8a86" stroke-width="0.43" opacity="0.55"/><line x1="341.67" y1="316.76" x2="338.47" y2="309.67" stroke="#d0ccc8" stroke-width="0.42" opacity="0.55"/><line x1="336.71" y1="310.94" x2="334.09" y2="304.5" stroke="#8a8a86" stroke-width="0.3" opacity="0.55"/><line x1="279.95" y1="319.11" x2="282.98" y2="309.16" stroke="#e4e0dc" stroke-width="0.4" opacity="0.55"/><line x1="339.79" y1="301.95" x2="335.94" y2="295.03" stroke="#6a6a68" stroke-width="0.48" opacity="0.55"/><line x1="340.18" y1="310.48" x2="336.55" y2="302.23" stroke="#d0ccc8" stroke-width="0.36" opacity="0.55"/><line x1="332.86" y1="314.85" x2="330.92" y2="308.88" stroke="#d0ccc8" stroke-width="0.49" opacity="0.55"/><line x1="342" y1="313.21" x2="338.75" y2="304.3" stroke="#6a6a68" stroke-width="0.4" opacity="0.55"/><line x1="290.36" y1="309.84" x2="296.34" y2="300.47" stroke="#d0ccc8" stroke-width="0.48" opacity="0.55"/><line x1="280.79" y1="303.58" x2="287.51" y2="293.4" stroke="#8a8a86" stroke-width="0.48" opacity="0.55"/><line x1="337.61" y1="320.38" x2="336.44" y2="315.27" stroke="#e4e0dc" stroke-width="0.43" opacity="0.55"/><line x1="334.71" y1="301.79" x2="330.8" y2="296.49" stroke="#6a6a68" stroke-width="0.32" opacity="0.55"/><line x1="332.79" y1="312.34" x2="329.93" y2="303.09" stroke="#e4e0dc" stroke-width="0.39" opacity="0.55"/><line x1="336.96" y1="324.38" x2="334.36" y2="315.28" stroke="#6a6a68" stroke-width="0.3" opacity="0.55"/><line x1="289.26" y1="301" x2="295.4" y2="290.15" stroke="#d0ccc8" stroke-width="0.43" opacity="0.55"/><line x1="337.43" y1="320.06" x2="336.22" y2="312.31" stroke="#6a6a68" stroke-width="0.4" opacity="0.55"/><line x1="288.72" y1="305.3" x2="293.99" y2="294.88" stroke="#d0ccc8" stroke-width="0.39" opacity="0.55"/><line x1="286.72" y1="324.43" x2="291.26" y2="314.48" stroke="#8a8a86" stroke-width="0.38" opacity="0.55"/><line x1="289.33" y1="317.06" x2="294.91" y2="307.2" stroke="#d0ccc8" stroke-width="0.37" opacity="0.55"/><line x1="333.91" y1="314.02" x2="330.56" y2="307.96" stroke="#d0ccc8" stroke-width="0.46" opacity="0.55"/><line x1="335.45" y1="301.24" x2="333.65" y2="291.46" stroke="#d0ccc8" stroke-width="0.36" opacity="0.55"/><line x1="291.28" y1="312.48" x2="297.01" y2="304.8" stroke="#8a8a86" stroke-width="0.49" opacity="0.55"/><line x1="337.82" y1="311.55" x2="335.25" y2="304.44" stroke="#6a6a68" stroke-width="0.48" opacity="0.55"/><line x1="338.87" y1="324.97" x2="336.24" y2="317.61" stroke="#6a6a68" stroke-width="0.48" opacity="0.55"/><line x1="290.34" y1="311.17" x2="296.35" y2="305.02" stroke="#d0ccc8" stroke-width="0.49" opacity="0.55"/><line x1="290.38" y1="317.7" x2="293.47" y2="311.24" stroke="#d0ccc8" stroke-width="0.48" opacity="0.55"/><line x1="282.82" y1="325.92" x2="286.26" y2="317.79" stroke="#e4e0dc" stroke-width="0.39" opacity="0.55"/><circle cx="334.76" cy="306.95" r="0.45" fill="#d8ccd0" stroke="none" stroke-width="0.5" opacity="0.7"/><circle cx="302.58" cy="339.81" r="0.56" fill="#a4949c" stroke="none" stroke-width="0.5" opacity="0.7"/><circle cx="297.59" cy="333.14" r="0.35" fill="#d8ccd0" stroke="none" stroke-width="0.5" opacity="0.7"/><circle cx="322.74" cy="319.87" r="0.33" fill="#a4949c" stroke="none" stroke-width="0.5" opacity="0.7"/><circle cx="307.6" cy="308.42" r="0.49" fill="#b0a0a8" stroke="none" stroke-width="0.5" opacity="0.7"/><circle cx="336.51" cy="339.13" r="0.33" fill="#d8ccd0" stroke="none" stroke-width="0.5" opacity="0.7"/><circle cx="334.71" cy="303.81" r="0.32" fill="#d8ccd0" stroke="none" stroke-width="0.5" opacity="0.7"/><circle cx="310.73" cy="311.67" r="0.46" fill="#b0a0a8" stroke="none" stroke-width="0.5" opacity="0.7"/><circle cx="312.06" cy="321.77" r="0.48" fill="#a4949c" stroke="none" stroke-width="0.5" opacity="0.7"/><circle cx="284.8" cy="327.86" r="0.47" fill="#a4949c" stroke="none" stroke-width="0.5" opacity="0.7"/><circle cx="324" cy="307.52" r="0.47" fill="#b0a0a8" stroke="none" stroke-width="0.5" opacity="0.7"/><circle cx="298.81" cy="339.82" r="0.32" fill="#a4949c" stroke="none" stroke-width="0.5" opacity="0.7"/><circle cx="313.5" cy="321.92" r="0.41" fill="#d8ccd0" stroke="none" stroke-width="0.5" opacity="0.7"/><circle cx="323.21" cy="320.13" r="0.37" fill="#a4949c" stroke="none" stroke-width="0.5" opacity="0.7"/><circle cx="310.33" cy="330.75" r="0.52" fill="#a4949c" stroke="none" stroke-width="0.5" opacity="0.7"/><circle cx="309.34" cy="315.53" r="0.34" fill="#d8ccd0" stroke="none" stroke-width="0.5" opacity="0.7"/><circle cx="296.31" cy="333.86" r="0.45" fill="#d8ccd0" stroke="none" stroke-width="0.5" opacity="0.7"/><circle cx="325.48" cy="313.85" r="0.44" fill="#a4949c" stroke="none" stroke-width="0.5" opacity="0.7"/><circle cx="300.93" cy="337.9" r="0.31" fill="#b0a0a8" stroke="none" stroke-width="0.5" opacity="0.7"/><circle cx="338.16" cy="323.39" r="0.53" fill="#a4949c" stroke="none" stroke-width="0.5" opacity="0.7"/><circle cx="330.08" cy="301.06" r="0.56" fill="#b0a0a8" stroke="none" stroke-width="0.5" opacity="0.7"/><circle cx="324.61" cy="328.36" r="0.43" fill="#a4949c" stroke="none" stroke-width="0.5" opacity="0.7"/><circle cx="310.75" cy="332.79" r="0.39" fill="#b0a0a8" stroke="none" stroke-width="0.5" opacity="0.7"/><circle cx="335.72" cy="341.52" r="0.49" fill="#d8ccd0" stroke="none" stroke-width="0.5" opacity="0.7"/><circle cx="316.89" cy="320.86" r="0.58" fill="#d8ccd0" stroke="none" stroke-width="0.5" opacity="0.7"/><circle cx="337.1" cy="306.37" r="0.31" fill="#b0a0a8" stroke="none" stroke-width="0.5" opacity="0.7"/><circle cx="285.84" cy="300.67" r="0.41" fill="#d8ccd0" stroke="none" stroke-width="0.5" opacity="0.7"/><circle cx="297.52" cy="319.65" r="0.33" fill="#d8ccd0" stroke="none" stroke-width="0.5" opacity="0.7"/><circle cx="307.1" cy="337.9" r="0.46" fill="#a4949c" stroke="none" stroke-width="0.5" opacity="0.7"/><circle cx="337.46" cy="319.68" r="0.34" fill="#d8ccd0" stroke="none" stroke-width="0.5" opacity="0.7"/><circle cx="301" cy="318" r="0.6" fill="#6a6a78" stroke="none" stroke-width="0.5" opacity="0.7"/><circle cx="310" cy="317.5" r="0.6" fill="#6a6a78" stroke="none" stroke-width="0.5" opacity="0.7"/><circle cx="323" cy="316" r="0.6" fill="#6a6a78" stroke="none" stroke-width="0.5" opacity="0.7"/><circle cx="305" cy="336" r="0.6" fill="#6a6a78" stroke="none" stroke-width="0.5" opacity="0.7"/><circle cx="318" cy="340" r="0.6" fill="#6a6a78" stroke="none" stroke-width="0.5" opacity="0.7"/><circle cx="309" cy="338.5" r="0.6" fill="#6a6a78" stroke="none" stroke-width="0.5" opacity="0.7"/><circle cx="313" cy="330" r="0.6" fill="#6a6a78" stroke="none" stroke-width="0.5" opacity="0.7"/><circle cx="297.5" cy="318.5" r="0.9" fill="#6e8480" stroke="none" stroke-width="0.5" filter="url(#bl05)" opacity="0.85"/><circle cx="298" cy="323" r="0.7" fill="#6e8480" stroke="none" stroke-width="0.5" filter="url(#bl05)" opacity="0.85"/><circle cx="297" cy="328" r="0.9" fill="#6e8480" stroke="none" stroke-width="0.5" filter="url(#bl05)" opacity="0.85"/><circle cx="298.5" cy="333" r="0.8" fill="#6e8480" stroke="none" stroke-width="0.5" filter="url(#bl05)" opacity="0.85"/><circle cx="299" cy="337" r="0.9" fill="#6e8480" stroke="none" stroke-width="0.5" filter="url(#bl05)" opacity="0.85"/><path d="M284.5,320 L294,319.5 Q295.5,328 294.5,336.5 L285.5,337 Q283,328 284.5,320 Z" stroke="#c47878" fill="#ddd2d2" stroke-width="0.5" opacity="0.85"/><circle cx="320.6" cy="327" r="4.6" fill="#d83c20" stroke="none" stroke-width="0.5" filter="url(#bl05)"/><circle cx="320.4" cy="327.2" r="2.6" fill="none" stroke="#7a1010" stroke-width="1.1" /><circle cx="321.2" cy="326.8" r="0.9" fill="#f06a3a" stroke="none" stroke-width="0.5" /><path d="M329.5,319.5 L337,319.8 Q339,320.5 338.7,323 L338.5,331.5 Q338.3,334 336,334.2 L329.5,334 Q327.3,333.5 327.5,331 L327.6,322 Q327.8,319.6 329.5,319.5 Z" stroke="#6262b4" fill="#e6e6ea" stroke-width="0.65" /></g><line x1="367.9" y1="296.7" x2="367.9" y2="336.7" stroke="#333" stroke-width="0.5" /><line x1="367.9" y1="336.7" x2="395.4" y2="336.7" stroke="#333" stroke-width="0.5" /><text x="365.3" y="299.3" font-size="3.2" text-anchor="middle" font-weight="normal" fill="#333" stroke="#333" stroke-width="0.03" style="">4</text><line x1="367.1" y1="298.2" x2="367.9" y2="298.2" stroke="#444" stroke-width="0.3" /><text x="365.3" y="309.1" font-size="3.2" text-anchor="middle" font-weight="normal" fill="#333" stroke="#333" stroke-width="0.03" style="">3</text><line x1="367.1" y1="308" x2="367.9" y2="308" stroke="#444" stroke-width="0.3" /><text x="365.3" y="319.3" font-size="3.2" text-anchor="middle" font-weight="normal" fill="#333" stroke="#333" stroke-width="0.03" style="">2</text><line x1="367.1" y1="318.2" x2="367.9" y2="318.2" stroke="#444" stroke-width="0.3" /><text x="365.3" y="329.1" font-size="3.2" text-anchor="middle" font-weight="normal" fill="#333" stroke="#333" stroke-width="0.03" style="">1</text><line x1="367.1" y1="328" x2="367.9" y2="328" stroke="#444" stroke-width="0.3" /><line x1="369.7" y1="298.2" x2="374.3" y2="298.2" stroke="#333" stroke-width="0.6" /><text x="375.5" y="299.5" font-size="4.37" text-anchor="start" font-weight="normal" fill="#222" textLength="8.5" lengthAdjust="spacingAndGlyphs" stroke="#222" stroke-width="0.03" style="">Skin</text><line x1="369.7" y1="303.7" x2="374.3" y2="303.7" stroke="#e07070" stroke-width="0.6" /><text x="375.5" y="305" font-size="4.38" text-anchor="start" font-weight="normal" fill="#222" textLength="9.5" lengthAdjust="spacingAndGlyphs" stroke="#222" stroke-width="0.03" style="">Skull</text><line x1="368.2" y1="336.4" x2="394.4" y2="300.2" stroke="#e05a5a" stroke-width="0.7" /><line x1="394.4" y1="297.3" x2="394.4" y2="303.5" stroke="#e05a5a" stroke-width="0.5" /><line x1="382.8" y1="316" x2="382.8" y2="320" stroke="#e05a5a" stroke-width="0.4" /><line x1="368.2" y1="336.4" x2="394.4" y2="331.3" stroke="#8a8a8a" stroke-width="0.6" /><line x1="394.4" y1="330" x2="394.4" y2="332.5" stroke="#8a8a8a" stroke-width="0.4" /><text x="369.6" y="341.6" font-size="3" text-anchor="middle" font-weight="normal" fill="#333" transform="rotate(-90 369.6 341.6)" stroke="#333" stroke-width="0.03" style="">10</text><text x="374.4" y="341.6" font-size="3" text-anchor="middle" font-weight="normal" fill="#333" transform="rotate(-90 374.4 341.6)" stroke="#333" stroke-width="0.03" style="">50</text><text x="384.2" y="341.6" font-size="3" text-anchor="middle" font-weight="normal" fill="#333" transform="rotate(-90 384.2 341.6)" stroke="#333" stroke-width="0.03" style="">100</text><text x="395.4" y="341.6" font-size="3" text-anchor="middle" font-weight="normal" fill="#333" transform="rotate(-90 395.4 341.6)" stroke="#333" stroke-width="0.03" style="">200</text><text x="376.5" y="351.6" font-size="3.52" text-anchor="middle" font-weight="normal" fill="#222" textLength="13.5" lengthAdjust="spacingAndGlyphs" stroke="#222" stroke-width="0.03" style="">Stimulus</text><text x="376.3" y="356.6" font-size="3.5" text-anchor="middle" font-weight="normal" fill="#222" textLength="20.5" lengthAdjust="spacingAndGlyphs" stroke="#222" stroke-width="0.03" style="">intensity (µA)</text><text x="355.3" y="315.5" font-size="3.9" text-anchor="middle" font-weight="normal" fill="#222" transform="rotate(-90 355.3 315.5)" textLength="21" lengthAdjust="spacingAndGlyphs" stroke="#222" stroke-width="0.03" style="">Electric field</text><text x="359.4" y="315.5" font-size="3.65" text-anchor="middle" font-weight="normal" fill="#333" transform="rotate(-90 359.4 315.5)" textLength="15" lengthAdjust="spacingAndGlyphs" style="">(mV/mm)</text></svg></body></html>
